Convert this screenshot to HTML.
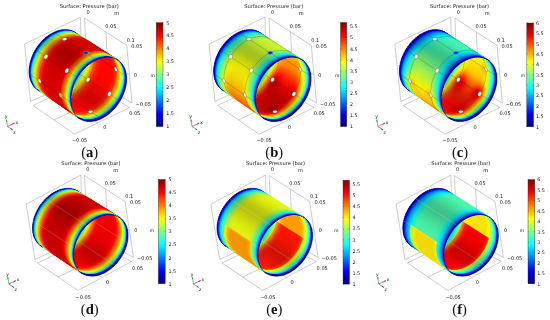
<!DOCTYPE html>
<html><head><meta charset="utf-8"><title>Pressure</title>
<style>html,body{margin:0;padding:0;background:#fff;overflow:hidden}svg{display:block;filter:blur(0.3px)}</style></head>
<body><svg width="550" height="320" viewBox="0 0 550 320">
<rect width="550" height="320" fill="#fff"/>
<defs><clipPath id="c1"><path d="M126.7 78.9L126.6 76.3L126.3 73.8L125.7 71.4L125 69.1L124.1 67L122.9 65L121.6 63.3L120.1 61.7L118.5 60.3L116.7 59.2L114.8 58.3L112.7 57.6L110.5 57.2L108.3 57L105.9 57.1L103.6 57.4L101.1 57.9L98.7 58.7L96.3 59.7L93.8 61L91.5 62.4L89.1 64.1L86.9 65.9L84.7 68L82.6 70.2L80.7 72.5L78.9 75L77.3 77.6L75.8 80.2L74.5 83L73.3 85.7L72.4 88.6L71.7 91.4L71.1 94.2L70.8 96.9L70.7 99.7L70.8 102.3L71.1 104.8L71.7 107.2L72.4 109.5L73.3 111.6L74.5 113.6L75.8 115.3L77.3 116.9L78.9 118.3L80.7 119.4L82.6 120.3L84.7 121L86.9 121.4L89.1 121.6L91.5 121.5L93.8 121.2L96.3 120.7L98.7 119.9L101.1 118.9L103.6 117.6L105.9 116.2L108.3 114.5L110.5 112.6L112.7 110.6L114.8 108.4L116.7 106.1L118.5 103.6L120.1 101L121.6 98.4L122.9 95.6L124.1 92.8L125 90L125.7 87.2L126.3 84.4L126.6 81.6Z"/></clipPath><linearGradient id="g2" gradientUnits="userSpaceOnUse" x1="37.9" y1="89.9" x2="80.2" y2="117.4"><stop offset="0" stop-color="#000085"/><stop offset="0.02" stop-color="#0000fb"/><stop offset="0.06" stop-color="#00fcff"/><stop offset="0.08" stop-color="#45ffba"/><stop offset="0.1" stop-color="#84ff7b"/><stop offset="0.14" stop-color="#ebff14"/><stop offset="0.16" stop-color="#ffee00"/><stop offset="0.2" stop-color="#ffa500"/><stop offset="0.3" stop-color="#ff2500"/><stop offset="0.4" stop-color="#ff0500"/><stop offset="0.67" stop-color="#ff0500"/><stop offset="0.74" stop-color="#ff2200"/><stop offset="0.82" stop-color="#ff9700"/><stop offset="0.86" stop-color="#ffe900"/><stop offset="0.88" stop-color="#eaff15"/><stop offset="0.92" stop-color="#71ff8e"/><stop offset="0.94" stop-color="#20ffdf"/><stop offset="0.96" stop-color="#00aaff"/><stop offset="0.98" stop-color="#0010ff"/><stop offset="1" stop-color="#000085"/></linearGradient><linearGradient id="g3" href="#g2" x1="39.3" y1="90.7" x2="36.9" y2="95.5"/><linearGradient id="g4" href="#g2" x1="40.8" y1="91.4" x2="37.1" y2="101"/><linearGradient id="g5" href="#g2" x1="42.4" y1="92" x2="38.4" y2="106.4"/><linearGradient id="g6" href="#g2" x1="44.1" y1="92.3" x2="40.6" y2="111.5"/><linearGradient id="g7" href="#g2" x1="45.8" y1="92.6" x2="43.7" y2="116.1"/><linearGradient id="g8" href="#g2" x1="47.6" y1="92.6" x2="47.6" y2="120"/><linearGradient id="g9" href="#g2" x1="49.4" y1="92.6" x2="51.9" y2="123.2"/><linearGradient id="g10" href="#g2" x1="51.3" y1="92.4" x2="56.7" y2="125.7"/><linearGradient id="g11" href="#g2" x1="53.2" y1="92" x2="61.6" y2="127.5"/><linearGradient id="g12" href="#g2" x1="55" y1="91.4" x2="66.8" y2="128.5"/><linearGradient id="g13" href="#g2" x1="56.9" y1="90.8" x2="71.9" y2="128.9"/><linearGradient id="g14" href="#g2" x1="58.8" y1="90" x2="77" y2="128.7"/><linearGradient id="g15" href="#g2" x1="60.7" y1="89" x2="82" y2="127.9"/><linearGradient id="g16" href="#g2" x1="62.6" y1="87.9" x2="86.8" y2="126.7"/><linearGradient id="g17" href="#g2" x1="64.4" y1="86.7" x2="91.4" y2="124.9"/><linearGradient id="g18" href="#g2" x1="66.2" y1="85.4" x2="95.9" y2="122.8"/><linearGradient id="g19" href="#g2" x1="68" y1="83.9" x2="100.1" y2="120.3"/><linearGradient id="g20" href="#g2" x1="69.7" y1="82.3" x2="104" y2="117.5"/><linearGradient id="g21" href="#g2" x1="71.3" y1="80.7" x2="107.8" y2="114.4"/><linearGradient id="g22" href="#g2" x1="72.8" y1="78.9" x2="111.2" y2="111"/><linearGradient id="g23" href="#g2" x1="74.3" y1="77" x2="114.4" y2="107.4"/><linearGradient id="g24" href="#g2" x1="75.7" y1="75.1" x2="117.3" y2="103.5"/><linearGradient id="g25" href="#g2" x1="77" y1="73.1" x2="119.9" y2="99.5"/><linearGradient id="g26" href="#g2" x1="78.2" y1="71" x2="122.3" y2="95.3"/><linearGradient id="g27" href="#g2" x1="79.3" y1="68.9" x2="124.3" y2="90.9"/><linearGradient id="g28" href="#g2" x1="80.3" y1="66.8" x2="125.9" y2="86.3"/><linearGradient id="g29" href="#g2" x1="81.1" y1="64.6" x2="127.3" y2="81.7"/><linearGradient id="g30" href="#g2" x1="81.9" y1="62.4" x2="128.2" y2="76.9"/><linearGradient id="g31" href="#g2" x1="82.5" y1="60.3" x2="128.8" y2="72"/><linearGradient id="g32" href="#g2" x1="83" y1="58.1" x2="128.9" y2="67.1"/><linearGradient id="g33" href="#g2" x1="83.4" y1="55.9" x2="128.6" y2="62.2"/><linearGradient id="g34" href="#g2" x1="83.6" y1="53.7" x2="127.8" y2="57.3"/><linearGradient id="g35" href="#g2" x1="83.7" y1="51.6" x2="126.5" y2="52.4"/><linearGradient id="g36" href="#g2" x1="83.7" y1="49.6" x2="124.6" y2="47.7"/><linearGradient id="g37" href="#g2" x1="83.5" y1="47.6" x2="122.2" y2="43.1"/><linearGradient id="g38" href="#g2" x1="83.2" y1="45.6" x2="119.1" y2="38.9"/><linearGradient id="g39" href="#g2" x1="82.8" y1="43.8" x2="115.5" y2="35.1"/><linearGradient id="g40" href="#g2" x1="82.2" y1="42" x2="111.3" y2="31.7"/><linearGradient id="g41" href="#g2" x1="81.6" y1="40.3" x2="106.5" y2="29.1"/><linearGradient id="g42" href="#g2" x1="80.8" y1="38.7" x2="101.4" y2="27.2"/><linearGradient id="g43" href="#g2" x1="79.9" y1="37.2" x2="95.9" y2="26.2"/><linearGradient id="g44" href="#g2" x1="78.8" y1="35.8" x2="90.4" y2="26.2"/><linearGradient id="g45" href="#g2" x1="77.7" y1="34.6" x2="84.9" y2="27.3"/><linearGradient id="g46" href="#g2" x1="76.5" y1="33.5" x2="79.8" y2="29.3"/><linearGradient id="g47" href="#g2" x1="75.1" y1="32.5" x2="117.4" y2="59.9"/><linearGradient id="g48" gradientUnits="userSpaceOnUse" x1="96.6" y1="46.1" x2="58.5" y2="105"><stop offset="0" stop-color="#000" stop-opacity="0"/><stop offset="0.042" stop-color="#000" stop-opacity="0"/><stop offset="0.083" stop-color="#000" stop-opacity="0"/><stop offset="0.125" stop-color="#000" stop-opacity="0"/><stop offset="0.167" stop-color="#000" stop-opacity="0"/><stop offset="0.208" stop-color="#000" stop-opacity="0.001"/><stop offset="0.25" stop-color="#000" stop-opacity="0.002"/><stop offset="0.292" stop-color="#000" stop-opacity="0.007"/><stop offset="0.333" stop-color="#000" stop-opacity="0.013"/><stop offset="0.375" stop-color="#000" stop-opacity="0.023"/><stop offset="0.417" stop-color="#000" stop-opacity="0.044"/><stop offset="0.458" stop-color="#000" stop-opacity="0.067"/><stop offset="0.5" stop-color="#000" stop-opacity="0.095"/><stop offset="0.542" stop-color="#000" stop-opacity="0.125"/><stop offset="0.583" stop-color="#000" stop-opacity="0.154"/><stop offset="0.625" stop-color="#000" stop-opacity="0.182"/><stop offset="0.667" stop-color="#000" stop-opacity="0.19"/><stop offset="0.708" stop-color="#000" stop-opacity="0.185"/><stop offset="0.75" stop-color="#000" stop-opacity="0.16"/><stop offset="0.792" stop-color="#000" stop-opacity="0.122"/><stop offset="0.833" stop-color="#000" stop-opacity="0.082"/><stop offset="0.875" stop-color="#000" stop-opacity="0.048"/><stop offset="0.917" stop-color="#000" stop-opacity="0.014"/><stop offset="0.958" stop-color="#000" stop-opacity="0"/><stop offset="1" stop-color="#000" stop-opacity="0"/></linearGradient><linearGradient id="g49" gradientUnits="userSpaceOnUse" x1="74.7" y1="32.3" x2="117" y2="59.7"><stop offset="0" stop-color="#000085"/><stop offset="0.02" stop-color="#0001ff"/><stop offset="0.04" stop-color="#0087ff"/><stop offset="0.06" stop-color="#0cfff3"/><stop offset="0.1" stop-color="#99ff66"/><stop offset="0.14" stop-color="#fffa00"/><stop offset="0.2" stop-color="#ff8800"/><stop offset="0.22" stop-color="#ff6b00"/><stop offset="0.3" stop-color="#ff0300"/><stop offset="0.33" stop-color="#f40000"/><stop offset="0.4" stop-color="#e00000"/><stop offset="0.67" stop-color="#e00000"/><stop offset="0.74" stop-color="#ff0000"/><stop offset="0.82" stop-color="#ff7900"/><stop offset="0.88" stop-color="#fffb00"/><stop offset="0.92" stop-color="#85ff7a"/><stop offset="0.94" stop-color="#31ffce"/><stop offset="0.96" stop-color="#00b6ff"/><stop offset="0.98" stop-color="#0016ff"/><stop offset="1" stop-color="#000085"/></linearGradient><linearGradient id="g50" href="#g49" x1="73.3" y1="31.5" x2="70.6" y2="36.9"/><linearGradient id="g51" href="#g49" x1="71.8" y1="30.8" x2="67.9" y2="41"/><linearGradient id="g52" href="#g49" x1="70.2" y1="30.3" x2="66.1" y2="45.3"/><linearGradient id="g53" href="#g49" x1="68.5" y1="29.9" x2="65.2" y2="49.6"/><linearGradient id="g54" href="#g49" x1="66.8" y1="29.7" x2="64.9" y2="53.7"/><linearGradient id="g55" href="#g49" x1="65" y1="29.7" x2="65.2" y2="57.4"/><linearGradient id="g56" href="#g49" x1="63.2" y1="29.7" x2="66" y2="60.7"/><linearGradient id="g57" href="#g49" x1="61.4" y1="30" x2="67" y2="63.6"/><linearGradient id="g58" href="#g49" x1="59.5" y1="30.4" x2="68.2" y2="66"/><linearGradient id="g59" gradientUnits="userSpaceOnUse" x1="57.6" y1="30.9" x2="69.6" y2="68.1"><stop offset="0" stop-color="#000085"/><stop offset="0.02" stop-color="#0001ff"/><stop offset="0.04" stop-color="#0087ff"/><stop offset="0.06" stop-color="#0cfff3"/><stop offset="0.1" stop-color="#99ff66"/><stop offset="0.14" stop-color="#fffa00"/><stop offset="0.2" stop-color="#ff8800"/><stop offset="0.22" stop-color="#ff6b00"/><stop offset="0.3" stop-color="#ff0300"/><stop offset="0.33" stop-color="#f40000"/><stop offset="0.4" stop-color="#e00000"/><stop offset="0.67" stop-color="#e00000"/><stop offset="0.74" stop-color="#ff0800"/><stop offset="0.82" stop-color="#ff7900"/><stop offset="0.88" stop-color="#fffb00"/><stop offset="0.92" stop-color="#85ff7a"/><stop offset="0.94" stop-color="#31ffce"/><stop offset="0.96" stop-color="#00b6ff"/><stop offset="0.98" stop-color="#0016ff"/><stop offset="1" stop-color="#000085"/></linearGradient><linearGradient id="g60" gradientUnits="userSpaceOnUse" x1="55.7" y1="31.6" x2="70.9" y2="69.8"><stop offset="0" stop-color="#000085"/><stop offset="0.02" stop-color="#0001ff"/><stop offset="0.04" stop-color="#0087ff"/><stop offset="0.06" stop-color="#0cfff3"/><stop offset="0.1" stop-color="#99ff66"/><stop offset="0.14" stop-color="#fffa00"/><stop offset="0.2" stop-color="#ff8800"/><stop offset="0.22" stop-color="#ff6b00"/><stop offset="0.3" stop-color="#ff0300"/><stop offset="0.33" stop-color="#f40000"/><stop offset="0.4" stop-color="#e00000"/><stop offset="0.67" stop-color="#e10000"/><stop offset="0.7" stop-color="#ff0000"/><stop offset="0.72" stop-color="#ff3900"/><stop offset="0.74" stop-color="#ff8000"/><stop offset="0.76" stop-color="#ff9e00"/><stop offset="0.78" stop-color="#ff7f00"/><stop offset="0.8" stop-color="#ff6d00"/><stop offset="0.82" stop-color="#ff7c00"/><stop offset="0.88" stop-color="#fffb00"/><stop offset="0.92" stop-color="#85ff7a"/><stop offset="0.94" stop-color="#31ffce"/><stop offset="0.96" stop-color="#00b6ff"/><stop offset="0.98" stop-color="#0016ff"/><stop offset="1" stop-color="#000085"/></linearGradient><linearGradient id="g61" gradientUnits="userSpaceOnUse" x1="53.8" y1="32.4" x2="72.2" y2="71.2"><stop offset="0" stop-color="#000085"/><stop offset="0.02" stop-color="#0001ff"/><stop offset="0.04" stop-color="#0087ff"/><stop offset="0.06" stop-color="#0cfff3"/><stop offset="0.1" stop-color="#99ff66"/><stop offset="0.14" stop-color="#fffa00"/><stop offset="0.2" stop-color="#ff8800"/><stop offset="0.22" stop-color="#ff6b00"/><stop offset="0.3" stop-color="#ff0300"/><stop offset="0.33" stop-color="#f40000"/><stop offset="0.4" stop-color="#e00000"/><stop offset="0.67" stop-color="#e20000"/><stop offset="0.7" stop-color="#ff1500"/><stop offset="0.72" stop-color="#ff8800"/><stop offset="0.74" stop-color="#e7ff18"/><stop offset="0.76" stop-color="#c8ff37"/><stop offset="0.78" stop-color="#ffce00"/><stop offset="0.8" stop-color="#ff8200"/><stop offset="0.82" stop-color="#ff7f00"/><stop offset="0.88" stop-color="#fffb00"/><stop offset="0.92" stop-color="#85ff7a"/><stop offset="0.94" stop-color="#31ffce"/><stop offset="0.96" stop-color="#00b6ff"/><stop offset="0.98" stop-color="#0016ff"/><stop offset="1" stop-color="#000085"/></linearGradient><linearGradient id="g62" gradientUnits="userSpaceOnUse" x1="52" y1="33.4" x2="73.4" y2="72.3"><stop offset="0" stop-color="#000085"/><stop offset="0.02" stop-color="#0001ff"/><stop offset="0.04" stop-color="#0087ff"/><stop offset="0.06" stop-color="#0cfff3"/><stop offset="0.1" stop-color="#99ff66"/><stop offset="0.14" stop-color="#fffa00"/><stop offset="0.2" stop-color="#ff8800"/><stop offset="0.22" stop-color="#ff6b00"/><stop offset="0.3" stop-color="#ff0300"/><stop offset="0.33" stop-color="#f40000"/><stop offset="0.4" stop-color="#e00000"/><stop offset="0.64" stop-color="#e00000"/><stop offset="0.67" stop-color="#e10000"/><stop offset="0.7" stop-color="#f90000"/><stop offset="0.72" stop-color="#ff2400"/><stop offset="0.74" stop-color="#ff5700"/><stop offset="0.76" stop-color="#ff7500"/><stop offset="0.8" stop-color="#ff6700"/><stop offset="0.82" stop-color="#ff7b00"/><stop offset="0.88" stop-color="#fffb00"/><stop offset="0.92" stop-color="#85ff7a"/><stop offset="0.94" stop-color="#31ffce"/><stop offset="0.96" stop-color="#00b6ff"/><stop offset="0.98" stop-color="#0016ff"/><stop offset="1" stop-color="#000085"/></linearGradient><linearGradient id="g63" gradientUnits="userSpaceOnUse" x1="50.1" y1="34.4" x2="74.5" y2="73.2"><stop offset="0" stop-color="#000085"/><stop offset="0.02" stop-color="#0001ff"/><stop offset="0.04" stop-color="#0087ff"/><stop offset="0.06" stop-color="#0cfff3"/><stop offset="0.1" stop-color="#99ff66"/><stop offset="0.14" stop-color="#fffa00"/><stop offset="0.2" stop-color="#ff8800"/><stop offset="0.22" stop-color="#ff6b00"/><stop offset="0.3" stop-color="#ff0300"/><stop offset="0.33" stop-color="#f40000"/><stop offset="0.4" stop-color="#e00000"/><stop offset="0.67" stop-color="#e00000"/><stop offset="0.74" stop-color="#ff0400"/><stop offset="0.82" stop-color="#ff7900"/><stop offset="0.88" stop-color="#fffb00"/><stop offset="0.92" stop-color="#85ff7a"/><stop offset="0.94" stop-color="#31ffce"/><stop offset="0.96" stop-color="#00b6ff"/><stop offset="0.98" stop-color="#0016ff"/><stop offset="1" stop-color="#000085"/></linearGradient><linearGradient id="g64" href="#g49" x1="48.3" y1="35.7" x2="75.4" y2="73.9"/><linearGradient id="g65" href="#g49" x1="46.5" y1="37" x2="76.3" y2="74.4"/><linearGradient id="g66" href="#g49" x1="44.8" y1="38.5" x2="77" y2="74.8"/><linearGradient id="g67" href="#g49" x1="43.1" y1="40" x2="77.5" y2="75.2"/><linearGradient id="g68" href="#g49" x1="41.5" y1="41.7" x2="78" y2="75.4"/><linearGradient id="g69" href="#g49" x1="39.9" y1="43.4" x2="78.3" y2="75.5"/><linearGradient id="g70" href="#g49" x1="38.5" y1="45.3" x2="78.6" y2="75.6"/><linearGradient id="g71" href="#g49" x1="37.1" y1="47.2" x2="78.7" y2="75.6"/><linearGradient id="g72" href="#g49" x1="35.8" y1="49.2" x2="78.7" y2="75.6"/><linearGradient id="g73" href="#g49" x1="34.6" y1="51.2" x2="78.7" y2="75.5"/><linearGradient id="g74" href="#g49" x1="33.5" y1="53.3" x2="78.5" y2="75.3"/><linearGradient id="g75" href="#g49" x1="32.6" y1="55.5" x2="78.2" y2="75"/><linearGradient id="g76" href="#g49" x1="31.7" y1="57.6" x2="77.8" y2="74.7"/><linearGradient id="g77" href="#g49" x1="30.9" y1="59.8" x2="77.3" y2="74.3"/><linearGradient id="g78" href="#g49" x1="30.3" y1="62" x2="76.6" y2="73.9"/><linearGradient id="g79" href="#g49" x1="29.8" y1="64.1" x2="75.8" y2="73.3"/><linearGradient id="g80" href="#g49" x1="29.5" y1="66.3" x2="74.7" y2="72.7"/><linearGradient id="g81" href="#g49" x1="29.2" y1="68.4" x2="73.5" y2="72.1"/><linearGradient id="g82" gradientUnits="userSpaceOnUse" x1="29.1" y1="70.5" x2="72" y2="71.5"><stop offset="0" stop-color="#000085"/><stop offset="0.02" stop-color="#0001ff"/><stop offset="0.04" stop-color="#0087ff"/><stop offset="0.06" stop-color="#0cfff3"/><stop offset="0.1" stop-color="#99ff66"/><stop offset="0.14" stop-color="#fffa00"/><stop offset="0.2" stop-color="#ff8800"/><stop offset="0.22" stop-color="#ff6b00"/><stop offset="0.3" stop-color="#ff0300"/><stop offset="0.33" stop-color="#f40000"/><stop offset="0.4" stop-color="#e00000"/><stop offset="0.67" stop-color="#e10000"/><stop offset="0.72" stop-color="#ff0100"/><stop offset="0.74" stop-color="#ff1200"/><stop offset="0.82" stop-color="#ff7a00"/><stop offset="0.88" stop-color="#fffb00"/><stop offset="0.92" stop-color="#85ff7a"/><stop offset="0.94" stop-color="#31ffce"/><stop offset="0.96" stop-color="#00b6ff"/><stop offset="0.98" stop-color="#0016ff"/><stop offset="1" stop-color="#000085"/></linearGradient><linearGradient id="g83" gradientUnits="userSpaceOnUse" x1="29.1" y1="72.6" x2="70.2" y2="70.9"><stop offset="0" stop-color="#000085"/><stop offset="0.02" stop-color="#0001ff"/><stop offset="0.04" stop-color="#0087ff"/><stop offset="0.06" stop-color="#0cfff3"/><stop offset="0.1" stop-color="#99ff66"/><stop offset="0.14" stop-color="#fffa00"/><stop offset="0.2" stop-color="#ff8800"/><stop offset="0.22" stop-color="#ff6b00"/><stop offset="0.3" stop-color="#ff0300"/><stop offset="0.33" stop-color="#f40000"/><stop offset="0.4" stop-color="#e00000"/><stop offset="0.64" stop-color="#e00000"/><stop offset="0.67" stop-color="#e10000"/><stop offset="0.7" stop-color="#ff0500"/><stop offset="0.72" stop-color="#ff4c00"/><stop offset="0.74" stop-color="#ffa300"/><stop offset="0.76" stop-color="#ffc100"/><stop offset="0.78" stop-color="#ff9100"/><stop offset="0.8" stop-color="#ff7200"/><stop offset="0.82" stop-color="#ff7c00"/><stop offset="0.88" stop-color="#fffb00"/><stop offset="0.92" stop-color="#85ff7a"/><stop offset="0.94" stop-color="#31ffce"/><stop offset="0.96" stop-color="#00b6ff"/><stop offset="0.98" stop-color="#0016ff"/><stop offset="1" stop-color="#000085"/></linearGradient><linearGradient id="g84" gradientUnits="userSpaceOnUse" x1="29.3" y1="74.6" x2="68.1" y2="70.3"><stop offset="0" stop-color="#000085"/><stop offset="0.02" stop-color="#0001ff"/><stop offset="0.04" stop-color="#0087ff"/><stop offset="0.06" stop-color="#0cfff3"/><stop offset="0.1" stop-color="#99ff66"/><stop offset="0.14" stop-color="#fffa00"/><stop offset="0.2" stop-color="#ff8800"/><stop offset="0.22" stop-color="#ff6b00"/><stop offset="0.3" stop-color="#ff0300"/><stop offset="0.33" stop-color="#f40000"/><stop offset="0.4" stop-color="#e00000"/><stop offset="0.64" stop-color="#e00000"/><stop offset="0.67" stop-color="#e20000"/><stop offset="0.7" stop-color="#ff0b00"/><stop offset="0.72" stop-color="#ff6000"/><stop offset="0.74" stop-color="#ffcb00"/><stop offset="0.76" stop-color="#ffe900"/><stop offset="0.78" stop-color="#ffa600"/><stop offset="0.8" stop-color="#ff7700"/><stop offset="0.82" stop-color="#ff7d00"/><stop offset="0.88" stop-color="#fffb00"/><stop offset="0.92" stop-color="#85ff7a"/><stop offset="0.94" stop-color="#31ffce"/><stop offset="0.96" stop-color="#00b6ff"/><stop offset="0.98" stop-color="#0016ff"/><stop offset="1" stop-color="#000085"/></linearGradient><linearGradient id="g85" gradientUnits="userSpaceOnUse" x1="29.6" y1="76.5" x2="65.7" y2="70"><stop offset="0" stop-color="#000085"/><stop offset="0.02" stop-color="#0001ff"/><stop offset="0.04" stop-color="#0087ff"/><stop offset="0.06" stop-color="#0cfff3"/><stop offset="0.1" stop-color="#99ff66"/><stop offset="0.14" stop-color="#fffa00"/><stop offset="0.2" stop-color="#ff8800"/><stop offset="0.22" stop-color="#ff6b00"/><stop offset="0.3" stop-color="#ff0300"/><stop offset="0.33" stop-color="#f40000"/><stop offset="0.4" stop-color="#e00000"/><stop offset="0.67" stop-color="#e10000"/><stop offset="0.7" stop-color="#f20000"/><stop offset="0.72" stop-color="#ff0a00"/><stop offset="0.76" stop-color="#ff4200"/><stop offset="0.8" stop-color="#ff6000"/><stop offset="0.82" stop-color="#ff7a00"/><stop offset="0.88" stop-color="#fffb00"/><stop offset="0.92" stop-color="#85ff7a"/><stop offset="0.94" stop-color="#31ffce"/><stop offset="0.96" stop-color="#00b6ff"/><stop offset="0.98" stop-color="#0016ff"/><stop offset="1" stop-color="#000085"/></linearGradient><linearGradient id="g86" gradientUnits="userSpaceOnUse" x1="30" y1="78.4" x2="63" y2="69.8"><stop offset="0" stop-color="#000085"/><stop offset="0.02" stop-color="#0001ff"/><stop offset="0.04" stop-color="#0087ff"/><stop offset="0.06" stop-color="#0cfff3"/><stop offset="0.1" stop-color="#99ff66"/><stop offset="0.14" stop-color="#fffa00"/><stop offset="0.2" stop-color="#ff8800"/><stop offset="0.22" stop-color="#ff6b00"/><stop offset="0.3" stop-color="#ff0300"/><stop offset="0.33" stop-color="#f40000"/><stop offset="0.4" stop-color="#e00000"/><stop offset="0.67" stop-color="#e00000"/><stop offset="0.74" stop-color="#ff0100"/><stop offset="0.82" stop-color="#ff7900"/><stop offset="0.88" stop-color="#fffb00"/><stop offset="0.92" stop-color="#85ff7a"/><stop offset="0.94" stop-color="#31ffce"/><stop offset="0.96" stop-color="#00b6ff"/><stop offset="0.98" stop-color="#0016ff"/><stop offset="1" stop-color="#000085"/></linearGradient><linearGradient id="g87" href="#g49" x1="30.5" y1="80.2" x2="59.9" y2="70.1"/><linearGradient id="g88" href="#g49" x1="31.2" y1="81.9" x2="56.6" y2="70.7"/><linearGradient id="g89" href="#g49" x1="31.9" y1="83.4" x2="53" y2="72"/><linearGradient id="g90" href="#g49" x1="32.8" y1="84.9" x2="49.4" y2="73.9"/><linearGradient id="g91" href="#g49" x1="33.8" y1="86.3" x2="45.9" y2="76.5"/><linearGradient id="g92" href="#g49" x1="35" y1="87.6" x2="42.7" y2="79.9"/><linearGradient id="g93" href="#g49" x1="36.2" y1="88.7" x2="40.1" y2="84"/><linearGradient id="g94" href="#g49" x1="37.5" y1="89.7" x2="79.8" y2="117.1"/><linearGradient id="g95" gradientUnits="userSpaceOnUse" x1="96.6" y1="46.1" x2="58.5" y2="105"><stop offset="0" stop-color="#000" stop-opacity="0.041"/><stop offset="0.042" stop-color="#000" stop-opacity="0.043"/><stop offset="0.083" stop-color="#000" stop-opacity="0.064"/><stop offset="0.125" stop-color="#000" stop-opacity="0.098"/><stop offset="0.167" stop-color="#000" stop-opacity="0.132"/><stop offset="0.208" stop-color="#000" stop-opacity="0.172"/><stop offset="0.25" stop-color="#000" stop-opacity="0.21"/><stop offset="0.292" stop-color="#000" stop-opacity="0.235"/><stop offset="0.333" stop-color="#000" stop-opacity="0.24"/><stop offset="0.375" stop-color="#000" stop-opacity="0.232"/><stop offset="0.417" stop-color="#000" stop-opacity="0.204"/><stop offset="0.458" stop-color="#000" stop-opacity="0.175"/><stop offset="0.5" stop-color="#000" stop-opacity="0.145"/><stop offset="0.542" stop-color="#000" stop-opacity="0.117"/><stop offset="0.583" stop-color="#000" stop-opacity="0.094"/><stop offset="0.625" stop-color="#000" stop-opacity="0.073"/><stop offset="0.667" stop-color="#000" stop-opacity="0.063"/><stop offset="0.708" stop-color="#000" stop-opacity="0.057"/><stop offset="0.75" stop-color="#000" stop-opacity="0.052"/><stop offset="0.792" stop-color="#000" stop-opacity="0.051"/><stop offset="0.833" stop-color="#000" stop-opacity="0.05"/><stop offset="0.875" stop-color="#000" stop-opacity="0.05"/><stop offset="0.917" stop-color="#000" stop-opacity="0.05"/><stop offset="0.958" stop-color="#000" stop-opacity="0.05"/><stop offset="1" stop-color="#000" stop-opacity="0.05"/></linearGradient><linearGradient id="g96" x1="0" y1="0" x2="0" y2="1"><stop offset="0" stop-color="#800000"/><stop offset="0.062" stop-color="#bf0000"/><stop offset="0.125" stop-color="#ff0000"/><stop offset="0.188" stop-color="#ff4000"/><stop offset="0.25" stop-color="#ff8000"/><stop offset="0.312" stop-color="#ffbf00"/><stop offset="0.375" stop-color="#ffff00"/><stop offset="0.438" stop-color="#bfff40"/><stop offset="0.5" stop-color="#80ff80"/><stop offset="0.562" stop-color="#40ffbf"/><stop offset="0.625" stop-color="#00ffff"/><stop offset="0.688" stop-color="#00bfff"/><stop offset="0.75" stop-color="#0080ff"/><stop offset="0.812" stop-color="#0040ff"/><stop offset="0.875" stop-color="#0000ff"/><stop offset="0.938" stop-color="#0000c2"/><stop offset="1" stop-color="#000085"/></linearGradient><clipPath id="c97"><path d="M126.7 78.9L126.6 76.3L126.3 73.8L125.7 71.4L125 69.1L124.1 67L122.9 65L121.6 63.3L120.1 61.7L118.5 60.3L116.7 59.2L114.8 58.3L112.7 57.6L110.5 57.2L108.3 57L105.9 57.1L103.6 57.4L101.1 57.9L98.7 58.7L96.3 59.7L93.8 61L91.5 62.4L89.1 64.1L86.9 65.9L84.7 68L82.6 70.2L80.7 72.5L78.9 75L77.3 77.6L75.8 80.2L74.5 83L73.3 85.7L72.4 88.6L71.7 91.4L71.1 94.2L70.8 96.9L70.7 99.7L70.8 102.3L71.1 104.8L71.7 107.2L72.4 109.5L73.3 111.6L74.5 113.6L75.8 115.3L77.3 116.9L78.9 118.3L80.7 119.4L82.6 120.3L84.7 121L86.9 121.4L89.1 121.6L91.5 121.5L93.8 121.2L96.3 120.7L98.7 119.9L101.1 118.9L103.6 117.6L105.9 116.2L108.3 114.5L110.5 112.6L112.7 110.6L114.8 108.4L116.7 106.1L118.5 103.6L120.1 101L121.6 98.4L122.9 95.6L124.1 92.8L125 90L125.7 87.2L126.3 84.4L126.6 81.6Z"/></clipPath><linearGradient id="g98" gradientUnits="userSpaceOnUse" x1="37.7" y1="89.8" x2="80" y2="117.3"><stop offset="0" stop-color="#000085"/><stop offset="0.02" stop-color="#0000f0"/><stop offset="0.04" stop-color="#0066ff"/><stop offset="0.06" stop-color="#00d8ff"/><stop offset="0.08" stop-color="#1bffe4"/><stop offset="0.1" stop-color="#54ffab"/><stop offset="0.14" stop-color="#b1ff4e"/><stop offset="0.18" stop-color="#f4ff0b"/><stop offset="0.2" stop-color="#ffe900"/><stop offset="0.3" stop-color="#ff7500"/><stop offset="0.4" stop-color="#ff5800"/><stop offset="0.67" stop-color="#ff5800"/><stop offset="0.74" stop-color="#ff7200"/><stop offset="0.82" stop-color="#ffdc00"/><stop offset="0.84" stop-color="#feff01"/><stop offset="0.88" stop-color="#b1ff4e"/><stop offset="0.92" stop-color="#43ffbc"/><stop offset="0.94" stop-color="#00f8ff"/><stop offset="0.96" stop-color="#008eff"/><stop offset="0.98" stop-color="#0003ff"/><stop offset="1" stop-color="#000085"/></linearGradient><linearGradient id="g99" gradientUnits="userSpaceOnUse" x1="38.8" y1="90.5" x2="37.1" y2="93.6"><stop offset="0" stop-color="#000085"/><stop offset="0.02" stop-color="#0000fc"/><stop offset="0.06" stop-color="#00ffff"/><stop offset="0.1" stop-color="#88ff77"/><stop offset="0.14" stop-color="#f0ff0f"/><stop offset="0.16" stop-color="#ffe900"/><stop offset="0.2" stop-color="#ff9f00"/><stop offset="0.3" stop-color="#ff1e00"/><stop offset="0.36" stop-color="#ff0500"/><stop offset="0.4" stop-color="#fc0000"/><stop offset="0.67" stop-color="#fc0000"/><stop offset="0.74" stop-color="#ff1b00"/><stop offset="0.82" stop-color="#ff9000"/><stop offset="0.86" stop-color="#ffe400"/><stop offset="0.88" stop-color="#f0ff0f"/><stop offset="0.92" stop-color="#76ff89"/><stop offset="0.94" stop-color="#24ffdb"/><stop offset="0.96" stop-color="#00acff"/><stop offset="0.98" stop-color="#0011ff"/><stop offset="1" stop-color="#000085"/></linearGradient><linearGradient id="g100" gradientUnits="userSpaceOnUse" x1="39.9" y1="91" x2="36.9" y2="97.8"><stop offset="0" stop-color="#000085"/><stop offset="0.02" stop-color="#0000fd"/><stop offset="0.06" stop-color="#03fffc"/><stop offset="0.1" stop-color="#8cff73"/><stop offset="0.14" stop-color="#f4ff0b"/><stop offset="0.16" stop-color="#ffe400"/><stop offset="0.2" stop-color="#ff9a00"/><stop offset="0.3" stop-color="#ff1800"/><stop offset="0.36" stop-color="#fe0000"/><stop offset="0.4" stop-color="#f60000"/><stop offset="0.67" stop-color="#f60000"/><stop offset="0.74" stop-color="#ff1500"/><stop offset="0.82" stop-color="#ff8c00"/><stop offset="0.86" stop-color="#ffdf00"/><stop offset="0.88" stop-color="#f4ff0b"/><stop offset="0.92" stop-color="#79ff86"/><stop offset="0.94" stop-color="#26ffd9"/><stop offset="0.96" stop-color="#00aeff"/><stop offset="0.98" stop-color="#0012ff"/><stop offset="1" stop-color="#000085"/></linearGradient><linearGradient id="g101" gradientUnits="userSpaceOnUse" x1="41.1" y1="91.5" x2="37.3" y2="102"><stop offset="0" stop-color="#000085"/><stop offset="0.02" stop-color="#0000fe"/><stop offset="0.06" stop-color="#05fffa"/><stop offset="0.1" stop-color="#8fff70"/><stop offset="0.14" stop-color="#f8ff07"/><stop offset="0.2" stop-color="#ff9500"/><stop offset="0.3" stop-color="#ff1200"/><stop offset="0.36" stop-color="#f90000"/><stop offset="0.4" stop-color="#f10000"/><stop offset="0.67" stop-color="#f00000"/><stop offset="0.72" stop-color="#ff0700"/><stop offset="0.74" stop-color="#ff0f00"/><stop offset="0.82" stop-color="#ff8700"/><stop offset="0.86" stop-color="#ffdb00"/><stop offset="0.88" stop-color="#f8ff07"/><stop offset="0.92" stop-color="#7cff83"/><stop offset="0.94" stop-color="#29ffd6"/><stop offset="0.96" stop-color="#00b0ff"/><stop offset="0.98" stop-color="#0013ff"/><stop offset="1" stop-color="#000085"/></linearGradient><linearGradient id="g102" gradientUnits="userSpaceOnUse" x1="42.4" y1="91.9" x2="38.3" y2="106.1"><stop offset="0" stop-color="#000085"/><stop offset="0.02" stop-color="#0000ff"/><stop offset="0.06" stop-color="#07fff8"/><stop offset="0.1" stop-color="#93ff6c"/><stop offset="0.14" stop-color="#fdff02"/><stop offset="0.2" stop-color="#ff9100"/><stop offset="0.22" stop-color="#ff7400"/><stop offset="0.3" stop-color="#ff0d00"/><stop offset="0.33" stop-color="#fe0000"/><stop offset="0.4" stop-color="#eb0000"/><stop offset="0.67" stop-color="#ea0000"/><stop offset="0.72" stop-color="#ff0000"/><stop offset="0.74" stop-color="#ff0900"/><stop offset="0.82" stop-color="#ff8100"/><stop offset="0.86" stop-color="#ffd600"/><stop offset="0.88" stop-color="#fcff03"/><stop offset="0.92" stop-color="#80ff7f"/><stop offset="0.94" stop-color="#2cffd3"/><stop offset="0.96" stop-color="#00b2ff"/><stop offset="0.98" stop-color="#0014ff"/><stop offset="1" stop-color="#000085"/></linearGradient><linearGradient id="g103" gradientUnits="userSpaceOnUse" x1="43.6" y1="92.2" x2="39.9" y2="110.1"><stop offset="0" stop-color="#000085"/><stop offset="0.02" stop-color="#0000ff"/><stop offset="0.04" stop-color="#0086ff"/><stop offset="0.06" stop-color="#0afff5"/><stop offset="0.1" stop-color="#96ff69"/><stop offset="0.14" stop-color="#fffd00"/><stop offset="0.2" stop-color="#ff8c00"/><stop offset="0.22" stop-color="#ff6f00"/><stop offset="0.3" stop-color="#ff0700"/><stop offset="0.33" stop-color="#f90000"/><stop offset="0.4" stop-color="#e50000"/><stop offset="0.67" stop-color="#e40000"/><stop offset="0.74" stop-color="#ff0300"/><stop offset="0.82" stop-color="#ff7c00"/><stop offset="0.88" stop-color="#fffe00"/><stop offset="0.92" stop-color="#83ff7c"/><stop offset="0.94" stop-color="#2effd1"/><stop offset="0.96" stop-color="#00b4ff"/><stop offset="0.98" stop-color="#0015ff"/><stop offset="1" stop-color="#000085"/></linearGradient><linearGradient id="g104" gradientUnits="userSpaceOnUse" x1="44.9" y1="92.5" x2="42" y2="113.8"><stop offset="0" stop-color="#000085"/><stop offset="0.02" stop-color="#0001ff"/><stop offset="0.04" stop-color="#0088ff"/><stop offset="0.06" stop-color="#0cfff3"/><stop offset="0.1" stop-color="#99ff66"/><stop offset="0.14" stop-color="#fff900"/><stop offset="0.2" stop-color="#ff8700"/><stop offset="0.22" stop-color="#ff6a00"/><stop offset="0.3" stop-color="#ff0200"/><stop offset="0.33" stop-color="#f30000"/><stop offset="0.4" stop-color="#df0000"/><stop offset="0.67" stop-color="#dd0000"/><stop offset="0.74" stop-color="#fb0000"/><stop offset="0.82" stop-color="#ff7600"/><stop offset="0.88" stop-color="#fff900"/><stop offset="0.92" stop-color="#86ff79"/><stop offset="0.94" stop-color="#31ffce"/><stop offset="0.96" stop-color="#00b6ff"/><stop offset="0.98" stop-color="#0016ff"/><stop offset="1" stop-color="#000085"/></linearGradient><linearGradient id="g105" gradientUnits="userSpaceOnUse" x1="46.3" y1="92.6" x2="44.6" y2="117.1"><stop offset="0" stop-color="#000085"/><stop offset="0.02" stop-color="#0002ff"/><stop offset="0.04" stop-color="#0089ff"/><stop offset="0.06" stop-color="#0ffff0"/><stop offset="0.1" stop-color="#9dff62"/><stop offset="0.14" stop-color="#fff500"/><stop offset="0.2" stop-color="#ff8200"/><stop offset="0.3" stop-color="#fb0000"/><stop offset="0.4" stop-color="#d90000"/><stop offset="0.67" stop-color="#d60000"/><stop offset="0.74" stop-color="#f40000"/><stop offset="0.76" stop-color="#ff1300"/><stop offset="0.82" stop-color="#ff7000"/><stop offset="0.88" stop-color="#fff500"/><stop offset="0.9" stop-color="#cbff34"/><stop offset="0.92" stop-color="#8aff75"/><stop offset="0.94" stop-color="#34ffcb"/><stop offset="0.96" stop-color="#00b8ff"/><stop offset="0.98" stop-color="#0017ff"/><stop offset="1" stop-color="#000085"/></linearGradient><linearGradient id="g106" gradientUnits="userSpaceOnUse" x1="47.6" y1="92.6" x2="47.6" y2="120.1"><stop offset="0" stop-color="#000085"/><stop offset="0.02" stop-color="#0003ff"/><stop offset="0.04" stop-color="#008bff"/><stop offset="0.06" stop-color="#11ffee"/><stop offset="0.1" stop-color="#a0ff5f"/><stop offset="0.12" stop-color="#d8ff27"/><stop offset="0.14" stop-color="#fff100"/><stop offset="0.2" stop-color="#ff7e00"/><stop offset="0.28" stop-color="#ff1100"/><stop offset="0.3" stop-color="#f60000"/><stop offset="0.4" stop-color="#d40000"/><stop offset="0.67" stop-color="#ce0000"/><stop offset="0.74" stop-color="#eb0000"/><stop offset="0.76" stop-color="#ff0b00"/><stop offset="0.82" stop-color="#ff6900"/><stop offset="0.88" stop-color="#fff000"/><stop offset="0.9" stop-color="#cfff30"/><stop offset="0.92" stop-color="#8eff71"/><stop offset="0.94" stop-color="#37ffc8"/><stop offset="0.96" stop-color="#00baff"/><stop offset="0.98" stop-color="#0018ff"/><stop offset="1" stop-color="#000085"/></linearGradient><linearGradient id="g107" gradientUnits="userSpaceOnUse" x1="49" y1="92.6" x2="50.9" y2="122.6"><stop offset="0" stop-color="#000085"/><stop offset="0.02" stop-color="#0003ff"/><stop offset="0.04" stop-color="#008bff"/><stop offset="0.06" stop-color="#12ffed"/><stop offset="0.1" stop-color="#a1ff5e"/><stop offset="0.12" stop-color="#d8ff27"/><stop offset="0.14" stop-color="#fff000"/><stop offset="0.2" stop-color="#ff7c00"/><stop offset="0.28" stop-color="#ff1000"/><stop offset="0.3" stop-color="#f40000"/><stop offset="0.4" stop-color="#d20000"/><stop offset="0.67" stop-color="#c90000"/><stop offset="0.74" stop-color="#e50000"/><stop offset="0.76" stop-color="#ff0500"/><stop offset="0.82" stop-color="#ff6500"/><stop offset="0.88" stop-color="#ffed00"/><stop offset="0.9" stop-color="#d1ff2e"/><stop offset="0.92" stop-color="#8fff70"/><stop offset="0.94" stop-color="#38ffc7"/><stop offset="0.96" stop-color="#00bbff"/><stop offset="0.98" stop-color="#0018ff"/><stop offset="1" stop-color="#000085"/></linearGradient><linearGradient id="g108" gradientUnits="userSpaceOnUse" x1="50.4" y1="92.5" x2="54.5" y2="124.7"><stop offset="0" stop-color="#000085"/><stop offset="0.02" stop-color="#0003ff"/><stop offset="0.04" stop-color="#008bff"/><stop offset="0.06" stop-color="#12ffed"/><stop offset="0.1" stop-color="#a1ff5e"/><stop offset="0.12" stop-color="#d8ff27"/><stop offset="0.14" stop-color="#fff000"/><stop offset="0.2" stop-color="#ff7c00"/><stop offset="0.28" stop-color="#ff1000"/><stop offset="0.3" stop-color="#f40000"/><stop offset="0.4" stop-color="#d20000"/><stop offset="0.67" stop-color="#c40000"/><stop offset="0.74" stop-color="#df0000"/><stop offset="0.76" stop-color="#fe0000"/><stop offset="0.82" stop-color="#ff6100"/><stop offset="0.88" stop-color="#ffeb00"/><stop offset="0.9" stop-color="#d2ff2d"/><stop offset="0.92" stop-color="#90ff6f"/><stop offset="0.94" stop-color="#39ffc6"/><stop offset="0.96" stop-color="#00bbff"/><stop offset="0.98" stop-color="#0018ff"/><stop offset="1" stop-color="#000085"/></linearGradient><linearGradient id="g109" gradientUnits="userSpaceOnUse" x1="51.9" y1="92.2" x2="58.2" y2="126.4"><stop offset="0" stop-color="#000085"/><stop offset="0.02" stop-color="#0003ff"/><stop offset="0.04" stop-color="#008bff"/><stop offset="0.06" stop-color="#12ffed"/><stop offset="0.1" stop-color="#a1ff5e"/><stop offset="0.12" stop-color="#d8ff27"/><stop offset="0.14" stop-color="#fff000"/><stop offset="0.2" stop-color="#ff7c00"/><stop offset="0.28" stop-color="#ff1000"/><stop offset="0.3" stop-color="#f40000"/><stop offset="0.4" stop-color="#d20000"/><stop offset="0.55" stop-color="#ce0000"/><stop offset="0.67" stop-color="#be0000"/><stop offset="0.74" stop-color="#d80000"/><stop offset="0.76" stop-color="#f70000"/><stop offset="0.82" stop-color="#ff5c00"/><stop offset="0.88" stop-color="#ffe900"/><stop offset="0.9" stop-color="#d4ff2b"/><stop offset="0.92" stop-color="#91ff6e"/><stop offset="0.94" stop-color="#3affc5"/><stop offset="0.96" stop-color="#00bcff"/><stop offset="0.98" stop-color="#0019ff"/><stop offset="1" stop-color="#000085"/></linearGradient><linearGradient id="g110" gradientUnits="userSpaceOnUse" x1="53.3" y1="91.9" x2="62.1" y2="127.6"><stop offset="0" stop-color="#000085"/><stop offset="0.02" stop-color="#0003ff"/><stop offset="0.04" stop-color="#008bff"/><stop offset="0.06" stop-color="#12ffed"/><stop offset="0.1" stop-color="#a1ff5e"/><stop offset="0.12" stop-color="#d8ff27"/><stop offset="0.14" stop-color="#fff000"/><stop offset="0.2" stop-color="#ff7c00"/><stop offset="0.28" stop-color="#ff1000"/><stop offset="0.3" stop-color="#f40000"/><stop offset="0.4" stop-color="#d20000"/><stop offset="0.55" stop-color="#cc0000"/><stop offset="0.67" stop-color="#b80000"/><stop offset="0.74" stop-color="#d00000"/><stop offset="0.76" stop-color="#f00000"/><stop offset="0.78" stop-color="#ff1200"/><stop offset="0.82" stop-color="#ff5600"/><stop offset="0.88" stop-color="#ffe600"/><stop offset="0.9" stop-color="#d6ff29"/><stop offset="0.92" stop-color="#93ff6c"/><stop offset="0.94" stop-color="#3affc5"/><stop offset="0.96" stop-color="#00bcff"/><stop offset="0.98" stop-color="#0019ff"/><stop offset="1" stop-color="#000085"/></linearGradient><linearGradient id="g111" gradientUnits="userSpaceOnUse" x1="54.8" y1="91.5" x2="66" y2="128.4"><stop offset="0" stop-color="#000085"/><stop offset="0.02" stop-color="#0003ff"/><stop offset="0.04" stop-color="#008bff"/><stop offset="0.06" stop-color="#12ffed"/><stop offset="0.1" stop-color="#a1ff5e"/><stop offset="0.12" stop-color="#d8ff27"/><stop offset="0.14" stop-color="#fff000"/><stop offset="0.2" stop-color="#ff7c00"/><stop offset="0.28" stop-color="#ff1000"/><stop offset="0.3" stop-color="#f40000"/><stop offset="0.4" stop-color="#d20000"/><stop offset="0.55" stop-color="#cb0000"/><stop offset="0.67" stop-color="#b20000"/><stop offset="0.74" stop-color="#c80000"/><stop offset="0.76" stop-color="#e80000"/><stop offset="0.78" stop-color="#ff0b00"/><stop offset="0.82" stop-color="#ff5100"/><stop offset="0.88" stop-color="#ffe300"/><stop offset="0.9" stop-color="#d8ff27"/><stop offset="0.92" stop-color="#94ff6b"/><stop offset="0.94" stop-color="#3bffc4"/><stop offset="0.96" stop-color="#00bcff"/><stop offset="0.98" stop-color="#0019ff"/><stop offset="1" stop-color="#000085"/></linearGradient><linearGradient id="g112" gradientUnits="userSpaceOnUse" x1="56.2" y1="91.1" x2="69.9" y2="128.9"><stop offset="0" stop-color="#000085"/><stop offset="0.02" stop-color="#0003ff"/><stop offset="0.04" stop-color="#008bff"/><stop offset="0.06" stop-color="#11ffee"/><stop offset="0.1" stop-color="#a0ff5f"/><stop offset="0.12" stop-color="#d8ff27"/><stop offset="0.14" stop-color="#fff100"/><stop offset="0.2" stop-color="#ff7d00"/><stop offset="0.28" stop-color="#ff1100"/><stop offset="0.3" stop-color="#f50000"/><stop offset="0.4" stop-color="#d30000"/><stop offset="0.55" stop-color="#cb0000"/><stop offset="0.67" stop-color="#ae0000"/><stop offset="0.74" stop-color="#c30000"/><stop offset="0.78" stop-color="#ff0600"/><stop offset="0.82" stop-color="#ff4d00"/><stop offset="0.88" stop-color="#ffe200"/><stop offset="0.9" stop-color="#d9ff26"/><stop offset="0.92" stop-color="#94ff6b"/><stop offset="0.94" stop-color="#3bffc4"/><stop offset="0.96" stop-color="#00bcff"/><stop offset="0.98" stop-color="#0019ff"/><stop offset="1" stop-color="#000085"/></linearGradient><linearGradient id="g113" gradientUnits="userSpaceOnUse" x1="57.7" y1="90.5" x2="73.9" y2="128.9"><stop offset="0" stop-color="#000085"/><stop offset="0.02" stop-color="#0002ff"/><stop offset="0.04" stop-color="#008aff"/><stop offset="0.06" stop-color="#10ffef"/><stop offset="0.1" stop-color="#9fff60"/><stop offset="0.12" stop-color="#d6ff29"/><stop offset="0.14" stop-color="#fff300"/><stop offset="0.2" stop-color="#ff7f00"/><stop offset="0.28" stop-color="#ff1300"/><stop offset="0.3" stop-color="#f80000"/><stop offset="0.4" stop-color="#d60000"/><stop offset="0.55" stop-color="#cd0000"/><stop offset="0.67" stop-color="#ae0000"/><stop offset="0.74" stop-color="#c10000"/><stop offset="0.78" stop-color="#ff0500"/><stop offset="0.82" stop-color="#ff4c00"/><stop offset="0.88" stop-color="#ffe200"/><stop offset="0.9" stop-color="#d8ff27"/><stop offset="0.92" stop-color="#94ff6b"/><stop offset="0.94" stop-color="#3affc5"/><stop offset="0.96" stop-color="#00bcff"/><stop offset="0.98" stop-color="#0018ff"/><stop offset="1" stop-color="#000085"/></linearGradient><linearGradient id="g114" gradientUnits="userSpaceOnUse" x1="59.1" y1="89.8" x2="77.7" y2="128.6"><stop offset="0" stop-color="#000085"/><stop offset="0.02" stop-color="#0002ff"/><stop offset="0.04" stop-color="#008aff"/><stop offset="0.06" stop-color="#0ffff0"/><stop offset="0.1" stop-color="#9dff62"/><stop offset="0.12" stop-color="#d5ff2a"/><stop offset="0.14" stop-color="#fff400"/><stop offset="0.2" stop-color="#ff8100"/><stop offset="0.3" stop-color="#fa0000"/><stop offset="0.4" stop-color="#d80000"/><stop offset="0.55" stop-color="#cf0000"/><stop offset="0.67" stop-color="#af0000"/><stop offset="0.74" stop-color="#c20000"/><stop offset="0.78" stop-color="#ff0600"/><stop offset="0.82" stop-color="#ff4e00"/><stop offset="0.88" stop-color="#ffe400"/><stop offset="0.9" stop-color="#d7ff28"/><stop offset="0.92" stop-color="#92ff6d"/><stop offset="0.94" stop-color="#39ffc6"/><stop offset="0.96" stop-color="#00bbff"/><stop offset="0.98" stop-color="#0018ff"/><stop offset="1" stop-color="#000085"/></linearGradient><linearGradient id="g115" gradientUnits="userSpaceOnUse" x1="60.6" y1="89.1" x2="81.6" y2="128"><stop offset="0" stop-color="#000085"/><stop offset="0.02" stop-color="#0002ff"/><stop offset="0.04" stop-color="#0089ff"/><stop offset="0.06" stop-color="#0ffff0"/><stop offset="0.1" stop-color="#9cff63"/><stop offset="0.14" stop-color="#fff600"/><stop offset="0.2" stop-color="#ff8300"/><stop offset="0.3" stop-color="#fc0000"/><stop offset="0.4" stop-color="#da0000"/><stop offset="0.55" stop-color="#d20000"/><stop offset="0.67" stop-color="#b30000"/><stop offset="0.74" stop-color="#c70000"/><stop offset="0.76" stop-color="#e70000"/><stop offset="0.78" stop-color="#ff0a00"/><stop offset="0.82" stop-color="#ff5100"/><stop offset="0.88" stop-color="#ffe600"/><stop offset="0.9" stop-color="#d5ff2a"/><stop offset="0.92" stop-color="#91ff6e"/><stop offset="0.94" stop-color="#38ffc7"/><stop offset="0.96" stop-color="#00baff"/><stop offset="0.98" stop-color="#0018ff"/><stop offset="1" stop-color="#000085"/></linearGradient><linearGradient id="g116" gradientUnits="userSpaceOnUse" x1="62" y1="88.3" x2="85.3" y2="127.1"><stop offset="0" stop-color="#000085"/><stop offset="0.02" stop-color="#0001ff"/><stop offset="0.04" stop-color="#0088ff"/><stop offset="0.06" stop-color="#0efff1"/><stop offset="0.1" stop-color="#9bff64"/><stop offset="0.14" stop-color="#fff700"/><stop offset="0.2" stop-color="#ff8400"/><stop offset="0.3" stop-color="#fe0000"/><stop offset="0.4" stop-color="#dc0000"/><stop offset="0.55" stop-color="#d50000"/><stop offset="0.67" stop-color="#ba0000"/><stop offset="0.74" stop-color="#cf0000"/><stop offset="0.76" stop-color="#ee0000"/><stop offset="0.78" stop-color="#ff1100"/><stop offset="0.82" stop-color="#ff5700"/><stop offset="0.88" stop-color="#ffe900"/><stop offset="0.9" stop-color="#d2ff2d"/><stop offset="0.92" stop-color="#8fff70"/><stop offset="0.94" stop-color="#37ffc8"/><stop offset="0.96" stop-color="#00b9ff"/><stop offset="0.98" stop-color="#0017ff"/><stop offset="1" stop-color="#000085"/></linearGradient><linearGradient id="g117" gradientUnits="userSpaceOnUse" x1="63.4" y1="87.4" x2="88.9" y2="125.9"><stop offset="0" stop-color="#000085"/><stop offset="0.02" stop-color="#0001ff"/><stop offset="0.04" stop-color="#0088ff"/><stop offset="0.06" stop-color="#0dfff2"/><stop offset="0.1" stop-color="#9aff65"/><stop offset="0.14" stop-color="#fff900"/><stop offset="0.2" stop-color="#ff8600"/><stop offset="0.3" stop-color="#ff0000"/><stop offset="0.4" stop-color="#de0000"/><stop offset="0.55" stop-color="#d80000"/><stop offset="0.67" stop-color="#c20000"/><stop offset="0.74" stop-color="#d80000"/><stop offset="0.76" stop-color="#f70000"/><stop offset="0.82" stop-color="#ff5e00"/><stop offset="0.88" stop-color="#ffed00"/><stop offset="0.9" stop-color="#cfff30"/><stop offset="0.92" stop-color="#8cff73"/><stop offset="0.94" stop-color="#35ffca"/><stop offset="0.96" stop-color="#00b8ff"/><stop offset="0.98" stop-color="#0017ff"/><stop offset="1" stop-color="#000085"/></linearGradient><linearGradient id="g118" gradientUnits="userSpaceOnUse" x1="64.8" y1="86.4" x2="92.4" y2="124.5"><stop offset="0" stop-color="#000085"/><stop offset="0.02" stop-color="#0001ff"/><stop offset="0.04" stop-color="#0087ff"/><stop offset="0.06" stop-color="#0cfff3"/><stop offset="0.1" stop-color="#99ff66"/><stop offset="0.14" stop-color="#fff900"/><stop offset="0.2" stop-color="#ff8600"/><stop offset="0.24" stop-color="#ff4f00"/><stop offset="0.3" stop-color="#ff0100"/><stop offset="0.33" stop-color="#f30000"/><stop offset="0.4" stop-color="#e00000"/><stop offset="0.55" stop-color="#dc0000"/><stop offset="0.67" stop-color="#ca0000"/><stop offset="0.74" stop-color="#e20000"/><stop offset="0.76" stop-color="#ff0200"/><stop offset="0.82" stop-color="#ff6500"/><stop offset="0.88" stop-color="#fff200"/><stop offset="0.9" stop-color="#ccff33"/><stop offset="0.92" stop-color="#8aff75"/><stop offset="0.94" stop-color="#33ffcc"/><stop offset="0.96" stop-color="#00b7ff"/><stop offset="0.98" stop-color="#0016ff"/><stop offset="1" stop-color="#000085"/></linearGradient><linearGradient id="g119" gradientUnits="userSpaceOnUse" x1="66.2" y1="85.4" x2="95.8" y2="122.9"><stop offset="0" stop-color="#000085"/><stop offset="0.02" stop-color="#0001ff"/><stop offset="0.04" stop-color="#0087ff"/><stop offset="0.06" stop-color="#0bfff4"/><stop offset="0.1" stop-color="#98ff67"/><stop offset="0.14" stop-color="#fffa00"/><stop offset="0.2" stop-color="#ff8600"/><stop offset="0.24" stop-color="#ff4e00"/><stop offset="0.3" stop-color="#ff0000"/><stop offset="0.33" stop-color="#f30000"/><stop offset="0.4" stop-color="#e10000"/><stop offset="0.55" stop-color="#e00000"/><stop offset="0.67" stop-color="#d20000"/><stop offset="0.74" stop-color="#eb0000"/><stop offset="0.76" stop-color="#ff0b00"/><stop offset="0.82" stop-color="#ff6c00"/><stop offset="0.88" stop-color="#fff600"/><stop offset="0.92" stop-color="#87ff78"/><stop offset="0.94" stop-color="#31ffce"/><stop offset="0.96" stop-color="#00b6ff"/><stop offset="0.98" stop-color="#0016ff"/><stop offset="1" stop-color="#000085"/></linearGradient><linearGradient id="g120" gradientUnits="userSpaceOnUse" x1="67.5" y1="84.3" x2="99" y2="121"><stop offset="0" stop-color="#000085"/><stop offset="0.02" stop-color="#0000ff"/><stop offset="0.04" stop-color="#0086ff"/><stop offset="0.06" stop-color="#0bfff4"/><stop offset="0.1" stop-color="#98ff67"/><stop offset="0.14" stop-color="#fff900"/><stop offset="0.2" stop-color="#ff8400"/><stop offset="0.3" stop-color="#fd0000"/><stop offset="0.4" stop-color="#e20000"/><stop offset="0.55" stop-color="#e30000"/><stop offset="0.67" stop-color="#d90000"/><stop offset="0.74" stop-color="#f30000"/><stop offset="0.76" stop-color="#ff1300"/><stop offset="0.82" stop-color="#ff7200"/><stop offset="0.88" stop-color="#fff900"/><stop offset="0.92" stop-color="#85ff7a"/><stop offset="0.94" stop-color="#30ffcf"/><stop offset="0.96" stop-color="#00b5ff"/><stop offset="0.98" stop-color="#0015ff"/><stop offset="1" stop-color="#000085"/></linearGradient><linearGradient id="g121" gradientUnits="userSpaceOnUse" x1="68.8" y1="83.1" x2="102.2" y2="118.9"><stop offset="0" stop-color="#000085"/><stop offset="0.02" stop-color="#0000ff"/><stop offset="0.04" stop-color="#0086ff"/><stop offset="0.06" stop-color="#0afff5"/><stop offset="0.1" stop-color="#98ff67"/><stop offset="0.14" stop-color="#fff800"/><stop offset="0.2" stop-color="#ff8100"/><stop offset="0.28" stop-color="#ff1400"/><stop offset="0.3" stop-color="#f90000"/><stop offset="0.4" stop-color="#e10000"/><stop offset="0.55" stop-color="#e60000"/><stop offset="0.67" stop-color="#de0000"/><stop offset="0.74" stop-color="#f80000"/><stop offset="0.82" stop-color="#ff7600"/><stop offset="0.88" stop-color="#fffc00"/><stop offset="0.92" stop-color="#83ff7c"/><stop offset="0.94" stop-color="#2effd1"/><stop offset="0.96" stop-color="#00b4ff"/><stop offset="0.98" stop-color="#0015ff"/><stop offset="1" stop-color="#000085"/></linearGradient><linearGradient id="g122" gradientUnits="userSpaceOnUse" x1="70.1" y1="81.9" x2="105.1" y2="116.7"><stop offset="0" stop-color="#000085"/><stop offset="0.02" stop-color="#0000ff"/><stop offset="0.06" stop-color="#0afff5"/><stop offset="0.1" stop-color="#99ff66"/><stop offset="0.14" stop-color="#fff600"/><stop offset="0.2" stop-color="#ff7c00"/><stop offset="0.22" stop-color="#ff5d00"/><stop offset="0.28" stop-color="#ff0d00"/><stop offset="0.3" stop-color="#f30000"/><stop offset="0.4" stop-color="#e00000"/><stop offset="0.55" stop-color="#e90000"/><stop offset="0.67" stop-color="#e10000"/><stop offset="0.74" stop-color="#fb0000"/><stop offset="0.82" stop-color="#ff7900"/><stop offset="0.88" stop-color="#ffff00"/><stop offset="0.92" stop-color="#81ff7e"/><stop offset="0.94" stop-color="#2cffd3"/><stop offset="0.96" stop-color="#00b3ff"/><stop offset="0.98" stop-color="#0014ff"/><stop offset="1" stop-color="#000085"/></linearGradient><linearGradient id="g123" gradientUnits="userSpaceOnUse" x1="71.4" y1="80.6" x2="107.9" y2="114.2"><stop offset="0" stop-color="#000085"/><stop offset="0.02" stop-color="#0000ff"/><stop offset="0.06" stop-color="#0afff5"/><stop offset="0.1" stop-color="#9aff65"/><stop offset="0.12" stop-color="#d3ff2c"/><stop offset="0.14" stop-color="#fff300"/><stop offset="0.2" stop-color="#ff7400"/><stop offset="0.22" stop-color="#ff5400"/><stop offset="0.28" stop-color="#ff0400"/><stop offset="0.3" stop-color="#eb0000"/><stop offset="0.36" stop-color="#de0000"/><stop offset="0.5" stop-color="#eb0000"/><stop offset="0.67" stop-color="#e20000"/><stop offset="0.74" stop-color="#fb0000"/><stop offset="0.82" stop-color="#ff7a00"/><stop offset="0.86" stop-color="#ffd300"/><stop offset="0.88" stop-color="#feff01"/><stop offset="0.92" stop-color="#80ff7f"/><stop offset="0.94" stop-color="#2bffd4"/><stop offset="0.96" stop-color="#00b2ff"/><stop offset="0.98" stop-color="#0014ff"/><stop offset="1" stop-color="#000085"/></linearGradient><linearGradient id="g124" gradientUnits="userSpaceOnUse" x1="72.6" y1="79.2" x2="110.6" y2="111.6"><stop offset="0" stop-color="#000085"/><stop offset="0.02" stop-color="#0000fe"/><stop offset="0.06" stop-color="#0afff5"/><stop offset="0.1" stop-color="#9bff64"/><stop offset="0.12" stop-color="#d6ff29"/><stop offset="0.14" stop-color="#ffee00"/><stop offset="0.2" stop-color="#ff6b00"/><stop offset="0.26" stop-color="#ff1200"/><stop offset="0.28" stop-color="#f70000"/><stop offset="0.3" stop-color="#e00000"/><stop offset="0.36" stop-color="#d80000"/><stop offset="0.5" stop-color="#ed0000"/><stop offset="0.67" stop-color="#e10000"/><stop offset="0.74" stop-color="#f80000"/><stop offset="0.76" stop-color="#ff1800"/><stop offset="0.82" stop-color="#ff7800"/><stop offset="0.86" stop-color="#ffd300"/><stop offset="0.88" stop-color="#fdff02"/><stop offset="0.92" stop-color="#7eff81"/><stop offset="0.94" stop-color="#2affd5"/><stop offset="0.96" stop-color="#00b1ff"/><stop offset="0.98" stop-color="#0013ff"/><stop offset="1" stop-color="#000085"/></linearGradient><linearGradient id="g125" gradientUnits="userSpaceOnUse" x1="73.7" y1="77.8" x2="113.1" y2="108.9"><stop offset="0" stop-color="#000085"/><stop offset="0.02" stop-color="#0000fe"/><stop offset="0.06" stop-color="#0afff5"/><stop offset="0.1" stop-color="#9dff62"/><stop offset="0.12" stop-color="#d9ff26"/><stop offset="0.14" stop-color="#ffea00"/><stop offset="0.2" stop-color="#ff6100"/><stop offset="0.22" stop-color="#ff3f00"/><stop offset="0.26" stop-color="#ff0600"/><stop offset="0.28" stop-color="#eb0000"/><stop offset="0.3" stop-color="#d40000"/><stop offset="0.36" stop-color="#d10000"/><stop offset="0.5" stop-color="#ef0000"/><stop offset="0.6" stop-color="#ec0000"/><stop offset="0.67" stop-color="#de0000"/><stop offset="0.74" stop-color="#f30000"/><stop offset="0.76" stop-color="#ff1200"/><stop offset="0.82" stop-color="#ff7600"/><stop offset="0.86" stop-color="#ffd200"/><stop offset="0.88" stop-color="#fdff02"/><stop offset="0.92" stop-color="#7dff82"/><stop offset="0.94" stop-color="#29ffd6"/><stop offset="0.96" stop-color="#00b0ff"/><stop offset="0.98" stop-color="#0013ff"/><stop offset="1" stop-color="#000085"/></linearGradient><linearGradient id="g126" gradientUnits="userSpaceOnUse" x1="74.8" y1="76.4" x2="115.5" y2="106.1"><stop offset="0" stop-color="#000085"/><stop offset="0.02" stop-color="#0000fe"/><stop offset="0.06" stop-color="#0afff5"/><stop offset="0.1" stop-color="#9fff60"/><stop offset="0.12" stop-color="#dcff23"/><stop offset="0.14" stop-color="#ffe500"/><stop offset="0.2" stop-color="#ff5900"/><stop offset="0.24" stop-color="#ff1600"/><stop offset="0.26" stop-color="#f90000"/><stop offset="0.3" stop-color="#ca0000"/><stop offset="0.33" stop-color="#c80000"/><stop offset="0.5" stop-color="#f00000"/><stop offset="0.6" stop-color="#ec0000"/><stop offset="0.67" stop-color="#db0000"/><stop offset="0.74" stop-color="#ec0000"/><stop offset="0.76" stop-color="#ff0c00"/><stop offset="0.8" stop-color="#ff4f00"/><stop offset="0.82" stop-color="#ff7200"/><stop offset="0.86" stop-color="#ffd100"/><stop offset="0.88" stop-color="#fdff02"/><stop offset="0.92" stop-color="#7dff82"/><stop offset="0.94" stop-color="#28ffd7"/><stop offset="0.96" stop-color="#00afff"/><stop offset="0.98" stop-color="#0012ff"/><stop offset="1" stop-color="#000085"/></linearGradient><linearGradient id="g127" gradientUnits="userSpaceOnUse" x1="75.9" y1="74.9" x2="117.6" y2="103.1"><stop offset="0" stop-color="#000085"/><stop offset="0.02" stop-color="#0000fe"/><stop offset="0.06" stop-color="#0afff5"/><stop offset="0.1" stop-color="#a0ff5f"/><stop offset="0.12" stop-color="#deff21"/><stop offset="0.14" stop-color="#ffe200"/><stop offset="0.2" stop-color="#ff5200"/><stop offset="0.24" stop-color="#ff0e00"/><stop offset="0.26" stop-color="#f10000"/><stop offset="0.3" stop-color="#c20000"/><stop offset="0.36" stop-color="#c70000"/><stop offset="0.5" stop-color="#f20000"/><stop offset="0.6" stop-color="#ed0000"/><stop offset="0.67" stop-color="#d90000"/><stop offset="0.74" stop-color="#e80000"/><stop offset="0.76" stop-color="#ff0800"/><stop offset="0.78" stop-color="#ff2900"/><stop offset="0.82" stop-color="#ff7000"/><stop offset="0.86" stop-color="#ffd100"/><stop offset="0.88" stop-color="#fdff02"/><stop offset="0.92" stop-color="#7cff83"/><stop offset="0.94" stop-color="#27ffd8"/><stop offset="0.96" stop-color="#00aeff"/><stop offset="0.98" stop-color="#0012ff"/><stop offset="1" stop-color="#000085"/></linearGradient><linearGradient id="g128" gradientUnits="userSpaceOnUse" x1="76.9" y1="73.3" x2="119.7" y2="100"><stop offset="0" stop-color="#000085"/><stop offset="0.02" stop-color="#0000fe"/><stop offset="0.06" stop-color="#09fff6"/><stop offset="0.1" stop-color="#9fff60"/><stop offset="0.12" stop-color="#deff21"/><stop offset="0.14" stop-color="#ffe200"/><stop offset="0.2" stop-color="#ff5000"/><stop offset="0.24" stop-color="#ff0b00"/><stop offset="0.26" stop-color="#ee0000"/><stop offset="0.3" stop-color="#c00000"/><stop offset="0.33" stop-color="#c00000"/><stop offset="0.5" stop-color="#f50000"/><stop offset="0.6" stop-color="#ef0000"/><stop offset="0.67" stop-color="#d90000"/><stop offset="0.74" stop-color="#e60000"/><stop offset="0.76" stop-color="#ff0600"/><stop offset="0.82" stop-color="#ff7000"/><stop offset="0.86" stop-color="#ffd100"/><stop offset="0.88" stop-color="#fcff03"/><stop offset="0.92" stop-color="#7aff85"/><stop offset="0.94" stop-color="#26ffd9"/><stop offset="0.96" stop-color="#00adff"/><stop offset="0.98" stop-color="#0012ff"/><stop offset="1" stop-color="#000085"/></linearGradient><linearGradient id="g129" gradientUnits="userSpaceOnUse" x1="77.8" y1="71.8" x2="121.5" y2="96.8"><stop offset="0" stop-color="#000085"/><stop offset="0.02" stop-color="#0000fd"/><stop offset="0.06" stop-color="#07fff8"/><stop offset="0.1" stop-color="#9cff63"/><stop offset="0.12" stop-color="#daff25"/><stop offset="0.14" stop-color="#ffe600"/><stop offset="0.2" stop-color="#ff5500"/><stop offset="0.24" stop-color="#ff1100"/><stop offset="0.26" stop-color="#f30000"/><stop offset="0.3" stop-color="#c60000"/><stop offset="0.36" stop-color="#cc0000"/><stop offset="0.45" stop-color="#f00000"/><stop offset="0.5" stop-color="#fb0000"/><stop offset="0.6" stop-color="#f50000"/><stop offset="0.67" stop-color="#df0000"/><stop offset="0.74" stop-color="#ec0000"/><stop offset="0.76" stop-color="#ff0c00"/><stop offset="0.8" stop-color="#ff5100"/><stop offset="0.82" stop-color="#ff7500"/><stop offset="0.86" stop-color="#ffd600"/><stop offset="0.88" stop-color="#f8ff07"/><stop offset="0.92" stop-color="#77ff88"/><stop offset="0.94" stop-color="#23ffdc"/><stop offset="0.96" stop-color="#00abff"/><stop offset="0.98" stop-color="#0011ff"/><stop offset="1" stop-color="#000085"/></linearGradient><linearGradient id="g130" gradientUnits="userSpaceOnUse" x1="78.7" y1="70.2" x2="123.1" y2="93.5"><stop offset="0" stop-color="#000085"/><stop offset="0.02" stop-color="#0000fb"/><stop offset="0.06" stop-color="#02fffd"/><stop offset="0.1" stop-color="#95ff6a"/><stop offset="0.12" stop-color="#d2ff2d"/><stop offset="0.14" stop-color="#ffef00"/><stop offset="0.2" stop-color="#ff6100"/><stop offset="0.22" stop-color="#ff3d00"/><stop offset="0.26" stop-color="#ff0300"/><stop offset="0.28" stop-color="#e90000"/><stop offset="0.3" stop-color="#d40000"/><stop offset="0.33" stop-color="#d40000"/><stop offset="0.45" stop-color="#fa0000"/><stop offset="0.55" stop-color="#ff0700"/><stop offset="0.6" stop-color="#ff0100"/><stop offset="0.67" stop-color="#eb0000"/><stop offset="0.74" stop-color="#fa0000"/><stop offset="0.76" stop-color="#ff1900"/><stop offset="0.82" stop-color="#ff7f00"/><stop offset="0.86" stop-color="#ffde00"/><stop offset="0.88" stop-color="#f0ff0f"/><stop offset="0.92" stop-color="#72ff8d"/><stop offset="0.94" stop-color="#1fffe0"/><stop offset="0.96" stop-color="#00a8ff"/><stop offset="0.98" stop-color="#000fff"/><stop offset="1" stop-color="#000085"/></linearGradient><linearGradient id="g131" gradientUnits="userSpaceOnUse" x1="79.5" y1="68.6" x2="124.6" y2="90.1"><stop offset="0" stop-color="#000085"/><stop offset="0.02" stop-color="#0000fa"/><stop offset="0.06" stop-color="#00fcff"/><stop offset="0.08" stop-color="#49ffb6"/><stop offset="0.1" stop-color="#8dff72"/><stop offset="0.14" stop-color="#fffa00"/><stop offset="0.2" stop-color="#ff7200"/><stop offset="0.24" stop-color="#ff3100"/><stop offset="0.28" stop-color="#fd0000"/><stop offset="0.3" stop-color="#e70000"/><stop offset="0.33" stop-color="#e60000"/><stop offset="0.45" stop-color="#ff0700"/><stop offset="0.55" stop-color="#ff1100"/><stop offset="0.7" stop-color="#fe0000"/><stop offset="0.74" stop-color="#ff0b00"/><stop offset="0.82" stop-color="#ff8c00"/><stop offset="0.86" stop-color="#ffe800"/><stop offset="0.88" stop-color="#e8ff17"/><stop offset="0.92" stop-color="#6cff93"/><stop offset="0.94" stop-color="#1affe5"/><stop offset="0.96" stop-color="#00a5ff"/><stop offset="0.98" stop-color="#000eff"/><stop offset="1" stop-color="#000085"/></linearGradient><linearGradient id="g132" gradientUnits="userSpaceOnUse" x1="80.2" y1="66.9" x2="125.9" y2="86.6"><stop offset="0" stop-color="#000085"/><stop offset="0.02" stop-color="#0000f9"/><stop offset="0.06" stop-color="#00f7ff"/><stop offset="0.08" stop-color="#42ffbd"/><stop offset="0.1" stop-color="#85ff7a"/><stop offset="0.14" stop-color="#f7ff08"/><stop offset="0.16" stop-color="#ffdc00"/><stop offset="0.2" stop-color="#ff8400"/><stop offset="0.22" stop-color="#ff6300"/><stop offset="0.3" stop-color="#fe0000"/><stop offset="0.4" stop-color="#ff0400"/><stop offset="0.45" stop-color="#ff1200"/><stop offset="0.55" stop-color="#ff1b00"/><stop offset="0.67" stop-color="#ff0a00"/><stop offset="0.74" stop-color="#ff1e00"/><stop offset="0.82" stop-color="#ff9a00"/><stop offset="0.86" stop-color="#fff200"/><stop offset="0.88" stop-color="#dfff20"/><stop offset="0.92" stop-color="#66ff99"/><stop offset="0.94" stop-color="#15ffea"/><stop offset="0.96" stop-color="#00a2ff"/><stop offset="0.98" stop-color="#000cff"/><stop offset="1" stop-color="#000085"/></linearGradient><linearGradient id="g133" gradientUnits="userSpaceOnUse" x1="80.9" y1="65.2" x2="126.9" y2="83"><stop offset="0" stop-color="#000085"/><stop offset="0.02" stop-color="#0000f7"/><stop offset="0.06" stop-color="#00f2ff"/><stop offset="0.08" stop-color="#3bffc4"/><stop offset="0.1" stop-color="#7cff83"/><stop offset="0.14" stop-color="#eaff15"/><stop offset="0.16" stop-color="#ffeb00"/><stop offset="0.2" stop-color="#ff9800"/><stop offset="0.28" stop-color="#ff2c00"/><stop offset="0.3" stop-color="#ff1600"/><stop offset="0.36" stop-color="#ff0f00"/><stop offset="0.5" stop-color="#ff2400"/><stop offset="0.67" stop-color="#ff1a00"/><stop offset="0.74" stop-color="#ff2f00"/><stop offset="0.82" stop-color="#ffa700"/><stop offset="0.86" stop-color="#fffc00"/><stop offset="0.88" stop-color="#d7ff28"/><stop offset="0.9" stop-color="#9cff63"/><stop offset="0.92" stop-color="#60ff9f"/><stop offset="0.94" stop-color="#11ffee"/><stop offset="0.96" stop-color="#009eff"/><stop offset="0.98" stop-color="#000bff"/><stop offset="1" stop-color="#000085"/></linearGradient><linearGradient id="g134" gradientUnits="userSpaceOnUse" x1="81.5" y1="63.6" x2="127.8" y2="79.4"><stop offset="0" stop-color="#000085"/><stop offset="0.02" stop-color="#0000f6"/><stop offset="0.06" stop-color="#00ecff"/><stop offset="0.08" stop-color="#34ffcb"/><stop offset="0.1" stop-color="#73ff8c"/><stop offset="0.14" stop-color="#ddff22"/><stop offset="0.16" stop-color="#fff900"/><stop offset="0.2" stop-color="#ffab00"/><stop offset="0.22" stop-color="#ff8d00"/><stop offset="0.3" stop-color="#ff2c00"/><stop offset="0.36" stop-color="#ff2100"/><stop offset="0.5" stop-color="#ff2e00"/><stop offset="0.67" stop-color="#ff2800"/><stop offset="0.74" stop-color="#ff4000"/><stop offset="0.82" stop-color="#ffb300"/><stop offset="0.84" stop-color="#ffdb00"/><stop offset="0.86" stop-color="#f9ff06"/><stop offset="0.88" stop-color="#cfff30"/><stop offset="0.92" stop-color="#5affa5"/><stop offset="0.94" stop-color="#0cfff3"/><stop offset="0.96" stop-color="#009bff"/><stop offset="0.98" stop-color="#0009ff"/><stop offset="1" stop-color="#000085"/></linearGradient><linearGradient id="g135" gradientUnits="userSpaceOnUse" x1="82" y1="61.9" x2="128.4" y2="75.7"><stop offset="0" stop-color="#000085"/><stop offset="0.02" stop-color="#0000f4"/><stop offset="0.06" stop-color="#00e7ff"/><stop offset="0.08" stop-color="#2effd1"/><stop offset="0.1" stop-color="#6bff94"/><stop offset="0.14" stop-color="#d2ff2d"/><stop offset="0.16" stop-color="#f7ff08"/><stop offset="0.22" stop-color="#ff9f00"/><stop offset="0.3" stop-color="#ff4000"/><stop offset="0.4" stop-color="#ff3000"/><stop offset="0.5" stop-color="#ff3800"/><stop offset="0.67" stop-color="#ff3500"/><stop offset="0.74" stop-color="#ff4e00"/><stop offset="0.82" stop-color="#ffbf00"/><stop offset="0.84" stop-color="#ffe500"/><stop offset="0.86" stop-color="#f0ff0f"/><stop offset="0.88" stop-color="#c7ff38"/><stop offset="0.92" stop-color="#55ffaa"/><stop offset="0.94" stop-color="#07fff8"/><stop offset="0.96" stop-color="#0098ff"/><stop offset="0.98" stop-color="#0008ff"/><stop offset="1" stop-color="#000085"/></linearGradient><linearGradient id="g136" gradientUnits="userSpaceOnUse" x1="82.5" y1="60.2" x2="128.8" y2="72"><stop offset="0" stop-color="#000085"/><stop offset="0.02" stop-color="#0000f3"/><stop offset="0.04" stop-color="#006cff"/><stop offset="0.06" stop-color="#00e2ff"/><stop offset="0.08" stop-color="#27ffd8"/><stop offset="0.1" stop-color="#63ff9c"/><stop offset="0.14" stop-color="#c6ff39"/><stop offset="0.16" stop-color="#eaff15"/><stop offset="0.18" stop-color="#fff000"/><stop offset="0.22" stop-color="#ffb100"/><stop offset="0.3" stop-color="#ff5300"/><stop offset="0.4" stop-color="#ff3f00"/><stop offset="0.67" stop-color="#ff4300"/><stop offset="0.74" stop-color="#ff5c00"/><stop offset="0.82" stop-color="#ffca00"/><stop offset="0.84" stop-color="#fff000"/><stop offset="0.86" stop-color="#e6ff19"/><stop offset="0.88" stop-color="#beff41"/><stop offset="0.92" stop-color="#4effb1"/><stop offset="0.94" stop-color="#02fffd"/><stop offset="0.96" stop-color="#0094ff"/><stop offset="0.98" stop-color="#0006ff"/><stop offset="1" stop-color="#000085"/></linearGradient><linearGradient id="g137" gradientUnits="userSpaceOnUse" x1="82.9" y1="58.5" x2="128.9" y2="68.2"><stop offset="0" stop-color="#000085"/><stop offset="0.02" stop-color="#0000f1"/><stop offset="0.04" stop-color="#0067ff"/><stop offset="0.06" stop-color="#00dbff"/><stop offset="0.08" stop-color="#1effe1"/><stop offset="0.1" stop-color="#58ffa7"/><stop offset="0.14" stop-color="#b8ff47"/><stop offset="0.18" stop-color="#fdff02"/><stop offset="0.22" stop-color="#ffc400"/><stop offset="0.3" stop-color="#ff6800"/><stop offset="0.4" stop-color="#ff5100"/><stop offset="0.67" stop-color="#ff5300"/><stop offset="0.74" stop-color="#ff6d00"/><stop offset="0.82" stop-color="#ffd800"/><stop offset="0.84" stop-color="#fffd00"/><stop offset="0.88" stop-color="#b3ff4c"/><stop offset="0.92" stop-color="#45ffba"/><stop offset="0.94" stop-color="#00faff"/><stop offset="0.96" stop-color="#008fff"/><stop offset="0.98" stop-color="#0003ff"/><stop offset="1" stop-color="#000085"/></linearGradient><linearGradient id="g138" gradientUnits="userSpaceOnUse" x1="83.2" y1="56.9" x2="128.8" y2="64.4"><stop offset="0" stop-color="#000085"/><stop offset="0.02" stop-color="#0000ef"/><stop offset="0.04" stop-color="#0062ff"/><stop offset="0.06" stop-color="#00d4ff"/><stop offset="0.08" stop-color="#15ffea"/><stop offset="0.1" stop-color="#4effb1"/><stop offset="0.14" stop-color="#abff54"/><stop offset="0.18" stop-color="#eeff11"/><stop offset="0.2" stop-color="#ffef00"/><stop offset="0.3" stop-color="#ff7b00"/><stop offset="0.4" stop-color="#ff6200"/><stop offset="0.67" stop-color="#ff6300"/><stop offset="0.74" stop-color="#ff7d00"/><stop offset="0.82" stop-color="#ffe600"/><stop offset="0.84" stop-color="#f4ff0b"/><stop offset="0.88" stop-color="#a8ff57"/><stop offset="0.92" stop-color="#3cffc3"/><stop offset="0.94" stop-color="#00f3ff"/><stop offset="0.96" stop-color="#008aff"/><stop offset="0.98" stop-color="#0001ff"/><stop offset="1" stop-color="#000085"/></linearGradient><linearGradient id="g139" gradientUnits="userSpaceOnUse" x1="83.4" y1="55.2" x2="128.4" y2="60.6"><stop offset="0" stop-color="#000085"/><stop offset="0.02" stop-color="#0000ec"/><stop offset="0.04" stop-color="#005eff"/><stop offset="0.06" stop-color="#00cdff"/><stop offset="0.08" stop-color="#0dfff2"/><stop offset="0.1" stop-color="#45ffba"/><stop offset="0.14" stop-color="#a0ff5f"/><stop offset="0.2" stop-color="#fffd00"/><stop offset="0.3" stop-color="#ff8d00"/><stop offset="0.4" stop-color="#ff7200"/><stop offset="0.67" stop-color="#ff7300"/><stop offset="0.74" stop-color="#ff8d00"/><stop offset="0.82" stop-color="#fff300"/><stop offset="0.84" stop-color="#e8ff17"/><stop offset="0.88" stop-color="#9eff61"/><stop offset="0.92" stop-color="#34ffcb"/><stop offset="0.94" stop-color="#00ebff"/><stop offset="0.96" stop-color="#0085ff"/><stop offset="0.98" stop-color="#0000fd"/><stop offset="1" stop-color="#000085"/></linearGradient><linearGradient id="g140" gradientUnits="userSpaceOnUse" x1="83.6" y1="53.6" x2="127.7" y2="56.9"><stop offset="0" stop-color="#000085"/><stop offset="0.02" stop-color="#0000ea"/><stop offset="0.04" stop-color="#005aff"/><stop offset="0.06" stop-color="#00c6ff"/><stop offset="0.08" stop-color="#06fff9"/><stop offset="0.1" stop-color="#3cffc3"/><stop offset="0.14" stop-color="#95ff6a"/><stop offset="0.2" stop-color="#f4ff0b"/><stop offset="0.22" stop-color="#fff200"/><stop offset="0.3" stop-color="#ff9c00"/><stop offset="0.4" stop-color="#ff8100"/><stop offset="0.67" stop-color="#ff8200"/><stop offset="0.74" stop-color="#ff9b00"/><stop offset="0.8" stop-color="#ffe600"/><stop offset="0.82" stop-color="#ffff00"/><stop offset="0.84" stop-color="#dcff23"/><stop offset="0.88" stop-color="#93ff6c"/><stop offset="0.92" stop-color="#2cffd3"/><stop offset="0.94" stop-color="#00e5ff"/><stop offset="0.96" stop-color="#0080ff"/><stop offset="0.98" stop-color="#0000fb"/><stop offset="1" stop-color="#000085"/></linearGradient><linearGradient id="g141" gradientUnits="userSpaceOnUse" x1="83.7" y1="52" x2="126.7" y2="53.1"><stop offset="0" stop-color="#000085"/><stop offset="0.02" stop-color="#0000ea"/><stop offset="0.04" stop-color="#0058ff"/><stop offset="0.06" stop-color="#00c5ff"/><stop offset="0.08" stop-color="#03fffc"/><stop offset="0.1" stop-color="#39ffc6"/><stop offset="0.14" stop-color="#91ff6e"/><stop offset="0.2" stop-color="#f0ff0f"/><stop offset="0.22" stop-color="#fff700"/><stop offset="0.3" stop-color="#ffa100"/><stop offset="0.4" stop-color="#ff8600"/><stop offset="0.67" stop-color="#ff8600"/><stop offset="0.74" stop-color="#ff9f00"/><stop offset="0.8" stop-color="#ffea00"/><stop offset="0.82" stop-color="#fbff04"/><stop offset="0.88" stop-color="#90ff6f"/><stop offset="0.92" stop-color="#29ffd6"/><stop offset="0.94" stop-color="#00e3ff"/><stop offset="0.96" stop-color="#007fff"/><stop offset="0.98" stop-color="#0000fa"/><stop offset="1" stop-color="#000085"/></linearGradient><linearGradient id="g142" gradientUnits="userSpaceOnUse" x1="83.7" y1="50.4" x2="125.4" y2="49.5"><stop offset="0" stop-color="#000085"/><stop offset="0.02" stop-color="#0000e9"/><stop offset="0.04" stop-color="#0057ff"/><stop offset="0.06" stop-color="#00c3ff"/><stop offset="0.08" stop-color="#01fffe"/><stop offset="0.1" stop-color="#37ffc8"/><stop offset="0.14" stop-color="#8eff71"/><stop offset="0.2" stop-color="#ecff13"/><stop offset="0.22" stop-color="#fffb00"/><stop offset="0.3" stop-color="#ffa500"/><stop offset="0.4" stop-color="#ff8a00"/><stop offset="0.67" stop-color="#ff8a00"/><stop offset="0.74" stop-color="#ffa300"/><stop offset="0.8" stop-color="#ffee00"/><stop offset="0.82" stop-color="#f8ff07"/><stop offset="0.88" stop-color="#8eff71"/><stop offset="0.92" stop-color="#27ffd8"/><stop offset="0.94" stop-color="#00e1ff"/><stop offset="0.96" stop-color="#007dff"/><stop offset="0.98" stop-color="#0000fa"/><stop offset="1" stop-color="#000085"/></linearGradient><linearGradient id="g143" gradientUnits="userSpaceOnUse" x1="83.6" y1="48.8" x2="123.7" y2="45.9"><stop offset="0" stop-color="#000085"/><stop offset="0.02" stop-color="#0000e9"/><stop offset="0.04" stop-color="#0056ff"/><stop offset="0.06" stop-color="#00c1ff"/><stop offset="0.08" stop-color="#00feff"/><stop offset="0.1" stop-color="#34ffcb"/><stop offset="0.14" stop-color="#8bff74"/><stop offset="0.2" stop-color="#e8ff17"/><stop offset="0.22" stop-color="#fffe00"/><stop offset="0.3" stop-color="#ffa900"/><stop offset="0.4" stop-color="#ff8e00"/><stop offset="0.67" stop-color="#ff8e00"/><stop offset="0.74" stop-color="#ffa700"/><stop offset="0.8" stop-color="#fff100"/><stop offset="0.82" stop-color="#f4ff0b"/><stop offset="0.88" stop-color="#8bff74"/><stop offset="0.92" stop-color="#25ffda"/><stop offset="0.94" stop-color="#00dfff"/><stop offset="0.96" stop-color="#007cff"/><stop offset="0.98" stop-color="#0000f9"/><stop offset="1" stop-color="#000085"/></linearGradient><linearGradient id="g144" gradientUnits="userSpaceOnUse" x1="83.5" y1="47.3" x2="121.7" y2="42.5"><stop offset="0" stop-color="#000085"/><stop offset="0.02" stop-color="#0000e8"/><stop offset="0.04" stop-color="#0055ff"/><stop offset="0.06" stop-color="#00bfff"/><stop offset="0.08" stop-color="#00fcff"/><stop offset="0.1" stop-color="#32ffcd"/><stop offset="0.14" stop-color="#89ff76"/><stop offset="0.22" stop-color="#fcff03"/><stop offset="0.3" stop-color="#ffae00"/><stop offset="0.4" stop-color="#ff9300"/><stop offset="0.67" stop-color="#ff9300"/><stop offset="0.74" stop-color="#ffab00"/><stop offset="0.8" stop-color="#fff500"/><stop offset="0.82" stop-color="#f1ff0e"/><stop offset="0.88" stop-color="#88ff77"/><stop offset="0.92" stop-color="#22ffdd"/><stop offset="0.94" stop-color="#00ddff"/><stop offset="0.96" stop-color="#007aff"/><stop offset="0.98" stop-color="#0000f8"/><stop offset="1" stop-color="#000085"/></linearGradient><linearGradient id="g145" gradientUnits="userSpaceOnUse" x1="83.2" y1="45.8" x2="119.4" y2="39.2"><stop offset="0" stop-color="#000085"/><stop offset="0.02" stop-color="#0000e8"/><stop offset="0.04" stop-color="#0054ff"/><stop offset="0.06" stop-color="#00bdff"/><stop offset="0.08" stop-color="#00faff"/><stop offset="0.1" stop-color="#2fffd0"/><stop offset="0.14" stop-color="#86ff79"/><stop offset="0.2" stop-color="#e1ff1e"/><stop offset="0.22" stop-color="#f9ff06"/><stop offset="0.24" stop-color="#fff100"/><stop offset="0.3" stop-color="#ffb200"/><stop offset="0.36" stop-color="#ff9d00"/><stop offset="0.67" stop-color="#ff9700"/><stop offset="0.74" stop-color="#ffaf00"/><stop offset="0.8" stop-color="#fff800"/><stop offset="0.82" stop-color="#edff12"/><stop offset="0.88" stop-color="#85ff7a"/><stop offset="0.92" stop-color="#20ffdf"/><stop offset="0.94" stop-color="#00dbff"/><stop offset="0.96" stop-color="#0079ff"/><stop offset="0.98" stop-color="#0000f8"/><stop offset="1" stop-color="#000085"/></linearGradient><linearGradient id="g146" gradientUnits="userSpaceOnUse" x1="82.9" y1="44.3" x2="116.7" y2="36.2"><stop offset="0" stop-color="#000085"/><stop offset="0.02" stop-color="#0000e7"/><stop offset="0.04" stop-color="#0053ff"/><stop offset="0.06" stop-color="#00bcff"/><stop offset="0.08" stop-color="#00f8ff"/><stop offset="0.1" stop-color="#2dffd2"/><stop offset="0.14" stop-color="#83ff7c"/><stop offset="0.2" stop-color="#deff21"/><stop offset="0.22" stop-color="#f5ff0a"/><stop offset="0.24" stop-color="#fff400"/><stop offset="0.3" stop-color="#ffb600"/><stop offset="0.36" stop-color="#ffa200"/><stop offset="0.67" stop-color="#ff9b00"/><stop offset="0.74" stop-color="#ffb300"/><stop offset="0.8" stop-color="#fffc00"/><stop offset="0.82" stop-color="#eaff15"/><stop offset="0.88" stop-color="#82ff7d"/><stop offset="0.92" stop-color="#1effe1"/><stop offset="0.94" stop-color="#00d9ff"/><stop offset="0.96" stop-color="#0078ff"/><stop offset="0.98" stop-color="#0000f7"/><stop offset="1" stop-color="#000085"/></linearGradient><linearGradient id="g147" gradientUnits="userSpaceOnUse" x1="82.6" y1="42.9" x2="113.7" y2="33.5"><stop offset="0" stop-color="#000085"/><stop offset="0.02" stop-color="#0000e7"/><stop offset="0.04" stop-color="#0051ff"/><stop offset="0.06" stop-color="#00baff"/><stop offset="0.08" stop-color="#00f5ff"/><stop offset="0.1" stop-color="#2bffd4"/><stop offset="0.14" stop-color="#80ff7f"/><stop offset="0.2" stop-color="#dbff24"/><stop offset="0.24" stop-color="#fff800"/><stop offset="0.3" stop-color="#ffba00"/><stop offset="0.36" stop-color="#ffa600"/><stop offset="0.67" stop-color="#ff9f00"/><stop offset="0.74" stop-color="#ffb700"/><stop offset="0.8" stop-color="#feff01"/><stop offset="0.82" stop-color="#e6ff19"/><stop offset="0.88" stop-color="#7fff80"/><stop offset="0.92" stop-color="#1bffe4"/><stop offset="0.94" stop-color="#00d7ff"/><stop offset="0.96" stop-color="#0076ff"/><stop offset="0.98" stop-color="#0000f6"/><stop offset="1" stop-color="#000085"/></linearGradient><linearGradient id="g148" gradientUnits="userSpaceOnUse" x1="82.1" y1="41.6" x2="110.3" y2="31.1"><stop offset="0" stop-color="#000085"/><stop offset="0.02" stop-color="#0000e6"/><stop offset="0.04" stop-color="#0050ff"/><stop offset="0.06" stop-color="#00b8ff"/><stop offset="0.08" stop-color="#00f3ff"/><stop offset="0.1" stop-color="#28ffd7"/><stop offset="0.14" stop-color="#7dff82"/><stop offset="0.2" stop-color="#d7ff28"/><stop offset="0.24" stop-color="#fffc00"/><stop offset="0.3" stop-color="#ffbe00"/><stop offset="0.4" stop-color="#ffa300"/><stop offset="0.67" stop-color="#ffa300"/><stop offset="0.74" stop-color="#ffbb00"/><stop offset="0.78" stop-color="#ffeb00"/><stop offset="0.8" stop-color="#fbff04"/><stop offset="0.84" stop-color="#c2ff3d"/><stop offset="0.88" stop-color="#7cff83"/><stop offset="0.92" stop-color="#19ffe6"/><stop offset="0.94" stop-color="#00d5ff"/><stop offset="0.96" stop-color="#0075ff"/><stop offset="0.98" stop-color="#0000f6"/><stop offset="1" stop-color="#000085"/></linearGradient><linearGradient id="g149" gradientUnits="userSpaceOnUse" x1="81.6" y1="40.3" x2="106.6" y2="29.1"><stop offset="0" stop-color="#000085"/><stop offset="0.02" stop-color="#0000e5"/><stop offset="0.04" stop-color="#004fff"/><stop offset="0.06" stop-color="#00b6ff"/><stop offset="0.08" stop-color="#00f1ff"/><stop offset="0.1" stop-color="#26ffd9"/><stop offset="0.14" stop-color="#7aff85"/><stop offset="0.2" stop-color="#d4ff2b"/><stop offset="0.24" stop-color="#ffff00"/><stop offset="0.3" stop-color="#ffc200"/><stop offset="0.4" stop-color="#ffa700"/><stop offset="0.67" stop-color="#ffa700"/><stop offset="0.74" stop-color="#ffbf00"/><stop offset="0.78" stop-color="#ffef00"/><stop offset="0.8" stop-color="#f7ff08"/><stop offset="0.84" stop-color="#bfff40"/><stop offset="0.88" stop-color="#79ff86"/><stop offset="0.92" stop-color="#17ffe8"/><stop offset="0.94" stop-color="#00d3ff"/><stop offset="0.96" stop-color="#0073ff"/><stop offset="0.98" stop-color="#0000f5"/><stop offset="1" stop-color="#000085"/></linearGradient><linearGradient id="g150" gradientUnits="userSpaceOnUse" x1="81" y1="39.1" x2="102.7" y2="27.6"><stop offset="0" stop-color="#000085"/><stop offset="0.02" stop-color="#0000e5"/><stop offset="0.04" stop-color="#004eff"/><stop offset="0.06" stop-color="#00b5ff"/><stop offset="0.08" stop-color="#00efff"/><stop offset="0.1" stop-color="#23ffdc"/><stop offset="0.14" stop-color="#77ff88"/><stop offset="0.2" stop-color="#d0ff2f"/><stop offset="0.24" stop-color="#fbff04"/><stop offset="0.3" stop-color="#ffc600"/><stop offset="0.4" stop-color="#ffac00"/><stop offset="0.67" stop-color="#ffac00"/><stop offset="0.74" stop-color="#ffc300"/><stop offset="0.78" stop-color="#fff300"/><stop offset="0.8" stop-color="#f4ff0b"/><stop offset="0.84" stop-color="#bbff44"/><stop offset="0.88" stop-color="#76ff89"/><stop offset="0.92" stop-color="#14ffeb"/><stop offset="0.94" stop-color="#00d1ff"/><stop offset="0.96" stop-color="#0072ff"/><stop offset="0.98" stop-color="#0000f5"/><stop offset="1" stop-color="#000085"/></linearGradient><linearGradient id="g151" gradientUnits="userSpaceOnUse" x1="80.3" y1="37.9" x2="98.6" y2="26.6"><stop offset="0" stop-color="#000085"/><stop offset="0.02" stop-color="#0000e5"/><stop offset="0.04" stop-color="#004dff"/><stop offset="0.06" stop-color="#00b3ff"/><stop offset="0.08" stop-color="#00eeff"/><stop offset="0.1" stop-color="#22ffdd"/><stop offset="0.14" stop-color="#75ff8a"/><stop offset="0.2" stop-color="#ceff31"/><stop offset="0.24" stop-color="#f9ff06"/><stop offset="0.3" stop-color="#ffc800"/><stop offset="0.4" stop-color="#ffae00"/><stop offset="0.67" stop-color="#ffae00"/><stop offset="0.74" stop-color="#ffc600"/><stop offset="0.78" stop-color="#fff500"/><stop offset="0.8" stop-color="#f1ff0e"/><stop offset="0.84" stop-color="#b9ff46"/><stop offset="0.88" stop-color="#74ff8b"/><stop offset="0.92" stop-color="#13ffec"/><stop offset="0.94" stop-color="#00d0ff"/><stop offset="0.96" stop-color="#0071ff"/><stop offset="0.98" stop-color="#0000f4"/><stop offset="1" stop-color="#000085"/></linearGradient><linearGradient id="g152" gradientUnits="userSpaceOnUse" x1="79.6" y1="36.8" x2="94.4" y2="26.1"><stop offset="0" stop-color="#000085"/><stop offset="0.02" stop-color="#0000e4"/><stop offset="0.04" stop-color="#004cff"/><stop offset="0.06" stop-color="#00b2ff"/><stop offset="0.08" stop-color="#00edff"/><stop offset="0.1" stop-color="#21ffde"/><stop offset="0.14" stop-color="#74ff8b"/><stop offset="0.2" stop-color="#ccff33"/><stop offset="0.24" stop-color="#f7ff08"/><stop offset="0.26" stop-color="#fff300"/><stop offset="0.3" stop-color="#ffca00"/><stop offset="0.36" stop-color="#ffb700"/><stop offset="0.67" stop-color="#ffb100"/><stop offset="0.74" stop-color="#ffc800"/><stop offset="0.78" stop-color="#fff700"/><stop offset="0.82" stop-color="#d8ff27"/><stop offset="0.84" stop-color="#b8ff47"/><stop offset="0.88" stop-color="#73ff8c"/><stop offset="0.92" stop-color="#12ffed"/><stop offset="0.94" stop-color="#00cfff"/><stop offset="0.96" stop-color="#0070ff"/><stop offset="0.98" stop-color="#0000f4"/><stop offset="1" stop-color="#000085"/></linearGradient><linearGradient id="g153" gradientUnits="userSpaceOnUse" x1="78.8" y1="35.8" x2="90.1" y2="26.3"><stop offset="0" stop-color="#000085"/><stop offset="0.02" stop-color="#0000e4"/><stop offset="0.04" stop-color="#004cff"/><stop offset="0.06" stop-color="#00b2ff"/><stop offset="0.08" stop-color="#00ecff"/><stop offset="0.1" stop-color="#1fffe0"/><stop offset="0.14" stop-color="#72ff8d"/><stop offset="0.2" stop-color="#cbff34"/><stop offset="0.24" stop-color="#f5ff0a"/><stop offset="0.26" stop-color="#fff500"/><stop offset="0.3" stop-color="#ffcc00"/><stop offset="0.36" stop-color="#ffb900"/><stop offset="0.67" stop-color="#ffb300"/><stop offset="0.74" stop-color="#ffca00"/><stop offset="0.78" stop-color="#fff900"/><stop offset="0.82" stop-color="#d6ff29"/><stop offset="0.84" stop-color="#b6ff49"/><stop offset="0.88" stop-color="#72ff8d"/><stop offset="0.92" stop-color="#11ffee"/><stop offset="0.94" stop-color="#00ceff"/><stop offset="0.96" stop-color="#0070ff"/><stop offset="0.98" stop-color="#0000f3"/><stop offset="1" stop-color="#000085"/></linearGradient><linearGradient id="g154" gradientUnits="userSpaceOnUse" x1="77.9" y1="34.8" x2="85.9" y2="27"><stop offset="0" stop-color="#000085"/><stop offset="0.02" stop-color="#0000e4"/><stop offset="0.04" stop-color="#004bff"/><stop offset="0.06" stop-color="#00b1ff"/><stop offset="0.08" stop-color="#00ebff"/><stop offset="0.1" stop-color="#1effe1"/><stop offset="0.14" stop-color="#71ff8e"/><stop offset="0.2" stop-color="#c9ff36"/><stop offset="0.24" stop-color="#f3ff0c"/><stop offset="0.26" stop-color="#fff700"/><stop offset="0.3" stop-color="#ffce00"/><stop offset="0.36" stop-color="#ffbb00"/><stop offset="0.67" stop-color="#ffb500"/><stop offset="0.74" stop-color="#ffcc00"/><stop offset="0.78" stop-color="#fffb00"/><stop offset="0.82" stop-color="#d4ff2b"/><stop offset="0.88" stop-color="#70ff8f"/><stop offset="0.92" stop-color="#0ffff0"/><stop offset="0.94" stop-color="#00cdff"/><stop offset="0.96" stop-color="#006fff"/><stop offset="0.98" stop-color="#0000f3"/><stop offset="1" stop-color="#000085"/></linearGradient><linearGradient id="g155" gradientUnits="userSpaceOnUse" x1="77" y1="33.9" x2="81.9" y2="28.3"><stop offset="0" stop-color="#000085"/><stop offset="0.02" stop-color="#0000d5"/><stop offset="0.04" stop-color="#002bff"/><stop offset="0.06" stop-color="#0080ff"/><stop offset="0.1" stop-color="#00dcff"/><stop offset="0.12" stop-color="#00ffff"/><stop offset="0.14" stop-color="#22ffdd"/><stop offset="0.2" stop-color="#6cff93"/><stop offset="0.3" stop-color="#c3ff3c"/><stop offset="0.4" stop-color="#d8ff27"/><stop offset="0.67" stop-color="#d8ff27"/><stop offset="0.74" stop-color="#c5ff3a"/><stop offset="0.82" stop-color="#76ff89"/><stop offset="0.88" stop-color="#22ffdd"/><stop offset="0.9" stop-color="#00f9ff"/><stop offset="0.92" stop-color="#00cfff"/><stop offset="0.94" stop-color="#0098ff"/><stop offset="0.96" stop-color="#0049ff"/><stop offset="0.98" stop-color="#0000e2"/><stop offset="1" stop-color="#000085"/></linearGradient><linearGradient id="g156" gradientUnits="userSpaceOnUse" x1="76" y1="33.1" x2="78.2" y2="30.2"><stop offset="0" stop-color="#000085"/><stop offset="0.02" stop-color="#0000d4"/><stop offset="0.04" stop-color="#002bff"/><stop offset="0.06" stop-color="#0080ff"/><stop offset="0.1" stop-color="#00dbff"/><stop offset="0.12" stop-color="#00ffff"/><stop offset="0.14" stop-color="#22ffdd"/><stop offset="0.2" stop-color="#6cff93"/><stop offset="0.3" stop-color="#c2ff3d"/><stop offset="0.4" stop-color="#d7ff28"/><stop offset="0.67" stop-color="#d7ff28"/><stop offset="0.74" stop-color="#c4ff3b"/><stop offset="0.82" stop-color="#75ff8a"/><stop offset="0.88" stop-color="#21ffde"/><stop offset="0.9" stop-color="#00f8ff"/><stop offset="0.92" stop-color="#00cfff"/><stop offset="0.94" stop-color="#0098ff"/><stop offset="0.96" stop-color="#0049ff"/><stop offset="0.98" stop-color="#0000e1"/><stop offset="1" stop-color="#000085"/></linearGradient><linearGradient id="g157" gradientUnits="userSpaceOnUse" x1="75" y1="32.4" x2="117.3" y2="59.8"><stop offset="0" stop-color="#000085"/><stop offset="0.02" stop-color="#0000d4"/><stop offset="0.04" stop-color="#002aff"/><stop offset="0.06" stop-color="#0080ff"/><stop offset="0.08" stop-color="#00b0ff"/><stop offset="0.12" stop-color="#00feff"/><stop offset="0.14" stop-color="#21ffde"/><stop offset="0.2" stop-color="#6bff94"/><stop offset="0.3" stop-color="#c1ff3e"/><stop offset="0.4" stop-color="#d6ff29"/><stop offset="0.67" stop-color="#d6ff29"/><stop offset="0.74" stop-color="#c3ff3c"/><stop offset="0.82" stop-color="#74ff8b"/><stop offset="0.88" stop-color="#20ffdf"/><stop offset="0.9" stop-color="#00f7ff"/><stop offset="0.92" stop-color="#00ceff"/><stop offset="0.94" stop-color="#0097ff"/><stop offset="0.96" stop-color="#0048ff"/><stop offset="0.98" stop-color="#0000e1"/><stop offset="1" stop-color="#000085"/></linearGradient><linearGradient id="g158" gradientUnits="userSpaceOnUse" x1="96.6" y1="46.1" x2="58.5" y2="105"><stop offset="0" stop-color="#000" stop-opacity="0"/><stop offset="0.042" stop-color="#000" stop-opacity="0"/><stop offset="0.083" stop-color="#000" stop-opacity="0"/><stop offset="0.125" stop-color="#000" stop-opacity="0"/><stop offset="0.167" stop-color="#000" stop-opacity="0"/><stop offset="0.208" stop-color="#000" stop-opacity="0.001"/><stop offset="0.25" stop-color="#000" stop-opacity="0.002"/><stop offset="0.292" stop-color="#000" stop-opacity="0.007"/><stop offset="0.333" stop-color="#000" stop-opacity="0.013"/><stop offset="0.375" stop-color="#000" stop-opacity="0.023"/><stop offset="0.417" stop-color="#000" stop-opacity="0.044"/><stop offset="0.458" stop-color="#000" stop-opacity="0.067"/><stop offset="0.5" stop-color="#000" stop-opacity="0.095"/><stop offset="0.542" stop-color="#000" stop-opacity="0.125"/><stop offset="0.583" stop-color="#000" stop-opacity="0.154"/><stop offset="0.625" stop-color="#000" stop-opacity="0.182"/><stop offset="0.667" stop-color="#000" stop-opacity="0.19"/><stop offset="0.708" stop-color="#000" stop-opacity="0.185"/><stop offset="0.75" stop-color="#000" stop-opacity="0.16"/><stop offset="0.792" stop-color="#000" stop-opacity="0.122"/><stop offset="0.833" stop-color="#000" stop-opacity="0.082"/><stop offset="0.875" stop-color="#000" stop-opacity="0.048"/><stop offset="0.917" stop-color="#000" stop-opacity="0.014"/><stop offset="0.958" stop-color="#000" stop-opacity="0"/><stop offset="1" stop-color="#000" stop-opacity="0"/></linearGradient><linearGradient id="g159" gradientUnits="userSpaceOnUse" x1="74.7" y1="32.3" x2="117" y2="59.7"><stop offset="0" stop-color="#000085"/><stop offset="0.02" stop-color="#0000d4"/><stop offset="0.04" stop-color="#002aff"/><stop offset="0.06" stop-color="#007fff"/><stop offset="0.08" stop-color="#00b0ff"/><stop offset="0.12" stop-color="#00feff"/><stop offset="0.14" stop-color="#21ffde"/><stop offset="0.2" stop-color="#6aff95"/><stop offset="0.3" stop-color="#c1ff3e"/><stop offset="0.4" stop-color="#d6ff29"/><stop offset="0.67" stop-color="#d6ff29"/><stop offset="0.74" stop-color="#c2ff3d"/><stop offset="0.82" stop-color="#74ff8b"/><stop offset="0.88" stop-color="#20ffdf"/><stop offset="0.9" stop-color="#00f7ff"/><stop offset="0.92" stop-color="#00ceff"/><stop offset="0.94" stop-color="#0097ff"/><stop offset="0.96" stop-color="#0048ff"/><stop offset="0.98" stop-color="#0000e1"/><stop offset="1" stop-color="#000085"/></linearGradient><linearGradient id="g160" gradientUnits="userSpaceOnUse" x1="73.3" y1="31.5" x2="70.6" y2="36.9"><stop offset="0" stop-color="#000085"/><stop offset="0.02" stop-color="#0000d4"/><stop offset="0.04" stop-color="#002aff"/><stop offset="0.06" stop-color="#007fff"/><stop offset="0.08" stop-color="#00afff"/><stop offset="0.12" stop-color="#00fdff"/><stop offset="0.14" stop-color="#20ffdf"/><stop offset="0.2" stop-color="#69ff96"/><stop offset="0.3" stop-color="#bfff40"/><stop offset="0.4" stop-color="#d5ff2a"/><stop offset="0.67" stop-color="#d5ff2a"/><stop offset="0.74" stop-color="#c1ff3e"/><stop offset="0.82" stop-color="#73ff8c"/><stop offset="0.88" stop-color="#1fffe0"/><stop offset="0.9" stop-color="#00f6ff"/><stop offset="0.92" stop-color="#00cdff"/><stop offset="0.94" stop-color="#0096ff"/><stop offset="0.96" stop-color="#0048ff"/><stop offset="0.98" stop-color="#0000e1"/><stop offset="1" stop-color="#000085"/></linearGradient><linearGradient id="g161" gradientUnits="userSpaceOnUse" x1="71.8" y1="30.8" x2="67.9" y2="41"><stop offset="0" stop-color="#000085"/><stop offset="0.02" stop-color="#0000d4"/><stop offset="0.04" stop-color="#002aff"/><stop offset="0.06" stop-color="#007eff"/><stop offset="0.08" stop-color="#00afff"/><stop offset="0.12" stop-color="#00fcff"/><stop offset="0.14" stop-color="#1fffe0"/><stop offset="0.2" stop-color="#68ff97"/><stop offset="0.3" stop-color="#beff41"/><stop offset="0.4" stop-color="#d3ff2c"/><stop offset="0.67" stop-color="#d3ff2c"/><stop offset="0.74" stop-color="#c0ff3f"/><stop offset="0.82" stop-color="#72ff8d"/><stop offset="0.88" stop-color="#1effe1"/><stop offset="0.9" stop-color="#00f5ff"/><stop offset="0.92" stop-color="#00ccff"/><stop offset="0.94" stop-color="#0096ff"/><stop offset="0.96" stop-color="#0047ff"/><stop offset="0.98" stop-color="#0000e1"/><stop offset="1" stop-color="#000085"/></linearGradient><linearGradient id="g162" gradientUnits="userSpaceOnUse" x1="70.2" y1="30.3" x2="66.1" y2="45.3"><stop offset="0" stop-color="#000085"/><stop offset="0.02" stop-color="#0000d4"/><stop offset="0.04" stop-color="#0029ff"/><stop offset="0.06" stop-color="#007eff"/><stop offset="0.08" stop-color="#00aeff"/><stop offset="0.12" stop-color="#00fbff"/><stop offset="0.14" stop-color="#1effe1"/><stop offset="0.2" stop-color="#67ff98"/><stop offset="0.3" stop-color="#bdff42"/><stop offset="0.4" stop-color="#d2ff2d"/><stop offset="0.67" stop-color="#d2ff2d"/><stop offset="0.74" stop-color="#bfff40"/><stop offset="0.82" stop-color="#71ff8e"/><stop offset="0.88" stop-color="#1dffe2"/><stop offset="0.9" stop-color="#00f5ff"/><stop offset="0.92" stop-color="#00ccff"/><stop offset="0.94" stop-color="#0095ff"/><stop offset="0.96" stop-color="#0047ff"/><stop offset="0.98" stop-color="#0000e1"/><stop offset="1" stop-color="#000085"/></linearGradient><linearGradient id="g163" gradientUnits="userSpaceOnUse" x1="68.5" y1="29.9" x2="65.2" y2="49.6"><stop offset="0" stop-color="#000085"/><stop offset="0.02" stop-color="#0000d4"/><stop offset="0.04" stop-color="#0029ff"/><stop offset="0.06" stop-color="#007dff"/><stop offset="0.08" stop-color="#00adff"/><stop offset="0.12" stop-color="#00faff"/><stop offset="0.14" stop-color="#1dffe2"/><stop offset="0.2" stop-color="#66ff99"/><stop offset="0.3" stop-color="#bbff44"/><stop offset="0.4" stop-color="#d1ff2e"/><stop offset="0.67" stop-color="#d1ff2e"/><stop offset="0.74" stop-color="#bdff42"/><stop offset="0.82" stop-color="#70ff8f"/><stop offset="0.88" stop-color="#1cffe3"/><stop offset="0.9" stop-color="#00f4ff"/><stop offset="0.92" stop-color="#00cbff"/><stop offset="0.94" stop-color="#0095ff"/><stop offset="0.96" stop-color="#0047ff"/><stop offset="0.98" stop-color="#0000e0"/><stop offset="1" stop-color="#000085"/></linearGradient><linearGradient id="g164" gradientUnits="userSpaceOnUse" x1="66.8" y1="29.7" x2="64.9" y2="53.7"><stop offset="0" stop-color="#000085"/><stop offset="0.02" stop-color="#0000d3"/><stop offset="0.04" stop-color="#0028ff"/><stop offset="0.06" stop-color="#007dff"/><stop offset="0.08" stop-color="#00adff"/><stop offset="0.12" stop-color="#00f9ff"/><stop offset="0.14" stop-color="#1cffe3"/><stop offset="0.2" stop-color="#65ff9a"/><stop offset="0.3" stop-color="#baff45"/><stop offset="0.4" stop-color="#cfff30"/><stop offset="0.67" stop-color="#cfff30"/><stop offset="0.74" stop-color="#bcff43"/><stop offset="0.82" stop-color="#6eff91"/><stop offset="0.88" stop-color="#1bffe4"/><stop offset="0.9" stop-color="#00f3ff"/><stop offset="0.92" stop-color="#00caff"/><stop offset="0.94" stop-color="#0094ff"/><stop offset="0.96" stop-color="#0046ff"/><stop offset="0.98" stop-color="#0000e0"/><stop offset="1" stop-color="#000085"/></linearGradient><linearGradient id="g165" gradientUnits="userSpaceOnUse" x1="65" y1="29.7" x2="65.2" y2="57.4"><stop offset="0" stop-color="#000085"/><stop offset="0.02" stop-color="#0000d3"/><stop offset="0.04" stop-color="#0028ff"/><stop offset="0.06" stop-color="#007cff"/><stop offset="0.08" stop-color="#00acff"/><stop offset="0.12" stop-color="#00f9ff"/><stop offset="0.14" stop-color="#1bffe4"/><stop offset="0.2" stop-color="#64ff9b"/><stop offset="0.3" stop-color="#b9ff46"/><stop offset="0.4" stop-color="#ceff31"/><stop offset="0.67" stop-color="#ceff31"/><stop offset="0.74" stop-color="#bbff44"/><stop offset="0.82" stop-color="#6dff92"/><stop offset="0.88" stop-color="#1affe5"/><stop offset="0.9" stop-color="#00f2ff"/><stop offset="0.92" stop-color="#00c9ff"/><stop offset="0.94" stop-color="#0093ff"/><stop offset="0.96" stop-color="#0046ff"/><stop offset="0.98" stop-color="#0000e0"/><stop offset="1" stop-color="#000085"/></linearGradient><linearGradient id="g166" gradientUnits="userSpaceOnUse" x1="63.2" y1="29.7" x2="66" y2="60.7"><stop offset="0" stop-color="#000085"/><stop offset="0.02" stop-color="#0000d3"/><stop offset="0.04" stop-color="#0028ff"/><stop offset="0.06" stop-color="#007cff"/><stop offset="0.08" stop-color="#00acff"/><stop offset="0.12" stop-color="#00f9ff"/><stop offset="0.14" stop-color="#1bffe4"/><stop offset="0.2" stop-color="#64ff9b"/><stop offset="0.3" stop-color="#b9ff46"/><stop offset="0.4" stop-color="#cfff30"/><stop offset="0.67" stop-color="#cfff30"/><stop offset="0.74" stop-color="#bbff44"/><stop offset="0.82" stop-color="#6eff91"/><stop offset="0.88" stop-color="#1bffe4"/><stop offset="0.9" stop-color="#00f2ff"/><stop offset="0.92" stop-color="#00caff"/><stop offset="0.94" stop-color="#0094ff"/><stop offset="0.96" stop-color="#0046ff"/><stop offset="0.98" stop-color="#0000e0"/><stop offset="1" stop-color="#000085"/></linearGradient><linearGradient id="g167" href="#g164" x1="61.4" y1="30" x2="67" y2="63.6"/><linearGradient id="g168" gradientUnits="userSpaceOnUse" x1="59.5" y1="30.4" x2="68.2" y2="66"><stop offset="0" stop-color="#000085"/><stop offset="0.02" stop-color="#0000d4"/><stop offset="0.04" stop-color="#0029ff"/><stop offset="0.06" stop-color="#007dff"/><stop offset="0.08" stop-color="#00adff"/><stop offset="0.12" stop-color="#00faff"/><stop offset="0.14" stop-color="#1dffe2"/><stop offset="0.2" stop-color="#66ff99"/><stop offset="0.3" stop-color="#bbff44"/><stop offset="0.4" stop-color="#d0ff2f"/><stop offset="0.67" stop-color="#d0ff2f"/><stop offset="0.74" stop-color="#bdff42"/><stop offset="0.82" stop-color="#6fff90"/><stop offset="0.88" stop-color="#1cffe3"/><stop offset="0.9" stop-color="#00f3ff"/><stop offset="0.92" stop-color="#00cbff"/><stop offset="0.94" stop-color="#0094ff"/><stop offset="0.96" stop-color="#0046ff"/><stop offset="0.98" stop-color="#0000e0"/><stop offset="1" stop-color="#000085"/></linearGradient><linearGradient id="g169" gradientUnits="userSpaceOnUse" x1="57.6" y1="30.9" x2="69.6" y2="68.1"><stop offset="0" stop-color="#000085"/><stop offset="0.02" stop-color="#0000d4"/><stop offset="0.04" stop-color="#0029ff"/><stop offset="0.06" stop-color="#007dff"/><stop offset="0.08" stop-color="#00adff"/><stop offset="0.12" stop-color="#00faff"/><stop offset="0.14" stop-color="#1dffe2"/><stop offset="0.2" stop-color="#66ff99"/><stop offset="0.3" stop-color="#bcff43"/><stop offset="0.4" stop-color="#d1ff2e"/><stop offset="0.64" stop-color="#d1ff2e"/><stop offset="0.67" stop-color="#d1ff2e"/><stop offset="0.74" stop-color="#b9ff46"/><stop offset="0.82" stop-color="#70ff8f"/><stop offset="0.88" stop-color="#1cffe3"/><stop offset="0.9" stop-color="#00f4ff"/><stop offset="0.92" stop-color="#00cbff"/><stop offset="0.94" stop-color="#0095ff"/><stop offset="0.96" stop-color="#0047ff"/><stop offset="0.98" stop-color="#0000e0"/><stop offset="1" stop-color="#000085"/></linearGradient><linearGradient id="g170" gradientUnits="userSpaceOnUse" x1="55.7" y1="31.6" x2="70.9" y2="69.8"><stop offset="0" stop-color="#000085"/><stop offset="0.02" stop-color="#0000d4"/><stop offset="0.04" stop-color="#0029ff"/><stop offset="0.06" stop-color="#007eff"/><stop offset="0.08" stop-color="#00aeff"/><stop offset="0.12" stop-color="#00fbff"/><stop offset="0.14" stop-color="#1effe1"/><stop offset="0.2" stop-color="#67ff98"/><stop offset="0.3" stop-color="#bcff43"/><stop offset="0.4" stop-color="#d2ff2d"/><stop offset="0.64" stop-color="#d2ff2d"/><stop offset="0.67" stop-color="#d1ff2e"/><stop offset="0.7" stop-color="#bfff40"/><stop offset="0.74" stop-color="#75ff8a"/><stop offset="0.76" stop-color="#62ff9d"/><stop offset="0.8" stop-color="#7aff85"/><stop offset="0.82" stop-color="#6fff90"/><stop offset="0.88" stop-color="#1dffe2"/><stop offset="0.9" stop-color="#00f4ff"/><stop offset="0.92" stop-color="#00cbff"/><stop offset="0.94" stop-color="#0095ff"/><stop offset="0.96" stop-color="#0047ff"/><stop offset="0.98" stop-color="#0000e1"/><stop offset="1" stop-color="#000085"/></linearGradient><linearGradient id="g171" gradientUnits="userSpaceOnUse" x1="53.8" y1="32.4" x2="72.2" y2="71.2"><stop offset="0" stop-color="#000085"/><stop offset="0.02" stop-color="#0000d4"/><stop offset="0.04" stop-color="#0029ff"/><stop offset="0.06" stop-color="#007eff"/><stop offset="0.08" stop-color="#00aeff"/><stop offset="0.12" stop-color="#00fbff"/><stop offset="0.14" stop-color="#1effe1"/><stop offset="0.2" stop-color="#67ff98"/><stop offset="0.3" stop-color="#bdff42"/><stop offset="0.4" stop-color="#d2ff2d"/><stop offset="0.64" stop-color="#d2ff2d"/><stop offset="0.67" stop-color="#d2ff2d"/><stop offset="0.7" stop-color="#b4ff4b"/><stop offset="0.72" stop-color="#72ff8d"/><stop offset="0.74" stop-color="#20ffdf"/><stop offset="0.76" stop-color="#0cfff3"/><stop offset="0.78" stop-color="#45ffba"/><stop offset="0.8" stop-color="#6eff91"/><stop offset="0.82" stop-color="#6eff91"/><stop offset="0.88" stop-color="#1effe1"/><stop offset="0.9" stop-color="#00f5ff"/><stop offset="0.92" stop-color="#00ccff"/><stop offset="0.94" stop-color="#0095ff"/><stop offset="0.96" stop-color="#0047ff"/><stop offset="0.98" stop-color="#0000e1"/><stop offset="1" stop-color="#000085"/></linearGradient><linearGradient id="g172" gradientUnits="userSpaceOnUse" x1="52" y1="33.4" x2="73.4" y2="72.3"><stop offset="0" stop-color="#000085"/><stop offset="0.02" stop-color="#0000d4"/><stop offset="0.04" stop-color="#002aff"/><stop offset="0.06" stop-color="#007eff"/><stop offset="0.08" stop-color="#00aeff"/><stop offset="0.12" stop-color="#00fcff"/><stop offset="0.14" stop-color="#1fffe0"/><stop offset="0.2" stop-color="#68ff97"/><stop offset="0.3" stop-color="#beff41"/><stop offset="0.4" stop-color="#d3ff2c"/><stop offset="0.64" stop-color="#d3ff2c"/><stop offset="0.67" stop-color="#d3ff2c"/><stop offset="0.7" stop-color="#c4ff3b"/><stop offset="0.76" stop-color="#7bff84"/><stop offset="0.8" stop-color="#7eff81"/><stop offset="0.82" stop-color="#71ff8e"/><stop offset="0.88" stop-color="#1effe1"/><stop offset="0.9" stop-color="#00f5ff"/><stop offset="0.92" stop-color="#00ccff"/><stop offset="0.94" stop-color="#0096ff"/><stop offset="0.96" stop-color="#0047ff"/><stop offset="0.98" stop-color="#0000e1"/><stop offset="1" stop-color="#000085"/></linearGradient><linearGradient id="g173" gradientUnits="userSpaceOnUse" x1="50.1" y1="34.4" x2="74.5" y2="73.2"><stop offset="0" stop-color="#000085"/><stop offset="0.02" stop-color="#0000d4"/><stop offset="0.04" stop-color="#002aff"/><stop offset="0.06" stop-color="#007fff"/><stop offset="0.08" stop-color="#00afff"/><stop offset="0.12" stop-color="#00fcff"/><stop offset="0.14" stop-color="#1fffe0"/><stop offset="0.2" stop-color="#69ff96"/><stop offset="0.3" stop-color="#bfff40"/><stop offset="0.4" stop-color="#d4ff2b"/><stop offset="0.67" stop-color="#d4ff2b"/><stop offset="0.74" stop-color="#beff41"/><stop offset="0.82" stop-color="#72ff8d"/><stop offset="0.88" stop-color="#1fffe0"/><stop offset="0.9" stop-color="#00f6ff"/><stop offset="0.92" stop-color="#00cdff"/><stop offset="0.94" stop-color="#0096ff"/><stop offset="0.96" stop-color="#0048ff"/><stop offset="0.98" stop-color="#0000e1"/><stop offset="1" stop-color="#000085"/></linearGradient><linearGradient id="g174" href="#g160" x1="48.3" y1="35.7" x2="75.4" y2="73.9"/><linearGradient id="g175" gradientUnits="userSpaceOnUse" x1="46.5" y1="37" x2="76.3" y2="74.4"><stop offset="0" stop-color="#000085"/><stop offset="0.02" stop-color="#0000d4"/><stop offset="0.04" stop-color="#002aff"/><stop offset="0.06" stop-color="#007fff"/><stop offset="0.08" stop-color="#00b0ff"/><stop offset="0.12" stop-color="#00fdff"/><stop offset="0.14" stop-color="#20ffdf"/><stop offset="0.2" stop-color="#6aff95"/><stop offset="0.3" stop-color="#c0ff3f"/><stop offset="0.4" stop-color="#d6ff29"/><stop offset="0.67" stop-color="#d6ff29"/><stop offset="0.74" stop-color="#c2ff3d"/><stop offset="0.82" stop-color="#74ff8b"/><stop offset="0.88" stop-color="#20ffdf"/><stop offset="0.9" stop-color="#00f7ff"/><stop offset="0.92" stop-color="#00ceff"/><stop offset="0.94" stop-color="#0097ff"/><stop offset="0.96" stop-color="#0048ff"/><stop offset="0.98" stop-color="#0000e1"/><stop offset="1" stop-color="#000085"/></linearGradient><linearGradient id="g176" href="#g157" x1="44.8" y1="38.5" x2="77" y2="74.8"/><linearGradient id="g177" gradientUnits="userSpaceOnUse" x1="43.1" y1="40" x2="77.5" y2="75.2"><stop offset="0" stop-color="#000085"/><stop offset="0.02" stop-color="#0000d5"/><stop offset="0.04" stop-color="#002bff"/><stop offset="0.06" stop-color="#0081ff"/><stop offset="0.1" stop-color="#00ddff"/><stop offset="0.12" stop-color="#01fffe"/><stop offset="0.14" stop-color="#23ffdc"/><stop offset="0.2" stop-color="#6eff91"/><stop offset="0.3" stop-color="#c4ff3b"/><stop offset="0.4" stop-color="#daff25"/><stop offset="0.67" stop-color="#daff25"/><stop offset="0.74" stop-color="#c6ff39"/><stop offset="0.82" stop-color="#77ff88"/><stop offset="0.9" stop-color="#00faff"/><stop offset="0.92" stop-color="#00d0ff"/><stop offset="0.94" stop-color="#0099ff"/><stop offset="0.96" stop-color="#004aff"/><stop offset="0.98" stop-color="#0000e2"/><stop offset="1" stop-color="#000085"/></linearGradient><linearGradient id="g178" gradientUnits="userSpaceOnUse" x1="41.5" y1="41.7" x2="78" y2="75.4"><stop offset="0" stop-color="#000085"/><stop offset="0.02" stop-color="#0000d6"/><stop offset="0.04" stop-color="#002dff"/><stop offset="0.06" stop-color="#0084ff"/><stop offset="0.1" stop-color="#00e0ff"/><stop offset="0.12" stop-color="#05fffa"/><stop offset="0.14" stop-color="#28ffd7"/><stop offset="0.2" stop-color="#73ff8c"/><stop offset="0.3" stop-color="#caff35"/><stop offset="0.4" stop-color="#e0ff1f"/><stop offset="0.67" stop-color="#e0ff1f"/><stop offset="0.74" stop-color="#ccff33"/><stop offset="0.82" stop-color="#7cff83"/><stop offset="0.88" stop-color="#27ffd8"/><stop offset="0.9" stop-color="#00fdff"/><stop offset="0.92" stop-color="#00d3ff"/><stop offset="0.94" stop-color="#009cff"/><stop offset="0.96" stop-color="#004cff"/><stop offset="0.98" stop-color="#0000e3"/><stop offset="1" stop-color="#000085"/></linearGradient><linearGradient id="g179" gradientUnits="userSpaceOnUse" x1="39.9" y1="43.4" x2="78.3" y2="75.5"><stop offset="0" stop-color="#000085"/><stop offset="0.02" stop-color="#0000d6"/><stop offset="0.04" stop-color="#002fff"/><stop offset="0.06" stop-color="#0086ff"/><stop offset="0.1" stop-color="#00e4ff"/><stop offset="0.12" stop-color="#09fff6"/><stop offset="0.14" stop-color="#2cffd3"/><stop offset="0.2" stop-color="#77ff88"/><stop offset="0.3" stop-color="#d0ff2f"/><stop offset="0.4" stop-color="#e6ff19"/><stop offset="0.67" stop-color="#e6ff19"/><stop offset="0.74" stop-color="#d2ff2d"/><stop offset="0.82" stop-color="#81ff7e"/><stop offset="0.88" stop-color="#2bffd4"/><stop offset="0.9" stop-color="#02fffd"/><stop offset="0.92" stop-color="#00d7ff"/><stop offset="0.94" stop-color="#009eff"/><stop offset="0.96" stop-color="#004eff"/><stop offset="0.98" stop-color="#0000e4"/><stop offset="1" stop-color="#000085"/></linearGradient><linearGradient id="g180" gradientUnits="userSpaceOnUse" x1="38.5" y1="45.3" x2="78.6" y2="75.6"><stop offset="0" stop-color="#000085"/><stop offset="0.02" stop-color="#0000d7"/><stop offset="0.04" stop-color="#0031ff"/><stop offset="0.06" stop-color="#0089ff"/><stop offset="0.1" stop-color="#00e7ff"/><stop offset="0.12" stop-color="#0dfff2"/><stop offset="0.14" stop-color="#30ffcf"/><stop offset="0.2" stop-color="#7cff83"/><stop offset="0.3" stop-color="#d6ff29"/><stop offset="0.4" stop-color="#ecff13"/><stop offset="0.67" stop-color="#ecff13"/><stop offset="0.74" stop-color="#d8ff27"/><stop offset="0.82" stop-color="#86ff79"/><stop offset="0.88" stop-color="#2fffd0"/><stop offset="0.9" stop-color="#06fff9"/><stop offset="0.92" stop-color="#00daff"/><stop offset="0.94" stop-color="#00a1ff"/><stop offset="0.96" stop-color="#0050ff"/><stop offset="0.98" stop-color="#0000e5"/><stop offset="1" stop-color="#000085"/></linearGradient><linearGradient id="g181" gradientUnits="userSpaceOnUse" x1="37.1" y1="47.2" x2="78.7" y2="75.6"><stop offset="0" stop-color="#000085"/><stop offset="0.02" stop-color="#0000d8"/><stop offset="0.04" stop-color="#0032ff"/><stop offset="0.06" stop-color="#008bff"/><stop offset="0.1" stop-color="#00ebff"/><stop offset="0.12" stop-color="#11ffee"/><stop offset="0.14" stop-color="#34ffcb"/><stop offset="0.2" stop-color="#81ff7e"/><stop offset="0.3" stop-color="#dbff24"/><stop offset="0.4" stop-color="#f2ff0d"/><stop offset="0.67" stop-color="#f2ff0d"/><stop offset="0.74" stop-color="#ddff22"/><stop offset="0.82" stop-color="#8bff74"/><stop offset="0.88" stop-color="#33ffcc"/><stop offset="0.9" stop-color="#0afff5"/><stop offset="0.92" stop-color="#00deff"/><stop offset="0.94" stop-color="#00a4ff"/><stop offset="0.96" stop-color="#0052ff"/><stop offset="0.98" stop-color="#0000e6"/><stop offset="1" stop-color="#000085"/></linearGradient><linearGradient id="g182" gradientUnits="userSpaceOnUse" x1="35.8" y1="49.2" x2="78.7" y2="75.6"><stop offset="0" stop-color="#000085"/><stop offset="0.02" stop-color="#0000d9"/><stop offset="0.04" stop-color="#0034ff"/><stop offset="0.06" stop-color="#008eff"/><stop offset="0.08" stop-color="#00c1ff"/><stop offset="0.1" stop-color="#00eeff"/><stop offset="0.12" stop-color="#14ffeb"/><stop offset="0.14" stop-color="#38ffc7"/><stop offset="0.2" stop-color="#86ff79"/><stop offset="0.3" stop-color="#e1ff1e"/><stop offset="0.4" stop-color="#f8ff07"/><stop offset="0.67" stop-color="#f8ff07"/><stop offset="0.74" stop-color="#e3ff1c"/><stop offset="0.82" stop-color="#90ff6f"/><stop offset="0.88" stop-color="#38ffc7"/><stop offset="0.9" stop-color="#0dfff2"/><stop offset="0.92" stop-color="#00e1ff"/><stop offset="0.94" stop-color="#00a7ff"/><stop offset="0.96" stop-color="#0054ff"/><stop offset="0.98" stop-color="#0000e7"/><stop offset="1" stop-color="#000085"/></linearGradient><linearGradient id="g183" gradientUnits="userSpaceOnUse" x1="34.6" y1="51.2" x2="78.7" y2="75.5"><stop offset="0" stop-color="#000085"/><stop offset="0.02" stop-color="#0000da"/><stop offset="0.04" stop-color="#0035ff"/><stop offset="0.06" stop-color="#0090ff"/><stop offset="0.08" stop-color="#00c4ff"/><stop offset="0.1" stop-color="#00f1ff"/><stop offset="0.12" stop-color="#18ffe7"/><stop offset="0.14" stop-color="#3cffc3"/><stop offset="0.2" stop-color="#8aff75"/><stop offset="0.3" stop-color="#e6ff19"/><stop offset="0.4" stop-color="#fdff02"/><stop offset="0.67" stop-color="#fdff02"/><stop offset="0.74" stop-color="#e8ff17"/><stop offset="0.82" stop-color="#95ff6a"/><stop offset="0.88" stop-color="#3bffc4"/><stop offset="0.9" stop-color="#11ffee"/><stop offset="0.92" stop-color="#00e4ff"/><stop offset="0.94" stop-color="#00a9ff"/><stop offset="0.96" stop-color="#0055ff"/><stop offset="0.98" stop-color="#0000e7"/><stop offset="1" stop-color="#000085"/></linearGradient><linearGradient id="g184" gradientUnits="userSpaceOnUse" x1="33.5" y1="53.3" x2="78.5" y2="75.3"><stop offset="0" stop-color="#000085"/><stop offset="0.02" stop-color="#0000da"/><stop offset="0.04" stop-color="#0037ff"/><stop offset="0.06" stop-color="#0092ff"/><stop offset="0.08" stop-color="#00c6ff"/><stop offset="0.1" stop-color="#00f4ff"/><stop offset="0.12" stop-color="#1bffe4"/><stop offset="0.14" stop-color="#3fffc0"/><stop offset="0.2" stop-color="#8eff71"/><stop offset="0.3" stop-color="#ebff14"/><stop offset="0.4" stop-color="#fffc00"/><stop offset="0.67" stop-color="#fffc00"/><stop offset="0.74" stop-color="#edff12"/><stop offset="0.82" stop-color="#98ff67"/><stop offset="0.88" stop-color="#3effc1"/><stop offset="0.9" stop-color="#14ffeb"/><stop offset="0.92" stop-color="#00e6ff"/><stop offset="0.94" stop-color="#00abff"/><stop offset="0.96" stop-color="#0057ff"/><stop offset="0.98" stop-color="#0000e8"/><stop offset="1" stop-color="#000085"/></linearGradient><linearGradient id="g185" gradientUnits="userSpaceOnUse" x1="32.6" y1="55.5" x2="78.2" y2="75"><stop offset="0" stop-color="#000085"/><stop offset="0.02" stop-color="#0000db"/><stop offset="0.04" stop-color="#0038ff"/><stop offset="0.06" stop-color="#0094ff"/><stop offset="0.08" stop-color="#00c9ff"/><stop offset="0.1" stop-color="#00f6ff"/><stop offset="0.12" stop-color="#1effe1"/><stop offset="0.14" stop-color="#42ffbd"/><stop offset="0.2" stop-color="#92ff6d"/><stop offset="0.3" stop-color="#efff10"/><stop offset="0.36" stop-color="#fffd00"/><stop offset="0.67" stop-color="#fff800"/><stop offset="0.74" stop-color="#f1ff0e"/><stop offset="0.82" stop-color="#9cff63"/><stop offset="0.88" stop-color="#42ffbd"/><stop offset="0.9" stop-color="#16ffe9"/><stop offset="0.92" stop-color="#00e9ff"/><stop offset="0.94" stop-color="#00aeff"/><stop offset="0.96" stop-color="#0059ff"/><stop offset="0.98" stop-color="#0000e9"/><stop offset="1" stop-color="#000085"/></linearGradient><linearGradient id="g186" gradientUnits="userSpaceOnUse" x1="31.7" y1="57.6" x2="77.8" y2="74.7"><stop offset="0" stop-color="#000085"/><stop offset="0.02" stop-color="#0000db"/><stop offset="0.04" stop-color="#0039ff"/><stop offset="0.06" stop-color="#0096ff"/><stop offset="0.08" stop-color="#00cbff"/><stop offset="0.1" stop-color="#00f9ff"/><stop offset="0.12" stop-color="#21ffde"/><stop offset="0.14" stop-color="#46ffb9"/><stop offset="0.2" stop-color="#96ff69"/><stop offset="0.3" stop-color="#f4ff0b"/><stop offset="0.33" stop-color="#fdff02"/><stop offset="0.4" stop-color="#fff300"/><stop offset="0.67" stop-color="#fff300"/><stop offset="0.7" stop-color="#fffc00"/><stop offset="0.74" stop-color="#f6ff09"/><stop offset="0.82" stop-color="#a0ff5f"/><stop offset="0.88" stop-color="#45ffba"/><stop offset="0.9" stop-color="#19ffe6"/><stop offset="0.92" stop-color="#00ecff"/><stop offset="0.94" stop-color="#00b0ff"/><stop offset="0.96" stop-color="#005aff"/><stop offset="0.98" stop-color="#0000e9"/><stop offset="1" stop-color="#000085"/></linearGradient><linearGradient id="g187" gradientUnits="userSpaceOnUse" x1="30.9" y1="59.8" x2="77.3" y2="74.3"><stop offset="0" stop-color="#000085"/><stop offset="0.02" stop-color="#0000dc"/><stop offset="0.04" stop-color="#003bff"/><stop offset="0.06" stop-color="#0098ff"/><stop offset="0.08" stop-color="#00cdff"/><stop offset="0.1" stop-color="#00fcff"/><stop offset="0.12" stop-color="#24ffdb"/><stop offset="0.14" stop-color="#49ffb6"/><stop offset="0.2" stop-color="#9aff65"/><stop offset="0.3" stop-color="#f8ff07"/><stop offset="0.4" stop-color="#ffee00"/><stop offset="0.67" stop-color="#ffee00"/><stop offset="0.72" stop-color="#fffd00"/><stop offset="0.74" stop-color="#faff05"/><stop offset="0.82" stop-color="#a4ff5b"/><stop offset="0.88" stop-color="#48ffb7"/><stop offset="0.9" stop-color="#1cffe3"/><stop offset="0.92" stop-color="#00eeff"/><stop offset="0.94" stop-color="#00b2ff"/><stop offset="0.96" stop-color="#005cff"/><stop offset="0.98" stop-color="#0000ea"/><stop offset="1" stop-color="#000085"/></linearGradient><linearGradient id="g188" gradientUnits="userSpaceOnUse" x1="30.3" y1="62" x2="76.6" y2="73.9"><stop offset="0" stop-color="#000085"/><stop offset="0.02" stop-color="#0000dd"/><stop offset="0.04" stop-color="#003cff"/><stop offset="0.06" stop-color="#009aff"/><stop offset="0.1" stop-color="#00ffff"/><stop offset="0.14" stop-color="#4dffb2"/><stop offset="0.2" stop-color="#9eff61"/><stop offset="0.3" stop-color="#fdff02"/><stop offset="0.4" stop-color="#ffe900"/><stop offset="0.67" stop-color="#ffe900"/><stop offset="0.74" stop-color="#fffe00"/><stop offset="0.82" stop-color="#a9ff56"/><stop offset="0.88" stop-color="#4cffb3"/><stop offset="0.9" stop-color="#20ffdf"/><stop offset="0.92" stop-color="#00f1ff"/><stop offset="0.94" stop-color="#00b5ff"/><stop offset="0.96" stop-color="#005eff"/><stop offset="0.98" stop-color="#0000eb"/><stop offset="1" stop-color="#000085"/></linearGradient><linearGradient id="g189" gradientUnits="userSpaceOnUse" x1="29.8" y1="64.1" x2="75.8" y2="73.3"><stop offset="0" stop-color="#000085"/><stop offset="0.02" stop-color="#0000de"/><stop offset="0.04" stop-color="#003fff"/><stop offset="0.06" stop-color="#009eff"/><stop offset="0.1" stop-color="#05fffa"/><stop offset="0.14" stop-color="#53ffac"/><stop offset="0.2" stop-color="#a5ff5a"/><stop offset="0.3" stop-color="#fff800"/><stop offset="0.4" stop-color="#ffe000"/><stop offset="0.67" stop-color="#ffe000"/><stop offset="0.74" stop-color="#fff600"/><stop offset="0.76" stop-color="#f2ff0d"/><stop offset="0.82" stop-color="#b0ff4f"/><stop offset="0.88" stop-color="#52ffad"/><stop offset="0.92" stop-color="#00f6ff"/><stop offset="0.94" stop-color="#00b9ff"/><stop offset="0.96" stop-color="#0060ff"/><stop offset="0.98" stop-color="#0000ec"/><stop offset="1" stop-color="#000085"/></linearGradient><linearGradient id="g190" gradientUnits="userSpaceOnUse" x1="29.5" y1="66.3" x2="74.7" y2="72.7"><stop offset="0" stop-color="#000085"/><stop offset="0.02" stop-color="#0000df"/><stop offset="0.04" stop-color="#0041ff"/><stop offset="0.06" stop-color="#00a2ff"/><stop offset="0.08" stop-color="#00d9ff"/><stop offset="0.1" stop-color="#0afff5"/><stop offset="0.14" stop-color="#59ffa6"/><stop offset="0.2" stop-color="#acff53"/><stop offset="0.28" stop-color="#fbff04"/><stop offset="0.33" stop-color="#ffe600"/><stop offset="0.4" stop-color="#ffd700"/><stop offset="0.67" stop-color="#ffd700"/><stop offset="0.74" stop-color="#ffee00"/><stop offset="0.76" stop-color="#faff05"/><stop offset="0.82" stop-color="#b7ff48"/><stop offset="0.88" stop-color="#58ffa7"/><stop offset="0.92" stop-color="#00fbff"/><stop offset="0.94" stop-color="#00bdff"/><stop offset="0.96" stop-color="#0063ff"/><stop offset="0.98" stop-color="#0000ee"/><stop offset="1" stop-color="#000085"/></linearGradient><linearGradient id="g191" gradientUnits="userSpaceOnUse" x1="29.2" y1="68.4" x2="73.5" y2="72.1"><stop offset="0" stop-color="#000085"/><stop offset="0.02" stop-color="#0000e0"/><stop offset="0.04" stop-color="#0044ff"/><stop offset="0.06" stop-color="#00a6ff"/><stop offset="0.08" stop-color="#00ddff"/><stop offset="0.1" stop-color="#0ffff0"/><stop offset="0.14" stop-color="#5fffa0"/><stop offset="0.2" stop-color="#b4ff4b"/><stop offset="0.28" stop-color="#fffb00"/><stop offset="0.3" stop-color="#ffe800"/><stop offset="0.4" stop-color="#ffcf00"/><stop offset="0.67" stop-color="#ffcf00"/><stop offset="0.74" stop-color="#ffe500"/><stop offset="0.76" stop-color="#fffc00"/><stop offset="0.82" stop-color="#bfff40"/><stop offset="0.84" stop-color="#a0ff5f"/><stop offset="0.88" stop-color="#5effa1"/><stop offset="0.92" stop-color="#01fffe"/><stop offset="0.94" stop-color="#00c1ff"/><stop offset="0.96" stop-color="#0066ff"/><stop offset="0.98" stop-color="#0000ef"/><stop offset="1" stop-color="#000085"/></linearGradient><linearGradient id="g192" gradientUnits="userSpaceOnUse" x1="29.1" y1="70.5" x2="72" y2="71.5"><stop offset="0" stop-color="#000085"/><stop offset="0.02" stop-color="#0000e1"/><stop offset="0.04" stop-color="#0046ff"/><stop offset="0.06" stop-color="#00a9ff"/><stop offset="0.08" stop-color="#00e2ff"/><stop offset="0.1" stop-color="#14ffeb"/><stop offset="0.14" stop-color="#65ff9a"/><stop offset="0.2" stop-color="#bbff44"/><stop offset="0.26" stop-color="#f8ff07"/><stop offset="0.28" stop-color="#fff300"/><stop offset="0.3" stop-color="#ffdf00"/><stop offset="0.4" stop-color="#ffc600"/><stop offset="0.67" stop-color="#ffc600"/><stop offset="0.74" stop-color="#ffdd00"/><stop offset="0.76" stop-color="#fff400"/><stop offset="0.78" stop-color="#f3ff0c"/><stop offset="0.82" stop-color="#c6ff39"/><stop offset="0.88" stop-color="#64ff9b"/><stop offset="0.92" stop-color="#06fff9"/><stop offset="0.94" stop-color="#00c5ff"/><stop offset="0.96" stop-color="#0069ff"/><stop offset="0.98" stop-color="#0000f0"/><stop offset="1" stop-color="#000085"/></linearGradient><linearGradient id="g193" gradientUnits="userSpaceOnUse" x1="29.1" y1="72.6" x2="70.2" y2="70.9"><stop offset="0" stop-color="#000085"/><stop offset="0.02" stop-color="#0000e3"/><stop offset="0.04" stop-color="#0049ff"/><stop offset="0.06" stop-color="#00adff"/><stop offset="0.08" stop-color="#00e6ff"/><stop offset="0.1" stop-color="#19ffe6"/><stop offset="0.14" stop-color="#6bff94"/><stop offset="0.2" stop-color="#c2ff3d"/><stop offset="0.26" stop-color="#ffff00"/><stop offset="0.3" stop-color="#ffd700"/><stop offset="0.4" stop-color="#ffbd00"/><stop offset="0.67" stop-color="#ffbd00"/><stop offset="0.74" stop-color="#ffd500"/><stop offset="0.76" stop-color="#ffec00"/><stop offset="0.78" stop-color="#fbff04"/><stop offset="0.82" stop-color="#cdff32"/><stop offset="0.88" stop-color="#6aff95"/><stop offset="0.92" stop-color="#0afff5"/><stop offset="0.94" stop-color="#00c9ff"/><stop offset="0.96" stop-color="#006cff"/><stop offset="0.98" stop-color="#0000f2"/><stop offset="1" stop-color="#000085"/></linearGradient><linearGradient id="g194" gradientUnits="userSpaceOnUse" x1="29.3" y1="74.6" x2="68.1" y2="70.3"><stop offset="0" stop-color="#000085"/><stop offset="0.02" stop-color="#0000e4"/><stop offset="0.04" stop-color="#004bff"/><stop offset="0.06" stop-color="#00b1ff"/><stop offset="0.08" stop-color="#00ebff"/><stop offset="0.1" stop-color="#1fffe0"/><stop offset="0.14" stop-color="#72ff8d"/><stop offset="0.2" stop-color="#caff35"/><stop offset="0.24" stop-color="#f4ff0b"/><stop offset="0.26" stop-color="#fff600"/><stop offset="0.3" stop-color="#ffcd00"/><stop offset="0.36" stop-color="#ffba00"/><stop offset="0.67" stop-color="#ffb400"/><stop offset="0.74" stop-color="#ffcb00"/><stop offset="0.78" stop-color="#fffa00"/><stop offset="0.82" stop-color="#d5ff2a"/><stop offset="0.84" stop-color="#b5ff4a"/><stop offset="0.88" stop-color="#71ff8e"/><stop offset="0.92" stop-color="#10ffef"/><stop offset="0.94" stop-color="#00cdff"/><stop offset="0.96" stop-color="#006fff"/><stop offset="0.98" stop-color="#0000f3"/><stop offset="1" stop-color="#000085"/></linearGradient><linearGradient id="g195" gradientUnits="userSpaceOnUse" x1="29.6" y1="76.5" x2="65.7" y2="70"><stop offset="0" stop-color="#000085"/><stop offset="0.02" stop-color="#0000e5"/><stop offset="0.04" stop-color="#004fff"/><stop offset="0.06" stop-color="#00b6ff"/><stop offset="0.08" stop-color="#00f1ff"/><stop offset="0.1" stop-color="#26ffd9"/><stop offset="0.14" stop-color="#7aff85"/><stop offset="0.2" stop-color="#d3ff2c"/><stop offset="0.24" stop-color="#ffff00"/><stop offset="0.3" stop-color="#ffc200"/><stop offset="0.4" stop-color="#ffa800"/><stop offset="0.67" stop-color="#ffa800"/><stop offset="0.74" stop-color="#ffc000"/><stop offset="0.78" stop-color="#ffef00"/><stop offset="0.8" stop-color="#f7ff08"/><stop offset="0.84" stop-color="#beff41"/><stop offset="0.88" stop-color="#79ff86"/><stop offset="0.92" stop-color="#17ffe8"/><stop offset="0.94" stop-color="#00d3ff"/><stop offset="0.96" stop-color="#0073ff"/><stop offset="0.98" stop-color="#0000f5"/><stop offset="1" stop-color="#000085"/></linearGradient><linearGradient id="g196" gradientUnits="userSpaceOnUse" x1="30" y1="78.4" x2="63" y2="69.8"><stop offset="0" stop-color="#000085"/><stop offset="0.02" stop-color="#0000e7"/><stop offset="0.04" stop-color="#0052ff"/><stop offset="0.06" stop-color="#00bbff"/><stop offset="0.08" stop-color="#00f7ff"/><stop offset="0.1" stop-color="#2cffd3"/><stop offset="0.14" stop-color="#82ff7d"/><stop offset="0.2" stop-color="#ddff22"/><stop offset="0.22" stop-color="#f4ff0b"/><stop offset="0.24" stop-color="#fff500"/><stop offset="0.3" stop-color="#ffb700"/><stop offset="0.36" stop-color="#ffa300"/><stop offset="0.67" stop-color="#ff9c00"/><stop offset="0.74" stop-color="#ffb400"/><stop offset="0.8" stop-color="#fffd00"/><stop offset="0.82" stop-color="#e9ff16"/><stop offset="0.88" stop-color="#81ff7e"/><stop offset="0.92" stop-color="#1dffe2"/><stop offset="0.94" stop-color="#00d8ff"/><stop offset="0.96" stop-color="#0077ff"/><stop offset="0.98" stop-color="#0000f7"/><stop offset="1" stop-color="#000085"/></linearGradient><linearGradient id="g197" gradientUnits="userSpaceOnUse" x1="30.5" y1="80.2" x2="59.9" y2="70.1"><stop offset="0" stop-color="#000085"/><stop offset="0.02" stop-color="#0000e9"/><stop offset="0.04" stop-color="#0056ff"/><stop offset="0.06" stop-color="#00c0ff"/><stop offset="0.08" stop-color="#00fdff"/><stop offset="0.1" stop-color="#33ffcc"/><stop offset="0.14" stop-color="#8aff75"/><stop offset="0.22" stop-color="#feff01"/><stop offset="0.3" stop-color="#ffab00"/><stop offset="0.4" stop-color="#ff9000"/><stop offset="0.67" stop-color="#ff9000"/><stop offset="0.74" stop-color="#ffa900"/><stop offset="0.8" stop-color="#fff300"/><stop offset="0.82" stop-color="#f3ff0c"/><stop offset="0.88" stop-color="#89ff76"/><stop offset="0.92" stop-color="#24ffdb"/><stop offset="0.94" stop-color="#00deff"/><stop offset="0.96" stop-color="#007bff"/><stop offset="0.98" stop-color="#0000f9"/><stop offset="1" stop-color="#000085"/></linearGradient><linearGradient id="g198" gradientUnits="userSpaceOnUse" x1="31.2" y1="81.9" x2="56.6" y2="70.7"><stop offset="0" stop-color="#000085"/><stop offset="0.02" stop-color="#0000ea"/><stop offset="0.04" stop-color="#0059ff"/><stop offset="0.06" stop-color="#00c5ff"/><stop offset="0.08" stop-color="#04fffb"/><stop offset="0.1" stop-color="#3affc5"/><stop offset="0.14" stop-color="#92ff6d"/><stop offset="0.2" stop-color="#f0ff0f"/><stop offset="0.22" stop-color="#fff600"/><stop offset="0.3" stop-color="#ffa000"/><stop offset="0.4" stop-color="#ff8400"/><stop offset="0.67" stop-color="#ff8400"/><stop offset="0.74" stop-color="#ff9e00"/><stop offset="0.8" stop-color="#ffe800"/><stop offset="0.82" stop-color="#fdff02"/><stop offset="0.88" stop-color="#92ff6d"/><stop offset="0.92" stop-color="#2affd5"/><stop offset="0.94" stop-color="#00e3ff"/><stop offset="0.96" stop-color="#007fff"/><stop offset="0.98" stop-color="#0000fb"/><stop offset="1" stop-color="#000085"/></linearGradient><linearGradient id="g199" gradientUnits="userSpaceOnUse" x1="31.9" y1="83.4" x2="53" y2="72"><stop offset="0" stop-color="#000085"/><stop offset="0.02" stop-color="#0000ec"/><stop offset="0.04" stop-color="#005cff"/><stop offset="0.06" stop-color="#00caff"/><stop offset="0.08" stop-color="#0afff5"/><stop offset="0.1" stop-color="#41ffbe"/><stop offset="0.14" stop-color="#9bff64"/><stop offset="0.2" stop-color="#faff05"/><stop offset="0.3" stop-color="#ff9500"/><stop offset="0.4" stop-color="#ff7900"/><stop offset="0.67" stop-color="#ff7900"/><stop offset="0.74" stop-color="#ff9200"/><stop offset="0.82" stop-color="#fff800"/><stop offset="0.84" stop-color="#e4ff1b"/><stop offset="0.88" stop-color="#9aff65"/><stop offset="0.92" stop-color="#31ffce"/><stop offset="0.94" stop-color="#00e9ff"/><stop offset="0.96" stop-color="#0083ff"/><stop offset="0.98" stop-color="#0000fc"/><stop offset="1" stop-color="#000085"/></linearGradient><linearGradient id="g200" gradientUnits="userSpaceOnUse" x1="32.8" y1="84.9" x2="49.4" y2="73.9"><stop offset="0" stop-color="#000085"/><stop offset="0.02" stop-color="#0000ed"/><stop offset="0.04" stop-color="#005eff"/><stop offset="0.06" stop-color="#00cdff"/><stop offset="0.08" stop-color="#0efff1"/><stop offset="0.1" stop-color="#45ffba"/><stop offset="0.14" stop-color="#9fff60"/><stop offset="0.2" stop-color="#fffe00"/><stop offset="0.3" stop-color="#ff8e00"/><stop offset="0.4" stop-color="#ff7200"/><stop offset="0.67" stop-color="#ff7200"/><stop offset="0.74" stop-color="#ff8b00"/><stop offset="0.82" stop-color="#fff200"/><stop offset="0.84" stop-color="#e9ff16"/><stop offset="0.88" stop-color="#9fff60"/><stop offset="0.92" stop-color="#35ffca"/><stop offset="0.94" stop-color="#00ecff"/><stop offset="0.96" stop-color="#0085ff"/><stop offset="0.98" stop-color="#0000fe"/><stop offset="1" stop-color="#000085"/></linearGradient><linearGradient id="g201" gradientUnits="userSpaceOnUse" x1="33.8" y1="86.3" x2="45.9" y2="76.5"><stop offset="0" stop-color="#000085"/><stop offset="0.02" stop-color="#0000ed"/><stop offset="0.04" stop-color="#0060ff"/><stop offset="0.06" stop-color="#00d0ff"/><stop offset="0.08" stop-color="#11ffee"/><stop offset="0.1" stop-color="#49ffb6"/><stop offset="0.14" stop-color="#a4ff5b"/><stop offset="0.2" stop-color="#fff900"/><stop offset="0.3" stop-color="#ff8800"/><stop offset="0.4" stop-color="#ff6b00"/><stop offset="0.67" stop-color="#ff6b00"/><stop offset="0.74" stop-color="#ff8500"/><stop offset="0.82" stop-color="#ffed00"/><stop offset="0.84" stop-color="#eeff11"/><stop offset="0.88" stop-color="#a3ff5c"/><stop offset="0.92" stop-color="#38ffc7"/><stop offset="0.94" stop-color="#00efff"/><stop offset="0.96" stop-color="#0087ff"/><stop offset="0.98" stop-color="#0000ff"/><stop offset="1" stop-color="#000085"/></linearGradient><linearGradient id="g202" gradientUnits="userSpaceOnUse" x1="35" y1="87.6" x2="42.7" y2="79.9"><stop offset="0" stop-color="#000085"/><stop offset="0.02" stop-color="#0000ee"/><stop offset="0.04" stop-color="#0062ff"/><stop offset="0.06" stop-color="#00d3ff"/><stop offset="0.08" stop-color="#14ffeb"/><stop offset="0.1" stop-color="#4cffb3"/><stop offset="0.14" stop-color="#a8ff57"/><stop offset="0.18" stop-color="#e9ff16"/><stop offset="0.2" stop-color="#fff400"/><stop offset="0.3" stop-color="#ff8200"/><stop offset="0.4" stop-color="#ff6500"/><stop offset="0.67" stop-color="#ff6500"/><stop offset="0.74" stop-color="#ff7f00"/><stop offset="0.82" stop-color="#ffe700"/><stop offset="0.84" stop-color="#f3ff0c"/><stop offset="0.88" stop-color="#a7ff58"/><stop offset="0.92" stop-color="#3cffc3"/><stop offset="0.94" stop-color="#00f2ff"/><stop offset="0.96" stop-color="#008aff"/><stop offset="0.98" stop-color="#0000ff"/><stop offset="1" stop-color="#000085"/></linearGradient><linearGradient id="g203" gradientUnits="userSpaceOnUse" x1="36.2" y1="88.7" x2="40.1" y2="84"><stop offset="0" stop-color="#000085"/><stop offset="0.02" stop-color="#0000ef"/><stop offset="0.04" stop-color="#0064ff"/><stop offset="0.06" stop-color="#00d5ff"/><stop offset="0.08" stop-color="#17ffe8"/><stop offset="0.1" stop-color="#50ffaf"/><stop offset="0.14" stop-color="#acff53"/><stop offset="0.18" stop-color="#eeff11"/><stop offset="0.2" stop-color="#ffef00"/><stop offset="0.3" stop-color="#ff7c00"/><stop offset="0.4" stop-color="#ff5f00"/><stop offset="0.67" stop-color="#ff5f00"/><stop offset="0.74" stop-color="#ff7900"/><stop offset="0.82" stop-color="#ffe200"/><stop offset="0.84" stop-color="#f8ff07"/><stop offset="0.88" stop-color="#acff53"/><stop offset="0.92" stop-color="#3fffc0"/><stop offset="0.94" stop-color="#00f5ff"/><stop offset="0.96" stop-color="#008cff"/><stop offset="0.98" stop-color="#0001ff"/><stop offset="1" stop-color="#000085"/></linearGradient><linearGradient id="g204" gradientUnits="userSpaceOnUse" x1="37.5" y1="89.7" x2="79.8" y2="117.1"><stop offset="0" stop-color="#000085"/><stop offset="0.02" stop-color="#0000f0"/><stop offset="0.04" stop-color="#0065ff"/><stop offset="0.06" stop-color="#00d8ff"/><stop offset="0.08" stop-color="#1affe5"/><stop offset="0.1" stop-color="#53ffac"/><stop offset="0.14" stop-color="#b1ff4e"/><stop offset="0.18" stop-color="#f3ff0c"/><stop offset="0.2" stop-color="#ffea00"/><stop offset="0.3" stop-color="#ff7600"/><stop offset="0.4" stop-color="#ff5900"/><stop offset="0.67" stop-color="#ff5900"/><stop offset="0.74" stop-color="#ff7300"/><stop offset="0.82" stop-color="#ffdd00"/><stop offset="0.84" stop-color="#fdff02"/><stop offset="0.88" stop-color="#b0ff4f"/><stop offset="0.92" stop-color="#43ffbc"/><stop offset="0.94" stop-color="#00f8ff"/><stop offset="0.96" stop-color="#008eff"/><stop offset="0.98" stop-color="#0002ff"/><stop offset="1" stop-color="#000085"/></linearGradient><linearGradient id="g205" gradientUnits="userSpaceOnUse" x1="96.6" y1="46.1" x2="58.5" y2="105"><stop offset="0" stop-color="#000" stop-opacity="0.041"/><stop offset="0.042" stop-color="#000" stop-opacity="0.043"/><stop offset="0.083" stop-color="#000" stop-opacity="0.064"/><stop offset="0.125" stop-color="#000" stop-opacity="0.098"/><stop offset="0.167" stop-color="#000" stop-opacity="0.132"/><stop offset="0.208" stop-color="#000" stop-opacity="0.172"/><stop offset="0.25" stop-color="#000" stop-opacity="0.21"/><stop offset="0.292" stop-color="#000" stop-opacity="0.235"/><stop offset="0.333" stop-color="#000" stop-opacity="0.24"/><stop offset="0.375" stop-color="#000" stop-opacity="0.232"/><stop offset="0.417" stop-color="#000" stop-opacity="0.204"/><stop offset="0.458" stop-color="#000" stop-opacity="0.175"/><stop offset="0.5" stop-color="#000" stop-opacity="0.145"/><stop offset="0.542" stop-color="#000" stop-opacity="0.117"/><stop offset="0.583" stop-color="#000" stop-opacity="0.094"/><stop offset="0.625" stop-color="#000" stop-opacity="0.073"/><stop offset="0.667" stop-color="#000" stop-opacity="0.063"/><stop offset="0.708" stop-color="#000" stop-opacity="0.057"/><stop offset="0.75" stop-color="#000" stop-opacity="0.052"/><stop offset="0.792" stop-color="#000" stop-opacity="0.051"/><stop offset="0.833" stop-color="#000" stop-opacity="0.05"/><stop offset="0.875" stop-color="#000" stop-opacity="0.05"/><stop offset="0.917" stop-color="#000" stop-opacity="0.05"/><stop offset="0.958" stop-color="#000" stop-opacity="0.05"/><stop offset="1" stop-color="#000" stop-opacity="0.05"/></linearGradient><linearGradient id="g206" x1="0" y1="0" x2="0" y2="1"><stop offset="0" stop-color="#800000"/><stop offset="0.062" stop-color="#bf0000"/><stop offset="0.125" stop-color="#ff0000"/><stop offset="0.188" stop-color="#ff4000"/><stop offset="0.25" stop-color="#ff8000"/><stop offset="0.312" stop-color="#ffbf00"/><stop offset="0.375" stop-color="#ffff00"/><stop offset="0.438" stop-color="#bfff40"/><stop offset="0.5" stop-color="#80ff80"/><stop offset="0.562" stop-color="#40ffbf"/><stop offset="0.625" stop-color="#00ffff"/><stop offset="0.688" stop-color="#00bfff"/><stop offset="0.75" stop-color="#0080ff"/><stop offset="0.812" stop-color="#0040ff"/><stop offset="0.875" stop-color="#0000ff"/><stop offset="0.938" stop-color="#0000c2"/><stop offset="1" stop-color="#000085"/></linearGradient><clipPath id="c207"><path d="M126.7 78.9L126.6 76.3L126.3 73.8L125.7 71.4L125 69.1L124.1 67L122.9 65L121.6 63.3L120.1 61.7L118.5 60.3L116.7 59.2L114.8 58.3L112.7 57.6L110.5 57.2L108.3 57L105.9 57.1L103.6 57.4L101.1 57.9L98.7 58.7L96.3 59.7L93.8 61L91.5 62.4L89.1 64.1L86.9 65.9L84.7 68L82.6 70.2L80.7 72.5L78.9 75L77.3 77.6L75.8 80.2L74.5 83L73.3 85.7L72.4 88.6L71.7 91.4L71.1 94.2L70.8 96.9L70.7 99.7L70.8 102.3L71.1 104.8L71.7 107.2L72.4 109.5L73.3 111.6L74.5 113.6L75.8 115.3L77.3 116.9L78.9 118.3L80.7 119.4L82.6 120.3L84.7 121L86.9 121.4L89.1 121.6L91.5 121.5L93.8 121.2L96.3 120.7L98.7 119.9L101.1 118.9L103.6 117.6L105.9 116.2L108.3 114.5L110.5 112.6L112.7 110.6L114.8 108.4L116.7 106.1L118.5 103.6L120.1 101L121.6 98.4L122.9 95.6L124.1 92.8L125 90L125.7 87.2L126.3 84.4L126.6 81.6Z"/></clipPath><linearGradient id="g208" href="#g145" x1="37.7" y1="89.8" x2="80" y2="117.3"/><linearGradient id="g209" gradientUnits="userSpaceOnUse" x1="38.8" y1="90.5" x2="37.1" y2="93.6"><stop offset="0" stop-color="#000085"/><stop offset="0.02" stop-color="#0000f7"/><stop offset="0.06" stop-color="#00efff"/><stop offset="0.08" stop-color="#36ffc9"/><stop offset="0.12" stop-color="#a6ff59"/><stop offset="0.14" stop-color="#d7ff28"/><stop offset="0.16" stop-color="#faff05"/><stop offset="0.2" stop-color="#ffbd00"/><stop offset="0.3" stop-color="#ff4100"/><stop offset="0.4" stop-color="#ff2200"/><stop offset="0.67" stop-color="#ff2200"/><stop offset="0.74" stop-color="#ff3e00"/><stop offset="0.82" stop-color="#ffaf00"/><stop offset="0.86" stop-color="#ffff00"/><stop offset="0.88" stop-color="#d6ff29"/><stop offset="0.9" stop-color="#9cff63"/><stop offset="0.92" stop-color="#61ff9e"/><stop offset="0.94" stop-color="#12ffed"/><stop offset="0.96" stop-color="#00a0ff"/><stop offset="0.98" stop-color="#000bff"/><stop offset="1" stop-color="#000085"/></linearGradient><linearGradient id="g210" gradientUnits="userSpaceOnUse" x1="39.9" y1="91" x2="36.9" y2="97.8"><stop offset="0" stop-color="#000085"/><stop offset="0.02" stop-color="#0000f8"/><stop offset="0.06" stop-color="#00f2ff"/><stop offset="0.08" stop-color="#39ffc6"/><stop offset="0.12" stop-color="#a9ff56"/><stop offset="0.14" stop-color="#dbff24"/><stop offset="0.16" stop-color="#feff01"/><stop offset="0.2" stop-color="#ffb900"/><stop offset="0.3" stop-color="#ff3c00"/><stop offset="0.4" stop-color="#ff1d00"/><stop offset="0.67" stop-color="#ff1d00"/><stop offset="0.74" stop-color="#ff3900"/><stop offset="0.82" stop-color="#ffab00"/><stop offset="0.86" stop-color="#fffb00"/><stop offset="0.88" stop-color="#daff25"/><stop offset="0.9" stop-color="#a0ff5f"/><stop offset="0.92" stop-color="#64ff9b"/><stop offset="0.94" stop-color="#15ffea"/><stop offset="0.96" stop-color="#00a2ff"/><stop offset="0.98" stop-color="#000cff"/><stop offset="1" stop-color="#000085"/></linearGradient><linearGradient id="g211" gradientUnits="userSpaceOnUse" x1="41.1" y1="91.5" x2="37.3" y2="102"><stop offset="0" stop-color="#000085"/><stop offset="0.02" stop-color="#0000f9"/><stop offset="0.06" stop-color="#00f4ff"/><stop offset="0.08" stop-color="#3cffc3"/><stop offset="0.1" stop-color="#79ff86"/><stop offset="0.14" stop-color="#deff21"/><stop offset="0.16" stop-color="#fffc00"/><stop offset="0.2" stop-color="#ffb400"/><stop offset="0.3" stop-color="#ff3700"/><stop offset="0.4" stop-color="#ff1700"/><stop offset="0.67" stop-color="#ff1700"/><stop offset="0.74" stop-color="#ff3400"/><stop offset="0.82" stop-color="#ffa600"/><stop offset="0.86" stop-color="#fff700"/><stop offset="0.88" stop-color="#deff21"/><stop offset="0.92" stop-color="#67ff98"/><stop offset="0.94" stop-color="#17ffe8"/><stop offset="0.96" stop-color="#00a4ff"/><stop offset="0.98" stop-color="#000dff"/><stop offset="1" stop-color="#000085"/></linearGradient><linearGradient id="g212" gradientUnits="userSpaceOnUse" x1="42.4" y1="91.9" x2="38.3" y2="106.1"><stop offset="0" stop-color="#000085"/><stop offset="0.02" stop-color="#0000f9"/><stop offset="0.06" stop-color="#00f6ff"/><stop offset="0.08" stop-color="#3effc1"/><stop offset="0.1" stop-color="#7cff83"/><stop offset="0.14" stop-color="#e2ff1d"/><stop offset="0.16" stop-color="#fff800"/><stop offset="0.2" stop-color="#ffb000"/><stop offset="0.3" stop-color="#ff3200"/><stop offset="0.4" stop-color="#ff1200"/><stop offset="0.67" stop-color="#ff1100"/><stop offset="0.74" stop-color="#ff2e00"/><stop offset="0.82" stop-color="#ffa100"/><stop offset="0.86" stop-color="#fff300"/><stop offset="0.88" stop-color="#e1ff1e"/><stop offset="0.92" stop-color="#6aff95"/><stop offset="0.94" stop-color="#1affe5"/><stop offset="0.96" stop-color="#00a6ff"/><stop offset="0.98" stop-color="#000eff"/><stop offset="1" stop-color="#000085"/></linearGradient><linearGradient id="g213" gradientUnits="userSpaceOnUse" x1="43.6" y1="92.2" x2="39.9" y2="110.1"><stop offset="0" stop-color="#000085"/><stop offset="0.02" stop-color="#0000fa"/><stop offset="0.06" stop-color="#00f9ff"/><stop offset="0.08" stop-color="#41ffbe"/><stop offset="0.1" stop-color="#80ff7f"/><stop offset="0.14" stop-color="#e6ff19"/><stop offset="0.16" stop-color="#fff400"/><stop offset="0.2" stop-color="#ffab00"/><stop offset="0.3" stop-color="#ff2c00"/><stop offset="0.4" stop-color="#ff0c00"/><stop offset="0.67" stop-color="#ff0b00"/><stop offset="0.74" stop-color="#ff2800"/><stop offset="0.82" stop-color="#ff9c00"/><stop offset="0.86" stop-color="#ffee00"/><stop offset="0.88" stop-color="#e6ff19"/><stop offset="0.92" stop-color="#6eff91"/><stop offset="0.94" stop-color="#1dffe2"/><stop offset="0.96" stop-color="#00a7ff"/><stop offset="0.98" stop-color="#000fff"/><stop offset="1" stop-color="#000085"/></linearGradient><linearGradient id="g214" gradientUnits="userSpaceOnUse" x1="44.9" y1="92.5" x2="42" y2="113.8"><stop offset="0" stop-color="#000085"/><stop offset="0.02" stop-color="#0000fb"/><stop offset="0.06" stop-color="#00fbff"/><stop offset="0.08" stop-color="#44ffbb"/><stop offset="0.1" stop-color="#83ff7c"/><stop offset="0.14" stop-color="#eaff15"/><stop offset="0.16" stop-color="#fff000"/><stop offset="0.2" stop-color="#ffa700"/><stop offset="0.3" stop-color="#ff2700"/><stop offset="0.4" stop-color="#ff0700"/><stop offset="0.67" stop-color="#ff0400"/><stop offset="0.74" stop-color="#ff2100"/><stop offset="0.82" stop-color="#ff9600"/><stop offset="0.86" stop-color="#ffe900"/><stop offset="0.88" stop-color="#eaff15"/><stop offset="0.92" stop-color="#71ff8e"/><stop offset="0.94" stop-color="#1fffe0"/><stop offset="0.96" stop-color="#00a9ff"/><stop offset="0.98" stop-color="#0010ff"/><stop offset="1" stop-color="#000085"/></linearGradient><linearGradient id="g215" gradientUnits="userSpaceOnUse" x1="46.3" y1="92.6" x2="44.6" y2="117.1"><stop offset="0" stop-color="#000085"/><stop offset="0.02" stop-color="#0000fc"/><stop offset="0.06" stop-color="#00fdff"/><stop offset="0.08" stop-color="#47ffb8"/><stop offset="0.1" stop-color="#86ff79"/><stop offset="0.14" stop-color="#edff12"/><stop offset="0.16" stop-color="#ffec00"/><stop offset="0.2" stop-color="#ffa200"/><stop offset="0.3" stop-color="#ff2200"/><stop offset="0.4" stop-color="#ff0200"/><stop offset="0.67" stop-color="#fc0000"/><stop offset="0.74" stop-color="#ff1900"/><stop offset="0.82" stop-color="#ff9000"/><stop offset="0.86" stop-color="#ffe400"/><stop offset="0.88" stop-color="#efff10"/><stop offset="0.92" stop-color="#74ff8b"/><stop offset="0.94" stop-color="#22ffdd"/><stop offset="0.96" stop-color="#00abff"/><stop offset="0.98" stop-color="#0011ff"/><stop offset="1" stop-color="#000085"/></linearGradient><linearGradient id="g216" gradientUnits="userSpaceOnUse" x1="47.6" y1="92.6" x2="47.6" y2="120.1"><stop offset="0" stop-color="#000085"/><stop offset="0.02" stop-color="#0000fc"/><stop offset="0.06" stop-color="#00ffff"/><stop offset="0.1" stop-color="#89ff76"/><stop offset="0.14" stop-color="#f1ff0e"/><stop offset="0.16" stop-color="#ffe800"/><stop offset="0.2" stop-color="#ff9e00"/><stop offset="0.3" stop-color="#ff1d00"/><stop offset="0.36" stop-color="#ff0400"/><stop offset="0.4" stop-color="#fb0000"/><stop offset="0.67" stop-color="#f30000"/><stop offset="0.7" stop-color="#fe0000"/><stop offset="0.74" stop-color="#ff1000"/><stop offset="0.82" stop-color="#ff8800"/><stop offset="0.86" stop-color="#ffde00"/><stop offset="0.88" stop-color="#f4ff0b"/><stop offset="0.92" stop-color="#78ff87"/><stop offset="0.94" stop-color="#25ffda"/><stop offset="0.96" stop-color="#00adff"/><stop offset="0.98" stop-color="#0012ff"/><stop offset="1" stop-color="#000085"/></linearGradient><linearGradient id="g217" gradientUnits="userSpaceOnUse" x1="49" y1="92.6" x2="50.9" y2="122.6"><stop offset="0" stop-color="#000085"/><stop offset="0.02" stop-color="#0000fd"/><stop offset="0.06" stop-color="#01fffe"/><stop offset="0.1" stop-color="#8aff75"/><stop offset="0.14" stop-color="#f2ff0d"/><stop offset="0.16" stop-color="#ffe700"/><stop offset="0.2" stop-color="#ff9d00"/><stop offset="0.3" stop-color="#ff1b00"/><stop offset="0.36" stop-color="#ff0300"/><stop offset="0.4" stop-color="#fa0000"/><stop offset="0.67" stop-color="#ed0000"/><stop offset="0.74" stop-color="#ff0800"/><stop offset="0.82" stop-color="#ff8300"/><stop offset="0.86" stop-color="#ffdb00"/><stop offset="0.88" stop-color="#f7ff08"/><stop offset="0.92" stop-color="#7aff85"/><stop offset="0.94" stop-color="#26ffd9"/><stop offset="0.96" stop-color="#00aeff"/><stop offset="0.98" stop-color="#0012ff"/><stop offset="1" stop-color="#000085"/></linearGradient><linearGradient id="g218" gradientUnits="userSpaceOnUse" x1="50.4" y1="92.5" x2="54.5" y2="124.7"><stop offset="0" stop-color="#000085"/><stop offset="0.02" stop-color="#0000fd"/><stop offset="0.06" stop-color="#01fffe"/><stop offset="0.1" stop-color="#8aff75"/><stop offset="0.14" stop-color="#f2ff0d"/><stop offset="0.16" stop-color="#ffe700"/><stop offset="0.2" stop-color="#ff9d00"/><stop offset="0.3" stop-color="#ff1b00"/><stop offset="0.36" stop-color="#ff0300"/><stop offset="0.4" stop-color="#fa0000"/><stop offset="0.55" stop-color="#f60000"/><stop offset="0.67" stop-color="#e70000"/><stop offset="0.74" stop-color="#ff0000"/><stop offset="0.82" stop-color="#ff7e00"/><stop offset="0.86" stop-color="#ffd700"/><stop offset="0.88" stop-color="#f9ff06"/><stop offset="0.92" stop-color="#7bff84"/><stop offset="0.94" stop-color="#27ffd8"/><stop offset="0.96" stop-color="#00aeff"/><stop offset="0.98" stop-color="#0012ff"/><stop offset="1" stop-color="#000085"/></linearGradient><linearGradient id="g219" gradientUnits="userSpaceOnUse" x1="51.9" y1="92.2" x2="58.2" y2="126.4"><stop offset="0" stop-color="#000085"/><stop offset="0.02" stop-color="#0000fd"/><stop offset="0.06" stop-color="#01fffe"/><stop offset="0.1" stop-color="#8aff75"/><stop offset="0.14" stop-color="#f2ff0d"/><stop offset="0.16" stop-color="#ffe700"/><stop offset="0.2" stop-color="#ff9d00"/><stop offset="0.3" stop-color="#ff1b00"/><stop offset="0.36" stop-color="#ff0300"/><stop offset="0.4" stop-color="#fa0000"/><stop offset="0.55" stop-color="#f40000"/><stop offset="0.67" stop-color="#e00000"/><stop offset="0.74" stop-color="#f60000"/><stop offset="0.76" stop-color="#ff1600"/><stop offset="0.82" stop-color="#ff7700"/><stop offset="0.86" stop-color="#ffd300"/><stop offset="0.88" stop-color="#fdff02"/><stop offset="0.92" stop-color="#7dff82"/><stop offset="0.94" stop-color="#28ffd7"/><stop offset="0.96" stop-color="#00afff"/><stop offset="0.98" stop-color="#0012ff"/><stop offset="1" stop-color="#000085"/></linearGradient><linearGradient id="g220" gradientUnits="userSpaceOnUse" x1="53.3" y1="91.9" x2="62.1" y2="127.6"><stop offset="0" stop-color="#000085"/><stop offset="0.02" stop-color="#0000fd"/><stop offset="0.06" stop-color="#01fffe"/><stop offset="0.1" stop-color="#8aff75"/><stop offset="0.14" stop-color="#f2ff0d"/><stop offset="0.16" stop-color="#ffe700"/><stop offset="0.2" stop-color="#ff9d00"/><stop offset="0.3" stop-color="#ff1b00"/><stop offset="0.36" stop-color="#ff0300"/><stop offset="0.4" stop-color="#fa0000"/><stop offset="0.55" stop-color="#f20000"/><stop offset="0.67" stop-color="#d80000"/><stop offset="0.74" stop-color="#ec0000"/><stop offset="0.76" stop-color="#ff0c00"/><stop offset="0.82" stop-color="#ff7000"/><stop offset="0.88" stop-color="#fffe00"/><stop offset="0.92" stop-color="#7eff81"/><stop offset="0.94" stop-color="#29ffd6"/><stop offset="0.96" stop-color="#00afff"/><stop offset="0.98" stop-color="#0012ff"/><stop offset="1" stop-color="#000085"/></linearGradient><linearGradient id="g221" gradientUnits="userSpaceOnUse" x1="54.8" y1="91.5" x2="66" y2="128.4"><stop offset="0" stop-color="#000085"/><stop offset="0.02" stop-color="#0000fd"/><stop offset="0.06" stop-color="#01fffe"/><stop offset="0.1" stop-color="#8aff75"/><stop offset="0.14" stop-color="#f2ff0d"/><stop offset="0.16" stop-color="#ffe700"/><stop offset="0.2" stop-color="#ff9d00"/><stop offset="0.3" stop-color="#ff1b00"/><stop offset="0.36" stop-color="#ff0300"/><stop offset="0.4" stop-color="#fa0000"/><stop offset="0.55" stop-color="#f00000"/><stop offset="0.67" stop-color="#d00000"/><stop offset="0.74" stop-color="#e20000"/><stop offset="0.76" stop-color="#ff0200"/><stop offset="0.82" stop-color="#ff6900"/><stop offset="0.88" stop-color="#fffa00"/><stop offset="0.92" stop-color="#80ff7f"/><stop offset="0.94" stop-color="#2affd5"/><stop offset="0.96" stop-color="#00b0ff"/><stop offset="0.98" stop-color="#0013ff"/><stop offset="1" stop-color="#000085"/></linearGradient><linearGradient id="g222" gradientUnits="userSpaceOnUse" x1="56.2" y1="91.1" x2="69.9" y2="128.9"><stop offset="0" stop-color="#000085"/><stop offset="0.02" stop-color="#0000fc"/><stop offset="0.06" stop-color="#00ffff"/><stop offset="0.1" stop-color="#89ff76"/><stop offset="0.14" stop-color="#f1ff0e"/><stop offset="0.16" stop-color="#ffe900"/><stop offset="0.2" stop-color="#ff9f00"/><stop offset="0.3" stop-color="#ff1e00"/><stop offset="0.36" stop-color="#ff0500"/><stop offset="0.4" stop-color="#fc0000"/><stop offset="0.55" stop-color="#f10000"/><stop offset="0.67" stop-color="#cb0000"/><stop offset="0.74" stop-color="#db0000"/><stop offset="0.76" stop-color="#fb0000"/><stop offset="0.82" stop-color="#ff6500"/><stop offset="0.88" stop-color="#fff900"/><stop offset="0.92" stop-color="#80ff7f"/><stop offset="0.94" stop-color="#2affd5"/><stop offset="0.96" stop-color="#00afff"/><stop offset="0.98" stop-color="#0012ff"/><stop offset="1" stop-color="#000085"/></linearGradient><linearGradient id="g223" gradientUnits="userSpaceOnUse" x1="57.7" y1="90.5" x2="73.9" y2="128.9"><stop offset="0" stop-color="#000085"/><stop offset="0.02" stop-color="#0000fc"/><stop offset="0.06" stop-color="#00fdff"/><stop offset="0.08" stop-color="#47ffb8"/><stop offset="0.1" stop-color="#86ff79"/><stop offset="0.14" stop-color="#eeff11"/><stop offset="0.16" stop-color="#ffec00"/><stop offset="0.2" stop-color="#ffa200"/><stop offset="0.3" stop-color="#ff2200"/><stop offset="0.36" stop-color="#ff0900"/><stop offset="0.45" stop-color="#ff0000"/><stop offset="0.55" stop-color="#f50000"/><stop offset="0.67" stop-color="#cc0000"/><stop offset="0.74" stop-color="#da0000"/><stop offset="0.76" stop-color="#fa0000"/><stop offset="0.82" stop-color="#ff6500"/><stop offset="0.88" stop-color="#fffa00"/><stop offset="0.92" stop-color="#7eff81"/><stop offset="0.94" stop-color="#28ffd7"/><stop offset="0.96" stop-color="#00aeff"/><stop offset="0.98" stop-color="#0012ff"/><stop offset="1" stop-color="#000085"/></linearGradient><linearGradient id="g224" gradientUnits="userSpaceOnUse" x1="59.1" y1="89.8" x2="77.7" y2="128.6"><stop offset="0" stop-color="#000085"/><stop offset="0.02" stop-color="#0000fb"/><stop offset="0.06" stop-color="#00fbff"/><stop offset="0.08" stop-color="#45ffba"/><stop offset="0.1" stop-color="#84ff7b"/><stop offset="0.14" stop-color="#ebff14"/><stop offset="0.16" stop-color="#ffef00"/><stop offset="0.2" stop-color="#ffa600"/><stop offset="0.3" stop-color="#ff2600"/><stop offset="0.4" stop-color="#ff0500"/><stop offset="0.55" stop-color="#f90000"/><stop offset="0.67" stop-color="#cf0000"/><stop offset="0.74" stop-color="#dd0000"/><stop offset="0.76" stop-color="#fd0000"/><stop offset="0.82" stop-color="#ff6800"/><stop offset="0.88" stop-color="#fffd00"/><stop offset="0.92" stop-color="#7cff83"/><stop offset="0.94" stop-color="#26ffd9"/><stop offset="0.96" stop-color="#00adff"/><stop offset="0.98" stop-color="#0011ff"/><stop offset="1" stop-color="#000085"/></linearGradient><linearGradient id="g225" gradientUnits="userSpaceOnUse" x1="60.6" y1="89.1" x2="81.6" y2="128"><stop offset="0" stop-color="#000085"/><stop offset="0.02" stop-color="#0000fa"/><stop offset="0.06" stop-color="#00faff"/><stop offset="0.08" stop-color="#42ffbd"/><stop offset="0.1" stop-color="#81ff7e"/><stop offset="0.14" stop-color="#e8ff17"/><stop offset="0.16" stop-color="#fff200"/><stop offset="0.2" stop-color="#ffa900"/><stop offset="0.3" stop-color="#ff2a00"/><stop offset="0.4" stop-color="#ff0a00"/><stop offset="0.55" stop-color="#fe0000"/><stop offset="0.67" stop-color="#d60000"/><stop offset="0.74" stop-color="#e50000"/><stop offset="0.76" stop-color="#ff0500"/><stop offset="0.82" stop-color="#ff6d00"/><stop offset="0.86" stop-color="#ffd000"/><stop offset="0.88" stop-color="#fdff02"/><stop offset="0.92" stop-color="#79ff86"/><stop offset="0.94" stop-color="#24ffdb"/><stop offset="0.96" stop-color="#00abff"/><stop offset="0.98" stop-color="#0010ff"/><stop offset="1" stop-color="#000085"/></linearGradient><linearGradient id="g226" gradientUnits="userSpaceOnUse" x1="62" y1="88.3" x2="85.3" y2="127.1"><stop offset="0" stop-color="#000085"/><stop offset="0.02" stop-color="#0000fa"/><stop offset="0.06" stop-color="#00f8ff"/><stop offset="0.08" stop-color="#40ffbf"/><stop offset="0.1" stop-color="#7fff80"/><stop offset="0.14" stop-color="#e5ff1a"/><stop offset="0.16" stop-color="#fff500"/><stop offset="0.2" stop-color="#ffac00"/><stop offset="0.3" stop-color="#ff2d00"/><stop offset="0.4" stop-color="#ff0e00"/><stop offset="0.55" stop-color="#ff0400"/><stop offset="0.6" stop-color="#f70000"/><stop offset="0.67" stop-color="#df0000"/><stop offset="0.74" stop-color="#f00000"/><stop offset="0.76" stop-color="#ff0f00"/><stop offset="0.82" stop-color="#ff7600"/><stop offset="0.86" stop-color="#ffd600"/><stop offset="0.88" stop-color="#f8ff07"/><stop offset="0.92" stop-color="#76ff89"/><stop offset="0.94" stop-color="#21ffde"/><stop offset="0.96" stop-color="#00aaff"/><stop offset="0.98" stop-color="#000fff"/><stop offset="1" stop-color="#000085"/></linearGradient><linearGradient id="g227" gradientUnits="userSpaceOnUse" x1="63.4" y1="87.4" x2="88.9" y2="125.9"><stop offset="0" stop-color="#000085"/><stop offset="0.02" stop-color="#0000f9"/><stop offset="0.06" stop-color="#00f6ff"/><stop offset="0.08" stop-color="#3effc1"/><stop offset="0.1" stop-color="#7dff82"/><stop offset="0.14" stop-color="#e3ff1c"/><stop offset="0.16" stop-color="#fff700"/><stop offset="0.2" stop-color="#ffaf00"/><stop offset="0.3" stop-color="#ff3000"/><stop offset="0.4" stop-color="#ff1200"/><stop offset="0.5" stop-color="#ff0f00"/><stop offset="0.6" stop-color="#ff0000"/><stop offset="0.67" stop-color="#eb0000"/><stop offset="0.74" stop-color="#fd0000"/><stop offset="0.82" stop-color="#ff8000"/><stop offset="0.86" stop-color="#ffdd00"/><stop offset="0.88" stop-color="#f2ff0d"/><stop offset="0.92" stop-color="#72ff8d"/><stop offset="0.94" stop-color="#1effe1"/><stop offset="0.96" stop-color="#00a8ff"/><stop offset="0.98" stop-color="#000fff"/><stop offset="1" stop-color="#000085"/></linearGradient><linearGradient id="g228" gradientUnits="userSpaceOnUse" x1="64.8" y1="86.4" x2="92.4" y2="124.5"><stop offset="0" stop-color="#000085"/><stop offset="0.02" stop-color="#0000f9"/><stop offset="0.06" stop-color="#00f4ff"/><stop offset="0.08" stop-color="#3cffc3"/><stop offset="0.1" stop-color="#7bff84"/><stop offset="0.14" stop-color="#e1ff1e"/><stop offset="0.16" stop-color="#fff900"/><stop offset="0.2" stop-color="#ffb000"/><stop offset="0.3" stop-color="#ff3200"/><stop offset="0.4" stop-color="#ff1500"/><stop offset="0.55" stop-color="#ff1000"/><stop offset="0.64" stop-color="#fe0000"/><stop offset="0.67" stop-color="#f70000"/><stop offset="0.74" stop-color="#ff0c00"/><stop offset="0.82" stop-color="#ff8a00"/><stop offset="0.86" stop-color="#ffe500"/><stop offset="0.88" stop-color="#ebff14"/><stop offset="0.92" stop-color="#6eff91"/><stop offset="0.94" stop-color="#1bffe4"/><stop offset="0.96" stop-color="#00a6ff"/><stop offset="0.98" stop-color="#000eff"/><stop offset="1" stop-color="#000085"/></linearGradient><linearGradient id="g229" gradientUnits="userSpaceOnUse" x1="66.2" y1="85.4" x2="95.8" y2="122.9"><stop offset="0" stop-color="#000085"/><stop offset="0.02" stop-color="#0000f8"/><stop offset="0.06" stop-color="#00f3ff"/><stop offset="0.08" stop-color="#3bffc4"/><stop offset="0.1" stop-color="#79ff86"/><stop offset="0.14" stop-color="#dfff20"/><stop offset="0.16" stop-color="#fffa00"/><stop offset="0.2" stop-color="#ffb000"/><stop offset="0.3" stop-color="#ff3200"/><stop offset="0.4" stop-color="#ff1800"/><stop offset="0.55" stop-color="#ff1600"/><stop offset="0.67" stop-color="#ff0300"/><stop offset="0.74" stop-color="#ff1900"/><stop offset="0.82" stop-color="#ff9400"/><stop offset="0.86" stop-color="#ffec00"/><stop offset="0.88" stop-color="#e5ff1a"/><stop offset="0.92" stop-color="#6aff95"/><stop offset="0.94" stop-color="#18ffe7"/><stop offset="0.96" stop-color="#00a4ff"/><stop offset="0.98" stop-color="#000dff"/><stop offset="1" stop-color="#000085"/></linearGradient><linearGradient id="g230" gradientUnits="userSpaceOnUse" x1="67.5" y1="84.3" x2="99" y2="121"><stop offset="0" stop-color="#000085"/><stop offset="0.02" stop-color="#0000f8"/><stop offset="0.06" stop-color="#00f2ff"/><stop offset="0.08" stop-color="#3affc5"/><stop offset="0.1" stop-color="#78ff87"/><stop offset="0.14" stop-color="#dfff20"/><stop offset="0.16" stop-color="#fff900"/><stop offset="0.2" stop-color="#ffaf00"/><stop offset="0.3" stop-color="#ff3000"/><stop offset="0.4" stop-color="#ff1900"/><stop offset="0.55" stop-color="#ff1b00"/><stop offset="0.67" stop-color="#ff0c00"/><stop offset="0.74" stop-color="#ff2300"/><stop offset="0.82" stop-color="#ff9c00"/><stop offset="0.86" stop-color="#fff200"/><stop offset="0.88" stop-color="#e0ff1f"/><stop offset="0.92" stop-color="#66ff99"/><stop offset="0.94" stop-color="#16ffe9"/><stop offset="0.96" stop-color="#00a2ff"/><stop offset="0.98" stop-color="#000cff"/><stop offset="1" stop-color="#000085"/></linearGradient><linearGradient id="g231" gradientUnits="userSpaceOnUse" x1="68.8" y1="83.1" x2="102.2" y2="118.9"><stop offset="0" stop-color="#000085"/><stop offset="0.02" stop-color="#0000f7"/><stop offset="0.06" stop-color="#00f1ff"/><stop offset="0.08" stop-color="#39ffc6"/><stop offset="0.1" stop-color="#78ff87"/><stop offset="0.14" stop-color="#e1ff1e"/><stop offset="0.16" stop-color="#fff700"/><stop offset="0.2" stop-color="#ffaa00"/><stop offset="0.3" stop-color="#ff2b00"/><stop offset="0.36" stop-color="#ff1b00"/><stop offset="0.55" stop-color="#ff2000"/><stop offset="0.67" stop-color="#ff1200"/><stop offset="0.74" stop-color="#ff2800"/><stop offset="0.82" stop-color="#ffa100"/><stop offset="0.86" stop-color="#fff700"/><stop offset="0.88" stop-color="#dcff23"/><stop offset="0.92" stop-color="#63ff9c"/><stop offset="0.94" stop-color="#13ffec"/><stop offset="0.96" stop-color="#00a0ff"/><stop offset="0.98" stop-color="#000bff"/><stop offset="1" stop-color="#000085"/></linearGradient><linearGradient id="g232" gradientUnits="userSpaceOnUse" x1="70.1" y1="81.9" x2="105.1" y2="116.7"><stop offset="0" stop-color="#000085"/><stop offset="0.02" stop-color="#0000f7"/><stop offset="0.06" stop-color="#00f0ff"/><stop offset="0.08" stop-color="#38ffc7"/><stop offset="0.1" stop-color="#78ff87"/><stop offset="0.14" stop-color="#e3ff1c"/><stop offset="0.16" stop-color="#fff300"/><stop offset="0.2" stop-color="#ffa300"/><stop offset="0.22" stop-color="#ff8500"/><stop offset="0.3" stop-color="#ff2300"/><stop offset="0.36" stop-color="#ff1800"/><stop offset="0.55" stop-color="#ff2600"/><stop offset="0.67" stop-color="#ff1500"/><stop offset="0.74" stop-color="#ff2900"/><stop offset="0.82" stop-color="#ffa300"/><stop offset="0.86" stop-color="#fff900"/><stop offset="0.88" stop-color="#d9ff26"/><stop offset="0.9" stop-color="#9dff62"/><stop offset="0.92" stop-color="#60ff9f"/><stop offset="0.94" stop-color="#11ffee"/><stop offset="0.96" stop-color="#009eff"/><stop offset="0.98" stop-color="#000aff"/><stop offset="1" stop-color="#000085"/></linearGradient><linearGradient id="g233" gradientUnits="userSpaceOnUse" x1="71.4" y1="80.6" x2="107.9" y2="114.2"><stop offset="0" stop-color="#000085"/><stop offset="0.02" stop-color="#0000f6"/><stop offset="0.06" stop-color="#00efff"/><stop offset="0.08" stop-color="#39ffc6"/><stop offset="0.1" stop-color="#79ff86"/><stop offset="0.14" stop-color="#e8ff17"/><stop offset="0.16" stop-color="#ffed00"/><stop offset="0.2" stop-color="#ff9900"/><stop offset="0.28" stop-color="#ff2d00"/><stop offset="0.3" stop-color="#ff1700"/><stop offset="0.36" stop-color="#ff1200"/><stop offset="0.5" stop-color="#ff2a00"/><stop offset="0.6" stop-color="#ff2400"/><stop offset="0.67" stop-color="#ff1300"/><stop offset="0.74" stop-color="#ff2300"/><stop offset="0.82" stop-color="#ffa000"/><stop offset="0.86" stop-color="#fffa00"/><stop offset="0.88" stop-color="#d7ff28"/><stop offset="0.92" stop-color="#5effa1"/><stop offset="0.94" stop-color="#0ffff0"/><stop offset="0.96" stop-color="#009dff"/><stop offset="0.98" stop-color="#000aff"/><stop offset="1" stop-color="#000085"/></linearGradient><linearGradient id="g234" gradientUnits="userSpaceOnUse" x1="72.6" y1="79.2" x2="110.6" y2="111.6"><stop offset="0" stop-color="#000085"/><stop offset="0.02" stop-color="#0000f6"/><stop offset="0.06" stop-color="#00efff"/><stop offset="0.08" stop-color="#39ffc6"/><stop offset="0.14" stop-color="#edff12"/><stop offset="0.16" stop-color="#ffe500"/><stop offset="0.2" stop-color="#ff8c00"/><stop offset="0.26" stop-color="#ff3400"/><stop offset="0.3" stop-color="#ff0800"/><stop offset="0.33" stop-color="#ff0700"/><stop offset="0.5" stop-color="#ff2e00"/><stop offset="0.6" stop-color="#ff2500"/><stop offset="0.67" stop-color="#ff0c00"/><stop offset="0.74" stop-color="#ff1600"/><stop offset="0.82" stop-color="#ff9a00"/><stop offset="0.86" stop-color="#fff800"/><stop offset="0.88" stop-color="#d8ff27"/><stop offset="0.92" stop-color="#5dffa2"/><stop offset="0.94" stop-color="#0dfff2"/><stop offset="0.96" stop-color="#009bff"/><stop offset="0.98" stop-color="#0009ff"/><stop offset="1" stop-color="#000085"/></linearGradient><linearGradient id="g235" gradientUnits="userSpaceOnUse" x1="73.7" y1="77.8" x2="113.1" y2="108.9"><stop offset="0" stop-color="#000085"/><stop offset="0.02" stop-color="#0000f6"/><stop offset="0.06" stop-color="#00efff"/><stop offset="0.08" stop-color="#3affc5"/><stop offset="0.14" stop-color="#f4ff0b"/><stop offset="0.16" stop-color="#ffdc00"/><stop offset="0.2" stop-color="#ff7f00"/><stop offset="0.22" stop-color="#ff5b00"/><stop offset="0.28" stop-color="#ff0b00"/><stop offset="0.3" stop-color="#f70000"/><stop offset="0.36" stop-color="#ff0100"/><stop offset="0.45" stop-color="#ff2700"/><stop offset="0.5" stop-color="#ff3100"/><stop offset="0.6" stop-color="#ff2500"/><stop offset="0.67" stop-color="#ff0200"/><stop offset="0.74" stop-color="#ff0500"/><stop offset="0.82" stop-color="#ff9000"/><stop offset="0.86" stop-color="#fff400"/><stop offset="0.88" stop-color="#d9ff26"/><stop offset="0.92" stop-color="#5cffa3"/><stop offset="0.94" stop-color="#0bfff4"/><stop offset="0.96" stop-color="#009aff"/><stop offset="0.98" stop-color="#0008ff"/><stop offset="1" stop-color="#000085"/></linearGradient><linearGradient id="g236" gradientUnits="userSpaceOnUse" x1="74.8" y1="76.4" x2="115.5" y2="106.1"><stop offset="0" stop-color="#000085"/><stop offset="0.02" stop-color="#0000f5"/><stop offset="0.06" stop-color="#00eeff"/><stop offset="0.08" stop-color="#3affc5"/><stop offset="0.14" stop-color="#f9ff06"/><stop offset="0.2" stop-color="#ff7200"/><stop offset="0.22" stop-color="#ff4d00"/><stop offset="0.26" stop-color="#ff1300"/><stop offset="0.28" stop-color="#fb0000"/><stop offset="0.3" stop-color="#e80000"/><stop offset="0.36" stop-color="#f80000"/><stop offset="0.45" stop-color="#ff2800"/><stop offset="0.5" stop-color="#ff3500"/><stop offset="0.55" stop-color="#ff3400"/><stop offset="0.6" stop-color="#ff2500"/><stop offset="0.67" stop-color="#f60000"/><stop offset="0.74" stop-color="#f10000"/><stop offset="0.76" stop-color="#ff1100"/><stop offset="0.8" stop-color="#ff5c00"/><stop offset="0.82" stop-color="#ff8500"/><stop offset="0.86" stop-color="#ffef00"/><stop offset="0.88" stop-color="#dbff24"/><stop offset="0.92" stop-color="#5bffa4"/><stop offset="0.94" stop-color="#0afff5"/><stop offset="0.96" stop-color="#0099ff"/><stop offset="0.98" stop-color="#0007ff"/><stop offset="1" stop-color="#000085"/></linearGradient><linearGradient id="g237" gradientUnits="userSpaceOnUse" x1="75.9" y1="74.9" x2="117.6" y2="103.1"><stop offset="0" stop-color="#000085"/><stop offset="0.02" stop-color="#0000f5"/><stop offset="0.06" stop-color="#00eeff"/><stop offset="0.08" stop-color="#3affc5"/><stop offset="0.14" stop-color="#fdff02"/><stop offset="0.2" stop-color="#ff6a00"/><stop offset="0.22" stop-color="#ff4300"/><stop offset="0.26" stop-color="#ff0700"/><stop offset="0.28" stop-color="#f00000"/><stop offset="0.3" stop-color="#de0000"/><stop offset="0.36" stop-color="#f30000"/><stop offset="0.4" stop-color="#ff0c00"/><stop offset="0.45" stop-color="#ff2a00"/><stop offset="0.5" stop-color="#ff3900"/><stop offset="0.55" stop-color="#ff3800"/><stop offset="0.6" stop-color="#ff2500"/><stop offset="0.64" stop-color="#ff0900"/><stop offset="0.72" stop-color="#df0000"/><stop offset="0.74" stop-color="#e20000"/><stop offset="0.76" stop-color="#ff0300"/><stop offset="0.82" stop-color="#ff7d00"/><stop offset="0.86" stop-color="#ffec00"/><stop offset="0.88" stop-color="#ddff22"/><stop offset="0.92" stop-color="#59ffa6"/><stop offset="0.94" stop-color="#08fff7"/><stop offset="0.96" stop-color="#0097ff"/><stop offset="0.98" stop-color="#0007ff"/><stop offset="1" stop-color="#000085"/></linearGradient><linearGradient id="g238" gradientUnits="userSpaceOnUse" x1="76.9" y1="73.3" x2="119.7" y2="100"><stop offset="0" stop-color="#000085"/><stop offset="0.02" stop-color="#0000f4"/><stop offset="0.04" stop-color="#0070ff"/><stop offset="0.06" stop-color="#00ecff"/><stop offset="0.08" stop-color="#39ffc6"/><stop offset="0.14" stop-color="#fdff02"/><stop offset="0.2" stop-color="#ff6700"/><stop offset="0.22" stop-color="#ff4000"/><stop offset="0.26" stop-color="#ff0300"/><stop offset="0.28" stop-color="#ec0000"/><stop offset="0.3" stop-color="#db0000"/><stop offset="0.36" stop-color="#f20000"/><stop offset="0.4" stop-color="#ff0e00"/><stop offset="0.45" stop-color="#ff2e00"/><stop offset="0.5" stop-color="#ff3d00"/><stop offset="0.55" stop-color="#ff3c00"/><stop offset="0.6" stop-color="#ff2800"/><stop offset="0.64" stop-color="#ff0800"/><stop offset="0.67" stop-color="#eb0000"/><stop offset="0.72" stop-color="#da0000"/><stop offset="0.74" stop-color="#dc0000"/><stop offset="0.76" stop-color="#fc0000"/><stop offset="0.78" stop-color="#ff2200"/><stop offset="0.82" stop-color="#ff7a00"/><stop offset="0.86" stop-color="#ffec00"/><stop offset="0.88" stop-color="#dcff23"/><stop offset="0.92" stop-color="#57ffa8"/><stop offset="0.94" stop-color="#06fff9"/><stop offset="0.96" stop-color="#0096ff"/><stop offset="0.98" stop-color="#0006ff"/><stop offset="1" stop-color="#000085"/></linearGradient><linearGradient id="g239" gradientUnits="userSpaceOnUse" x1="77.8" y1="71.8" x2="121.5" y2="96.8"><stop offset="0" stop-color="#000085"/><stop offset="0.02" stop-color="#0000f2"/><stop offset="0.04" stop-color="#006dff"/><stop offset="0.06" stop-color="#00e7ff"/><stop offset="0.08" stop-color="#32ffcd"/><stop offset="0.14" stop-color="#f4ff0b"/><stop offset="0.16" stop-color="#ffd700"/><stop offset="0.2" stop-color="#ff7100"/><stop offset="0.22" stop-color="#ff4a00"/><stop offset="0.26" stop-color="#ff0f00"/><stop offset="0.28" stop-color="#f70000"/><stop offset="0.3" stop-color="#e70000"/><stop offset="0.36" stop-color="#fe0000"/><stop offset="0.45" stop-color="#ff3a00"/><stop offset="0.5" stop-color="#ff4900"/><stop offset="0.55" stop-color="#ff4800"/><stop offset="0.6" stop-color="#ff3400"/><stop offset="0.67" stop-color="#f70000"/><stop offset="0.72" stop-color="#e60000"/><stop offset="0.74" stop-color="#e80000"/><stop offset="0.76" stop-color="#ff0800"/><stop offset="0.82" stop-color="#ff8400"/><stop offset="0.86" stop-color="#fff500"/><stop offset="0.88" stop-color="#d3ff2c"/><stop offset="0.92" stop-color="#51ffae"/><stop offset="0.94" stop-color="#01fffe"/><stop offset="0.96" stop-color="#0091ff"/><stop offset="0.98" stop-color="#0004ff"/><stop offset="1" stop-color="#000085"/></linearGradient><linearGradient id="g240" gradientUnits="userSpaceOnUse" x1="78.7" y1="70.2" x2="123.1" y2="93.5"><stop offset="0" stop-color="#000085"/><stop offset="0.02" stop-color="#0000f0"/><stop offset="0.04" stop-color="#0067ff"/><stop offset="0.06" stop-color="#00deff"/><stop offset="0.08" stop-color="#28ffd7"/><stop offset="0.14" stop-color="#e4ff1b"/><stop offset="0.16" stop-color="#ffe900"/><stop offset="0.2" stop-color="#ff8700"/><stop offset="0.22" stop-color="#ff6200"/><stop offset="0.26" stop-color="#ff2800"/><stop offset="0.3" stop-color="#ff0200"/><stop offset="0.36" stop-color="#ff1700"/><stop offset="0.45" stop-color="#ff4e00"/><stop offset="0.5" stop-color="#ff5c00"/><stop offset="0.55" stop-color="#ff5b00"/><stop offset="0.6" stop-color="#ff4900"/><stop offset="0.67" stop-color="#ff1300"/><stop offset="0.7" stop-color="#ff0700"/><stop offset="0.74" stop-color="#ff0700"/><stop offset="0.8" stop-color="#ff7100"/><stop offset="0.84" stop-color="#ffd100"/><stop offset="0.86" stop-color="#f7ff08"/><stop offset="0.88" stop-color="#c4ff3b"/><stop offset="0.94" stop-color="#00f7ff"/><stop offset="0.96" stop-color="#008bff"/><stop offset="0.98" stop-color="#0001ff"/><stop offset="1" stop-color="#000085"/></linearGradient><linearGradient id="g241" gradientUnits="userSpaceOnUse" x1="79.5" y1="68.6" x2="124.6" y2="90.1"><stop offset="0" stop-color="#000085"/><stop offset="0.02" stop-color="#0000ed"/><stop offset="0.04" stop-color="#0061ff"/><stop offset="0.06" stop-color="#00d5ff"/><stop offset="0.08" stop-color="#1cffe3"/><stop offset="0.14" stop-color="#d0ff2f"/><stop offset="0.16" stop-color="#feff01"/><stop offset="0.2" stop-color="#ffa300"/><stop offset="0.22" stop-color="#ff8000"/><stop offset="0.26" stop-color="#ff4900"/><stop offset="0.3" stop-color="#ff2300"/><stop offset="0.36" stop-color="#ff3400"/><stop offset="0.45" stop-color="#ff6300"/><stop offset="0.5" stop-color="#ff7000"/><stop offset="0.55" stop-color="#ff7000"/><stop offset="0.6" stop-color="#ff6000"/><stop offset="0.67" stop-color="#ff3300"/><stop offset="0.74" stop-color="#ff2d00"/><stop offset="0.8" stop-color="#ff9100"/><stop offset="0.84" stop-color="#ffe900"/><stop offset="0.86" stop-color="#e2ff1d"/><stop offset="0.88" stop-color="#b2ff4d"/><stop offset="0.92" stop-color="#39ffc6"/><stop offset="0.94" stop-color="#00edff"/><stop offset="0.96" stop-color="#0085ff"/><stop offset="0.98" stop-color="#0000fd"/><stop offset="1" stop-color="#000085"/></linearGradient><linearGradient id="g242" gradientUnits="userSpaceOnUse" x1="80.2" y1="66.9" x2="125.9" y2="86.6"><stop offset="0" stop-color="#000085"/><stop offset="0.02" stop-color="#0000ea"/><stop offset="0.04" stop-color="#005bff"/><stop offset="0.06" stop-color="#00cbff"/><stop offset="0.08" stop-color="#0ffff0"/><stop offset="0.14" stop-color="#baff45"/><stop offset="0.16" stop-color="#e4ff1b"/><stop offset="0.18" stop-color="#ffee00"/><stop offset="0.2" stop-color="#ffc300"/><stop offset="0.24" stop-color="#ff8700"/><stop offset="0.3" stop-color="#ff4900"/><stop offset="0.36" stop-color="#ff5300"/><stop offset="0.45" stop-color="#ff7a00"/><stop offset="0.5" stop-color="#ff8400"/><stop offset="0.6" stop-color="#ff7900"/><stop offset="0.67" stop-color="#ff5700"/><stop offset="0.74" stop-color="#ff5700"/><stop offset="0.82" stop-color="#ffd700"/><stop offset="0.84" stop-color="#faff05"/><stop offset="0.88" stop-color="#9fff60"/><stop offset="0.92" stop-color="#2dffd2"/><stop offset="0.94" stop-color="#00e3ff"/><stop offset="0.96" stop-color="#007eff"/><stop offset="0.98" stop-color="#0000fa"/><stop offset="1" stop-color="#000085"/></linearGradient><linearGradient id="g243" gradientUnits="userSpaceOnUse" x1="80.9" y1="65.2" x2="126.9" y2="83"><stop offset="0" stop-color="#000085"/><stop offset="0.02" stop-color="#0000e8"/><stop offset="0.04" stop-color="#0055ff"/><stop offset="0.06" stop-color="#00c2ff"/><stop offset="0.08" stop-color="#04fffb"/><stop offset="0.14" stop-color="#a4ff5b"/><stop offset="0.18" stop-color="#f3ff0c"/><stop offset="0.2" stop-color="#ffe300"/><stop offset="0.24" stop-color="#ffab00"/><stop offset="0.3" stop-color="#ff6e00"/><stop offset="0.36" stop-color="#ff7200"/><stop offset="0.5" stop-color="#ff9700"/><stop offset="0.55" stop-color="#ff9700"/><stop offset="0.67" stop-color="#ff7800"/><stop offset="0.7" stop-color="#ff7800"/><stop offset="0.74" stop-color="#ff7f00"/><stop offset="0.82" stop-color="#fff400"/><stop offset="0.84" stop-color="#e1ff1e"/><stop offset="0.88" stop-color="#8eff71"/><stop offset="0.92" stop-color="#21ffde"/><stop offset="0.94" stop-color="#00daff"/><stop offset="0.96" stop-color="#0078ff"/><stop offset="0.98" stop-color="#0000f7"/><stop offset="1" stop-color="#000085"/></linearGradient><linearGradient id="g244" gradientUnits="userSpaceOnUse" x1="81.5" y1="63.6" x2="127.8" y2="79.4"><stop offset="0" stop-color="#000085"/><stop offset="0.02" stop-color="#0000e6"/><stop offset="0.04" stop-color="#0050ff"/><stop offset="0.06" stop-color="#00b9ff"/><stop offset="0.08" stop-color="#00f7ff"/><stop offset="0.1" stop-color="#30ffcf"/><stop offset="0.14" stop-color="#90ff6f"/><stop offset="0.2" stop-color="#fdff02"/><stop offset="0.3" stop-color="#ff9100"/><stop offset="0.33" stop-color="#ff8e00"/><stop offset="0.5" stop-color="#ffa800"/><stop offset="0.6" stop-color="#ffa400"/><stop offset="0.67" stop-color="#ff9500"/><stop offset="0.72" stop-color="#ff9d00"/><stop offset="0.74" stop-color="#ffa200"/><stop offset="0.8" stop-color="#fff100"/><stop offset="0.82" stop-color="#f1ff0e"/><stop offset="0.84" stop-color="#cbff34"/><stop offset="0.88" stop-color="#7eff81"/><stop offset="0.92" stop-color="#17ffe8"/><stop offset="0.94" stop-color="#00d2ff"/><stop offset="0.96" stop-color="#0072ff"/><stop offset="0.98" stop-color="#0000f5"/><stop offset="1" stop-color="#000085"/></linearGradient><linearGradient id="g245" gradientUnits="userSpaceOnUse" x1="82" y1="61.9" x2="128.4" y2="75.7"><stop offset="0" stop-color="#000085"/><stop offset="0.02" stop-color="#0000e3"/><stop offset="0.04" stop-color="#004bff"/><stop offset="0.06" stop-color="#00b1ff"/><stop offset="0.08" stop-color="#00edff"/><stop offset="0.1" stop-color="#23ffdc"/><stop offset="0.14" stop-color="#7dff82"/><stop offset="0.2" stop-color="#e2ff1d"/><stop offset="0.22" stop-color="#fbff04"/><stop offset="0.3" stop-color="#ffb100"/><stop offset="0.36" stop-color="#ffaa00"/><stop offset="0.5" stop-color="#ffb900"/><stop offset="0.67" stop-color="#ffae00"/><stop offset="0.74" stop-color="#ffbf00"/><stop offset="0.78" stop-color="#fff000"/><stop offset="0.8" stop-color="#f5ff0a"/><stop offset="0.82" stop-color="#dbff24"/><stop offset="0.88" stop-color="#70ff8f"/><stop offset="0.92" stop-color="#0dfff2"/><stop offset="0.94" stop-color="#00caff"/><stop offset="0.96" stop-color="#006dff"/><stop offset="0.98" stop-color="#0000f2"/><stop offset="1" stop-color="#000085"/></linearGradient><linearGradient id="g246" gradientUnits="userSpaceOnUse" x1="82.5" y1="60.2" x2="128.8" y2="72"><stop offset="0" stop-color="#000085"/><stop offset="0.02" stop-color="#0000e1"/><stop offset="0.04" stop-color="#0047ff"/><stop offset="0.06" stop-color="#00abff"/><stop offset="0.08" stop-color="#00e4ff"/><stop offset="0.1" stop-color="#18ffe7"/><stop offset="0.14" stop-color="#6eff91"/><stop offset="0.2" stop-color="#cdff32"/><stop offset="0.24" stop-color="#faff05"/><stop offset="0.3" stop-color="#ffca00"/><stop offset="0.36" stop-color="#ffbf00"/><stop offset="0.55" stop-color="#ffc700"/><stop offset="0.67" stop-color="#ffc000"/><stop offset="0.74" stop-color="#ffd300"/><stop offset="0.76" stop-color="#ffea00"/><stop offset="0.78" stop-color="#fcff03"/><stop offset="0.82" stop-color="#cbff34"/><stop offset="0.88" stop-color="#65ff9a"/><stop offset="0.92" stop-color="#05fffa"/><stop offset="0.94" stop-color="#00c4ff"/><stop offset="0.96" stop-color="#0069ff"/><stop offset="0.98" stop-color="#0000f0"/><stop offset="1" stop-color="#000085"/></linearGradient><linearGradient id="g247" gradientUnits="userSpaceOnUse" x1="82.9" y1="58.5" x2="128.9" y2="68.2"><stop offset="0" stop-color="#000085"/><stop offset="0.02" stop-color="#0000e1"/><stop offset="0.04" stop-color="#0045ff"/><stop offset="0.06" stop-color="#00a8ff"/><stop offset="0.08" stop-color="#00e0ff"/><stop offset="0.1" stop-color="#13ffec"/><stop offset="0.14" stop-color="#66ff99"/><stop offset="0.2" stop-color="#c1ff3e"/><stop offset="0.26" stop-color="#fffe00"/><stop offset="0.3" stop-color="#ffd800"/><stop offset="0.4" stop-color="#ffc700"/><stop offset="0.67" stop-color="#ffc700"/><stop offset="0.74" stop-color="#ffda00"/><stop offset="0.76" stop-color="#fff100"/><stop offset="0.78" stop-color="#f5ff0a"/><stop offset="0.82" stop-color="#c5ff3a"/><stop offset="0.88" stop-color="#61ff9e"/><stop offset="0.92" stop-color="#02fffd"/><stop offset="0.94" stop-color="#00c2ff"/><stop offset="0.96" stop-color="#0067ff"/><stop offset="0.98" stop-color="#0000ef"/><stop offset="1" stop-color="#000085"/></linearGradient><linearGradient id="g248" gradientUnits="userSpaceOnUse" x1="83.2" y1="56.9" x2="128.8" y2="64.4"><stop offset="0" stop-color="#000085"/><stop offset="0.02" stop-color="#0000e0"/><stop offset="0.04" stop-color="#0043ff"/><stop offset="0.06" stop-color="#00a5ff"/><stop offset="0.08" stop-color="#00ddff"/><stop offset="0.1" stop-color="#0ffff0"/><stop offset="0.14" stop-color="#60ff9f"/><stop offset="0.2" stop-color="#b8ff47"/><stop offset="0.26" stop-color="#f5ff0a"/><stop offset="0.28" stop-color="#fff600"/><stop offset="0.3" stop-color="#ffe300"/><stop offset="0.36" stop-color="#ffd300"/><stop offset="0.67" stop-color="#ffcb00"/><stop offset="0.74" stop-color="#ffdc00"/><stop offset="0.76" stop-color="#fff300"/><stop offset="0.78" stop-color="#f3ff0c"/><stop offset="0.82" stop-color="#c2ff3d"/><stop offset="0.88" stop-color="#5effa1"/><stop offset="0.92" stop-color="#00feff"/><stop offset="0.94" stop-color="#00bfff"/><stop offset="0.96" stop-color="#0065ff"/><stop offset="0.98" stop-color="#0000ef"/><stop offset="1" stop-color="#000085"/></linearGradient><linearGradient id="g249" gradientUnits="userSpaceOnUse" x1="83.4" y1="55.2" x2="128.4" y2="60.6"><stop offset="0" stop-color="#000085"/><stop offset="0.02" stop-color="#0000df"/><stop offset="0.04" stop-color="#0042ff"/><stop offset="0.06" stop-color="#00a2ff"/><stop offset="0.08" stop-color="#00daff"/><stop offset="0.1" stop-color="#0bfff4"/><stop offset="0.14" stop-color="#5bffa4"/><stop offset="0.2" stop-color="#b0ff4f"/><stop offset="0.28" stop-color="#fffe00"/><stop offset="0.3" stop-color="#ffeb00"/><stop offset="0.36" stop-color="#ffda00"/><stop offset="0.67" stop-color="#ffcc00"/><stop offset="0.74" stop-color="#ffd900"/><stop offset="0.76" stop-color="#fff000"/><stop offset="0.78" stop-color="#f6ff09"/><stop offset="0.82" stop-color="#c3ff3c"/><stop offset="0.88" stop-color="#5bffa4"/><stop offset="0.92" stop-color="#00fcff"/><stop offset="0.94" stop-color="#00bdff"/><stop offset="0.96" stop-color="#0064ff"/><stop offset="0.98" stop-color="#0000ee"/><stop offset="1" stop-color="#000085"/></linearGradient><linearGradient id="g250" gradientUnits="userSpaceOnUse" x1="83.6" y1="53.6" x2="127.7" y2="56.9"><stop offset="0" stop-color="#000085"/><stop offset="0.02" stop-color="#0000df"/><stop offset="0.04" stop-color="#0040ff"/><stop offset="0.06" stop-color="#00a0ff"/><stop offset="0.08" stop-color="#00d7ff"/><stop offset="0.1" stop-color="#08fff7"/><stop offset="0.14" stop-color="#57ffa8"/><stop offset="0.2" stop-color="#abff54"/><stop offset="0.28" stop-color="#f9ff06"/><stop offset="0.36" stop-color="#ffe000"/><stop offset="0.6" stop-color="#ffd800"/><stop offset="0.67" stop-color="#ffc900"/><stop offset="0.74" stop-color="#ffd100"/><stop offset="0.76" stop-color="#ffe800"/><stop offset="0.78" stop-color="#fdff02"/><stop offset="0.82" stop-color="#c6ff39"/><stop offset="0.88" stop-color="#59ffa6"/><stop offset="0.92" stop-color="#00faff"/><stop offset="0.94" stop-color="#00bbff"/><stop offset="0.96" stop-color="#0062ff"/><stop offset="0.98" stop-color="#0000ed"/><stop offset="1" stop-color="#000085"/></linearGradient><linearGradient id="g251" gradientUnits="userSpaceOnUse" x1="83.7" y1="52" x2="126.7" y2="53.1"><stop offset="0" stop-color="#000085"/><stop offset="0.02" stop-color="#0000de"/><stop offset="0.04" stop-color="#003fff"/><stop offset="0.06" stop-color="#009eff"/><stop offset="0.1" stop-color="#05fffa"/><stop offset="0.14" stop-color="#53ffac"/><stop offset="0.2" stop-color="#a6ff59"/><stop offset="0.28" stop-color="#f3ff0c"/><stop offset="0.3" stop-color="#fff800"/><stop offset="0.4" stop-color="#ffe000"/><stop offset="0.6" stop-color="#ffdb00"/><stop offset="0.7" stop-color="#ffc300"/><stop offset="0.74" stop-color="#ffc600"/><stop offset="0.78" stop-color="#fff900"/><stop offset="0.82" stop-color="#caff35"/><stop offset="0.88" stop-color="#58ffa7"/><stop offset="0.92" stop-color="#00f7ff"/><stop offset="0.94" stop-color="#00b9ff"/><stop offset="0.96" stop-color="#0060ff"/><stop offset="0.98" stop-color="#0000ec"/><stop offset="1" stop-color="#000085"/></linearGradient><linearGradient id="g252" gradientUnits="userSpaceOnUse" x1="83.7" y1="50.4" x2="125.4" y2="49.5"><stop offset="0" stop-color="#000085"/><stop offset="0.02" stop-color="#0000dd"/><stop offset="0.04" stop-color="#003dff"/><stop offset="0.06" stop-color="#009cff"/><stop offset="0.1" stop-color="#02fffd"/><stop offset="0.14" stop-color="#4fffb0"/><stop offset="0.2" stop-color="#a1ff5e"/><stop offset="0.3" stop-color="#fffd00"/><stop offset="0.4" stop-color="#ffe500"/><stop offset="0.6" stop-color="#ffdf00"/><stop offset="0.67" stop-color="#ffc300"/><stop offset="0.72" stop-color="#ffbb00"/><stop offset="0.74" stop-color="#ffbe00"/><stop offset="0.78" stop-color="#fff200"/><stop offset="0.8" stop-color="#edff12"/><stop offset="0.82" stop-color="#cdff32"/><stop offset="0.88" stop-color="#56ffa9"/><stop offset="0.9" stop-color="#26ffd9"/><stop offset="0.92" stop-color="#00f5ff"/><stop offset="0.94" stop-color="#00b7ff"/><stop offset="0.96" stop-color="#005fff"/><stop offset="0.98" stop-color="#0000ec"/><stop offset="1" stop-color="#000085"/></linearGradient><linearGradient id="g253" gradientUnits="userSpaceOnUse" x1="83.6" y1="48.8" x2="123.7" y2="45.9"><stop offset="0" stop-color="#000085"/><stop offset="0.02" stop-color="#0000dd"/><stop offset="0.04" stop-color="#003cff"/><stop offset="0.06" stop-color="#009aff"/><stop offset="0.08" stop-color="#00cfff"/><stop offset="0.1" stop-color="#00feff"/><stop offset="0.12" stop-color="#26ffd9"/><stop offset="0.14" stop-color="#4cffb3"/><stop offset="0.2" stop-color="#9dff62"/><stop offset="0.3" stop-color="#fcff03"/><stop offset="0.4" stop-color="#ffea00"/><stop offset="0.6" stop-color="#ffe300"/><stop offset="0.67" stop-color="#ffc500"/><stop offset="0.72" stop-color="#ffba00"/><stop offset="0.74" stop-color="#ffbc00"/><stop offset="0.78" stop-color="#fff100"/><stop offset="0.8" stop-color="#edff12"/><stop offset="0.82" stop-color="#ccff33"/><stop offset="0.88" stop-color="#54ffab"/><stop offset="0.9" stop-color="#24ffdb"/><stop offset="0.92" stop-color="#00f3ff"/><stop offset="0.94" stop-color="#00b5ff"/><stop offset="0.96" stop-color="#005dff"/><stop offset="0.98" stop-color="#0000eb"/><stop offset="1" stop-color="#000085"/></linearGradient><linearGradient id="g254" gradientUnits="userSpaceOnUse" x1="83.5" y1="47.3" x2="121.7" y2="42.5"><stop offset="0" stop-color="#000085"/><stop offset="0.02" stop-color="#0000dc"/><stop offset="0.04" stop-color="#003bff"/><stop offset="0.06" stop-color="#0098ff"/><stop offset="0.08" stop-color="#00cdff"/><stop offset="0.1" stop-color="#00fbff"/><stop offset="0.12" stop-color="#23ffdc"/><stop offset="0.14" stop-color="#48ffb7"/><stop offset="0.2" stop-color="#99ff66"/><stop offset="0.3" stop-color="#f7ff08"/><stop offset="0.4" stop-color="#ffef00"/><stop offset="0.6" stop-color="#ffe800"/><stop offset="0.67" stop-color="#ffcb00"/><stop offset="0.72" stop-color="#ffc100"/><stop offset="0.74" stop-color="#ffc300"/><stop offset="0.78" stop-color="#fff700"/><stop offset="0.82" stop-color="#c6ff39"/><stop offset="0.88" stop-color="#50ffaf"/><stop offset="0.9" stop-color="#20ffdf"/><stop offset="0.92" stop-color="#00f0ff"/><stop offset="0.94" stop-color="#00b2ff"/><stop offset="0.96" stop-color="#005cff"/><stop offset="0.98" stop-color="#0000ea"/><stop offset="1" stop-color="#000085"/></linearGradient><linearGradient id="g255" gradientUnits="userSpaceOnUse" x1="83.2" y1="45.8" x2="119.4" y2="39.2"><stop offset="0" stop-color="#000085"/><stop offset="0.02" stop-color="#0000db"/><stop offset="0.04" stop-color="#0039ff"/><stop offset="0.06" stop-color="#0096ff"/><stop offset="0.08" stop-color="#00caff"/><stop offset="0.1" stop-color="#00f8ff"/><stop offset="0.12" stop-color="#20ffdf"/><stop offset="0.14" stop-color="#45ffba"/><stop offset="0.2" stop-color="#95ff6a"/><stop offset="0.3" stop-color="#f3ff0c"/><stop offset="0.36" stop-color="#fffa00"/><stop offset="0.6" stop-color="#ffee00"/><stop offset="0.7" stop-color="#ffd100"/><stop offset="0.74" stop-color="#ffd300"/><stop offset="0.76" stop-color="#ffea00"/><stop offset="0.78" stop-color="#f9ff06"/><stop offset="0.82" stop-color="#bcff43"/><stop offset="0.88" stop-color="#4bffb4"/><stop offset="0.9" stop-color="#1cffe3"/><stop offset="0.92" stop-color="#00edff"/><stop offset="0.94" stop-color="#00b0ff"/><stop offset="0.96" stop-color="#005aff"/><stop offset="0.98" stop-color="#0000e9"/><stop offset="1" stop-color="#000085"/></linearGradient><linearGradient id="g256" gradientUnits="userSpaceOnUse" x1="82.9" y1="44.3" x2="116.7" y2="36.2"><stop offset="0" stop-color="#000085"/><stop offset="0.02" stop-color="#0000db"/><stop offset="0.04" stop-color="#0038ff"/><stop offset="0.06" stop-color="#0094ff"/><stop offset="0.08" stop-color="#00c8ff"/><stop offset="0.1" stop-color="#00f6ff"/><stop offset="0.12" stop-color="#1dffe2"/><stop offset="0.14" stop-color="#41ffbe"/><stop offset="0.2" stop-color="#91ff6e"/><stop offset="0.3" stop-color="#eeff11"/><stop offset="0.36" stop-color="#ffff00"/><stop offset="0.6" stop-color="#fff500"/><stop offset="0.7" stop-color="#ffe200"/><stop offset="0.74" stop-color="#ffe700"/><stop offset="0.76" stop-color="#fffd00"/><stop offset="0.82" stop-color="#b0ff4f"/><stop offset="0.88" stop-color="#46ffb9"/><stop offset="0.9" stop-color="#18ffe7"/><stop offset="0.92" stop-color="#00e9ff"/><stop offset="0.94" stop-color="#00aeff"/><stop offset="0.96" stop-color="#0058ff"/><stop offset="0.98" stop-color="#0000e9"/><stop offset="1" stop-color="#000085"/></linearGradient><linearGradient id="g257" gradientUnits="userSpaceOnUse" x1="82.6" y1="42.9" x2="113.7" y2="33.5"><stop offset="0" stop-color="#000085"/><stop offset="0.02" stop-color="#0000da"/><stop offset="0.04" stop-color="#0036ff"/><stop offset="0.06" stop-color="#0091ff"/><stop offset="0.08" stop-color="#00c5ff"/><stop offset="0.1" stop-color="#00f3ff"/><stop offset="0.12" stop-color="#1affe5"/><stop offset="0.14" stop-color="#3effc1"/><stop offset="0.2" stop-color="#8dff72"/><stop offset="0.3" stop-color="#e9ff16"/><stop offset="0.4" stop-color="#fffe00"/><stop offset="0.6" stop-color="#fffb00"/><stop offset="0.67" stop-color="#fff000"/><stop offset="0.74" stop-color="#fffa00"/><stop offset="0.82" stop-color="#a4ff5b"/><stop offset="0.88" stop-color="#41ffbe"/><stop offset="0.9" stop-color="#14ffeb"/><stop offset="0.92" stop-color="#00e6ff"/><stop offset="0.94" stop-color="#00abff"/><stop offset="0.96" stop-color="#0057ff"/><stop offset="0.98" stop-color="#0000e8"/><stop offset="1" stop-color="#000085"/></linearGradient><linearGradient id="g258" gradientUnits="userSpaceOnUse" x1="82.1" y1="41.6" x2="110.3" y2="31.1"><stop offset="0" stop-color="#000085"/><stop offset="0.02" stop-color="#0000d9"/><stop offset="0.04" stop-color="#0035ff"/><stop offset="0.06" stop-color="#008fff"/><stop offset="0.08" stop-color="#00c3ff"/><stop offset="0.1" stop-color="#00f0ff"/><stop offset="0.12" stop-color="#17ffe8"/><stop offset="0.14" stop-color="#3bffc4"/><stop offset="0.2" stop-color="#89ff76"/><stop offset="0.3" stop-color="#e4ff1b"/><stop offset="0.4" stop-color="#fbff04"/><stop offset="0.67" stop-color="#fffb00"/><stop offset="0.74" stop-color="#f4ff0b"/><stop offset="0.82" stop-color="#9aff65"/><stop offset="0.88" stop-color="#3cffc3"/><stop offset="0.9" stop-color="#10ffef"/><stop offset="0.92" stop-color="#00e3ff"/><stop offset="0.94" stop-color="#00a9ff"/><stop offset="0.96" stop-color="#0055ff"/><stop offset="0.98" stop-color="#0000e7"/><stop offset="1" stop-color="#000085"/></linearGradient><linearGradient id="g259" gradientUnits="userSpaceOnUse" x1="81.6" y1="40.3" x2="106.6" y2="29.1"><stop offset="0" stop-color="#000085"/><stop offset="0.02" stop-color="#0000d9"/><stop offset="0.04" stop-color="#0034ff"/><stop offset="0.06" stop-color="#008dff"/><stop offset="0.08" stop-color="#00c0ff"/><stop offset="0.1" stop-color="#00edff"/><stop offset="0.12" stop-color="#13ffec"/><stop offset="0.14" stop-color="#37ffc8"/><stop offset="0.2" stop-color="#85ff7a"/><stop offset="0.3" stop-color="#e0ff1f"/><stop offset="0.4" stop-color="#f6ff09"/><stop offset="0.67" stop-color="#faff05"/><stop offset="0.74" stop-color="#e8ff17"/><stop offset="0.82" stop-color="#92ff6d"/><stop offset="0.88" stop-color="#37ffc8"/><stop offset="0.9" stop-color="#0dfff2"/><stop offset="0.92" stop-color="#00e0ff"/><stop offset="0.94" stop-color="#00a6ff"/><stop offset="0.96" stop-color="#0053ff"/><stop offset="0.98" stop-color="#0000e6"/><stop offset="1" stop-color="#000085"/></linearGradient><linearGradient id="g260" gradientUnits="userSpaceOnUse" x1="81" y1="39.1" x2="102.7" y2="27.6"><stop offset="0" stop-color="#000085"/><stop offset="0.02" stop-color="#0000d8"/><stop offset="0.04" stop-color="#0032ff"/><stop offset="0.06" stop-color="#008bff"/><stop offset="0.1" stop-color="#00eaff"/><stop offset="0.12" stop-color="#10ffef"/><stop offset="0.14" stop-color="#34ffcb"/><stop offset="0.2" stop-color="#81ff7e"/><stop offset="0.3" stop-color="#dbff24"/><stop offset="0.4" stop-color="#f2ff0d"/><stop offset="0.67" stop-color="#f3ff0c"/><stop offset="0.74" stop-color="#e0ff1f"/><stop offset="0.82" stop-color="#8cff73"/><stop offset="0.88" stop-color="#33ffcc"/><stop offset="0.9" stop-color="#0afff5"/><stop offset="0.92" stop-color="#00ddff"/><stop offset="0.94" stop-color="#00a4ff"/><stop offset="0.96" stop-color="#0052ff"/><stop offset="0.98" stop-color="#0000e6"/><stop offset="1" stop-color="#000085"/></linearGradient><linearGradient id="g261" gradientUnits="userSpaceOnUse" x1="80.3" y1="37.9" x2="98.6" y2="26.6"><stop offset="0" stop-color="#000085"/><stop offset="0.02" stop-color="#0000d7"/><stop offset="0.04" stop-color="#0031ff"/><stop offset="0.06" stop-color="#008aff"/><stop offset="0.1" stop-color="#00e8ff"/><stop offset="0.12" stop-color="#0efff1"/><stop offset="0.14" stop-color="#31ffce"/><stop offset="0.2" stop-color="#7eff81"/><stop offset="0.3" stop-color="#d8ff27"/><stop offset="0.4" stop-color="#eeff11"/><stop offset="0.67" stop-color="#eeff11"/><stop offset="0.74" stop-color="#daff25"/><stop offset="0.82" stop-color="#88ff77"/><stop offset="0.88" stop-color="#31ffce"/><stop offset="0.9" stop-color="#07fff8"/><stop offset="0.92" stop-color="#00dbff"/><stop offset="0.94" stop-color="#00a2ff"/><stop offset="0.96" stop-color="#0050ff"/><stop offset="0.98" stop-color="#0000e5"/><stop offset="1" stop-color="#000085"/></linearGradient><linearGradient id="g262" gradientUnits="userSpaceOnUse" x1="79.6" y1="36.8" x2="94.4" y2="26.1"><stop offset="0" stop-color="#000085"/><stop offset="0.02" stop-color="#0000d7"/><stop offset="0.04" stop-color="#0030ff"/><stop offset="0.06" stop-color="#0088ff"/><stop offset="0.1" stop-color="#00e7ff"/><stop offset="0.12" stop-color="#0cfff3"/><stop offset="0.14" stop-color="#2fffd0"/><stop offset="0.2" stop-color="#7cff83"/><stop offset="0.3" stop-color="#d5ff2a"/><stop offset="0.4" stop-color="#ebff14"/><stop offset="0.67" stop-color="#ebff14"/><stop offset="0.74" stop-color="#d7ff28"/><stop offset="0.82" stop-color="#86ff79"/><stop offset="0.88" stop-color="#2fffd0"/><stop offset="0.9" stop-color="#05fffa"/><stop offset="0.92" stop-color="#00daff"/><stop offset="0.94" stop-color="#00a1ff"/><stop offset="0.96" stop-color="#004fff"/><stop offset="0.98" stop-color="#0000e5"/><stop offset="1" stop-color="#000085"/></linearGradient><linearGradient id="g263" gradientUnits="userSpaceOnUse" x1="78.8" y1="35.8" x2="90.1" y2="26.3"><stop offset="0" stop-color="#000085"/><stop offset="0.02" stop-color="#0000d7"/><stop offset="0.04" stop-color="#0030ff"/><stop offset="0.06" stop-color="#0087ff"/><stop offset="0.1" stop-color="#00e5ff"/><stop offset="0.12" stop-color="#0afff5"/><stop offset="0.14" stop-color="#2dffd2"/><stop offset="0.2" stop-color="#79ff86"/><stop offset="0.3" stop-color="#d2ff2d"/><stop offset="0.4" stop-color="#e8ff17"/><stop offset="0.67" stop-color="#e8ff17"/><stop offset="0.74" stop-color="#d4ff2b"/><stop offset="0.82" stop-color="#83ff7c"/><stop offset="0.88" stop-color="#2dffd2"/><stop offset="0.9" stop-color="#04fffb"/><stop offset="0.92" stop-color="#00d8ff"/><stop offset="0.94" stop-color="#00a0ff"/><stop offset="0.96" stop-color="#004eff"/><stop offset="0.98" stop-color="#0000e4"/><stop offset="1" stop-color="#000085"/></linearGradient><linearGradient id="g264" gradientUnits="userSpaceOnUse" x1="77.9" y1="34.8" x2="85.9" y2="27"><stop offset="0" stop-color="#000085"/><stop offset="0.02" stop-color="#0000d6"/><stop offset="0.04" stop-color="#002fff"/><stop offset="0.06" stop-color="#0086ff"/><stop offset="0.1" stop-color="#00e3ff"/><stop offset="0.12" stop-color="#09fff6"/><stop offset="0.14" stop-color="#2bffd4"/><stop offset="0.2" stop-color="#77ff88"/><stop offset="0.3" stop-color="#cfff30"/><stop offset="0.4" stop-color="#e5ff1a"/><stop offset="0.67" stop-color="#e5ff1a"/><stop offset="0.74" stop-color="#d1ff2e"/><stop offset="0.82" stop-color="#81ff7e"/><stop offset="0.88" stop-color="#2bffd4"/><stop offset="0.9" stop-color="#02fffd"/><stop offset="0.92" stop-color="#00d7ff"/><stop offset="0.94" stop-color="#009eff"/><stop offset="0.96" stop-color="#004dff"/><stop offset="0.98" stop-color="#0000e4"/><stop offset="1" stop-color="#000085"/></linearGradient><linearGradient id="g265" gradientUnits="userSpaceOnUse" x1="77" y1="33.9" x2="81.9" y2="28.3"><stop offset="0" stop-color="#000085"/><stop offset="0.04" stop-color="#0003ff"/><stop offset="0.06" stop-color="#0044ff"/><stop offset="0.1" stop-color="#008aff"/><stop offset="0.14" stop-color="#00c0ff"/><stop offset="0.2" stop-color="#00f8ff"/><stop offset="0.22" stop-color="#08fff7"/><stop offset="0.3" stop-color="#3cffc3"/><stop offset="0.36" stop-color="#48ffb7"/><stop offset="0.67" stop-color="#4cffb3"/><stop offset="0.74" stop-color="#3dffc2"/><stop offset="0.82" stop-color="#01fffe"/><stop offset="0.88" stop-color="#00bfff"/><stop offset="0.92" stop-color="#0081ff"/><stop offset="0.94" stop-color="#0057ff"/><stop offset="0.96" stop-color="#001aff"/><stop offset="0.98" stop-color="#0000cc"/><stop offset="1" stop-color="#000085"/></linearGradient><linearGradient id="g266" gradientUnits="userSpaceOnUse" x1="76" y1="33.1" x2="78.2" y2="30.2"><stop offset="0" stop-color="#000085"/><stop offset="0.04" stop-color="#0003ff"/><stop offset="0.06" stop-color="#0044ff"/><stop offset="0.1" stop-color="#008aff"/><stop offset="0.14" stop-color="#00bfff"/><stop offset="0.2" stop-color="#00f8ff"/><stop offset="0.22" stop-color="#07fff8"/><stop offset="0.3" stop-color="#3bffc4"/><stop offset="0.36" stop-color="#47ffb8"/><stop offset="0.67" stop-color="#4bffb4"/><stop offset="0.74" stop-color="#3cffc3"/><stop offset="0.82" stop-color="#00ffff"/><stop offset="0.88" stop-color="#00beff"/><stop offset="0.92" stop-color="#0080ff"/><stop offset="0.94" stop-color="#0056ff"/><stop offset="0.96" stop-color="#001aff"/><stop offset="0.98" stop-color="#0000cc"/><stop offset="1" stop-color="#000085"/></linearGradient><linearGradient id="g267" gradientUnits="userSpaceOnUse" x1="75" y1="32.4" x2="117.3" y2="59.8"><stop offset="0" stop-color="#000085"/><stop offset="0.04" stop-color="#0003ff"/><stop offset="0.06" stop-color="#0044ff"/><stop offset="0.1" stop-color="#0089ff"/><stop offset="0.14" stop-color="#00beff"/><stop offset="0.2" stop-color="#00f7ff"/><stop offset="0.22" stop-color="#06fff9"/><stop offset="0.3" stop-color="#3affc5"/><stop offset="0.36" stop-color="#46ffb9"/><stop offset="0.67" stop-color="#4affb5"/><stop offset="0.74" stop-color="#3bffc4"/><stop offset="0.82" stop-color="#00feff"/><stop offset="0.88" stop-color="#00beff"/><stop offset="0.92" stop-color="#0080ff"/><stop offset="0.94" stop-color="#0056ff"/><stop offset="0.96" stop-color="#0019ff"/><stop offset="0.98" stop-color="#0000cc"/><stop offset="1" stop-color="#000085"/></linearGradient><linearGradient id="g268" gradientUnits="userSpaceOnUse" x1="96.6" y1="46.1" x2="58.5" y2="105"><stop offset="0" stop-color="#000" stop-opacity="0"/><stop offset="0.042" stop-color="#000" stop-opacity="0"/><stop offset="0.083" stop-color="#000" stop-opacity="0"/><stop offset="0.125" stop-color="#000" stop-opacity="0"/><stop offset="0.167" stop-color="#000" stop-opacity="0"/><stop offset="0.208" stop-color="#000" stop-opacity="0.001"/><stop offset="0.25" stop-color="#000" stop-opacity="0.002"/><stop offset="0.292" stop-color="#000" stop-opacity="0.007"/><stop offset="0.333" stop-color="#000" stop-opacity="0.013"/><stop offset="0.375" stop-color="#000" stop-opacity="0.023"/><stop offset="0.417" stop-color="#000" stop-opacity="0.044"/><stop offset="0.458" stop-color="#000" stop-opacity="0.067"/><stop offset="0.5" stop-color="#000" stop-opacity="0.095"/><stop offset="0.542" stop-color="#000" stop-opacity="0.125"/><stop offset="0.583" stop-color="#000" stop-opacity="0.154"/><stop offset="0.625" stop-color="#000" stop-opacity="0.182"/><stop offset="0.667" stop-color="#000" stop-opacity="0.19"/><stop offset="0.708" stop-color="#000" stop-opacity="0.185"/><stop offset="0.75" stop-color="#000" stop-opacity="0.16"/><stop offset="0.792" stop-color="#000" stop-opacity="0.122"/><stop offset="0.833" stop-color="#000" stop-opacity="0.082"/><stop offset="0.875" stop-color="#000" stop-opacity="0.048"/><stop offset="0.917" stop-color="#000" stop-opacity="0.014"/><stop offset="0.958" stop-color="#000" stop-opacity="0"/><stop offset="1" stop-color="#000" stop-opacity="0"/></linearGradient><linearGradient id="g269" gradientUnits="userSpaceOnUse" x1="74.7" y1="32.3" x2="117" y2="59.7"><stop offset="0" stop-color="#000085"/><stop offset="0.04" stop-color="#0002ff"/><stop offset="0.06" stop-color="#0044ff"/><stop offset="0.1" stop-color="#0089ff"/><stop offset="0.14" stop-color="#00beff"/><stop offset="0.2" stop-color="#00f7ff"/><stop offset="0.22" stop-color="#06fff9"/><stop offset="0.3" stop-color="#39ffc6"/><stop offset="0.36" stop-color="#46ffb9"/><stop offset="0.67" stop-color="#4affb5"/><stop offset="0.74" stop-color="#3bffc4"/><stop offset="0.82" stop-color="#00feff"/><stop offset="0.88" stop-color="#00beff"/><stop offset="0.92" stop-color="#0080ff"/><stop offset="0.94" stop-color="#0056ff"/><stop offset="0.96" stop-color="#0019ff"/><stop offset="0.98" stop-color="#0000cb"/><stop offset="1" stop-color="#000085"/></linearGradient><linearGradient id="g270" gradientUnits="userSpaceOnUse" x1="73.3" y1="31.5" x2="70.6" y2="36.9"><stop offset="0" stop-color="#000085"/><stop offset="0.04" stop-color="#0002ff"/><stop offset="0.06" stop-color="#0043ff"/><stop offset="0.1" stop-color="#0088ff"/><stop offset="0.14" stop-color="#00bdff"/><stop offset="0.2" stop-color="#00f6ff"/><stop offset="0.22" stop-color="#05fffa"/><stop offset="0.3" stop-color="#38ffc7"/><stop offset="0.36" stop-color="#45ffba"/><stop offset="0.67" stop-color="#49ffb6"/><stop offset="0.74" stop-color="#3affc5"/><stop offset="0.82" stop-color="#00fdff"/><stop offset="0.88" stop-color="#00bdff"/><stop offset="0.92" stop-color="#007fff"/><stop offset="0.94" stop-color="#0055ff"/><stop offset="0.96" stop-color="#0019ff"/><stop offset="0.98" stop-color="#0000cb"/><stop offset="1" stop-color="#000085"/></linearGradient><linearGradient id="g271" gradientUnits="userSpaceOnUse" x1="71.8" y1="30.8" x2="67.9" y2="41"><stop offset="0" stop-color="#000085"/><stop offset="0.04" stop-color="#0002ff"/><stop offset="0.06" stop-color="#0042ff"/><stop offset="0.1" stop-color="#0088ff"/><stop offset="0.14" stop-color="#00bcff"/><stop offset="0.2" stop-color="#00f5ff"/><stop offset="0.22" stop-color="#04fffb"/><stop offset="0.3" stop-color="#37ffc8"/><stop offset="0.36" stop-color="#43ffbc"/><stop offset="0.67" stop-color="#47ffb8"/><stop offset="0.74" stop-color="#38ffc7"/><stop offset="0.82" stop-color="#00fcff"/><stop offset="0.88" stop-color="#00bcff"/><stop offset="0.92" stop-color="#007eff"/><stop offset="0.94" stop-color="#0054ff"/><stop offset="0.96" stop-color="#0019ff"/><stop offset="0.98" stop-color="#0000cb"/><stop offset="1" stop-color="#000085"/></linearGradient><linearGradient id="g272" gradientUnits="userSpaceOnUse" x1="70.2" y1="30.3" x2="66.1" y2="45.3"><stop offset="0" stop-color="#000085"/><stop offset="0.04" stop-color="#0001ff"/><stop offset="0.06" stop-color="#0042ff"/><stop offset="0.1" stop-color="#0087ff"/><stop offset="0.14" stop-color="#00bcff"/><stop offset="0.22" stop-color="#03fffc"/><stop offset="0.3" stop-color="#36ffc9"/><stop offset="0.36" stop-color="#42ffbd"/><stop offset="0.67" stop-color="#46ffb9"/><stop offset="0.74" stop-color="#37ffc8"/><stop offset="0.82" stop-color="#00fbff"/><stop offset="0.88" stop-color="#00bbff"/><stop offset="0.92" stop-color="#007eff"/><stop offset="0.94" stop-color="#0054ff"/><stop offset="0.96" stop-color="#0018ff"/><stop offset="0.98" stop-color="#0000cb"/><stop offset="1" stop-color="#000085"/></linearGradient><linearGradient id="g273" gradientUnits="userSpaceOnUse" x1="68.5" y1="29.9" x2="65.2" y2="49.6"><stop offset="0" stop-color="#000085"/><stop offset="0.04" stop-color="#0001ff"/><stop offset="0.06" stop-color="#0041ff"/><stop offset="0.1" stop-color="#0086ff"/><stop offset="0.14" stop-color="#00bbff"/><stop offset="0.22" stop-color="#02fffd"/><stop offset="0.3" stop-color="#35ffca"/><stop offset="0.36" stop-color="#41ffbe"/><stop offset="0.67" stop-color="#45ffba"/><stop offset="0.74" stop-color="#36ffc9"/><stop offset="0.82" stop-color="#00faff"/><stop offset="0.88" stop-color="#00baff"/><stop offset="0.92" stop-color="#007dff"/><stop offset="0.94" stop-color="#0053ff"/><stop offset="0.96" stop-color="#0018ff"/><stop offset="0.98" stop-color="#0000cb"/><stop offset="1" stop-color="#000085"/></linearGradient><linearGradient id="g274" gradientUnits="userSpaceOnUse" x1="66.8" y1="29.7" x2="64.9" y2="53.7"><stop offset="0" stop-color="#000085"/><stop offset="0.04" stop-color="#0001ff"/><stop offset="0.06" stop-color="#0041ff"/><stop offset="0.1" stop-color="#0085ff"/><stop offset="0.14" stop-color="#00baff"/><stop offset="0.22" stop-color="#01fffe"/><stop offset="0.3" stop-color="#33ffcc"/><stop offset="0.36" stop-color="#40ffbf"/><stop offset="0.67" stop-color="#44ffbb"/><stop offset="0.74" stop-color="#35ffca"/><stop offset="0.82" stop-color="#00f9ff"/><stop offset="0.88" stop-color="#00b9ff"/><stop offset="0.92" stop-color="#007cff"/><stop offset="0.94" stop-color="#0053ff"/><stop offset="0.96" stop-color="#0017ff"/><stop offset="0.98" stop-color="#0000cb"/><stop offset="1" stop-color="#000085"/></linearGradient><linearGradient id="g275" gradientUnits="userSpaceOnUse" x1="65" y1="29.7" x2="65.2" y2="57.4"><stop offset="0" stop-color="#000085"/><stop offset="0.04" stop-color="#0000ff"/><stop offset="0.06" stop-color="#0040ff"/><stop offset="0.1" stop-color="#0085ff"/><stop offset="0.14" stop-color="#00b9ff"/><stop offset="0.22" stop-color="#00feff"/><stop offset="0.24" stop-color="#0cfff3"/><stop offset="0.3" stop-color="#32ffcd"/><stop offset="0.36" stop-color="#3effc1"/><stop offset="0.67" stop-color="#42ffbd"/><stop offset="0.74" stop-color="#34ffcb"/><stop offset="0.8" stop-color="#07fff8"/><stop offset="0.82" stop-color="#00f8ff"/><stop offset="0.88" stop-color="#00b8ff"/><stop offset="0.92" stop-color="#007bff"/><stop offset="0.94" stop-color="#0052ff"/><stop offset="0.96" stop-color="#0017ff"/><stop offset="0.98" stop-color="#0000ca"/><stop offset="1" stop-color="#000085"/></linearGradient><linearGradient id="g276" gradientUnits="userSpaceOnUse" x1="63.2" y1="29.7" x2="66" y2="60.7"><stop offset="0" stop-color="#000085"/><stop offset="0.04" stop-color="#0001ff"/><stop offset="0.06" stop-color="#0041ff"/><stop offset="0.1" stop-color="#0085ff"/><stop offset="0.14" stop-color="#00b9ff"/><stop offset="0.22" stop-color="#00ffff"/><stop offset="0.3" stop-color="#33ffcc"/><stop offset="0.4" stop-color="#43ffbc"/><stop offset="0.67" stop-color="#43ffbc"/><stop offset="0.74" stop-color="#34ffcb"/><stop offset="0.8" stop-color="#08fff7"/><stop offset="0.82" stop-color="#00f8ff"/><stop offset="0.88" stop-color="#00b9ff"/><stop offset="0.92" stop-color="#007cff"/><stop offset="0.94" stop-color="#0052ff"/><stop offset="0.96" stop-color="#0017ff"/><stop offset="0.98" stop-color="#0000ca"/><stop offset="1" stop-color="#000085"/></linearGradient><linearGradient id="g277" gradientUnits="userSpaceOnUse" x1="61.4" y1="30" x2="67" y2="63.6"><stop offset="0" stop-color="#000085"/><stop offset="0.04" stop-color="#0001ff"/><stop offset="0.06" stop-color="#0041ff"/><stop offset="0.1" stop-color="#0086ff"/><stop offset="0.14" stop-color="#00baff"/><stop offset="0.22" stop-color="#01fffe"/><stop offset="0.3" stop-color="#34ffcb"/><stop offset="0.36" stop-color="#40ffbf"/><stop offset="0.67" stop-color="#44ffbb"/><stop offset="0.74" stop-color="#35ffca"/><stop offset="0.82" stop-color="#00f9ff"/><stop offset="0.88" stop-color="#00baff"/><stop offset="0.92" stop-color="#007cff"/><stop offset="0.94" stop-color="#0053ff"/><stop offset="0.96" stop-color="#0017ff"/><stop offset="0.98" stop-color="#0000cb"/><stop offset="1" stop-color="#000085"/></linearGradient><linearGradient id="g278" href="#g273" x1="59.5" y1="30.4" x2="68.2" y2="66"/><linearGradient id="g279" gradientUnits="userSpaceOnUse" x1="57.6" y1="30.9" x2="69.6" y2="68.1"><stop offset="0" stop-color="#000085"/><stop offset="0.04" stop-color="#0001ff"/><stop offset="0.06" stop-color="#0042ff"/><stop offset="0.1" stop-color="#0087ff"/><stop offset="0.14" stop-color="#00bbff"/><stop offset="0.22" stop-color="#02fffd"/><stop offset="0.3" stop-color="#35ffca"/><stop offset="0.36" stop-color="#42ffbd"/><stop offset="0.67" stop-color="#46ffb9"/><stop offset="0.74" stop-color="#32ffcd"/><stop offset="0.82" stop-color="#00faff"/><stop offset="0.88" stop-color="#00bbff"/><stop offset="0.92" stop-color="#007dff"/><stop offset="0.94" stop-color="#0054ff"/><stop offset="0.96" stop-color="#0018ff"/><stop offset="0.98" stop-color="#0000cb"/><stop offset="1" stop-color="#000085"/></linearGradient><linearGradient id="g280" gradientUnits="userSpaceOnUse" x1="55.7" y1="31.6" x2="70.9" y2="69.8"><stop offset="0" stop-color="#000085"/><stop offset="0.04" stop-color="#0002ff"/><stop offset="0.06" stop-color="#0042ff"/><stop offset="0.1" stop-color="#0087ff"/><stop offset="0.14" stop-color="#00bcff"/><stop offset="0.22" stop-color="#03fffc"/><stop offset="0.3" stop-color="#36ffc9"/><stop offset="0.36" stop-color="#43ffbc"/><stop offset="0.64" stop-color="#47ffb8"/><stop offset="0.67" stop-color="#46ffb9"/><stop offset="0.7" stop-color="#37ffc8"/><stop offset="0.72" stop-color="#19ffe6"/><stop offset="0.74" stop-color="#00f3ff"/><stop offset="0.76" stop-color="#00e4ff"/><stop offset="0.8" stop-color="#01fffe"/><stop offset="0.82" stop-color="#00faff"/><stop offset="0.88" stop-color="#00bbff"/><stop offset="0.92" stop-color="#007eff"/><stop offset="0.94" stop-color="#0054ff"/><stop offset="0.96" stop-color="#0018ff"/><stop offset="0.98" stop-color="#0000cb"/><stop offset="1" stop-color="#000085"/></linearGradient><linearGradient id="g281" gradientUnits="userSpaceOnUse" x1="53.8" y1="32.4" x2="72.2" y2="71.2"><stop offset="0" stop-color="#000085"/><stop offset="0.04" stop-color="#0002ff"/><stop offset="0.06" stop-color="#0043ff"/><stop offset="0.1" stop-color="#0088ff"/><stop offset="0.14" stop-color="#00bcff"/><stop offset="0.2" stop-color="#00f5ff"/><stop offset="0.22" stop-color="#04fffb"/><stop offset="0.3" stop-color="#37ffc8"/><stop offset="0.4" stop-color="#48ffb7"/><stop offset="0.67" stop-color="#47ffb8"/><stop offset="0.7" stop-color="#2cffd3"/><stop offset="0.72" stop-color="#00eeff"/><stop offset="0.74" stop-color="#00a3ff"/><stop offset="0.76" stop-color="#0094ff"/><stop offset="0.78" stop-color="#00ccff"/><stop offset="0.8" stop-color="#00f6ff"/><stop offset="0.82" stop-color="#00f9ff"/><stop offset="0.88" stop-color="#00bcff"/><stop offset="0.92" stop-color="#007eff"/><stop offset="0.94" stop-color="#0055ff"/><stop offset="0.96" stop-color="#0019ff"/><stop offset="0.98" stop-color="#0000cb"/><stop offset="1" stop-color="#000085"/></linearGradient><linearGradient id="g282" gradientUnits="userSpaceOnUse" x1="52" y1="33.4" x2="73.4" y2="72.3"><stop offset="0" stop-color="#000085"/><stop offset="0.04" stop-color="#0002ff"/><stop offset="0.06" stop-color="#0043ff"/><stop offset="0.1" stop-color="#0088ff"/><stop offset="0.14" stop-color="#00bdff"/><stop offset="0.2" stop-color="#00f5ff"/><stop offset="0.22" stop-color="#05fffa"/><stop offset="0.3" stop-color="#38ffc7"/><stop offset="0.36" stop-color="#44ffbb"/><stop offset="0.64" stop-color="#48ffb7"/><stop offset="0.67" stop-color="#48ffb7"/><stop offset="0.7" stop-color="#3cffc3"/><stop offset="0.74" stop-color="#0bfff4"/><stop offset="0.76" stop-color="#00fbff"/><stop offset="0.8" stop-color="#06fff9"/><stop offset="0.82" stop-color="#00fcff"/><stop offset="0.88" stop-color="#00bdff"/><stop offset="0.92" stop-color="#007fff"/><stop offset="0.94" stop-color="#0055ff"/><stop offset="0.96" stop-color="#0019ff"/><stop offset="0.98" stop-color="#0000cb"/><stop offset="1" stop-color="#000085"/></linearGradient><linearGradient id="g283" gradientUnits="userSpaceOnUse" x1="50.1" y1="34.4" x2="74.5" y2="73.2"><stop offset="0" stop-color="#000085"/><stop offset="0.04" stop-color="#0002ff"/><stop offset="0.06" stop-color="#0043ff"/><stop offset="0.1" stop-color="#0089ff"/><stop offset="0.14" stop-color="#00beff"/><stop offset="0.2" stop-color="#00f6ff"/><stop offset="0.22" stop-color="#05fffa"/><stop offset="0.3" stop-color="#39ffc6"/><stop offset="0.36" stop-color="#45ffba"/><stop offset="0.67" stop-color="#49ffb6"/><stop offset="0.74" stop-color="#38ffc7"/><stop offset="0.82" stop-color="#00fdff"/><stop offset="0.88" stop-color="#00bdff"/><stop offset="0.92" stop-color="#007fff"/><stop offset="0.94" stop-color="#0055ff"/><stop offset="0.96" stop-color="#0019ff"/><stop offset="0.98" stop-color="#0000cb"/><stop offset="1" stop-color="#000085"/></linearGradient><linearGradient id="g284" gradientUnits="userSpaceOnUse" x1="48.3" y1="35.7" x2="75.4" y2="73.9"><stop offset="0" stop-color="#000085"/><stop offset="0.04" stop-color="#0003ff"/><stop offset="0.06" stop-color="#0044ff"/><stop offset="0.1" stop-color="#0089ff"/><stop offset="0.14" stop-color="#00beff"/><stop offset="0.2" stop-color="#00f7ff"/><stop offset="0.22" stop-color="#06fff9"/><stop offset="0.3" stop-color="#3affc5"/><stop offset="0.36" stop-color="#46ffb9"/><stop offset="0.67" stop-color="#4affb5"/><stop offset="0.74" stop-color="#3bffc4"/><stop offset="0.82" stop-color="#00feff"/><stop offset="0.88" stop-color="#00beff"/><stop offset="0.92" stop-color="#0080ff"/><stop offset="0.94" stop-color="#0056ff"/><stop offset="0.96" stop-color="#001aff"/><stop offset="0.98" stop-color="#0000cc"/><stop offset="1" stop-color="#000085"/></linearGradient><linearGradient id="g285" gradientUnits="userSpaceOnUse" x1="46.5" y1="37" x2="76.3" y2="74.4"><stop offset="0" stop-color="#000085"/><stop offset="0.04" stop-color="#0003ff"/><stop offset="0.06" stop-color="#0044ff"/><stop offset="0.1" stop-color="#008aff"/><stop offset="0.14" stop-color="#00bfff"/><stop offset="0.2" stop-color="#00f8ff"/><stop offset="0.22" stop-color="#07fff8"/><stop offset="0.3" stop-color="#3bffc4"/><stop offset="0.36" stop-color="#47ffb8"/><stop offset="0.67" stop-color="#4bffb4"/><stop offset="0.74" stop-color="#3cffc3"/><stop offset="0.82" stop-color="#00ffff"/><stop offset="0.88" stop-color="#00bfff"/><stop offset="0.92" stop-color="#0080ff"/><stop offset="0.94" stop-color="#0056ff"/><stop offset="0.96" stop-color="#001aff"/><stop offset="0.98" stop-color="#0000cc"/><stop offset="1" stop-color="#000085"/></linearGradient><linearGradient id="g286" gradientUnits="userSpaceOnUse" x1="44.8" y1="38.5" x2="77" y2="74.8"><stop offset="0" stop-color="#000085"/><stop offset="0.04" stop-color="#0003ff"/><stop offset="0.06" stop-color="#0044ff"/><stop offset="0.1" stop-color="#008aff"/><stop offset="0.14" stop-color="#00c0ff"/><stop offset="0.2" stop-color="#00f9ff"/><stop offset="0.22" stop-color="#08fff7"/><stop offset="0.3" stop-color="#3cffc3"/><stop offset="0.36" stop-color="#48ffb7"/><stop offset="0.67" stop-color="#4cffb3"/><stop offset="0.74" stop-color="#3dffc2"/><stop offset="0.82" stop-color="#01fffe"/><stop offset="0.88" stop-color="#00bfff"/><stop offset="0.92" stop-color="#0081ff"/><stop offset="0.94" stop-color="#0057ff"/><stop offset="0.96" stop-color="#001aff"/><stop offset="0.98" stop-color="#0000cc"/><stop offset="1" stop-color="#000085"/></linearGradient><linearGradient id="g287" gradientUnits="userSpaceOnUse" x1="43.1" y1="40" x2="77.5" y2="75.2"><stop offset="0" stop-color="#000085"/><stop offset="0.04" stop-color="#0005ff"/><stop offset="0.06" stop-color="#0047ff"/><stop offset="0.1" stop-color="#008dff"/><stop offset="0.14" stop-color="#00c4ff"/><stop offset="0.2" stop-color="#00feff"/><stop offset="0.22" stop-color="#0dfff2"/><stop offset="0.3" stop-color="#42ffbd"/><stop offset="0.36" stop-color="#4effb1"/><stop offset="0.67" stop-color="#51ffae"/><stop offset="0.74" stop-color="#42ffbd"/><stop offset="0.82" stop-color="#05fffa"/><stop offset="0.88" stop-color="#00c3ff"/><stop offset="0.92" stop-color="#0084ff"/><stop offset="0.94" stop-color="#0059ff"/><stop offset="0.96" stop-color="#001cff"/><stop offset="0.98" stop-color="#0000cd"/><stop offset="1" stop-color="#000085"/></linearGradient><linearGradient id="g288" gradientUnits="userSpaceOnUse" x1="41.5" y1="41.7" x2="78" y2="75.4"><stop offset="0" stop-color="#000085"/><stop offset="0.04" stop-color="#0007ff"/><stop offset="0.06" stop-color="#004aff"/><stop offset="0.1" stop-color="#0093ff"/><stop offset="0.14" stop-color="#00caff"/><stop offset="0.2" stop-color="#08fff7"/><stop offset="0.3" stop-color="#4dffb2"/><stop offset="0.4" stop-color="#5bffa4"/><stop offset="0.67" stop-color="#5affa5"/><stop offset="0.74" stop-color="#4bffb4"/><stop offset="0.82" stop-color="#0cfff3"/><stop offset="0.84" stop-color="#00f6ff"/><stop offset="0.9" stop-color="#00a9ff"/><stop offset="0.94" stop-color="#005dff"/><stop offset="0.96" stop-color="#001fff"/><stop offset="0.98" stop-color="#0000ce"/><stop offset="1" stop-color="#000085"/></linearGradient><linearGradient id="g289" gradientUnits="userSpaceOnUse" x1="39.9" y1="43.4" x2="78.3" y2="75.5"><stop offset="0" stop-color="#000085"/><stop offset="0.04" stop-color="#000aff"/><stop offset="0.06" stop-color="#004eff"/><stop offset="0.1" stop-color="#0098ff"/><stop offset="0.14" stop-color="#00d2ff"/><stop offset="0.18" stop-color="#00fdff"/><stop offset="0.2" stop-color="#13ffec"/><stop offset="0.3" stop-color="#5affa5"/><stop offset="0.4" stop-color="#64ff9b"/><stop offset="0.67" stop-color="#63ff9c"/><stop offset="0.74" stop-color="#53ffac"/><stop offset="0.84" stop-color="#00fdff"/><stop offset="0.88" stop-color="#00cfff"/><stop offset="0.92" stop-color="#008eff"/><stop offset="0.94" stop-color="#0061ff"/><stop offset="0.96" stop-color="#0022ff"/><stop offset="0.98" stop-color="#0000cf"/><stop offset="1" stop-color="#000085"/></linearGradient><linearGradient id="g290" gradientUnits="userSpaceOnUse" x1="38.5" y1="45.3" x2="78.6" y2="75.6"><stop offset="0" stop-color="#000085"/><stop offset="0.02" stop-color="#0000c6"/><stop offset="0.04" stop-color="#000cff"/><stop offset="0.06" stop-color="#0052ff"/><stop offset="0.1" stop-color="#009eff"/><stop offset="0.14" stop-color="#00daff"/><stop offset="0.18" stop-color="#0afff5"/><stop offset="0.22" stop-color="#34ffcb"/><stop offset="0.3" stop-color="#6bff94"/><stop offset="0.4" stop-color="#6eff91"/><stop offset="0.67" stop-color="#6cff93"/><stop offset="0.74" stop-color="#5bffa4"/><stop offset="0.84" stop-color="#05fffa"/><stop offset="0.88" stop-color="#00d5ff"/><stop offset="0.92" stop-color="#0092ff"/><stop offset="0.94" stop-color="#0065ff"/><stop offset="0.96" stop-color="#0025ff"/><stop offset="0.98" stop-color="#0000d1"/><stop offset="1" stop-color="#000085"/></linearGradient><linearGradient id="g291" gradientUnits="userSpaceOnUse" x1="37.1" y1="47.2" x2="78.7" y2="75.6"><stop offset="0" stop-color="#000085"/><stop offset="0.02" stop-color="#0000c7"/><stop offset="0.04" stop-color="#000fff"/><stop offset="0.06" stop-color="#0056ff"/><stop offset="0.1" stop-color="#00a4ff"/><stop offset="0.16" stop-color="#00fbff"/><stop offset="0.18" stop-color="#16ffe9"/><stop offset="0.24" stop-color="#56ffa9"/><stop offset="0.3" stop-color="#7cff83"/><stop offset="0.67" stop-color="#74ff8b"/><stop offset="0.74" stop-color="#64ff9b"/><stop offset="0.84" stop-color="#0cfff3"/><stop offset="0.86" stop-color="#00f3ff"/><stop offset="0.88" stop-color="#00dbff"/><stop offset="0.92" stop-color="#0097ff"/><stop offset="0.94" stop-color="#0069ff"/><stop offset="0.96" stop-color="#0028ff"/><stop offset="0.98" stop-color="#0000d2"/><stop offset="1" stop-color="#000085"/></linearGradient><linearGradient id="g292" gradientUnits="userSpaceOnUse" x1="35.8" y1="49.2" x2="78.7" y2="75.6"><stop offset="0" stop-color="#000085"/><stop offset="0.02" stop-color="#0000c8"/><stop offset="0.04" stop-color="#0011ff"/><stop offset="0.06" stop-color="#005aff"/><stop offset="0.08" stop-color="#0084ff"/><stop offset="0.14" stop-color="#00eaff"/><stop offset="0.16" stop-color="#05fffa"/><stop offset="0.22" stop-color="#51ffae"/><stop offset="0.3" stop-color="#89ff76"/><stop offset="0.7" stop-color="#76ff89"/><stop offset="0.74" stop-color="#6cff93"/><stop offset="0.86" stop-color="#00faff"/><stop offset="0.88" stop-color="#00e1ff"/><stop offset="0.92" stop-color="#009cff"/><stop offset="0.94" stop-color="#006eff"/><stop offset="0.96" stop-color="#002bff"/><stop offset="0.98" stop-color="#0000d3"/><stop offset="1" stop-color="#000085"/></linearGradient><linearGradient id="g293" gradientUnits="userSpaceOnUse" x1="34.6" y1="51.2" x2="78.7" y2="75.5"><stop offset="0" stop-color="#000085"/><stop offset="0.02" stop-color="#0000ca"/><stop offset="0.04" stop-color="#0015ff"/><stop offset="0.06" stop-color="#005fff"/><stop offset="0.08" stop-color="#008aff"/><stop offset="0.14" stop-color="#00f2ff"/><stop offset="0.16" stop-color="#0dfff2"/><stop offset="0.22" stop-color="#59ffa6"/><stop offset="0.3" stop-color="#93ff6c"/><stop offset="0.67" stop-color="#89ff76"/><stop offset="0.74" stop-color="#78ff87"/><stop offset="0.82" stop-color="#34ffcb"/><stop offset="0.86" stop-color="#03fffc"/><stop offset="0.88" stop-color="#00e9ff"/><stop offset="0.92" stop-color="#00a3ff"/><stop offset="0.94" stop-color="#0073ff"/><stop offset="0.96" stop-color="#002fff"/><stop offset="0.98" stop-color="#0000d5"/><stop offset="1" stop-color="#000085"/></linearGradient><linearGradient id="g294" gradientUnits="userSpaceOnUse" x1="33.5" y1="53.3" x2="78.5" y2="75.3"><stop offset="0" stop-color="#000085"/><stop offset="0.02" stop-color="#0000cc"/><stop offset="0.04" stop-color="#0018ff"/><stop offset="0.06" stop-color="#0064ff"/><stop offset="0.1" stop-color="#00b7ff"/><stop offset="0.14" stop-color="#00f9ff"/><stop offset="0.16" stop-color="#13ffec"/><stop offset="0.22" stop-color="#5dffa2"/><stop offset="0.28" stop-color="#8cff73"/><stop offset="0.3" stop-color="#98ff67"/><stop offset="0.36" stop-color="#9aff65"/><stop offset="0.67" stop-color="#96ff69"/><stop offset="0.74" stop-color="#84ff7b"/><stop offset="0.82" stop-color="#3effc1"/><stop offset="0.86" stop-color="#0dfff2"/><stop offset="0.88" stop-color="#00f2ff"/><stop offset="0.92" stop-color="#00aaff"/><stop offset="0.94" stop-color="#0079ff"/><stop offset="0.96" stop-color="#0033ff"/><stop offset="0.98" stop-color="#0000d7"/><stop offset="1" stop-color="#000085"/></linearGradient><linearGradient id="g295" gradientUnits="userSpaceOnUse" x1="32.6" y1="55.5" x2="78.2" y2="75"><stop offset="0" stop-color="#000085"/><stop offset="0.02" stop-color="#0000cd"/><stop offset="0.04" stop-color="#001cff"/><stop offset="0.06" stop-color="#006aff"/><stop offset="0.1" stop-color="#00beff"/><stop offset="0.14" stop-color="#00ffff"/><stop offset="0.2" stop-color="#4bffb4"/><stop offset="0.3" stop-color="#9cff63"/><stop offset="0.4" stop-color="#a5ff5a"/><stop offset="0.67" stop-color="#a3ff5c"/><stop offset="0.74" stop-color="#91ff6e"/><stop offset="0.82" stop-color="#49ffb6"/><stop offset="0.88" stop-color="#00fbff"/><stop offset="0.92" stop-color="#00b1ff"/><stop offset="0.94" stop-color="#007fff"/><stop offset="0.96" stop-color="#0037ff"/><stop offset="0.98" stop-color="#0000d9"/><stop offset="1" stop-color="#000085"/></linearGradient><linearGradient id="g296" gradientUnits="userSpaceOnUse" x1="31.7" y1="57.6" x2="77.8" y2="74.7"><stop offset="0" stop-color="#000085"/><stop offset="0.02" stop-color="#0000cf"/><stop offset="0.04" stop-color="#001fff"/><stop offset="0.06" stop-color="#006fff"/><stop offset="0.08" stop-color="#009dff"/><stop offset="0.12" stop-color="#00e6ff"/><stop offset="0.14" stop-color="#07fff8"/><stop offset="0.2" stop-color="#50ffaf"/><stop offset="0.3" stop-color="#a1ff5e"/><stop offset="0.4" stop-color="#b0ff4f"/><stop offset="0.67" stop-color="#b0ff4f"/><stop offset="0.74" stop-color="#9dff62"/><stop offset="0.82" stop-color="#54ffab"/><stop offset="0.88" stop-color="#05fffa"/><stop offset="0.92" stop-color="#00b8ff"/><stop offset="0.94" stop-color="#0085ff"/><stop offset="0.96" stop-color="#003bff"/><stop offset="0.98" stop-color="#0000db"/><stop offset="1" stop-color="#000085"/></linearGradient><linearGradient id="g297" gradientUnits="userSpaceOnUse" x1="30.9" y1="59.8" x2="77.3" y2="74.3"><stop offset="0" stop-color="#000085"/><stop offset="0.02" stop-color="#0000d1"/><stop offset="0.04" stop-color="#0023ff"/><stop offset="0.06" stop-color="#0075ff"/><stop offset="0.08" stop-color="#00a3ff"/><stop offset="0.12" stop-color="#00eeff"/><stop offset="0.14" stop-color="#10ffef"/><stop offset="0.2" stop-color="#58ffa7"/><stop offset="0.3" stop-color="#aaff55"/><stop offset="0.4" stop-color="#bdff42"/><stop offset="0.67" stop-color="#bdff42"/><stop offset="0.74" stop-color="#aaff55"/><stop offset="0.82" stop-color="#5fffa0"/><stop offset="0.88" stop-color="#0efff1"/><stop offset="0.9" stop-color="#00e7ff"/><stop offset="0.92" stop-color="#00c0ff"/><stop offset="0.94" stop-color="#008bff"/><stop offset="0.96" stop-color="#0040ff"/><stop offset="0.98" stop-color="#0000dd"/><stop offset="1" stop-color="#000085"/></linearGradient><linearGradient id="g298" gradientUnits="userSpaceOnUse" x1="30.3" y1="62" x2="76.6" y2="73.9"><stop offset="0" stop-color="#000085"/><stop offset="0.02" stop-color="#0000d3"/><stop offset="0.04" stop-color="#0027ff"/><stop offset="0.06" stop-color="#007aff"/><stop offset="0.08" stop-color="#00a9ff"/><stop offset="0.12" stop-color="#00f6ff"/><stop offset="0.14" stop-color="#18ffe7"/><stop offset="0.2" stop-color="#62ff9d"/><stop offset="0.3" stop-color="#b6ff49"/><stop offset="0.4" stop-color="#c9ff36"/><stop offset="0.67" stop-color="#caff35"/><stop offset="0.74" stop-color="#b7ff48"/><stop offset="0.82" stop-color="#6aff95"/><stop offset="0.88" stop-color="#17ffe8"/><stop offset="0.9" stop-color="#00efff"/><stop offset="0.92" stop-color="#00c7ff"/><stop offset="0.94" stop-color="#0091ff"/><stop offset="0.96" stop-color="#0044ff"/><stop offset="0.98" stop-color="#0000df"/><stop offset="1" stop-color="#000085"/></linearGradient><linearGradient id="g299" gradientUnits="userSpaceOnUse" x1="29.8" y1="64.1" x2="75.8" y2="73.3"><stop offset="0" stop-color="#000085"/><stop offset="0.02" stop-color="#0000d4"/><stop offset="0.04" stop-color="#002aff"/><stop offset="0.06" stop-color="#007eff"/><stop offset="0.08" stop-color="#00afff"/><stop offset="0.12" stop-color="#00fdff"/><stop offset="0.14" stop-color="#20ffdf"/><stop offset="0.2" stop-color="#6dff92"/><stop offset="0.3" stop-color="#c4ff3b"/><stop offset="0.4" stop-color="#d4ff2b"/><stop offset="0.67" stop-color="#d6ff29"/><stop offset="0.74" stop-color="#c5ff3a"/><stop offset="0.82" stop-color="#75ff8a"/><stop offset="0.88" stop-color="#1fffe0"/><stop offset="0.9" stop-color="#00f6ff"/><stop offset="0.92" stop-color="#00cdff"/><stop offset="0.94" stop-color="#0096ff"/><stop offset="0.96" stop-color="#0047ff"/><stop offset="0.98" stop-color="#0000e1"/><stop offset="1" stop-color="#000085"/></linearGradient><linearGradient id="g300" gradientUnits="userSpaceOnUse" x1="29.5" y1="66.3" x2="74.7" y2="72.7"><stop offset="0" stop-color="#000085"/><stop offset="0.02" stop-color="#0000d5"/><stop offset="0.04" stop-color="#002dff"/><stop offset="0.06" stop-color="#0083ff"/><stop offset="0.1" stop-color="#00e0ff"/><stop offset="0.12" stop-color="#06fff9"/><stop offset="0.14" stop-color="#2bffd4"/><stop offset="0.2" stop-color="#7fff80"/><stop offset="0.3" stop-color="#d8ff27"/><stop offset="0.67" stop-color="#e6ff19"/><stop offset="0.74" stop-color="#d8ff27"/><stop offset="0.82" stop-color="#82ff7d"/><stop offset="0.88" stop-color="#27ffd8"/><stop offset="0.9" stop-color="#00fdff"/><stop offset="0.92" stop-color="#00d3ff"/><stop offset="0.94" stop-color="#009bff"/><stop offset="0.96" stop-color="#004bff"/><stop offset="0.98" stop-color="#0000e2"/><stop offset="1" stop-color="#000085"/></linearGradient><linearGradient id="g301" gradientUnits="userSpaceOnUse" x1="29.2" y1="68.4" x2="73.5" y2="72.1"><stop offset="0" stop-color="#000085"/><stop offset="0.02" stop-color="#0000d7"/><stop offset="0.04" stop-color="#0030ff"/><stop offset="0.06" stop-color="#0088ff"/><stop offset="0.1" stop-color="#00e8ff"/><stop offset="0.12" stop-color="#10ffef"/><stop offset="0.14" stop-color="#37ffc8"/><stop offset="0.22" stop-color="#b0ff4f"/><stop offset="0.26" stop-color="#d8ff27"/><stop offset="0.3" stop-color="#f4ff0b"/><stop offset="0.55" stop-color="#e9ff16"/><stop offset="0.67" stop-color="#f9ff06"/><stop offset="0.74" stop-color="#f2ff0d"/><stop offset="0.82" stop-color="#94ff6b"/><stop offset="0.88" stop-color="#31ffce"/><stop offset="0.9" stop-color="#06fff9"/><stop offset="0.92" stop-color="#00d9ff"/><stop offset="0.94" stop-color="#00a0ff"/><stop offset="0.96" stop-color="#004fff"/><stop offset="0.98" stop-color="#0000e4"/><stop offset="1" stop-color="#000085"/></linearGradient><linearGradient id="g302" gradientUnits="userSpaceOnUse" x1="29.1" y1="70.5" x2="72" y2="71.5"><stop offset="0" stop-color="#000085"/><stop offset="0.02" stop-color="#0000d8"/><stop offset="0.04" stop-color="#0033ff"/><stop offset="0.06" stop-color="#008dff"/><stop offset="0.08" stop-color="#00c1ff"/><stop offset="0.1" stop-color="#00f0ff"/><stop offset="0.12" stop-color="#1affe5"/><stop offset="0.2" stop-color="#b2ff4d"/><stop offset="0.26" stop-color="#fcff03"/><stop offset="0.3" stop-color="#ffe900"/><stop offset="0.4" stop-color="#fbff04"/><stop offset="0.5" stop-color="#f3ff0c"/><stop offset="0.6" stop-color="#f9ff06"/><stop offset="0.7" stop-color="#ffeb00"/><stop offset="0.74" stop-color="#ffed00"/><stop offset="0.76" stop-color="#faff05"/><stop offset="0.82" stop-color="#a7ff58"/><stop offset="0.88" stop-color="#3bffc4"/><stop offset="0.9" stop-color="#0efff1"/><stop offset="0.92" stop-color="#00e0ff"/><stop offset="0.94" stop-color="#00a5ff"/><stop offset="0.96" stop-color="#0052ff"/><stop offset="0.98" stop-color="#0000e6"/><stop offset="1" stop-color="#000085"/></linearGradient><linearGradient id="g303" gradientUnits="userSpaceOnUse" x1="29.1" y1="72.6" x2="70.2" y2="70.9"><stop offset="0" stop-color="#000085"/><stop offset="0.02" stop-color="#0000da"/><stop offset="0.04" stop-color="#0036ff"/><stop offset="0.06" stop-color="#0091ff"/><stop offset="0.08" stop-color="#00c7ff"/><stop offset="0.1" stop-color="#00f7ff"/><stop offset="0.12" stop-color="#24ffdb"/><stop offset="0.2" stop-color="#c9ff36"/><stop offset="0.22" stop-color="#ebff14"/><stop offset="0.24" stop-color="#fff800"/><stop offset="0.26" stop-color="#ffe400"/><stop offset="0.3" stop-color="#ffce00"/><stop offset="0.36" stop-color="#ffe900"/><stop offset="0.45" stop-color="#ffff00"/><stop offset="0.6" stop-color="#fff900"/><stop offset="0.67" stop-color="#ffdc00"/><stop offset="0.72" stop-color="#ffd200"/><stop offset="0.74" stop-color="#ffd400"/><stop offset="0.76" stop-color="#ffeb00"/><stop offset="0.78" stop-color="#f7ff08"/><stop offset="0.8" stop-color="#d8ff27"/><stop offset="0.88" stop-color="#44ffbb"/><stop offset="0.9" stop-color="#15ffea"/><stop offset="0.92" stop-color="#00e6ff"/><stop offset="0.94" stop-color="#00aaff"/><stop offset="0.96" stop-color="#0056ff"/><stop offset="0.98" stop-color="#0000e7"/><stop offset="1" stop-color="#000085"/></linearGradient><linearGradient id="g304" gradientUnits="userSpaceOnUse" x1="29.3" y1="74.6" x2="68.1" y2="70.3"><stop offset="0" stop-color="#000085"/><stop offset="0.02" stop-color="#0000db"/><stop offset="0.04" stop-color="#0039ff"/><stop offset="0.06" stop-color="#0096ff"/><stop offset="0.08" stop-color="#00ccff"/><stop offset="0.1" stop-color="#00fdff"/><stop offset="0.12" stop-color="#2affd5"/><stop offset="0.2" stop-color="#d3ff2c"/><stop offset="0.22" stop-color="#f5ff0a"/><stop offset="0.24" stop-color="#ffed00"/><stop offset="0.26" stop-color="#ffd800"/><stop offset="0.3" stop-color="#ffc300"/><stop offset="0.4" stop-color="#ffec00"/><stop offset="0.5" stop-color="#fff600"/><stop offset="0.6" stop-color="#ffef00"/><stop offset="0.67" stop-color="#ffd100"/><stop offset="0.72" stop-color="#ffc700"/><stop offset="0.74" stop-color="#ffc900"/><stop offset="0.78" stop-color="#fffc00"/><stop offset="0.82" stop-color="#c1ff3e"/><stop offset="0.88" stop-color="#4bffb4"/><stop offset="0.9" stop-color="#1cffe3"/><stop offset="0.92" stop-color="#00ecff"/><stop offset="0.94" stop-color="#00afff"/><stop offset="0.96" stop-color="#0059ff"/><stop offset="0.98" stop-color="#0000e9"/><stop offset="1" stop-color="#000085"/></linearGradient><linearGradient id="g305" gradientUnits="userSpaceOnUse" x1="29.6" y1="76.5" x2="65.7" y2="70"><stop offset="0" stop-color="#000085"/><stop offset="0.02" stop-color="#0000dc"/><stop offset="0.04" stop-color="#003bff"/><stop offset="0.06" stop-color="#0099ff"/><stop offset="0.1" stop-color="#02fffd"/><stop offset="0.14" stop-color="#5affa5"/><stop offset="0.2" stop-color="#ceff31"/><stop offset="0.22" stop-color="#eeff11"/><stop offset="0.24" stop-color="#fff600"/><stop offset="0.3" stop-color="#ffc800"/><stop offset="0.45" stop-color="#ffec00"/><stop offset="0.6" stop-color="#ffe700"/><stop offset="0.67" stop-color="#ffcf00"/><stop offset="0.72" stop-color="#ffca00"/><stop offset="0.74" stop-color="#ffcc00"/><stop offset="0.76" stop-color="#ffe400"/><stop offset="0.78" stop-color="#ffff00"/><stop offset="0.82" stop-color="#c2ff3d"/><stop offset="0.88" stop-color="#50ffaf"/><stop offset="0.9" stop-color="#21ffde"/><stop offset="0.92" stop-color="#00f1ff"/><stop offset="0.94" stop-color="#00b3ff"/><stop offset="0.96" stop-color="#005cff"/><stop offset="0.98" stop-color="#0000ea"/><stop offset="1" stop-color="#000085"/></linearGradient><linearGradient id="g306" gradientUnits="userSpaceOnUse" x1="30" y1="78.4" x2="63" y2="69.8"><stop offset="0" stop-color="#000085"/><stop offset="0.02" stop-color="#0000dd"/><stop offset="0.04" stop-color="#003eff"/><stop offset="0.06" stop-color="#009dff"/><stop offset="0.1" stop-color="#06fff9"/><stop offset="0.14" stop-color="#5bffa4"/><stop offset="0.2" stop-color="#c3ff3c"/><stop offset="0.24" stop-color="#f7ff08"/><stop offset="0.26" stop-color="#fff300"/><stop offset="0.3" stop-color="#ffd500"/><stop offset="0.55" stop-color="#ffe300"/><stop offset="0.67" stop-color="#ffd100"/><stop offset="0.74" stop-color="#ffd700"/><stop offset="0.76" stop-color="#ffee00"/><stop offset="0.78" stop-color="#f6ff09"/><stop offset="0.82" stop-color="#bfff40"/><stop offset="0.88" stop-color="#54ffab"/><stop offset="0.9" stop-color="#25ffda"/><stop offset="0.92" stop-color="#00f5ff"/><stop offset="0.94" stop-color="#00b7ff"/><stop offset="0.96" stop-color="#005fff"/><stop offset="0.98" stop-color="#0000ec"/><stop offset="1" stop-color="#000085"/></linearGradient><linearGradient id="g307" gradientUnits="userSpaceOnUse" x1="30.5" y1="80.2" x2="59.9" y2="70.1"><stop offset="0" stop-color="#000085"/><stop offset="0.02" stop-color="#0000df"/><stop offset="0.04" stop-color="#0040ff"/><stop offset="0.06" stop-color="#00a1ff"/><stop offset="0.08" stop-color="#00d8ff"/><stop offset="0.1" stop-color="#0afff5"/><stop offset="0.14" stop-color="#5cffa3"/><stop offset="0.2" stop-color="#baff45"/><stop offset="0.26" stop-color="#fcff03"/><stop offset="0.3" stop-color="#ffe000"/><stop offset="0.33" stop-color="#ffdc00"/><stop offset="0.67" stop-color="#ffd100"/><stop offset="0.74" stop-color="#ffe000"/><stop offset="0.76" stop-color="#fff600"/><stop offset="0.78" stop-color="#f0ff0f"/><stop offset="0.82" stop-color="#beff41"/><stop offset="0.88" stop-color="#58ffa7"/><stop offset="0.92" stop-color="#00faff"/><stop offset="0.94" stop-color="#00bbff"/><stop offset="0.96" stop-color="#0062ff"/><stop offset="0.98" stop-color="#0000ed"/><stop offset="1" stop-color="#000085"/></linearGradient><linearGradient id="g308" gradientUnits="userSpaceOnUse" x1="31.2" y1="81.9" x2="56.6" y2="70.7"><stop offset="0" stop-color="#000085"/><stop offset="0.02" stop-color="#0000e0"/><stop offset="0.04" stop-color="#0043ff"/><stop offset="0.06" stop-color="#00a4ff"/><stop offset="0.08" stop-color="#00dcff"/><stop offset="0.1" stop-color="#0efff1"/><stop offset="0.14" stop-color="#5fffa0"/><stop offset="0.2" stop-color="#b8ff47"/><stop offset="0.26" stop-color="#f6ff09"/><stop offset="0.28" stop-color="#fff500"/><stop offset="0.3" stop-color="#ffe300"/><stop offset="0.4" stop-color="#ffd100"/><stop offset="0.67" stop-color="#ffce00"/><stop offset="0.74" stop-color="#ffe100"/><stop offset="0.76" stop-color="#fff800"/><stop offset="0.82" stop-color="#c0ff3f"/><stop offset="0.84" stop-color="#a0ff5f"/><stop offset="0.88" stop-color="#5dffa2"/><stop offset="0.92" stop-color="#00feff"/><stop offset="0.94" stop-color="#00bfff"/><stop offset="0.96" stop-color="#0065ff"/><stop offset="0.98" stop-color="#0000ef"/><stop offset="1" stop-color="#000085"/></linearGradient><linearGradient id="g309" gradientUnits="userSpaceOnUse" x1="31.9" y1="83.4" x2="53" y2="72"><stop offset="0" stop-color="#000085"/><stop offset="0.02" stop-color="#0000e1"/><stop offset="0.04" stop-color="#0046ff"/><stop offset="0.06" stop-color="#00a8ff"/><stop offset="0.08" stop-color="#00e1ff"/><stop offset="0.1" stop-color="#13ffec"/><stop offset="0.14" stop-color="#64ff9b"/><stop offset="0.2" stop-color="#bbff44"/><stop offset="0.26" stop-color="#f8ff07"/><stop offset="0.3" stop-color="#ffdf00"/><stop offset="0.4" stop-color="#ffc800"/><stop offset="0.67" stop-color="#ffc700"/><stop offset="0.74" stop-color="#ffdd00"/><stop offset="0.76" stop-color="#fff400"/><stop offset="0.78" stop-color="#f3ff0c"/><stop offset="0.82" stop-color="#c5ff3a"/><stop offset="0.88" stop-color="#63ff9c"/><stop offset="0.92" stop-color="#04fffb"/><stop offset="0.94" stop-color="#00c4ff"/><stop offset="0.96" stop-color="#0068ff"/><stop offset="0.98" stop-color="#0000f0"/><stop offset="1" stop-color="#000085"/></linearGradient><linearGradient id="g310" gradientUnits="userSpaceOnUse" x1="32.8" y1="84.9" x2="49.4" y2="73.9"><stop offset="0" stop-color="#000085"/><stop offset="0.02" stop-color="#0000e2"/><stop offset="0.04" stop-color="#0048ff"/><stop offset="0.06" stop-color="#00acff"/><stop offset="0.08" stop-color="#00e5ff"/><stop offset="0.1" stop-color="#18ffe7"/><stop offset="0.14" stop-color="#6aff95"/><stop offset="0.2" stop-color="#c1ff3e"/><stop offset="0.26" stop-color="#ffff00"/><stop offset="0.3" stop-color="#ffd800"/><stop offset="0.4" stop-color="#ffbf00"/><stop offset="0.67" stop-color="#ffbf00"/><stop offset="0.74" stop-color="#ffd500"/><stop offset="0.76" stop-color="#ffed00"/><stop offset="0.78" stop-color="#faff05"/><stop offset="0.82" stop-color="#ccff33"/><stop offset="0.88" stop-color="#69ff96"/><stop offset="0.92" stop-color="#0afff5"/><stop offset="0.94" stop-color="#00c8ff"/><stop offset="0.96" stop-color="#006cff"/><stop offset="0.98" stop-color="#0000f2"/><stop offset="1" stop-color="#000085"/></linearGradient><linearGradient id="g311" gradientUnits="userSpaceOnUse" x1="33.8" y1="86.3" x2="45.9" y2="76.5"><stop offset="0" stop-color="#000085"/><stop offset="0.02" stop-color="#0000e4"/><stop offset="0.04" stop-color="#004bff"/><stop offset="0.06" stop-color="#00b0ff"/><stop offset="0.08" stop-color="#00eaff"/><stop offset="0.1" stop-color="#1effe1"/><stop offset="0.14" stop-color="#70ff8f"/><stop offset="0.2" stop-color="#c8ff37"/><stop offset="0.24" stop-color="#f3ff0c"/><stop offset="0.26" stop-color="#fff700"/><stop offset="0.3" stop-color="#ffcf00"/><stop offset="0.36" stop-color="#ffbc00"/><stop offset="0.67" stop-color="#ffb500"/><stop offset="0.74" stop-color="#ffcd00"/><stop offset="0.78" stop-color="#fffb00"/><stop offset="0.82" stop-color="#d4ff2b"/><stop offset="0.88" stop-color="#70ff8f"/><stop offset="0.92" stop-color="#0ffff0"/><stop offset="0.94" stop-color="#00cdff"/><stop offset="0.96" stop-color="#006fff"/><stop offset="0.98" stop-color="#0000f3"/><stop offset="1" stop-color="#000085"/></linearGradient><linearGradient id="g312" href="#g150" x1="35" y1="87.6" x2="42.7" y2="79.9"/><linearGradient id="g313" gradientUnits="userSpaceOnUse" x1="36.2" y1="88.7" x2="40.1" y2="84"><stop offset="0" stop-color="#000085"/><stop offset="0.02" stop-color="#0000e6"/><stop offset="0.04" stop-color="#0051ff"/><stop offset="0.06" stop-color="#00b9ff"/><stop offset="0.08" stop-color="#00f4ff"/><stop offset="0.1" stop-color="#29ffd6"/><stop offset="0.14" stop-color="#7eff81"/><stop offset="0.2" stop-color="#d8ff27"/><stop offset="0.24" stop-color="#fffa00"/><stop offset="0.3" stop-color="#ffbc00"/><stop offset="0.4" stop-color="#ffa200"/><stop offset="0.67" stop-color="#ffa200"/><stop offset="0.74" stop-color="#ffba00"/><stop offset="0.78" stop-color="#ffea00"/><stop offset="0.8" stop-color="#fcff03"/><stop offset="0.82" stop-color="#e4ff1b"/><stop offset="0.88" stop-color="#7dff82"/><stop offset="0.92" stop-color="#1affe5"/><stop offset="0.94" stop-color="#00d6ff"/><stop offset="0.96" stop-color="#0075ff"/><stop offset="0.98" stop-color="#0000f6"/><stop offset="1" stop-color="#000085"/></linearGradient><linearGradient id="g314" gradientUnits="userSpaceOnUse" x1="37.5" y1="89.7" x2="79.8" y2="117.1"><stop offset="0" stop-color="#000085"/><stop offset="0.02" stop-color="#0000e7"/><stop offset="0.04" stop-color="#0053ff"/><stop offset="0.06" stop-color="#00bdff"/><stop offset="0.08" stop-color="#00f9ff"/><stop offset="0.1" stop-color="#2fffd0"/><stop offset="0.14" stop-color="#85ff7a"/><stop offset="0.2" stop-color="#e0ff1f"/><stop offset="0.22" stop-color="#f7ff08"/><stop offset="0.24" stop-color="#fff200"/><stop offset="0.3" stop-color="#ffb300"/><stop offset="0.36" stop-color="#ff9f00"/><stop offset="0.67" stop-color="#ff9800"/><stop offset="0.74" stop-color="#ffb100"/><stop offset="0.8" stop-color="#fffa00"/><stop offset="0.82" stop-color="#ecff13"/><stop offset="0.88" stop-color="#84ff7b"/><stop offset="0.92" stop-color="#1fffe0"/><stop offset="0.94" stop-color="#00daff"/><stop offset="0.96" stop-color="#0078ff"/><stop offset="0.98" stop-color="#0000f8"/><stop offset="1" stop-color="#000085"/></linearGradient><linearGradient id="g315" gradientUnits="userSpaceOnUse" x1="96.6" y1="46.1" x2="58.5" y2="105"><stop offset="0" stop-color="#000" stop-opacity="0.041"/><stop offset="0.042" stop-color="#000" stop-opacity="0.043"/><stop offset="0.083" stop-color="#000" stop-opacity="0.064"/><stop offset="0.125" stop-color="#000" stop-opacity="0.098"/><stop offset="0.167" stop-color="#000" stop-opacity="0.132"/><stop offset="0.208" stop-color="#000" stop-opacity="0.172"/><stop offset="0.25" stop-color="#000" stop-opacity="0.21"/><stop offset="0.292" stop-color="#000" stop-opacity="0.235"/><stop offset="0.333" stop-color="#000" stop-opacity="0.24"/><stop offset="0.375" stop-color="#000" stop-opacity="0.232"/><stop offset="0.417" stop-color="#000" stop-opacity="0.204"/><stop offset="0.458" stop-color="#000" stop-opacity="0.175"/><stop offset="0.5" stop-color="#000" stop-opacity="0.145"/><stop offset="0.542" stop-color="#000" stop-opacity="0.117"/><stop offset="0.583" stop-color="#000" stop-opacity="0.094"/><stop offset="0.625" stop-color="#000" stop-opacity="0.073"/><stop offset="0.667" stop-color="#000" stop-opacity="0.063"/><stop offset="0.708" stop-color="#000" stop-opacity="0.057"/><stop offset="0.75" stop-color="#000" stop-opacity="0.052"/><stop offset="0.792" stop-color="#000" stop-opacity="0.051"/><stop offset="0.833" stop-color="#000" stop-opacity="0.05"/><stop offset="0.875" stop-color="#000" stop-opacity="0.05"/><stop offset="0.917" stop-color="#000" stop-opacity="0.05"/><stop offset="0.958" stop-color="#000" stop-opacity="0.05"/><stop offset="1" stop-color="#000" stop-opacity="0.05"/></linearGradient><linearGradient id="g316" x1="0" y1="0" x2="0" y2="1"><stop offset="0" stop-color="#800000"/><stop offset="0.062" stop-color="#bf0000"/><stop offset="0.125" stop-color="#ff0000"/><stop offset="0.188" stop-color="#ff4000"/><stop offset="0.25" stop-color="#ff8000"/><stop offset="0.312" stop-color="#ffbf00"/><stop offset="0.375" stop-color="#ffff00"/><stop offset="0.438" stop-color="#bfff40"/><stop offset="0.5" stop-color="#80ff80"/><stop offset="0.562" stop-color="#40ffbf"/><stop offset="0.625" stop-color="#00ffff"/><stop offset="0.688" stop-color="#00bfff"/><stop offset="0.75" stop-color="#0080ff"/><stop offset="0.812" stop-color="#0040ff"/><stop offset="0.875" stop-color="#0000ff"/><stop offset="0.938" stop-color="#0000c2"/><stop offset="1" stop-color="#000085"/></linearGradient><clipPath id="c317"><path d="M126.7 78.9L126.6 76.3L126.3 73.8L125.7 71.4L125 69.1L124.1 67L122.9 65L121.6 63.3L120.1 61.7L118.5 60.3L116.7 59.2L114.8 58.3L112.7 57.6L110.5 57.2L108.3 57L105.9 57.1L103.6 57.4L101.1 57.9L98.7 58.7L96.3 59.7L93.8 61L91.5 62.4L89.1 64.1L86.9 65.9L84.7 68L82.6 70.2L80.7 72.5L78.9 75L77.3 77.6L75.8 80.2L74.5 83L73.3 85.7L72.4 88.6L71.7 91.4L71.1 94.2L70.8 96.9L70.7 99.7L70.8 102.3L71.1 104.8L71.7 107.2L72.4 109.5L73.3 111.6L74.5 113.6L75.8 115.3L77.3 116.9L78.9 118.3L80.7 119.4L82.6 120.3L84.7 121L86.9 121.4L89.1 121.6L91.5 121.5L93.8 121.2L96.3 120.7L98.7 119.9L101.1 118.9L103.6 117.6L105.9 116.2L108.3 114.5L110.5 112.6L112.7 110.6L114.8 108.4L116.7 106.1L118.5 103.6L120.1 101L121.6 98.4L122.9 95.6L124.1 92.8L125 90L125.7 87.2L126.3 84.4L126.6 81.6Z"/></clipPath><linearGradient id="g318" gradientUnits="userSpaceOnUse" x1="37.9" y1="89.9" x2="80.2" y2="117.4"><stop offset="0" stop-color="#000085"/><stop offset="0.02" stop-color="#0017ff"/><stop offset="0.04" stop-color="#00b9ff"/><stop offset="0.06" stop-color="#30ffcf"/><stop offset="0.08" stop-color="#83ff7c"/><stop offset="0.12" stop-color="#ffff00"/><stop offset="0.18" stop-color="#ff7f00"/><stop offset="0.24" stop-color="#ff2300"/><stop offset="0.26" stop-color="#ff0c00"/><stop offset="0.3" stop-color="#f90000"/><stop offset="0.33" stop-color="#f00000"/><stop offset="0.67" stop-color="#f00000"/><stop offset="0.72" stop-color="#ff0300"/><stop offset="0.74" stop-color="#ff0c00"/><stop offset="0.76" stop-color="#ff2300"/><stop offset="0.82" stop-color="#ff7f00"/><stop offset="0.88" stop-color="#ffff00"/><stop offset="0.92" stop-color="#83ff7c"/><stop offset="0.94" stop-color="#30ffcf"/><stop offset="0.96" stop-color="#00b9ff"/><stop offset="0.98" stop-color="#0017ff"/><stop offset="1" stop-color="#000085"/></linearGradient><linearGradient id="g319" href="#g318" x1="39.3" y1="90.7" x2="36.9" y2="95.5"/><linearGradient id="g320" href="#g318" x1="40.8" y1="91.4" x2="37.1" y2="101"/><linearGradient id="g321" href="#g318" x1="42.4" y1="92" x2="38.4" y2="106.4"/><linearGradient id="g322" href="#g318" x1="44.1" y1="92.3" x2="40.6" y2="111.5"/><linearGradient id="g323" href="#g318" x1="45.8" y1="92.6" x2="43.7" y2="116.1"/><linearGradient id="g324" href="#g318" x1="47.6" y1="92.6" x2="47.6" y2="120"/><linearGradient id="g325" href="#g318" x1="49.4" y1="92.6" x2="51.9" y2="123.2"/><linearGradient id="g326" href="#g318" x1="51.3" y1="92.4" x2="56.7" y2="125.7"/><linearGradient id="g327" href="#g318" x1="53.2" y1="92" x2="61.6" y2="127.5"/><linearGradient id="g328" href="#g318" x1="55" y1="91.4" x2="66.8" y2="128.5"/><linearGradient id="g329" href="#g318" x1="56.9" y1="90.8" x2="71.9" y2="128.9"/><linearGradient id="g330" href="#g318" x1="58.8" y1="90" x2="77" y2="128.7"/><linearGradient id="g331" href="#g318" x1="60.7" y1="89" x2="82" y2="127.9"/><linearGradient id="g332" href="#g318" x1="62.6" y1="87.9" x2="86.8" y2="126.7"/><linearGradient id="g333" href="#g318" x1="64.4" y1="86.7" x2="91.4" y2="124.9"/><linearGradient id="g334" href="#g318" x1="66.2" y1="85.4" x2="95.9" y2="122.8"/><linearGradient id="g335" href="#g318" x1="68" y1="83.9" x2="100.1" y2="120.3"/><linearGradient id="g336" href="#g318" x1="69.7" y1="82.3" x2="104" y2="117.5"/><linearGradient id="g337" href="#g318" x1="71.3" y1="80.7" x2="107.8" y2="114.4"/><linearGradient id="g338" href="#g318" x1="72.8" y1="78.9" x2="111.2" y2="111"/><linearGradient id="g339" href="#g318" x1="74.3" y1="77" x2="114.4" y2="107.4"/><linearGradient id="g340" href="#g318" x1="75.7" y1="75.1" x2="117.3" y2="103.5"/><linearGradient id="g341" href="#g318" x1="77" y1="73.1" x2="119.9" y2="99.5"/><linearGradient id="g342" href="#g318" x1="78.2" y1="71" x2="122.3" y2="95.3"/><linearGradient id="g343" href="#g318" x1="79.3" y1="68.9" x2="124.3" y2="90.9"/><linearGradient id="g344" href="#g318" x1="80.3" y1="66.8" x2="125.9" y2="86.3"/><linearGradient id="g345" href="#g318" x1="81.1" y1="64.6" x2="127.3" y2="81.7"/><linearGradient id="g346" href="#g318" x1="81.9" y1="62.4" x2="128.2" y2="76.9"/><linearGradient id="g347" href="#g318" x1="82.5" y1="60.3" x2="128.8" y2="72"/><linearGradient id="g348" href="#g318" x1="83" y1="58.1" x2="128.9" y2="67.1"/><linearGradient id="g349" href="#g318" x1="83.4" y1="55.9" x2="128.6" y2="62.2"/><linearGradient id="g350" href="#g318" x1="83.6" y1="53.7" x2="127.8" y2="57.3"/><linearGradient id="g351" href="#g318" x1="83.7" y1="51.6" x2="126.5" y2="52.4"/><linearGradient id="g352" href="#g318" x1="83.7" y1="49.6" x2="124.6" y2="47.7"/><linearGradient id="g353" href="#g318" x1="83.5" y1="47.6" x2="122.2" y2="43.1"/><linearGradient id="g354" href="#g318" x1="83.2" y1="45.6" x2="119.1" y2="38.9"/><linearGradient id="g355" href="#g318" x1="82.8" y1="43.8" x2="115.5" y2="35.1"/><linearGradient id="g356" href="#g318" x1="82.2" y1="42" x2="111.3" y2="31.7"/><linearGradient id="g357" href="#g318" x1="81.6" y1="40.3" x2="106.5" y2="29.1"/><linearGradient id="g358" href="#g318" x1="80.8" y1="38.7" x2="101.4" y2="27.2"/><linearGradient id="g359" href="#g318" x1="79.9" y1="37.2" x2="95.9" y2="26.2"/><linearGradient id="g360" href="#g318" x1="78.8" y1="35.8" x2="90.4" y2="26.2"/><linearGradient id="g361" href="#g318" x1="77.7" y1="34.6" x2="84.9" y2="27.3"/><linearGradient id="g362" href="#g318" x1="76.5" y1="33.5" x2="79.8" y2="29.3"/><linearGradient id="g363" href="#g318" x1="75.1" y1="32.5" x2="117.4" y2="59.9"/><linearGradient id="g364" gradientUnits="userSpaceOnUse" x1="96.6" y1="46.1" x2="58.5" y2="105"><stop offset="0" stop-color="#000" stop-opacity="0"/><stop offset="0.042" stop-color="#000" stop-opacity="0"/><stop offset="0.083" stop-color="#000" stop-opacity="0"/><stop offset="0.125" stop-color="#000" stop-opacity="0"/><stop offset="0.167" stop-color="#000" stop-opacity="0"/><stop offset="0.208" stop-color="#000" stop-opacity="0.001"/><stop offset="0.25" stop-color="#000" stop-opacity="0.002"/><stop offset="0.292" stop-color="#000" stop-opacity="0.007"/><stop offset="0.333" stop-color="#000" stop-opacity="0.013"/><stop offset="0.375" stop-color="#000" stop-opacity="0.023"/><stop offset="0.417" stop-color="#000" stop-opacity="0.044"/><stop offset="0.458" stop-color="#000" stop-opacity="0.067"/><stop offset="0.5" stop-color="#000" stop-opacity="0.095"/><stop offset="0.542" stop-color="#000" stop-opacity="0.125"/><stop offset="0.583" stop-color="#000" stop-opacity="0.154"/><stop offset="0.625" stop-color="#000" stop-opacity="0.182"/><stop offset="0.667" stop-color="#000" stop-opacity="0.19"/><stop offset="0.708" stop-color="#000" stop-opacity="0.185"/><stop offset="0.75" stop-color="#000" stop-opacity="0.16"/><stop offset="0.792" stop-color="#000" stop-opacity="0.122"/><stop offset="0.833" stop-color="#000" stop-opacity="0.082"/><stop offset="0.875" stop-color="#000" stop-opacity="0.048"/><stop offset="0.917" stop-color="#000" stop-opacity="0.014"/><stop offset="0.958" stop-color="#000" stop-opacity="0"/><stop offset="1" stop-color="#000" stop-opacity="0"/></linearGradient><linearGradient id="g365" gradientUnits="userSpaceOnUse" x1="74.7" y1="32.3" x2="117" y2="59.7"><stop offset="0" stop-color="#000085"/><stop offset="0.02" stop-color="#001cff"/><stop offset="0.04" stop-color="#00c3ff"/><stop offset="0.06" stop-color="#3effc1"/><stop offset="0.08" stop-color="#95ff6a"/><stop offset="0.1" stop-color="#d7ff28"/><stop offset="0.12" stop-color="#ffea00"/><stop offset="0.18" stop-color="#ff6500"/><stop offset="0.24" stop-color="#ff0600"/><stop offset="0.26" stop-color="#ed0000"/><stop offset="0.33" stop-color="#d10000"/><stop offset="0.67" stop-color="#d10000"/><stop offset="0.74" stop-color="#ed0000"/><stop offset="0.76" stop-color="#ff0600"/><stop offset="0.82" stop-color="#ff6500"/><stop offset="0.88" stop-color="#ffea00"/><stop offset="0.9" stop-color="#d7ff28"/><stop offset="0.92" stop-color="#95ff6a"/><stop offset="0.94" stop-color="#3effc1"/><stop offset="0.96" stop-color="#00c3ff"/><stop offset="0.98" stop-color="#001cff"/><stop offset="1" stop-color="#000085"/></linearGradient><linearGradient id="g366" href="#g365" x1="73.3" y1="31.5" x2="70.6" y2="36.9"/><linearGradient id="g367" href="#g365" x1="71.8" y1="30.8" x2="67.9" y2="41"/><linearGradient id="g368" href="#g365" x1="70.2" y1="30.3" x2="66.1" y2="45.3"/><linearGradient id="g369" href="#g365" x1="68.5" y1="29.9" x2="65.2" y2="49.6"/><linearGradient id="g370" href="#g365" x1="66.8" y1="29.7" x2="64.9" y2="53.7"/><linearGradient id="g371" href="#g365" x1="65" y1="29.7" x2="65.2" y2="57.4"/><linearGradient id="g372" href="#g365" x1="63.2" y1="29.7" x2="66" y2="60.7"/><linearGradient id="g373" href="#g365" x1="61.4" y1="30" x2="67" y2="63.6"/><linearGradient id="g374" href="#g365" x1="59.5" y1="30.4" x2="68.2" y2="66"/><linearGradient id="g375" href="#g365" x1="57.6" y1="30.9" x2="69.6" y2="68.1"/><linearGradient id="g376" href="#g365" x1="55.7" y1="31.6" x2="70.9" y2="69.8"/><linearGradient id="g377" href="#g365" x1="53.8" y1="32.4" x2="72.2" y2="71.2"/><linearGradient id="g378" href="#g365" x1="52" y1="33.4" x2="73.4" y2="72.3"/><linearGradient id="g379" href="#g365" x1="50.1" y1="34.4" x2="74.5" y2="73.2"/><linearGradient id="g380" href="#g365" x1="48.3" y1="35.7" x2="75.4" y2="73.9"/><linearGradient id="g381" href="#g365" x1="46.5" y1="37" x2="76.3" y2="74.4"/><linearGradient id="g382" href="#g365" x1="44.8" y1="38.5" x2="77" y2="74.8"/><linearGradient id="g383" href="#g365" x1="43.1" y1="40" x2="77.5" y2="75.2"/><linearGradient id="g384" href="#g365" x1="41.5" y1="41.7" x2="78" y2="75.4"/><linearGradient id="g385" href="#g365" x1="39.9" y1="43.4" x2="78.3" y2="75.5"/><linearGradient id="g386" href="#g365" x1="38.5" y1="45.3" x2="78.6" y2="75.6"/><linearGradient id="g387" href="#g365" x1="37.1" y1="47.2" x2="78.7" y2="75.6"/><linearGradient id="g388" href="#g365" x1="35.8" y1="49.2" x2="78.7" y2="75.6"/><linearGradient id="g389" href="#g365" x1="34.6" y1="51.2" x2="78.7" y2="75.5"/><linearGradient id="g390" href="#g365" x1="33.5" y1="53.3" x2="78.5" y2="75.3"/><linearGradient id="g391" href="#g365" x1="32.6" y1="55.5" x2="78.2" y2="75"/><linearGradient id="g392" href="#g365" x1="31.7" y1="57.6" x2="77.8" y2="74.7"/><linearGradient id="g393" href="#g365" x1="30.9" y1="59.8" x2="77.3" y2="74.3"/><linearGradient id="g394" href="#g365" x1="30.3" y1="62" x2="76.6" y2="73.9"/><linearGradient id="g395" href="#g365" x1="29.8" y1="64.1" x2="75.8" y2="73.3"/><linearGradient id="g396" href="#g365" x1="29.5" y1="66.3" x2="74.7" y2="72.7"/><linearGradient id="g397" href="#g365" x1="29.2" y1="68.4" x2="73.5" y2="72.1"/><linearGradient id="g398" href="#g365" x1="29.1" y1="70.5" x2="72" y2="71.5"/><linearGradient id="g399" href="#g365" x1="29.1" y1="72.6" x2="70.2" y2="70.9"/><linearGradient id="g400" href="#g365" x1="29.3" y1="74.6" x2="68.1" y2="70.3"/><linearGradient id="g401" href="#g365" x1="29.6" y1="76.5" x2="65.7" y2="70"/><linearGradient id="g402" href="#g365" x1="30" y1="78.4" x2="63" y2="69.8"/><linearGradient id="g403" href="#g365" x1="30.5" y1="80.2" x2="59.9" y2="70.1"/><linearGradient id="g404" href="#g365" x1="31.2" y1="81.9" x2="56.6" y2="70.7"/><linearGradient id="g405" href="#g365" x1="31.9" y1="83.4" x2="53" y2="72"/><linearGradient id="g406" href="#g365" x1="32.8" y1="84.9" x2="49.4" y2="73.9"/><linearGradient id="g407" href="#g365" x1="33.8" y1="86.3" x2="45.9" y2="76.5"/><linearGradient id="g408" href="#g365" x1="35" y1="87.6" x2="42.7" y2="79.9"/><linearGradient id="g409" href="#g365" x1="36.2" y1="88.7" x2="40.1" y2="84"/><linearGradient id="g410" href="#g365" x1="37.5" y1="89.7" x2="79.8" y2="117.1"/><linearGradient id="g411" gradientUnits="userSpaceOnUse" x1="96.6" y1="46.1" x2="58.5" y2="105"><stop offset="0" stop-color="#000" stop-opacity="0.041"/><stop offset="0.042" stop-color="#000" stop-opacity="0.043"/><stop offset="0.083" stop-color="#000" stop-opacity="0.064"/><stop offset="0.125" stop-color="#000" stop-opacity="0.098"/><stop offset="0.167" stop-color="#000" stop-opacity="0.132"/><stop offset="0.208" stop-color="#000" stop-opacity="0.172"/><stop offset="0.25" stop-color="#000" stop-opacity="0.21"/><stop offset="0.292" stop-color="#000" stop-opacity="0.235"/><stop offset="0.333" stop-color="#000" stop-opacity="0.24"/><stop offset="0.375" stop-color="#000" stop-opacity="0.232"/><stop offset="0.417" stop-color="#000" stop-opacity="0.204"/><stop offset="0.458" stop-color="#000" stop-opacity="0.175"/><stop offset="0.5" stop-color="#000" stop-opacity="0.145"/><stop offset="0.542" stop-color="#000" stop-opacity="0.117"/><stop offset="0.583" stop-color="#000" stop-opacity="0.094"/><stop offset="0.625" stop-color="#000" stop-opacity="0.073"/><stop offset="0.667" stop-color="#000" stop-opacity="0.063"/><stop offset="0.708" stop-color="#000" stop-opacity="0.057"/><stop offset="0.75" stop-color="#000" stop-opacity="0.052"/><stop offset="0.792" stop-color="#000" stop-opacity="0.051"/><stop offset="0.833" stop-color="#000" stop-opacity="0.05"/><stop offset="0.875" stop-color="#000" stop-opacity="0.05"/><stop offset="0.917" stop-color="#000" stop-opacity="0.05"/><stop offset="0.958" stop-color="#000" stop-opacity="0.05"/><stop offset="1" stop-color="#000" stop-opacity="0.05"/></linearGradient><linearGradient id="g412" x1="0" y1="0" x2="0" y2="1"><stop offset="0" stop-color="#800000"/><stop offset="0.062" stop-color="#bf0000"/><stop offset="0.125" stop-color="#ff0000"/><stop offset="0.188" stop-color="#ff4000"/><stop offset="0.25" stop-color="#ff8000"/><stop offset="0.312" stop-color="#ffbf00"/><stop offset="0.375" stop-color="#ffff00"/><stop offset="0.438" stop-color="#bfff40"/><stop offset="0.5" stop-color="#80ff80"/><stop offset="0.562" stop-color="#40ffbf"/><stop offset="0.625" stop-color="#00ffff"/><stop offset="0.688" stop-color="#00bfff"/><stop offset="0.75" stop-color="#0080ff"/><stop offset="0.812" stop-color="#0040ff"/><stop offset="0.875" stop-color="#0000ff"/><stop offset="0.938" stop-color="#0000c2"/><stop offset="1" stop-color="#000085"/></linearGradient><clipPath id="c413"><path d="M126.7 78.9L126.6 76.3L126.3 73.8L125.7 71.4L125 69.1L124.1 67L122.9 65L121.6 63.3L120.1 61.7L118.5 60.3L116.7 59.2L114.8 58.3L112.7 57.6L110.5 57.2L108.3 57L105.9 57.1L103.6 57.4L101.1 57.9L98.7 58.7L96.3 59.7L93.8 61L91.5 62.4L89.1 64.1L86.9 65.9L84.7 68L82.6 70.2L80.7 72.5L78.9 75L77.3 77.6L75.8 80.2L74.5 83L73.3 85.7L72.4 88.6L71.7 91.4L71.1 94.2L70.8 96.9L70.7 99.7L70.8 102.3L71.1 104.8L71.7 107.2L72.4 109.5L73.3 111.6L74.5 113.6L75.8 115.3L77.3 116.9L78.9 118.3L80.7 119.4L82.6 120.3L84.7 121L86.9 121.4L89.1 121.6L91.5 121.5L93.8 121.2L96.3 120.7L98.7 119.9L101.1 118.9L103.6 117.6L105.9 116.2L108.3 114.5L110.5 112.6L112.7 110.6L114.8 108.4L116.7 106.1L118.5 103.6L120.1 101L121.6 98.4L122.9 95.6L124.1 92.8L125 90L125.7 87.2L126.3 84.4L126.6 81.6Z"/></clipPath><linearGradient id="g414" gradientUnits="userSpaceOnUse" x1="37.9" y1="89.9" x2="80.2" y2="117.4"><stop offset="0" stop-color="#000085"/><stop offset="0.02" stop-color="#0000f7"/><stop offset="0.04" stop-color="#0077ff"/><stop offset="0.06" stop-color="#00d8ff"/><stop offset="0.08" stop-color="#1dffe2"/><stop offset="0.12" stop-color="#81ff7e"/><stop offset="0.16" stop-color="#c8ff37"/><stop offset="0.18" stop-color="#ffa400"/><stop offset="0.26" stop-color="#ff3100"/><stop offset="0.33" stop-color="#ff1500"/><stop offset="0.72" stop-color="#ff1500"/><stop offset="0.78" stop-color="#ff3300"/><stop offset="0.8" stop-color="#ff5500"/><stop offset="0.82" stop-color="#ffef00"/><stop offset="0.84" stop-color="#f3ff0c"/><stop offset="0.9" stop-color="#7dff82"/><stop offset="0.94" stop-color="#00fdff"/><stop offset="0.96" stop-color="#00a6ff"/><stop offset="0.98" stop-color="#000dff"/><stop offset="1" stop-color="#000085"/></linearGradient><linearGradient id="g415" href="#g414" x1="39.3" y1="90.7" x2="36.9" y2="95.5"/><linearGradient id="g416" href="#g414" x1="40.8" y1="91.4" x2="37.1" y2="101"/><linearGradient id="g417" href="#g414" x1="42.4" y1="92" x2="38.4" y2="106.4"/><linearGradient id="g418" href="#g414" x1="44.1" y1="92.3" x2="40.6" y2="111.5"/><linearGradient id="g419" href="#g414" x1="45.8" y1="92.6" x2="43.7" y2="116.1"/><linearGradient id="g420" href="#g414" x1="47.6" y1="92.6" x2="47.6" y2="120"/><linearGradient id="g421" href="#g414" x1="49.4" y1="92.6" x2="51.9" y2="123.2"/><linearGradient id="g422" href="#g414" x1="51.3" y1="92.4" x2="56.7" y2="125.7"/><linearGradient id="g423" href="#g414" x1="53.2" y1="92" x2="61.6" y2="127.5"/><linearGradient id="g424" href="#g414" x1="55" y1="91.4" x2="66.8" y2="128.5"/><linearGradient id="g425" href="#g414" x1="56.9" y1="90.8" x2="71.9" y2="128.9"/><linearGradient id="g426" href="#g414" x1="58.8" y1="90" x2="77" y2="128.7"/><linearGradient id="g427" href="#g414" x1="60.7" y1="89" x2="82" y2="127.9"/><linearGradient id="g428" href="#g414" x1="62.6" y1="87.9" x2="86.8" y2="126.7"/><linearGradient id="g429" href="#g414" x1="64.4" y1="86.7" x2="91.4" y2="124.9"/><linearGradient id="g430" href="#g414" x1="66.2" y1="85.4" x2="95.9" y2="122.8"/><linearGradient id="g431" href="#g414" x1="68" y1="83.9" x2="100.1" y2="120.3"/><linearGradient id="g432" href="#g414" x1="69.7" y1="82.3" x2="104" y2="117.5"/><linearGradient id="g433" href="#g414" x1="71.3" y1="80.7" x2="107.8" y2="114.4"/><linearGradient id="g434" href="#g414" x1="72.8" y1="78.9" x2="111.2" y2="111"/><linearGradient id="g435" href="#g414" x1="74.3" y1="77" x2="114.4" y2="107.4"/><linearGradient id="g436" href="#g414" x1="75.7" y1="75.1" x2="117.3" y2="103.5"/><linearGradient id="g437" href="#g414" x1="77" y1="73.1" x2="119.9" y2="99.5"/><linearGradient id="g438" href="#g414" x1="78.2" y1="71" x2="122.3" y2="95.3"/><linearGradient id="g439" href="#g414" x1="79.3" y1="68.9" x2="124.3" y2="90.9"/><linearGradient id="g440" href="#g414" x1="80.3" y1="66.8" x2="125.9" y2="86.3"/><linearGradient id="g441" href="#g414" x1="81.1" y1="64.6" x2="127.3" y2="81.7"/><linearGradient id="g442" href="#g414" x1="81.9" y1="62.4" x2="128.2" y2="76.9"/><linearGradient id="g443" href="#g414" x1="82.5" y1="60.3" x2="128.8" y2="72"/><linearGradient id="g444" gradientUnits="userSpaceOnUse" x1="83" y1="58.1" x2="128.9" y2="67.1"><stop offset="0" stop-color="#000085"/><stop offset="0.02" stop-color="#0000f7"/><stop offset="0.04" stop-color="#0077ff"/><stop offset="0.06" stop-color="#00d8ff"/><stop offset="0.08" stop-color="#1dffe2"/><stop offset="0.12" stop-color="#81ff7e"/><stop offset="0.18" stop-color="#e9ff16"/><stop offset="0.2" stop-color="#fffd00"/><stop offset="0.26" stop-color="#ffb400"/><stop offset="0.33" stop-color="#ff9c00"/><stop offset="0.72" stop-color="#ff9c00"/><stop offset="0.78" stop-color="#ffb600"/><stop offset="0.82" stop-color="#ffef00"/><stop offset="0.84" stop-color="#f3ff0c"/><stop offset="0.9" stop-color="#7dff82"/><stop offset="0.94" stop-color="#00fdff"/><stop offset="0.96" stop-color="#00a6ff"/><stop offset="0.98" stop-color="#000dff"/><stop offset="1" stop-color="#000085"/></linearGradient><linearGradient id="g445" href="#g444" x1="83.4" y1="55.9" x2="128.6" y2="62.2"/><linearGradient id="g446" href="#g444" x1="83.6" y1="53.7" x2="127.8" y2="57.3"/><linearGradient id="g447" href="#g444" x1="83.7" y1="51.6" x2="126.5" y2="52.4"/><linearGradient id="g448" href="#g444" x1="83.7" y1="49.6" x2="124.6" y2="47.7"/><linearGradient id="g449" href="#g444" x1="83.5" y1="47.6" x2="122.2" y2="43.1"/><linearGradient id="g450" href="#g444" x1="83.2" y1="45.6" x2="119.1" y2="38.9"/><linearGradient id="g451" href="#g444" x1="82.8" y1="43.8" x2="115.5" y2="35.1"/><linearGradient id="g452" href="#g444" x1="82.2" y1="42" x2="111.3" y2="31.7"/><linearGradient id="g453" href="#g444" x1="81.6" y1="40.3" x2="106.5" y2="29.1"/><linearGradient id="g454" href="#g444" x1="80.8" y1="38.7" x2="101.4" y2="27.2"/><linearGradient id="g455" href="#g444" x1="79.9" y1="37.2" x2="95.9" y2="26.2"/><linearGradient id="g456" href="#g444" x1="78.8" y1="35.8" x2="90.4" y2="26.2"/><linearGradient id="g457" href="#g444" x1="77.7" y1="34.6" x2="84.9" y2="27.3"/><linearGradient id="g458" href="#g444" x1="76.5" y1="33.5" x2="79.8" y2="29.3"/><linearGradient id="g459" href="#g444" x1="75.1" y1="32.5" x2="117.4" y2="59.9"/><linearGradient id="g460" gradientUnits="userSpaceOnUse" x1="96.6" y1="46.1" x2="58.5" y2="105"><stop offset="0" stop-color="#000" stop-opacity="0"/><stop offset="0.042" stop-color="#000" stop-opacity="0"/><stop offset="0.083" stop-color="#000" stop-opacity="0"/><stop offset="0.125" stop-color="#000" stop-opacity="0"/><stop offset="0.167" stop-color="#000" stop-opacity="0"/><stop offset="0.208" stop-color="#000" stop-opacity="0.001"/><stop offset="0.25" stop-color="#000" stop-opacity="0.002"/><stop offset="0.292" stop-color="#000" stop-opacity="0.007"/><stop offset="0.333" stop-color="#000" stop-opacity="0.013"/><stop offset="0.375" stop-color="#000" stop-opacity="0.023"/><stop offset="0.417" stop-color="#000" stop-opacity="0.044"/><stop offset="0.458" stop-color="#000" stop-opacity="0.067"/><stop offset="0.5" stop-color="#000" stop-opacity="0.095"/><stop offset="0.542" stop-color="#000" stop-opacity="0.125"/><stop offset="0.583" stop-color="#000" stop-opacity="0.154"/><stop offset="0.625" stop-color="#000" stop-opacity="0.182"/><stop offset="0.667" stop-color="#000" stop-opacity="0.19"/><stop offset="0.708" stop-color="#000" stop-opacity="0.185"/><stop offset="0.75" stop-color="#000" stop-opacity="0.16"/><stop offset="0.792" stop-color="#000" stop-opacity="0.122"/><stop offset="0.833" stop-color="#000" stop-opacity="0.082"/><stop offset="0.875" stop-color="#000" stop-opacity="0.048"/><stop offset="0.917" stop-color="#000" stop-opacity="0.014"/><stop offset="0.958" stop-color="#000" stop-opacity="0"/><stop offset="1" stop-color="#000" stop-opacity="0"/></linearGradient><linearGradient id="g461" gradientUnits="userSpaceOnUse" x1="74.7" y1="32.3" x2="117" y2="59.7"><stop offset="0" stop-color="#000085"/><stop offset="0.02" stop-color="#0000e5"/><stop offset="0.04" stop-color="#0051ff"/><stop offset="0.06" stop-color="#00a3ff"/><stop offset="0.08" stop-color="#00dcff"/><stop offset="0.1" stop-color="#08fff7"/><stop offset="0.12" stop-color="#31ffce"/><stop offset="0.18" stop-color="#89ff76"/><stop offset="0.26" stop-color="#daff25"/><stop offset="0.33" stop-color="#efff10"/><stop offset="0.72" stop-color="#efff10"/><stop offset="0.78" stop-color="#d9ff26"/><stop offset="0.86" stop-color="#74ff8b"/><stop offset="0.9" stop-color="#2dffd2"/><stop offset="0.92" stop-color="#00faff"/><stop offset="0.94" stop-color="#00c2ff"/><stop offset="0.96" stop-color="#0078ff"/><stop offset="0.98" stop-color="#0000f6"/><stop offset="1" stop-color="#000085"/></linearGradient><linearGradient id="g462" href="#g461" x1="73.3" y1="31.5" x2="70.6" y2="36.9"/><linearGradient id="g463" href="#g461" x1="71.8" y1="30.8" x2="67.9" y2="41"/><linearGradient id="g464" href="#g461" x1="70.2" y1="30.3" x2="66.1" y2="45.3"/><linearGradient id="g465" href="#g461" x1="68.5" y1="29.9" x2="65.2" y2="49.6"/><linearGradient id="g466" href="#g461" x1="66.8" y1="29.7" x2="64.9" y2="53.7"/><linearGradient id="g467" href="#g461" x1="65" y1="29.7" x2="65.2" y2="57.4"/><linearGradient id="g468" href="#g461" x1="63.2" y1="29.7" x2="66" y2="60.7"/><linearGradient id="g469" href="#g461" x1="61.4" y1="30" x2="67" y2="63.6"/><linearGradient id="g470" href="#g461" x1="59.5" y1="30.4" x2="68.2" y2="66"/><linearGradient id="g471" href="#g461" x1="57.6" y1="30.9" x2="69.6" y2="68.1"/><linearGradient id="g472" href="#g461" x1="55.7" y1="31.6" x2="70.9" y2="69.8"/><linearGradient id="g473" href="#g461" x1="53.8" y1="32.4" x2="72.2" y2="71.2"/><linearGradient id="g474" href="#g461" x1="52" y1="33.4" x2="73.4" y2="72.3"/><linearGradient id="g475" href="#g461" x1="50.1" y1="34.4" x2="74.5" y2="73.2"/><linearGradient id="g476" href="#g461" x1="48.3" y1="35.7" x2="75.4" y2="73.9"/><linearGradient id="g477" href="#g461" x1="46.5" y1="37" x2="76.3" y2="74.4"/><linearGradient id="g478" href="#g461" x1="44.8" y1="38.5" x2="77" y2="74.8"/><linearGradient id="g479" href="#g461" x1="43.1" y1="40" x2="77.5" y2="75.2"/><linearGradient id="g480" href="#g461" x1="41.5" y1="41.7" x2="78" y2="75.4"/><linearGradient id="g481" href="#g461" x1="39.9" y1="43.4" x2="78.3" y2="75.5"/><linearGradient id="g482" href="#g461" x1="38.5" y1="45.3" x2="78.6" y2="75.6"/><linearGradient id="g483" href="#g461" x1="37.1" y1="47.2" x2="78.7" y2="75.6"/><linearGradient id="g484" href="#g461" x1="35.8" y1="49.2" x2="78.7" y2="75.6"/><linearGradient id="g485" href="#g461" x1="34.6" y1="51.2" x2="78.7" y2="75.5"/><linearGradient id="g486" href="#g461" x1="33.5" y1="53.3" x2="78.5" y2="75.3"/><linearGradient id="g487" href="#g461" x1="32.6" y1="55.5" x2="78.2" y2="75"/><linearGradient id="g488" href="#g461" x1="31.7" y1="57.6" x2="77.8" y2="74.7"/><linearGradient id="g489" href="#g461" x1="30.9" y1="59.8" x2="77.3" y2="74.3"/><linearGradient id="g490" href="#g461" x1="30.3" y1="62" x2="76.6" y2="73.9"/><linearGradient id="g491" gradientUnits="userSpaceOnUse" x1="29.8" y1="64.1" x2="75.8" y2="73.3"><stop offset="0" stop-color="#000085"/><stop offset="0.02" stop-color="#0000e5"/><stop offset="0.04" stop-color="#0051ff"/><stop offset="0.06" stop-color="#00a3ff"/><stop offset="0.08" stop-color="#00dcff"/><stop offset="0.1" stop-color="#08fff7"/><stop offset="0.12" stop-color="#31ffce"/><stop offset="0.16" stop-color="#6dff92"/><stop offset="0.18" stop-color="#e9ff16"/><stop offset="0.2" stop-color="#fffd00"/><stop offset="0.26" stop-color="#ffb400"/><stop offset="0.33" stop-color="#ff9c00"/><stop offset="0.72" stop-color="#ff9c00"/><stop offset="0.78" stop-color="#ffb600"/><stop offset="0.8" stop-color="#ffd200"/><stop offset="0.82" stop-color="#a9ff56"/><stop offset="0.86" stop-color="#74ff8b"/><stop offset="0.9" stop-color="#2dffd2"/><stop offset="0.92" stop-color="#00faff"/><stop offset="0.94" stop-color="#00c2ff"/><stop offset="0.96" stop-color="#0078ff"/><stop offset="0.98" stop-color="#0000f6"/><stop offset="1" stop-color="#000085"/></linearGradient><linearGradient id="g492" href="#g491" x1="29.5" y1="66.3" x2="74.7" y2="72.7"/><linearGradient id="g493" href="#g491" x1="29.2" y1="68.4" x2="73.5" y2="72.1"/><linearGradient id="g494" href="#g491" x1="29.1" y1="70.5" x2="72" y2="71.5"/><linearGradient id="g495" href="#g491" x1="29.1" y1="72.6" x2="70.2" y2="70.9"/><linearGradient id="g496" href="#g491" x1="29.3" y1="74.6" x2="68.1" y2="70.3"/><linearGradient id="g497" href="#g491" x1="29.6" y1="76.5" x2="65.7" y2="70"/><linearGradient id="g498" href="#g491" x1="30" y1="78.4" x2="63" y2="69.8"/><linearGradient id="g499" href="#g491" x1="30.5" y1="80.2" x2="59.9" y2="70.1"/><linearGradient id="g500" href="#g491" x1="31.2" y1="81.9" x2="56.6" y2="70.7"/><linearGradient id="g501" href="#g491" x1="31.9" y1="83.4" x2="53" y2="72"/><linearGradient id="g502" href="#g491" x1="32.8" y1="84.9" x2="49.4" y2="73.9"/><linearGradient id="g503" href="#g491" x1="33.8" y1="86.3" x2="45.9" y2="76.5"/><linearGradient id="g504" href="#g491" x1="35" y1="87.6" x2="42.7" y2="79.9"/><linearGradient id="g505" href="#g491" x1="36.2" y1="88.7" x2="40.1" y2="84"/><linearGradient id="g506" href="#g491" x1="37.5" y1="89.7" x2="79.8" y2="117.1"/><linearGradient id="g507" gradientUnits="userSpaceOnUse" x1="96.6" y1="46.1" x2="58.5" y2="105"><stop offset="0" stop-color="#000" stop-opacity="0.041"/><stop offset="0.042" stop-color="#000" stop-opacity="0.043"/><stop offset="0.083" stop-color="#000" stop-opacity="0.064"/><stop offset="0.125" stop-color="#000" stop-opacity="0.098"/><stop offset="0.167" stop-color="#000" stop-opacity="0.132"/><stop offset="0.208" stop-color="#000" stop-opacity="0.172"/><stop offset="0.25" stop-color="#000" stop-opacity="0.21"/><stop offset="0.292" stop-color="#000" stop-opacity="0.235"/><stop offset="0.333" stop-color="#000" stop-opacity="0.24"/><stop offset="0.375" stop-color="#000" stop-opacity="0.232"/><stop offset="0.417" stop-color="#000" stop-opacity="0.204"/><stop offset="0.458" stop-color="#000" stop-opacity="0.175"/><stop offset="0.5" stop-color="#000" stop-opacity="0.145"/><stop offset="0.542" stop-color="#000" stop-opacity="0.117"/><stop offset="0.583" stop-color="#000" stop-opacity="0.094"/><stop offset="0.625" stop-color="#000" stop-opacity="0.073"/><stop offset="0.667" stop-color="#000" stop-opacity="0.063"/><stop offset="0.708" stop-color="#000" stop-opacity="0.057"/><stop offset="0.75" stop-color="#000" stop-opacity="0.052"/><stop offset="0.792" stop-color="#000" stop-opacity="0.051"/><stop offset="0.833" stop-color="#000" stop-opacity="0.05"/><stop offset="0.875" stop-color="#000" stop-opacity="0.05"/><stop offset="0.917" stop-color="#000" stop-opacity="0.05"/><stop offset="0.958" stop-color="#000" stop-opacity="0.05"/><stop offset="1" stop-color="#000" stop-opacity="0.05"/></linearGradient><linearGradient id="g508" x1="0" y1="0" x2="0" y2="1"><stop offset="0" stop-color="#800000"/><stop offset="0.062" stop-color="#bf0000"/><stop offset="0.125" stop-color="#ff0000"/><stop offset="0.188" stop-color="#ff4000"/><stop offset="0.25" stop-color="#ff8000"/><stop offset="0.312" stop-color="#ffbf00"/><stop offset="0.375" stop-color="#ffff00"/><stop offset="0.438" stop-color="#bfff40"/><stop offset="0.5" stop-color="#80ff80"/><stop offset="0.562" stop-color="#40ffbf"/><stop offset="0.625" stop-color="#00ffff"/><stop offset="0.688" stop-color="#00bfff"/><stop offset="0.75" stop-color="#0080ff"/><stop offset="0.812" stop-color="#0040ff"/><stop offset="0.875" stop-color="#0000ff"/><stop offset="0.938" stop-color="#0000c2"/><stop offset="1" stop-color="#000085"/></linearGradient><clipPath id="c509"><path d="M126.7 78.9L126.6 76.3L126.3 73.8L125.7 71.4L125 69.1L124.1 67L122.9 65L121.6 63.3L120.1 61.7L118.5 60.3L116.7 59.2L114.8 58.3L112.7 57.6L110.5 57.2L108.3 57L105.9 57.1L103.6 57.4L101.1 57.9L98.7 58.7L96.3 59.7L93.8 61L91.5 62.4L89.1 64.1L86.9 65.9L84.7 68L82.6 70.2L80.7 72.5L78.9 75L77.3 77.6L75.8 80.2L74.5 83L73.3 85.7L72.4 88.6L71.7 91.4L71.1 94.2L70.8 96.9L70.7 99.7L70.8 102.3L71.1 104.8L71.7 107.2L72.4 109.5L73.3 111.6L74.5 113.6L75.8 115.3L77.3 116.9L78.9 118.3L80.7 119.4L82.6 120.3L84.7 121L86.9 121.4L89.1 121.6L91.5 121.5L93.8 121.2L96.3 120.7L98.7 119.9L101.1 118.9L103.6 117.6L105.9 116.2L108.3 114.5L110.5 112.6L112.7 110.6L114.8 108.4L116.7 106.1L118.5 103.6L120.1 101L121.6 98.4L122.9 95.6L124.1 92.8L125 90L125.7 87.2L126.3 84.4L126.6 81.6Z"/></clipPath><linearGradient id="g510" gradientUnits="userSpaceOnUse" x1="37.9" y1="89.9" x2="80.2" y2="117.4"><stop offset="0" stop-color="#000085"/><stop offset="0.02" stop-color="#0000ec"/><stop offset="0.04" stop-color="#005fff"/><stop offset="0.06" stop-color="#00b7ff"/><stop offset="0.08" stop-color="#00f4ff"/><stop offset="0.1" stop-color="#23ffdc"/><stop offset="0.12" stop-color="#50ffaf"/><stop offset="0.16" stop-color="#8fff70"/><stop offset="0.18" stop-color="#ff8e00"/><stop offset="0.26" stop-color="#ff1900"/><stop offset="0.33" stop-color="#fa0000"/><stop offset="0.72" stop-color="#fa0000"/><stop offset="0.78" stop-color="#ff1a00"/><stop offset="0.8" stop-color="#ff3d00"/><stop offset="0.82" stop-color="#d0ff2f"/><stop offset="0.86" stop-color="#97ff68"/><stop offset="0.9" stop-color="#4cffb3"/><stop offset="0.92" stop-color="#16ffe9"/><stop offset="0.94" stop-color="#00d8ff"/><stop offset="0.96" stop-color="#0089ff"/><stop offset="0.98" stop-color="#0000fe"/><stop offset="1" stop-color="#000085"/></linearGradient><linearGradient id="g511" href="#g510" x1="39.3" y1="90.7" x2="36.9" y2="95.5"/><linearGradient id="g512" href="#g510" x1="40.8" y1="91.4" x2="37.1" y2="101"/><linearGradient id="g513" href="#g510" x1="42.4" y1="92" x2="38.4" y2="106.4"/><linearGradient id="g514" href="#g510" x1="44.1" y1="92.3" x2="40.6" y2="111.5"/><linearGradient id="g515" href="#g510" x1="45.8" y1="92.6" x2="43.7" y2="116.1"/><linearGradient id="g516" href="#g510" x1="47.6" y1="92.6" x2="47.6" y2="120"/><linearGradient id="g517" href="#g510" x1="49.4" y1="92.6" x2="51.9" y2="123.2"/><linearGradient id="g518" href="#g510" x1="51.3" y1="92.4" x2="56.7" y2="125.7"/><linearGradient id="g519" href="#g510" x1="53.2" y1="92" x2="61.6" y2="127.5"/><linearGradient id="g520" href="#g510" x1="55" y1="91.4" x2="66.8" y2="128.5"/><linearGradient id="g521" href="#g510" x1="56.9" y1="90.8" x2="71.9" y2="128.9"/><linearGradient id="g522" href="#g510" x1="58.8" y1="90" x2="77" y2="128.7"/><linearGradient id="g523" href="#g510" x1="60.7" y1="89" x2="82" y2="127.9"/><linearGradient id="g524" href="#g510" x1="62.6" y1="87.9" x2="86.8" y2="126.7"/><linearGradient id="g525" href="#g510" x1="64.4" y1="86.7" x2="91.4" y2="124.9"/><linearGradient id="g526" href="#g510" x1="66.2" y1="85.4" x2="95.9" y2="122.8"/><linearGradient id="g527" href="#g510" x1="68" y1="83.9" x2="100.1" y2="120.3"/><linearGradient id="g528" href="#g510" x1="69.7" y1="82.3" x2="104" y2="117.5"/><linearGradient id="g529" href="#g510" x1="71.3" y1="80.7" x2="107.8" y2="114.4"/><linearGradient id="g530" href="#g510" x1="72.8" y1="78.9" x2="111.2" y2="111"/><linearGradient id="g531" href="#g510" x1="74.3" y1="77" x2="114.4" y2="107.4"/><linearGradient id="g532" href="#g510" x1="75.7" y1="75.1" x2="117.3" y2="103.5"/><linearGradient id="g533" href="#g510" x1="77" y1="73.1" x2="119.9" y2="99.5"/><linearGradient id="g534" href="#g510" x1="78.2" y1="71" x2="122.3" y2="95.3"/><linearGradient id="g535" href="#g510" x1="79.3" y1="68.9" x2="124.3" y2="90.9"/><linearGradient id="g536" href="#g510" x1="80.3" y1="66.8" x2="125.9" y2="86.3"/><linearGradient id="g537" href="#g510" x1="81.1" y1="64.6" x2="127.3" y2="81.7"/><linearGradient id="g538" href="#g510" x1="81.9" y1="62.4" x2="128.2" y2="76.9"/><linearGradient id="g539" href="#g510" x1="82.5" y1="60.3" x2="128.8" y2="72"/><linearGradient id="g540" gradientUnits="userSpaceOnUse" x1="83" y1="58.1" x2="128.9" y2="67.1"><stop offset="0" stop-color="#000085"/><stop offset="0.02" stop-color="#0000ec"/><stop offset="0.04" stop-color="#005fff"/><stop offset="0.06" stop-color="#00b7ff"/><stop offset="0.08" stop-color="#00f4ff"/><stop offset="0.1" stop-color="#23ffdc"/><stop offset="0.12" stop-color="#50ffaf"/><stop offset="0.18" stop-color="#adff52"/><stop offset="0.26" stop-color="#fff900"/><stop offset="0.33" stop-color="#ffe300"/><stop offset="0.72" stop-color="#ffe300"/><stop offset="0.78" stop-color="#fffb00"/><stop offset="0.86" stop-color="#97ff68"/><stop offset="0.9" stop-color="#4cffb3"/><stop offset="0.92" stop-color="#16ffe9"/><stop offset="0.94" stop-color="#00d8ff"/><stop offset="0.96" stop-color="#0089ff"/><stop offset="0.98" stop-color="#0000fe"/><stop offset="1" stop-color="#000085"/></linearGradient><linearGradient id="g541" href="#g540" x1="83.4" y1="55.9" x2="128.6" y2="62.2"/><linearGradient id="g542" href="#g540" x1="83.6" y1="53.7" x2="127.8" y2="57.3"/><linearGradient id="g543" href="#g540" x1="83.7" y1="51.6" x2="126.5" y2="52.4"/><linearGradient id="g544" href="#g540" x1="83.7" y1="49.6" x2="124.6" y2="47.7"/><linearGradient id="g545" href="#g540" x1="83.5" y1="47.6" x2="122.2" y2="43.1"/><linearGradient id="g546" href="#g540" x1="83.2" y1="45.6" x2="119.1" y2="38.9"/><linearGradient id="g547" href="#g540" x1="82.8" y1="43.8" x2="115.5" y2="35.1"/><linearGradient id="g548" href="#g540" x1="82.2" y1="42" x2="111.3" y2="31.7"/><linearGradient id="g549" href="#g540" x1="81.6" y1="40.3" x2="106.5" y2="29.1"/><linearGradient id="g550" href="#g540" x1="80.8" y1="38.7" x2="101.4" y2="27.2"/><linearGradient id="g551" href="#g540" x1="79.9" y1="37.2" x2="95.9" y2="26.2"/><linearGradient id="g552" href="#g540" x1="78.8" y1="35.8" x2="90.4" y2="26.2"/><linearGradient id="g553" href="#g540" x1="77.7" y1="34.6" x2="84.9" y2="27.3"/><linearGradient id="g554" href="#g540" x1="76.5" y1="33.5" x2="79.8" y2="29.3"/><linearGradient id="g555" href="#g540" x1="75.1" y1="32.5" x2="117.4" y2="59.9"/><linearGradient id="g556" gradientUnits="userSpaceOnUse" x1="96.6" y1="46.1" x2="58.5" y2="105"><stop offset="0" stop-color="#000" stop-opacity="0"/><stop offset="0.042" stop-color="#000" stop-opacity="0"/><stop offset="0.083" stop-color="#000" stop-opacity="0"/><stop offset="0.125" stop-color="#000" stop-opacity="0"/><stop offset="0.167" stop-color="#000" stop-opacity="0"/><stop offset="0.208" stop-color="#000" stop-opacity="0.001"/><stop offset="0.25" stop-color="#000" stop-opacity="0.002"/><stop offset="0.292" stop-color="#000" stop-opacity="0.007"/><stop offset="0.333" stop-color="#000" stop-opacity="0.013"/><stop offset="0.375" stop-color="#000" stop-opacity="0.023"/><stop offset="0.417" stop-color="#000" stop-opacity="0.044"/><stop offset="0.458" stop-color="#000" stop-opacity="0.067"/><stop offset="0.5" stop-color="#000" stop-opacity="0.095"/><stop offset="0.542" stop-color="#000" stop-opacity="0.125"/><stop offset="0.583" stop-color="#000" stop-opacity="0.154"/><stop offset="0.625" stop-color="#000" stop-opacity="0.182"/><stop offset="0.667" stop-color="#000" stop-opacity="0.19"/><stop offset="0.708" stop-color="#000" stop-opacity="0.185"/><stop offset="0.75" stop-color="#000" stop-opacity="0.16"/><stop offset="0.792" stop-color="#000" stop-opacity="0.122"/><stop offset="0.833" stop-color="#000" stop-opacity="0.082"/><stop offset="0.875" stop-color="#000" stop-opacity="0.048"/><stop offset="0.917" stop-color="#000" stop-opacity="0.014"/><stop offset="0.958" stop-color="#000" stop-opacity="0"/><stop offset="1" stop-color="#000" stop-opacity="0"/></linearGradient><linearGradient id="g557" gradientUnits="userSpaceOnUse" x1="74.7" y1="32.3" x2="117" y2="59.7"><stop offset="0" stop-color="#000085"/><stop offset="0.02" stop-color="#0000cc"/><stop offset="0.04" stop-color="#001aff"/><stop offset="0.06" stop-color="#0057ff"/><stop offset="0.08" stop-color="#0081ff"/><stop offset="0.12" stop-color="#00bfff"/><stop offset="0.18" stop-color="#01fffe"/><stop offset="0.26" stop-color="#3dffc2"/><stop offset="0.33" stop-color="#4dffb2"/><stop offset="0.72" stop-color="#4dffb2"/><stop offset="0.78" stop-color="#3cffc3"/><stop offset="0.84" stop-color="#07fff8"/><stop offset="0.86" stop-color="#00f1ff"/><stop offset="0.9" stop-color="#00bdff"/><stop offset="0.94" stop-color="#006eff"/><stop offset="0.96" stop-color="#0037ff"/><stop offset="0.98" stop-color="#0000d8"/><stop offset="1" stop-color="#000085"/></linearGradient><linearGradient id="g558" href="#g557" x1="73.3" y1="31.5" x2="70.6" y2="36.9"/><linearGradient id="g559" href="#g557" x1="71.8" y1="30.8" x2="67.9" y2="41"/><linearGradient id="g560" href="#g557" x1="70.2" y1="30.3" x2="66.1" y2="45.3"/><linearGradient id="g561" href="#g557" x1="68.5" y1="29.9" x2="65.2" y2="49.6"/><linearGradient id="g562" href="#g557" x1="66.8" y1="29.7" x2="64.9" y2="53.7"/><linearGradient id="g563" href="#g557" x1="65" y1="29.7" x2="65.2" y2="57.4"/><linearGradient id="g564" href="#g557" x1="63.2" y1="29.7" x2="66" y2="60.7"/><linearGradient id="g565" href="#g557" x1="61.4" y1="30" x2="67" y2="63.6"/><linearGradient id="g566" href="#g557" x1="59.5" y1="30.4" x2="68.2" y2="66"/><linearGradient id="g567" href="#g557" x1="57.6" y1="30.9" x2="69.6" y2="68.1"/><linearGradient id="g568" href="#g557" x1="55.7" y1="31.6" x2="70.9" y2="69.8"/><linearGradient id="g569" href="#g557" x1="53.8" y1="32.4" x2="72.2" y2="71.2"/><linearGradient id="g570" href="#g557" x1="52" y1="33.4" x2="73.4" y2="72.3"/><linearGradient id="g571" href="#g557" x1="50.1" y1="34.4" x2="74.5" y2="73.2"/><linearGradient id="g572" href="#g557" x1="48.3" y1="35.7" x2="75.4" y2="73.9"/><linearGradient id="g573" href="#g557" x1="46.5" y1="37" x2="76.3" y2="74.4"/><linearGradient id="g574" href="#g557" x1="44.8" y1="38.5" x2="77" y2="74.8"/><linearGradient id="g575" href="#g557" x1="43.1" y1="40" x2="77.5" y2="75.2"/><linearGradient id="g576" href="#g557" x1="41.5" y1="41.7" x2="78" y2="75.4"/><linearGradient id="g577" href="#g557" x1="39.9" y1="43.4" x2="78.3" y2="75.5"/><linearGradient id="g578" href="#g557" x1="38.5" y1="45.3" x2="78.6" y2="75.6"/><linearGradient id="g579" href="#g557" x1="37.1" y1="47.2" x2="78.7" y2="75.6"/><linearGradient id="g580" href="#g557" x1="35.8" y1="49.2" x2="78.7" y2="75.6"/><linearGradient id="g581" href="#g557" x1="34.6" y1="51.2" x2="78.7" y2="75.5"/><linearGradient id="g582" href="#g557" x1="33.5" y1="53.3" x2="78.5" y2="75.3"/><linearGradient id="g583" href="#g557" x1="32.6" y1="55.5" x2="78.2" y2="75"/><linearGradient id="g584" href="#g557" x1="31.7" y1="57.6" x2="77.8" y2="74.7"/><linearGradient id="g585" href="#g557" x1="30.9" y1="59.8" x2="77.3" y2="74.3"/><linearGradient id="g586" href="#g557" x1="30.3" y1="62" x2="76.6" y2="73.9"/><linearGradient id="g587" gradientUnits="userSpaceOnUse" x1="29.8" y1="64.1" x2="75.8" y2="73.3"><stop offset="0" stop-color="#000085"/><stop offset="0.02" stop-color="#0000cc"/><stop offset="0.04" stop-color="#001aff"/><stop offset="0.06" stop-color="#0057ff"/><stop offset="0.08" stop-color="#0081ff"/><stop offset="0.12" stop-color="#00bfff"/><stop offset="0.16" stop-color="#00ebff"/><stop offset="0.18" stop-color="#adff52"/><stop offset="0.26" stop-color="#fff900"/><stop offset="0.33" stop-color="#ffe300"/><stop offset="0.72" stop-color="#ffe300"/><stop offset="0.78" stop-color="#fffb00"/><stop offset="0.8" stop-color="#eaff15"/><stop offset="0.82" stop-color="#19ffe6"/><stop offset="0.84" stop-color="#07fff8"/><stop offset="0.86" stop-color="#00f1ff"/><stop offset="0.9" stop-color="#00bdff"/><stop offset="0.94" stop-color="#006eff"/><stop offset="0.96" stop-color="#0037ff"/><stop offset="0.98" stop-color="#0000d8"/><stop offset="1" stop-color="#000085"/></linearGradient><linearGradient id="g588" href="#g587" x1="29.5" y1="66.3" x2="74.7" y2="72.7"/><linearGradient id="g589" href="#g587" x1="29.2" y1="68.4" x2="73.5" y2="72.1"/><linearGradient id="g590" href="#g587" x1="29.1" y1="70.5" x2="72" y2="71.5"/><linearGradient id="g591" href="#g587" x1="29.1" y1="72.6" x2="70.2" y2="70.9"/><linearGradient id="g592" href="#g587" x1="29.3" y1="74.6" x2="68.1" y2="70.3"/><linearGradient id="g593" href="#g587" x1="29.6" y1="76.5" x2="65.7" y2="70"/><linearGradient id="g594" href="#g587" x1="30" y1="78.4" x2="63" y2="69.8"/><linearGradient id="g595" href="#g587" x1="30.5" y1="80.2" x2="59.9" y2="70.1"/><linearGradient id="g596" href="#g587" x1="31.2" y1="81.9" x2="56.6" y2="70.7"/><linearGradient id="g597" href="#g587" x1="31.9" y1="83.4" x2="53" y2="72"/><linearGradient id="g598" href="#g587" x1="32.8" y1="84.9" x2="49.4" y2="73.9"/><linearGradient id="g599" href="#g587" x1="33.8" y1="86.3" x2="45.9" y2="76.5"/><linearGradient id="g600" href="#g587" x1="35" y1="87.6" x2="42.7" y2="79.9"/><linearGradient id="g601" href="#g587" x1="36.2" y1="88.7" x2="40.1" y2="84"/><linearGradient id="g602" href="#g587" x1="37.5" y1="89.7" x2="79.8" y2="117.1"/><linearGradient id="g603" gradientUnits="userSpaceOnUse" x1="96.6" y1="46.1" x2="58.5" y2="105"><stop offset="0" stop-color="#000" stop-opacity="0.041"/><stop offset="0.042" stop-color="#000" stop-opacity="0.043"/><stop offset="0.083" stop-color="#000" stop-opacity="0.064"/><stop offset="0.125" stop-color="#000" stop-opacity="0.098"/><stop offset="0.167" stop-color="#000" stop-opacity="0.132"/><stop offset="0.208" stop-color="#000" stop-opacity="0.172"/><stop offset="0.25" stop-color="#000" stop-opacity="0.21"/><stop offset="0.292" stop-color="#000" stop-opacity="0.235"/><stop offset="0.333" stop-color="#000" stop-opacity="0.24"/><stop offset="0.375" stop-color="#000" stop-opacity="0.232"/><stop offset="0.417" stop-color="#000" stop-opacity="0.204"/><stop offset="0.458" stop-color="#000" stop-opacity="0.175"/><stop offset="0.5" stop-color="#000" stop-opacity="0.145"/><stop offset="0.542" stop-color="#000" stop-opacity="0.117"/><stop offset="0.583" stop-color="#000" stop-opacity="0.094"/><stop offset="0.625" stop-color="#000" stop-opacity="0.073"/><stop offset="0.667" stop-color="#000" stop-opacity="0.063"/><stop offset="0.708" stop-color="#000" stop-opacity="0.057"/><stop offset="0.75" stop-color="#000" stop-opacity="0.052"/><stop offset="0.792" stop-color="#000" stop-opacity="0.051"/><stop offset="0.833" stop-color="#000" stop-opacity="0.05"/><stop offset="0.875" stop-color="#000" stop-opacity="0.05"/><stop offset="0.917" stop-color="#000" stop-opacity="0.05"/><stop offset="0.958" stop-color="#000" stop-opacity="0.05"/><stop offset="1" stop-color="#000" stop-opacity="0.05"/></linearGradient><linearGradient id="g604" x1="0" y1="0" x2="0" y2="1"><stop offset="0" stop-color="#800000"/><stop offset="0.062" stop-color="#bf0000"/><stop offset="0.125" stop-color="#ff0000"/><stop offset="0.188" stop-color="#ff4000"/><stop offset="0.25" stop-color="#ff8000"/><stop offset="0.312" stop-color="#ffbf00"/><stop offset="0.375" stop-color="#ffff00"/><stop offset="0.438" stop-color="#bfff40"/><stop offset="0.5" stop-color="#80ff80"/><stop offset="0.562" stop-color="#40ffbf"/><stop offset="0.625" stop-color="#00ffff"/><stop offset="0.688" stop-color="#00bfff"/><stop offset="0.75" stop-color="#0080ff"/><stop offset="0.812" stop-color="#0040ff"/><stop offset="0.875" stop-color="#0000ff"/><stop offset="0.938" stop-color="#0000c2"/><stop offset="1" stop-color="#000085"/></linearGradient></defs>
<g transform="translate(0 0)"><path d="M30.5 101.5L24.5 44L80.5 17.2L81.5 75M30.5 101.5L50 92.5M84.5 18L126.8 45.5L132 103L122 97M84.5 18L86.5 60M106 32L107.5 62M129.4 74.5L124 72.5M50 97.5L33 105.5L74.6 134.2L129.5 107.5L121 102.5M54 120L80 107.5M98 123L88 116.5" stroke="#909090" stroke-width="0.45" fill="none"/></g><g transform="matrix(1 0 0 1 0 0)"><g stroke-width="0.5" clip-path="url(#c1)"><path d="M37.2 89.5L39.2 90.7L81 119.6L79 118.3Z" fill="url(#g2)" stroke="url(#g2)"/><path d="M38.6 90.3L40.7 91.4L82.6 120.3L80.4 119.2Z" fill="url(#g3)" stroke="url(#g3)"/><path d="M40.1 91.1L42.3 91.9L84.2 120.8L82 120Z" fill="url(#g4)" stroke="url(#g4)"/><path d="M41.6 91.7L43.9 92.3L85.9 121.2L83.6 120.6Z" fill="url(#g5)" stroke="url(#g5)"/><path d="M43.3 92.2L45.7 92.6L87.7 121.5L85.2 121.1Z" fill="url(#g6)" stroke="url(#g6)"/><path d="M45 92.5L47.4 92.6L89.5 121.6L87 121.4Z" fill="url(#g7)" stroke="url(#g7)"/><path d="M46.7 92.6L49.2 92.6L91.4 121.5L88.8 121.6Z" fill="url(#g8)" stroke="url(#g8)"/><path d="M48.5 92.6L51.1 92.4L93.3 121.3L90.6 121.6Z" fill="url(#g9)" stroke="url(#g9)"/><path d="M50.3 92.5L53 92L95.2 121L92.5 121.4Z" fill="url(#g10)" stroke="url(#g10)"/><path d="M52.2 92.2L54.9 91.5L97.1 120.4L94.4 121.1Z" fill="url(#g11)" stroke="url(#g11)"/><path d="M54.1 91.7L56.8 90.9L99.1 119.8L96.3 120.7Z" fill="url(#g12)" stroke="url(#g12)"/><path d="M56 91.1L58.7 90L101 118.9L98.3 120Z" fill="url(#g13)" stroke="url(#g13)"/><path d="M57.9 90.4L60.5 89.1L102.9 118L100.2 119.3Z" fill="url(#g14)" stroke="url(#g14)"/><path d="M59.8 89.5L62.4 88L104.9 116.9L102.2 118.4Z" fill="url(#g15)" stroke="url(#g15)"/><path d="M61.7 88.5L64.2 86.8L106.7 115.6L104.1 117.3Z" fill="url(#g16)" stroke="url(#g16)"/><path d="M63.5 87.3L66 85.5L108.6 114.3L106 116.1Z" fill="url(#g17)" stroke="url(#g17)"/><path d="M65.3 86L67.8 84L110.4 112.8L107.9 114.8Z" fill="url(#g18)" stroke="url(#g18)"/><path d="M67.1 84.6L69.5 82.5L112.1 111.2L109.7 113.4Z" fill="url(#g19)" stroke="url(#g19)"/><path d="M68.8 83.1L71.1 80.8L113.8 109.5L111.4 111.8Z" fill="url(#g20)" stroke="url(#g20)"/><path d="M70.5 81.5L72.7 79.1L115.4 107.7L113.1 110.2Z" fill="url(#g21)" stroke="url(#g21)"/><path d="M72.1 79.8L74.2 77.2L116.9 105.8L114.8 108.4Z" fill="url(#g22)" stroke="url(#g22)"/><path d="M73.6 78L75.6 75.3L118.4 103.8L116.3 106.5Z" fill="url(#g23)" stroke="url(#g23)"/><path d="M75 76.1L76.9 73.3L119.7 101.8L117.8 104.6Z" fill="url(#g24)" stroke="url(#g24)"/><path d="M76.4 74.1L78.1 71.3L120.9 99.7L119.2 102.6Z" fill="url(#g25)" stroke="url(#g25)"/><path d="M77.6 72.1L79.2 69.2L122.1 97.5L120.5 100.5Z" fill="url(#g26)" stroke="url(#g26)"/><path d="M78.8 70L80.2 67L123.1 95.3L121.6 98.4Z" fill="url(#g27)" stroke="url(#g27)"/><path d="M79.8 67.9L81.1 64.9L124 93.1L122.7 96.2Z" fill="url(#g28)" stroke="url(#g28)"/><path d="M80.7 65.7L81.8 62.7L124.8 90.8L123.6 94Z" fill="url(#g29)" stroke="url(#g29)"/><path d="M81.5 63.5L82.4 60.5L125.4 88.6L124.5 91.7Z" fill="url(#g30)" stroke="url(#g30)"/><path d="M82.2 61.4L82.9 58.3L125.9 86.4L125.2 89.5Z" fill="url(#g31)" stroke="url(#g31)"/><path d="M82.8 59.2L83.3 56.1L126.3 84.1L125.7 87.2Z" fill="url(#g32)" stroke="url(#g32)"/><path d="M83.2 57L83.6 54L126.6 81.9L126.2 85Z" fill="url(#g33)" stroke="url(#g33)"/><path d="M83.5 54.8L83.7 51.8L126.7 79.7L126.5 82.8Z" fill="url(#g34)" stroke="url(#g34)"/><path d="M83.7 52.7L83.7 49.8L126.7 77.6L126.7 80.6Z" fill="url(#g35)" stroke="url(#g35)"/><path d="M83.7 50.6L83.5 47.8L126.5 75.6L126.7 78.5Z" fill="url(#g36)" stroke="url(#g36)"/><path d="M83.6 48.6L83.2 45.8L126.2 73.6L126.6 76.4Z" fill="url(#g37)" stroke="url(#g37)"/><path d="M83.4 46.6L82.8 43.9L125.8 71.6L126.4 74.3Z" fill="url(#g38)" stroke="url(#g38)"/><path d="M83 44.7L82.3 42.1L125.3 69.8L126 72.4Z" fill="url(#g39)" stroke="url(#g39)"/><path d="M82.5 42.8L81.6 40.4L124.6 68L125.5 70.5Z" fill="url(#g40)" stroke="url(#g40)"/><path d="M81.9 41.1L80.9 38.8L123.8 66.4L124.9 68.7Z" fill="url(#g41)" stroke="url(#g41)"/><path d="M81.2 39.5L80 37.3L122.9 64.9L124.1 67.1Z" fill="url(#g42)" stroke="url(#g42)"/><path d="M80.3 37.9L78.9 36L121.8 63.5L123.2 65.5Z" fill="url(#g43)" stroke="url(#g43)"/><path d="M79.4 36.5L77.8 34.7L120.7 62.2L122.2 64Z" fill="url(#g44)" stroke="url(#g44)"/><path d="M78.3 35.2L76.6 33.6L119.4 61L121.1 62.7Z" fill="url(#g45)" stroke="url(#g45)"/><path d="M77.1 34L75.3 32.6L118 60L119.9 61.5Z" fill="url(#g46)" stroke="url(#g46)"/><path d="M75.8 33L74.4 32.1L117.2 59.5L118.6 60.4Z" fill="url(#g47)" stroke="url(#g47)"/><path d="M37.8 89.9L39.4 90.8L41.1 91.5L43 92.1L44.9 92.5L46.8 92.6L48.9 92.6L51 92.4L53.1 92L55.2 91.4L57.4 90.6L59.5 89.6L61.6 88.5L63.7 87.2L65.7 85.7L67.7 84.1L69.6 82.3L71.5 80.5L73.2 78.4L74.8 76.3L76.4 74.1L77.8 71.8L79 69.5L80.2 67L81.1 64.6L82 62.1L82.6 59.7L83.2 57.2L83.5 54.8L83.7 52.4L83.7 50L83.5 47.7L83.2 45.5L82.7 43.4L82.1 41.5L81.2 39.6L80.3 37.9L79.2 36.3L77.9 34.8L76.5 33.5L75 32.4L117.8 59.8L119.3 61L120.8 62.3L122 63.8L123.2 65.4L124.2 67.2L125 69.1L125.7 71.1L126.2 73.3L126.5 75.5L126.7 77.9L126.7 80.3L126.5 82.7L126.1 85.2L125.6 87.8L124.9 90.3L124.1 92.8L123.1 95.3L121.9 97.8L120.6 100.2L119.2 102.6L117.6 104.9L115.9 107L114.2 109.1L112.3 111L110.3 112.8L108.3 114.5L106.2 116L104 117.4L101.9 118.5L99.7 119.5L97.5 120.3L95.3 120.9L93.1 121.3L91 121.6L88.9 121.6L86.9 121.4L84.9 121L83 120.5L81.3 119.7L79.6 118.7Z" fill="url(#g48)"/><path d="M48.2 97.1L50.1 98.1L52 98.9L54.1 99.5L56.2 99.8L58.5 99.9L60.8 99.7L63.2 99.3L65.5 98.7L67.9 97.8L70.3 96.7L72.7 95.4L75 93.9L77.3 92.2L79.4 90.3L81.5 88.3L83.5 86L85.4 83.7L87.1 81.2L88.6 78.7L90 76L91.2 73.3L92.3 70.6L93.1 67.8L93.7 65L94.2 62.3L94.4 59.6L94.4 57L94.2 54.4L93.8 52L93.2 49.7L92.4 47.5L91.5 45.5L90.3 43.7L88.9 42L87.4 40.5L85.7 39.3M69.1 111.5L71 112.6L73 113.4L75.1 113.9L77.3 114.3L79.5 114.4L81.9 114.2L84.3 113.8L86.7 113.2L89.1 112.3L91.5 111.2L93.9 109.9L96.3 108.3L98.5 106.6L100.8 104.7L102.9 102.6L104.9 100.3L106.7 98L108.5 95.5L110.1 92.9L111.5 90.2L112.7 87.4L113.7 84.7L114.6 81.9L115.2 79.1L115.7 76.3L115.9 73.6L115.9 70.9L115.7 68.3L115.3 65.9L114.7 63.5L113.9 61.3L112.9 59.3L111.7 57.4L110.3 55.7L108.8 54.3L107.1 53M83.6 48.5L126.6 76.3M38.9 90.5L80.7 119.4M58.8 90L101.1 118.9M77.3 72.6L120.1 101" stroke="#222" stroke-width="0.3" fill="none" stroke-opacity="0.75"/><path d="M95.83 56.40L95.54 55.24L94.94 54.13L94.17 53.37L93.46 53.17L92.98 53.57L92.86 54.48L93.15 55.64L93.75 56.75L94.52 57.51L95.23 57.71L95.71 57.31ZM117.32 70.31L117.04 69.15L116.44 68.04L115.67 67.28L114.96 67.08L114.48 67.48L114.36 68.39L114.65 69.55L115.25 70.66L116.01 71.42L116.73 71.62L117.21 71.22ZM50.79 98.68L51.35 98.96L51.35 98.91L50.82 98.54L49.87 97.95L48.78 97.30L47.83 96.76L47.28 96.48L47.27 96.53L47.81 96.90L48.75 97.49L49.85 98.14ZM71.72 113.13L72.27 113.41L72.28 113.36L71.74 112.99L70.80 112.40L69.71 111.75L68.76 111.21L68.21 110.92L68.20 110.98L68.74 111.35L69.68 111.94L70.77 112.59ZM70.85 98.17L71.63 97.59L71.80 96.90L71.32 96.30L70.32 95.94L69.06 95.92L67.89 96.25L67.11 96.83L66.94 97.52L67.42 98.12L68.42 98.48L69.68 98.50ZM92.03 112.61L92.81 112.03L92.98 111.34L92.50 110.74L91.50 110.38L90.24 110.36L89.07 110.69L88.29 111.27L88.12 111.96L88.60 112.56L89.60 112.92L90.86 112.94ZM89.50 80.66L89.93 79.48L89.85 78.35L89.28 77.59L88.37 77.39L87.37 77.81L86.54 78.74L86.11 79.92L86.19 81.04L86.76 81.81L87.67 82.00L88.67 81.58ZM110.92 94.88L111.35 93.69L111.27 92.57L110.70 91.81L109.79 91.61L108.79 92.03L107.96 92.95L107.53 94.14L107.61 95.26L108.18 96.02L109.09 96.22L110.09 95.80Z" fill="#fff" stroke="#333" stroke-width="0.3"/></g><g stroke-width="0.5"><path d="M75.4 32.7L73.4 31.5L116.2 58.9L118.2 60.1Z" fill="url(#g49)" stroke="url(#g49)"/><path d="M74 31.8L71.9 30.9L114.6 58.2L116.8 59.2Z" fill="url(#g50)" stroke="url(#g50)"/><path d="M72.5 31.1L70.3 30.3L113 57.7L115.2 58.5Z" fill="url(#g51)" stroke="url(#g51)"/><path d="M71 30.5L68.7 30L111.3 57.3L113.6 57.9Z" fill="url(#g52)" stroke="url(#g52)"/><path d="M69.3 30.1L67 29.7L109.5 57.1L112 57.4Z" fill="url(#g53)" stroke="url(#g53)"/><path d="M67.6 29.8L65.2 29.7L107.7 57L110.2 57.1Z" fill="url(#g54)" stroke="url(#g54)"/><path d="M65.9 29.7L63.4 29.7L105.9 57.1L108.4 57Z" fill="url(#g55)" stroke="url(#g55)"/><path d="M64.1 29.7L61.5 29.9L104 57.3L106.6 57Z" fill="url(#g56)" stroke="url(#g56)"/><path d="M62.3 29.8L59.7 30.3L102.1 57.7L104.7 57.2Z" fill="url(#g57)" stroke="url(#g57)"/><path d="M60.4 30.2L57.8 30.8L100.1 58.2L102.8 57.5Z" fill="url(#g58)" stroke="url(#g58)"/><path d="M58.5 30.6L55.9 31.5L98.2 58.9L100.9 58Z" fill="url(#g59)" stroke="url(#g59)"/><path d="M56.7 31.2L54 32.3L96.3 59.7L99 58.6Z" fill="url(#g60)" stroke="url(#g60)"/><path d="M54.8 32L52.1 33.3L94.3 60.7L97 59.4Z" fill="url(#g61)" stroke="url(#g61)"/><path d="M52.9 32.9L50.3 34.3L92.4 61.8L95.1 60.3Z" fill="url(#g62)" stroke="url(#g62)"/><path d="M51 33.9L48.5 35.5L90.6 63L93.2 61.3Z" fill="url(#g63)" stroke="url(#g63)"/><path d="M49.2 35L46.7 36.9L88.7 64.4L91.3 62.5Z" fill="url(#g64)" stroke="url(#g64)"/><path d="M47.4 36.3L44.9 38.3L87 65.9L89.5 63.8Z" fill="url(#g65)" stroke="url(#g65)"/><path d="M45.6 37.7L43.3 39.9L85.2 67.5L87.7 65.3Z" fill="url(#g66)" stroke="url(#g66)"/><path d="M43.9 39.2L41.6 41.5L83.6 69.2L85.9 66.8Z" fill="url(#g67)" stroke="url(#g67)"/><path d="M42.3 40.8L40.1 43.3L82 70.9L84.2 68.5Z" fill="url(#g68)" stroke="url(#g68)"/><path d="M40.7 42.6L38.6 45.1L80.5 72.8L82.6 70.2Z" fill="url(#g69)" stroke="url(#g69)"/><path d="M39.2 44.4L37.2 47L79 74.8L81 72.1Z" fill="url(#g70)" stroke="url(#g70)"/><path d="M37.8 46.2L35.9 49L77.7 76.8L79.6 74Z" fill="url(#g71)" stroke="url(#g71)"/><path d="M36.4 48.2L34.7 51L76.5 78.9L78.2 76Z" fill="url(#g72)" stroke="url(#g72)"/><path d="M35.2 50.2L33.6 53.1L75.3 81L77 78.1Z" fill="url(#g73)" stroke="url(#g73)"/><path d="M34.1 52.3L32.6 55.2L74.3 83.2L75.8 80.2Z" fill="url(#g74)" stroke="url(#g74)"/><path d="M33 54.4L31.8 57.4L73.4 85.4L74.7 82.4Z" fill="url(#g75)" stroke="url(#g75)"/><path d="M32.1 56.5L31 59.6L72.7 87.7L73.8 84.5Z" fill="url(#g76)" stroke="url(#g76)"/><path d="M31.3 58.7L30.4 61.7L72 89.9L73 86.8Z" fill="url(#g77)" stroke="url(#g77)"/><path d="M30.6 60.9L29.9 63.9L71.5 92.1L72.3 89Z" fill="url(#g78)" stroke="url(#g78)"/><path d="M30.1 63L29.5 66.1L71.1 94.3L71.7 91.2Z" fill="url(#g79)" stroke="url(#g79)"/><path d="M29.6 65.2L29.2 68.2L70.8 96.5L71.2 93.5Z" fill="url(#g80)" stroke="url(#g80)"/><path d="M29.3 67.4L29.1 70.3L70.7 98.7L70.9 95.7Z" fill="url(#g81)" stroke="url(#g81)"/><path d="M29.1 69.5L29.1 72.4L70.7 100.8L70.7 97.8Z" fill="url(#g82)" stroke="url(#g82)"/><path d="M29.1 71.6L29.3 74.4L70.9 102.9L70.7 100Z" fill="url(#g83)" stroke="url(#g83)"/><path d="M29.2 73.6L29.5 76.3L71.1 104.9L70.8 102Z" fill="url(#g84)" stroke="url(#g84)"/><path d="M29.4 75.6L29.9 78.2L71.5 106.8L71 104.1Z" fill="url(#g85)" stroke="url(#g85)"/><path d="M29.7 77.5L30.4 80L72.1 108.6L71.4 106Z" fill="url(#g86)" stroke="url(#g86)"/><path d="M30.2 79.3L31.1 81.7L72.7 110.4L71.8 107.9Z" fill="url(#g87)" stroke="url(#g87)"/><path d="M30.8 81L31.9 83.3L73.5 112L72.5 109.7Z" fill="url(#g88)" stroke="url(#g88)"/><path d="M31.5 82.7L32.7 84.8L74.4 113.5L73.2 111.4Z" fill="url(#g89)" stroke="url(#g89)"/><path d="M32.4 84.2L33.7 86.2L75.5 114.9L74.1 112.9Z" fill="url(#g90)" stroke="url(#g90)"/><path d="M33.3 85.6L34.8 87.4L76.6 116.2L75 114.4Z" fill="url(#g91)" stroke="url(#g91)"/><path d="M34.4 86.9L36.1 88.6L77.8 117.4L76.1 115.7Z" fill="url(#g92)" stroke="url(#g92)"/><path d="M35.6 88.1L37.4 89.6L79.2 118.4L77.3 117Z" fill="url(#g93)" stroke="url(#g93)"/><path d="M36.8 89.2L38.2 90.1L80 119L78.6 118Z" fill="url(#g94)" stroke="url(#g94)"/></g><path d="M75 32.4L73.4 31.5L71.7 30.8L69.8 30.2L67.9 29.8L66 29.7L63.9 29.7L61.8 29.9L59.7 30.3L57.6 30.9L55.4 31.7L53.3 32.7L51.2 33.8L49.1 35.1L47.1 36.6L45.1 38.2L43.2 40L41.3 41.8L39.6 43.9L38 46L36.4 48.2L35 50.5L33.8 52.8L32.6 55.3L31.7 57.7L30.8 60.2L30.2 62.6L29.6 65.1L29.3 67.5L29.1 69.9L29.1 72.3L29.3 74.6L29.6 76.8L30.1 78.9L30.7 80.8L31.6 82.7L32.5 84.4L33.6 86L34.9 87.5L36.3 88.8L37.8 89.9L79.6 118.7L78.1 117.6L76.6 116.3L75.4 114.8L74.2 113.2L73.2 111.4L72.4 109.5L71.7 107.5L71.2 105.3L70.9 103L70.7 100.7L70.7 98.3L70.9 95.8L71.3 93.3L71.8 90.8L72.5 88.3L73.3 85.7L74.3 83.2L75.5 80.8L76.8 78.4L78.2 76L79.8 73.7L81.5 71.6L83.2 69.5L85.1 67.6L87.1 65.7L89.1 64.1L91.2 62.6L93.4 61.2L95.5 60.1L97.7 59.1L99.9 58.3L102.1 57.7L104.3 57.2L106.4 57L108.5 57L110.5 57.2L112.5 57.6L114.4 58.1L116.1 58.9L117.8 59.8Z" fill="url(#g95)"/><path d="M126.7 78.9L126.6 76.3L126.3 73.8L125.7 71.4L125 69.1L124.1 67L122.9 65L121.6 63.3L120.1 61.7L118.5 60.3L116.7 59.2L114.8 58.3L112.7 57.6L110.5 57.2L108.3 57L105.9 57.1L103.6 57.4L101.1 57.9L98.7 58.7L96.3 59.7L93.8 61L91.5 62.4L89.1 64.1L86.9 65.9L84.7 68L82.6 70.2L80.7 72.5L78.9 75L77.3 77.6L75.8 80.2L74.5 83L73.3 85.7L72.4 88.6L71.7 91.4L71.1 94.2L70.8 96.9L70.7 99.7L70.8 102.3L71.1 104.8L71.7 107.2L72.4 109.5L73.3 111.6L74.5 113.6L75.8 115.3L77.3 116.9L78.9 118.3L80.7 119.4L82.6 120.3L84.7 121L86.9 121.4L89.1 121.6L91.5 121.5L93.8 121.2L96.3 120.7L98.7 119.9L101.1 118.9L103.6 117.6L105.9 116.2L108.3 114.5L110.5 112.6L112.7 110.6L114.8 108.4L116.7 106.1L118.5 103.6L120.1 101L121.6 98.4L122.9 95.6L124.1 92.8L125 90L125.7 87.2L126.3 84.4L126.6 81.6Z" fill="none" stroke="#0000a0" stroke-width="0.5"/><path d="M85.7 39.3L83.9 38.3L81.9 37.5L79.9 36.9L77.7 36.6L75.5 36.5L73.2 36.6L70.8 37L68.4 37.7L66 38.5L63.6 39.6L61.3 40.9L58.9 42.4L56.7 44.2L54.5 46L52.4 48.1L50.4 50.3L48.6 52.7L46.9 55.1L45.3 57.7L43.9 60.4L42.7 63.1L41.7 65.8L40.8 68.6L40.2 71.3L39.8 74.1L39.5 76.8L39.5 79.4L39.7 81.9L40.1 84.4L40.7 86.7L41.5 88.9L42.5 90.9L43.7 92.7L45 94.4L46.6 95.8L48.2 97.1M107.1 53L105.3 52L103.3 51.1L101.2 50.6L99 50.2L96.7 50.2L94.4 50.3L92 50.7L89.6 51.3L87.2 52.2L84.7 53.3L82.3 54.7L80 56.2L77.7 57.9L75.5 59.8L73.4 61.9L71.4 64.2L69.5 66.5L67.8 69L66.2 71.6L64.8 74.3L63.6 77.1L62.5 79.9L61.7 82.7L61 85.4L60.6 88.2L60.3 90.9L60.3 93.6L60.5 96.2L60.9 98.6L61.5 101L62.3 103.2L63.3 105.2L64.5 107.1L65.9 108.8L67.4 110.3L69.1 111.5M73.9 31.8L116.7 59.2M54 32.3L96.3 59.7M35.5 49.7L77.3 77.6M29.2 73.8L70.8 102.3" stroke="#222" stroke-width="0.3" fill="none" stroke-opacity="0.75"/><path d="M66.06 40.12L64.89 40.45L63.63 40.43L62.63 40.07L62.15 39.47L62.32 38.78L63.10 38.20L64.27 37.87L65.53 37.89L66.53 38.25L67.01 38.85L66.84 39.54ZM47.41 57.63L46.58 58.56L45.58 58.98L44.67 58.78L44.10 58.02L44.02 56.89L44.45 55.71L45.28 54.79L46.28 54.37L47.19 54.56L47.76 55.33L47.84 56.45ZM68.29 71.56L67.46 72.48L66.46 72.90L65.55 72.70L64.98 71.94L64.90 70.82L65.33 69.63L66.16 68.71L67.16 68.29L68.07 68.49L68.64 69.25L68.72 70.37ZM41.09 81.89L40.97 82.80L40.49 83.20L39.78 83.00L39.01 82.24L38.41 81.13L38.12 79.97L38.24 79.06L38.72 78.66L39.43 78.86L40.20 79.62L40.80 80.73Z" fill="#fff" stroke="#333" stroke-width="0.3"/><path d="M87.18 53.82L86.01 54.15L84.75 54.13L83.75 53.77L83.27 53.17L83.44 52.48L84.22 51.90L85.39 51.57L86.65 51.59L87.65 51.95L88.13 52.55L87.96 53.24Z" fill="#1020d0" stroke="#3a8ae8" stroke-width="0.4"/><path d="M61.89 96.12L61.77 97.03L61.29 97.43L60.58 97.23L59.81 96.47L59.21 95.36L58.93 94.20L59.04 93.29L59.52 92.89L60.24 93.09L61.00 93.85L61.60 94.96Z" fill="#d4e070" stroke="#553" stroke-width="0.3"/></g><g transform="translate(0 0)"><g fill="#161616" font-family="DejaVu Sans, Liberation Sans, sans-serif"><text x="88" y="13.8" font-size="5" text-anchor="middle" >0</text><text x="116.8" y="14.8" font-size="5" text-anchor="middle" >m</text><text x="110.8" y="28" font-size="5" text-anchor="middle" >0.05</text><text x="130.7" y="42.1" font-size="5" text-anchor="middle" >0.1</text><text x="136.8" y="48" font-size="5" text-anchor="middle" >0.05</text><text x="135.3" y="76.7" font-size="5" text-anchor="middle" >0</text><text x="143.2" y="106.2" font-size="5" text-anchor="middle" >&#8722;0.05</text><text x="134.7" y="115.4" font-size="5" text-anchor="middle" >0.05</text><text x="104.9" y="128.7" font-size="5" text-anchor="middle" >0</text><text x="79.6" y="141.8" font-size="5" text-anchor="middle" >&#8722;0.05</text><text x="152.6" y="76.7" font-size="4.4" text-anchor="middle" >m</text><text x="89.2" y="8.2" font-size="5.15" text-anchor="middle" >Surface: Pressure (bar)</text><text x="6.2" y="118.2" font-size="4.5" text-anchor="middle" >y</text><text x="16.9" y="123.9" font-size="4.5" text-anchor="middle" >x</text><text x="14.4" y="133.8" font-size="4.5" text-anchor="middle" >z</text></g><g stroke-width="0.7" fill="none" transform="translate(7.5 126.5)"><path d="M0 0L-1 -6.7" stroke="#4a4"/><path d="M0 0L7 -3.3" stroke="#d22a50"/><path d="M0 0L5 3.3" stroke="#2878b0"/><path d="M-.7 -4.6L-1 -6.9" stroke="#3a3" stroke-width="1"/><path d="M4.9 -2.3L7.2 -3.4" stroke="#d22a50" stroke-width="1"/><path d="M3.4 2.25L5.2 3.45" stroke="#2878b0" stroke-width="1"/></g><text x="89.7" y="156.6" font-size="14.6" text-anchor="middle" font-family="Liberation Serif, serif" fill="#111">(<tspan font-weight="bold">a</tspan>)</text></g><g fill="#161616" font-family="DejaVu Sans, Liberation Sans, sans-serif"><rect x="156.2" y="22.7" width="6.8" height="103.9" fill="url(#g96)" stroke="#333" stroke-width="0.4"/><text x="166.2" y="128.4" font-size="4.8" text-anchor="start" >1</text><text x="166.2" y="115.4" font-size="4.8" text-anchor="start" >1.5</text><text x="166.2" y="102.4" font-size="4.8" text-anchor="start" >2</text><text x="166.2" y="89.4" font-size="4.8" text-anchor="start" >2.5</text><text x="166.2" y="76.4" font-size="4.8" text-anchor="start" >3</text><text x="166.2" y="63.4" font-size="4.8" text-anchor="start" >3.5</text><text x="166.2" y="50.4" font-size="4.8" text-anchor="start" >4</text><text x="166.2" y="37.4" font-size="4.8" text-anchor="start" >4.5</text><text x="166.2" y="24.5" font-size="4.8" text-anchor="start" >5</text><path d="M156.2 126.6h1M163 126.6h-1M156.2 113.6h1M163 113.6h-1M156.2 100.6h1M163 100.6h-1M156.2 87.6h1M163 87.6h-1M156.2 74.7h1M163 74.7h-1M156.2 61.7h1M163 61.7h-1M156.2 48.7h1M163 48.7h-1M156.2 35.7h1M163 35.7h-1M156.2 22.7h1M163 22.7h-1" stroke="#222" stroke-width="0.3"/></g>
<g transform="translate(184.5 0)"><path d="M30.5 101.5L24.5 44L80.5 17.2L81.5 75M30.5 101.5L50 92.5M84.5 18L126.8 45.5L132 103L122 97M84.5 18L86.5 60M106 32L107.5 62M129.4 74.5L124 72.5M50 97.5L33 105.5L74.6 134.2L129.5 107.5L121 102.5M54 120L80 107.5M98 123L88 116.5" stroke="#909090" stroke-width="0.45" fill="none"/></g><g transform="matrix(1 0 0 1 184.5 0)"><g stroke-width="0.5" clip-path="url(#c97)"><path d="M37.2 89.5L38.7 90.4L80.5 119.3L79 118.3Z" fill="url(#g98)" stroke="url(#g98)"/><path d="M38.3 90.2L39.8 91L81.7 119.9L80.1 119Z" fill="url(#g99)" stroke="url(#g99)"/><path d="M39.4 90.8L41 91.5L82.9 120.4L81.2 119.7Z" fill="url(#g100)" stroke="url(#g100)"/><path d="M40.5 91.3L42.2 91.9L84.2 120.8L82.4 120.2Z" fill="url(#g101)" stroke="url(#g101)"/><path d="M41.7 91.7L43.5 92.2L85.5 121.2L83.7 120.7Z" fill="url(#g102)" stroke="url(#g102)"/><path d="M43 92.1L44.8 92.4L86.8 121.4L84.9 121Z" fill="url(#g103)" stroke="url(#g103)"/><path d="M44.3 92.4L46.1 92.6L88.2 121.5L86.3 121.3Z" fill="url(#g104)" stroke="url(#g104)"/><path d="M45.6 92.5L47.5 92.6L89.6 121.6L87.6 121.5Z" fill="url(#g105)" stroke="url(#g105)"/><path d="M46.9 92.6L48.9 92.6L91 121.6L89 121.6Z" fill="url(#g106)" stroke="url(#g106)"/><path d="M48.3 92.6L50.3 92.5L92.4 121.4L90.4 121.6Z" fill="url(#g107)" stroke="url(#g107)"/><path d="M49.7 92.5L51.7 92.3L93.9 121.2L91.9 121.5Z" fill="url(#g108)" stroke="url(#g108)"/><path d="M51.2 92.4L53.2 92L95.4 120.9L93.3 121.3Z" fill="url(#g109)" stroke="url(#g109)"/><path d="M52.6 92.1L54.6 91.6L96.9 120.5L94.8 121Z" fill="url(#g110)" stroke="url(#g110)"/><path d="M54 91.7L56.1 91.1L98.4 120L96.3 120.7Z" fill="url(#g111)" stroke="url(#g111)"/><path d="M55.5 91.3L57.5 90.5L99.9 119.4L97.8 120.2Z" fill="url(#g112)" stroke="url(#g112)"/><path d="M56.9 90.8L59 89.9L101.3 118.8L99.3 119.7Z" fill="url(#g113)" stroke="url(#g113)"/><path d="M58.4 90.2L60.4 89.2L102.8 118L100.8 119Z" fill="url(#g114)" stroke="url(#g114)"/><path d="M59.8 89.5L61.9 88.4L104.3 117.2L102.2 118.3Z" fill="url(#g115)" stroke="url(#g115)"/><path d="M61.3 88.7L63.3 87.5L105.8 116.3L103.7 117.5Z" fill="url(#g116)" stroke="url(#g116)"/><path d="M62.7 87.8L64.7 86.5L107.2 115.3L105.2 116.7Z" fill="url(#g117)" stroke="url(#g117)"/><path d="M64.1 86.9L66.1 85.5L108.6 114.2L106.6 115.7Z" fill="url(#g118)" stroke="url(#g118)"/><path d="M65.5 85.9L67.4 84.4L110 113.1L108 114.7Z" fill="url(#g119)" stroke="url(#g119)"/><path d="M66.9 84.8L68.7 83.2L111.3 111.9L109.4 113.6Z" fill="url(#g120)" stroke="url(#g120)"/><path d="M68.2 83.7L70 82L112.7 110.7L110.8 112.4Z" fill="url(#g121)" stroke="url(#g121)"/><path d="M69.5 82.5L71.2 80.7L113.9 109.3L112.1 111.2Z" fill="url(#g122)" stroke="url(#g122)"/><path d="M70.8 81.2L72.4 79.4L115.2 108L113.4 109.9Z" fill="url(#g123)" stroke="url(#g123)"/><path d="M72 79.9L73.6 78L116.3 106.5L114.7 108.5Z" fill="url(#g124)" stroke="url(#g124)"/><path d="M73.1 78.5L74.7 76.5L117.5 105L115.9 107.1Z" fill="url(#g125)" stroke="url(#g125)"/><path d="M74.3 77.1L75.8 75L118.6 103.5L117 105.6Z" fill="url(#g126)" stroke="url(#g126)"/><path d="M75.3 75.6L76.8 73.5L119.6 101.9L118.1 104.1Z" fill="url(#g127)" stroke="url(#g127)"/><path d="M76.4 74.1L77.7 71.9L120.5 100.3L119.2 102.6Z" fill="url(#g128)" stroke="url(#g128)"/><path d="M77.3 72.6L78.6 70.3L121.4 98.7L120.2 101Z" fill="url(#g129)" stroke="url(#g129)"/><path d="M78.2 71L79.4 68.7L122.3 97L121.1 99.4Z" fill="url(#g130)" stroke="url(#g130)"/><path d="M79.1 69.4L80.2 67.1L123.1 95.4L122 97.7Z" fill="url(#g131)" stroke="url(#g131)"/><path d="M79.9 67.7L80.8 65.4L123.8 93.7L122.8 96Z" fill="url(#g132)" stroke="url(#g132)"/><path d="M80.6 66.1L81.4 63.7L124.4 92L123.5 94.3Z" fill="url(#g133)" stroke="url(#g133)"/><path d="M81.2 64.4L82 62.1L124.9 90.2L124.1 92.6Z" fill="url(#g134)" stroke="url(#g134)"/><path d="M81.8 62.7L82.5 60.4L125.4 88.5L124.7 90.9Z" fill="url(#g135)" stroke="url(#g135)"/><path d="M82.3 61.1L82.9 58.7L125.8 86.8L125.2 89.2Z" fill="url(#g136)" stroke="url(#g136)"/><path d="M82.7 59.4L83.2 57L126.2 85.1L125.7 87.5Z" fill="url(#g137)" stroke="url(#g137)"/><path d="M83.1 57.7L83.4 55.4L126.4 83.4L126 85.8Z" fill="url(#g138)" stroke="url(#g138)"/><path d="M83.3 56L83.6 53.7L126.6 81.7L126.3 84Z" fill="url(#g139)" stroke="url(#g139)"/><path d="M83.5 54.4L83.7 52.1L126.7 80L126.5 82.4Z" fill="url(#g140)" stroke="url(#g140)"/><path d="M83.7 52.8L83.7 50.5L126.7 78.4L126.7 80.7Z" fill="url(#g141)" stroke="url(#g141)"/><path d="M83.7 51.2L83.6 48.9L126.6 76.8L126.7 79Z" fill="url(#g142)" stroke="url(#g142)"/><path d="M83.7 49.6L83.5 47.4L126.5 75.2L126.7 77.4Z" fill="url(#g143)" stroke="url(#g143)"/><path d="M83.6 48L83.3 45.9L126.3 73.7L126.6 75.8Z" fill="url(#g144)" stroke="url(#g144)"/><path d="M83.4 46.5L83 44.5L126 72.2L126.4 74.3Z" fill="url(#g145)" stroke="url(#g145)"/><path d="M83.1 45.1L82.6 43.1L125.6 70.8L126.1 72.8Z" fill="url(#g146)" stroke="url(#g146)"/><path d="M82.8 43.6L82.2 41.7L125.1 69.4L125.7 71.3Z" fill="url(#g147)" stroke="url(#g147)"/><path d="M82.3 42.3L81.6 40.4L124.6 68L125.3 69.9Z" fill="url(#g148)" stroke="url(#g148)"/><path d="M81.9 40.9L81 39.2L124 66.8L124.8 68.6Z" fill="url(#g149)" stroke="url(#g149)"/><path d="M81.3 39.7L80.4 38L123.3 65.6L124.2 67.3Z" fill="url(#g150)" stroke="url(#g150)"/><path d="M80.7 38.5L79.7 36.9L122.5 64.4L123.6 66Z" fill="url(#g151)" stroke="url(#g151)"/><path d="M80 37.3L78.9 35.9L121.7 63.4L122.9 64.9Z" fill="url(#g152)" stroke="url(#g152)"/><path d="M79.2 36.3L78 34.9L120.8 62.4L122.1 63.8Z" fill="url(#g153)" stroke="url(#g153)"/><path d="M78.3 35.3L77.1 34L119.9 61.5L121.2 62.8Z" fill="url(#g154)" stroke="url(#g154)"/><path d="M77.5 34.4L76.1 33.2L118.9 60.6L120.3 61.8Z" fill="url(#g155)" stroke="url(#g155)"/><path d="M76.5 33.5L75.1 32.5L117.8 59.9L119.3 60.9Z" fill="url(#g156)" stroke="url(#g156)"/><path d="M75.5 32.8L74.4 32.1L117.2 59.5L118.3 60.2Z" fill="url(#g157)" stroke="url(#g157)"/><path d="M37.8 89.9L39.4 90.8L41.1 91.5L43 92.1L44.9 92.5L46.8 92.6L48.9 92.6L51 92.4L53.1 92L55.2 91.4L57.4 90.6L59.5 89.6L61.6 88.5L63.7 87.2L65.7 85.7L67.7 84.1L69.6 82.3L71.5 80.5L73.2 78.4L74.8 76.3L76.4 74.1L77.8 71.8L79 69.5L80.2 67L81.1 64.6L82 62.1L82.6 59.7L83.2 57.2L83.5 54.8L83.7 52.4L83.7 50L83.5 47.7L83.2 45.5L82.7 43.4L82.1 41.5L81.2 39.6L80.3 37.9L79.2 36.3L77.9 34.8L76.5 33.5L75 32.4L117.8 59.8L119.3 61L120.8 62.3L122 63.8L123.2 65.4L124.2 67.2L125 69.1L125.7 71.1L126.2 73.3L126.5 75.5L126.7 77.9L126.7 80.3L126.5 82.7L126.1 85.2L125.6 87.8L124.9 90.3L124.1 92.8L123.1 95.3L121.9 97.8L120.6 100.2L119.2 102.6L117.6 104.9L115.9 107L114.2 109.1L112.3 111L110.3 112.8L108.3 114.5L106.2 116L104 117.4L101.9 118.5L99.7 119.5L97.5 120.3L95.3 120.9L93.1 121.3L91 121.6L88.9 121.6L86.9 121.4L84.9 121L83 120.5L81.3 119.7L79.6 118.7Z" fill="url(#g158)"/><path d="M48.2 97.1L50.1 98.1L52 98.9L54.1 99.5L56.2 99.8L58.5 99.9L60.8 99.7L63.2 99.3L65.5 98.7L67.9 97.8L70.3 96.7L72.7 95.4L75 93.9L77.3 92.2L79.4 90.3L81.5 88.3L83.5 86L85.4 83.7L87.1 81.2L88.6 78.7L90 76L91.2 73.3L92.3 70.6L93.1 67.8L93.7 65L94.2 62.3L94.4 59.6L94.4 57L94.2 54.4L93.8 52L93.2 49.7L92.4 47.5L91.5 45.5L90.3 43.7L88.9 42L87.4 40.5L85.7 39.3M69.1 111.5L71 112.6L73 113.4L75.1 113.9L77.3 114.3L79.5 114.4L81.9 114.2L84.3 113.8L86.7 113.2L89.1 112.3L91.5 111.2L93.9 109.9L96.3 108.3L98.5 106.6L100.8 104.7L102.9 102.6L104.9 100.3L106.7 98L108.5 95.5L110.1 92.9L111.5 90.2L112.7 87.4L113.7 84.7L114.6 81.9L115.2 79.1L115.7 76.3L115.9 73.6L115.9 70.9L115.7 68.3L115.3 65.9L114.7 63.5L113.9 61.3L112.9 59.3L111.7 57.4L110.3 55.7L108.8 54.3L107.1 53M83.6 48.5L126.6 76.3M38.9 90.5L80.7 119.4M58.8 90L101.1 118.9M77.3 72.6L120.1 101" stroke="#222" stroke-width="0.3" fill="none" stroke-opacity="0.75"/><path d="M95.83 56.40L95.54 55.24L94.94 54.13L94.17 53.37L93.46 53.17L92.98 53.57L92.86 54.48L93.15 55.64L93.75 56.75L94.52 57.51L95.23 57.71L95.71 57.31ZM117.32 70.31L117.04 69.15L116.44 68.04L115.67 67.28L114.96 67.08L114.48 67.48L114.36 68.39L114.65 69.55L115.25 70.66L116.01 71.42L116.73 71.62L117.21 71.22ZM50.79 98.68L51.35 98.96L51.35 98.91L50.82 98.54L49.87 97.95L48.78 97.30L47.83 96.76L47.28 96.48L47.27 96.53L47.81 96.90L48.75 97.49L49.85 98.14ZM71.72 113.13L72.27 113.41L72.28 113.36L71.74 112.99L70.80 112.40L69.71 111.75L68.76 111.21L68.21 110.92L68.20 110.98L68.74 111.35L69.68 111.94L70.77 112.59ZM70.85 98.17L71.63 97.59L71.80 96.90L71.32 96.30L70.32 95.94L69.06 95.92L67.89 96.25L67.11 96.83L66.94 97.52L67.42 98.12L68.42 98.48L69.68 98.50ZM92.03 112.61L92.81 112.03L92.98 111.34L92.50 110.74L91.50 110.38L90.24 110.36L89.07 110.69L88.29 111.27L88.12 111.96L88.60 112.56L89.60 112.92L90.86 112.94ZM89.50 80.66L89.93 79.48L89.85 78.35L89.28 77.59L88.37 77.39L87.37 77.81L86.54 78.74L86.11 79.92L86.19 81.04L86.76 81.81L87.67 82.00L88.67 81.58ZM110.92 94.88L111.35 93.69L111.27 92.57L110.70 91.81L109.79 91.61L108.79 92.03L107.96 92.95L107.53 94.14L107.61 95.26L108.18 96.02L109.09 96.22L110.09 95.80Z" fill="#fff" stroke="#333" stroke-width="0.3"/></g><g stroke-width="0.5"><path d="M75.4 32.7L73.4 31.5L116.2 58.9L118.2 60.1Z" fill="url(#g159)" stroke="url(#g159)"/><path d="M74 31.8L71.9 30.9L114.6 58.2L116.8 59.2Z" fill="url(#g160)" stroke="url(#g160)"/><path d="M72.5 31.1L70.3 30.3L113 57.7L115.2 58.5Z" fill="url(#g161)" stroke="url(#g161)"/><path d="M71 30.5L68.7 30L111.3 57.3L113.6 57.9Z" fill="url(#g162)" stroke="url(#g162)"/><path d="M69.3 30.1L67 29.7L109.5 57.1L112 57.4Z" fill="url(#g163)" stroke="url(#g163)"/><path d="M67.6 29.8L65.2 29.7L107.7 57L110.2 57.1Z" fill="url(#g164)" stroke="url(#g164)"/><path d="M65.9 29.7L63.4 29.7L105.9 57.1L108.4 57Z" fill="url(#g165)" stroke="url(#g165)"/><path d="M64.1 29.7L61.5 29.9L104 57.3L106.6 57Z" fill="url(#g166)" stroke="url(#g166)"/><path d="M62.3 29.8L59.7 30.3L102.1 57.7L104.7 57.2Z" fill="url(#g167)" stroke="url(#g167)"/><path d="M60.4 30.2L57.8 30.8L100.1 58.2L102.8 57.5Z" fill="url(#g168)" stroke="url(#g168)"/><path d="M58.5 30.6L55.9 31.5L98.2 58.9L100.9 58Z" fill="url(#g169)" stroke="url(#g169)"/><path d="M56.7 31.2L54 32.3L96.3 59.7L99 58.6Z" fill="url(#g170)" stroke="url(#g170)"/><path d="M54.8 32L52.1 33.3L94.3 60.7L97 59.4Z" fill="url(#g171)" stroke="url(#g171)"/><path d="M52.9 32.9L50.3 34.3L92.4 61.8L95.1 60.3Z" fill="url(#g172)" stroke="url(#g172)"/><path d="M51 33.9L48.5 35.5L90.6 63L93.2 61.3Z" fill="url(#g173)" stroke="url(#g173)"/><path d="M49.2 35L46.7 36.9L88.7 64.4L91.3 62.5Z" fill="url(#g174)" stroke="url(#g174)"/><path d="M47.4 36.3L44.9 38.3L87 65.9L89.5 63.8Z" fill="url(#g175)" stroke="url(#g175)"/><path d="M45.6 37.7L43.3 39.9L85.2 67.5L87.7 65.3Z" fill="url(#g176)" stroke="url(#g176)"/><path d="M43.9 39.2L41.6 41.5L83.6 69.2L85.9 66.8Z" fill="url(#g177)" stroke="url(#g177)"/><path d="M42.3 40.8L40.1 43.3L82 70.9L84.2 68.5Z" fill="url(#g178)" stroke="url(#g178)"/><path d="M40.7 42.6L38.6 45.1L80.5 72.8L82.6 70.2Z" fill="url(#g179)" stroke="url(#g179)"/><path d="M39.2 44.4L37.2 47L79 74.8L81 72.1Z" fill="url(#g180)" stroke="url(#g180)"/><path d="M37.8 46.2L35.9 49L77.7 76.8L79.6 74Z" fill="url(#g181)" stroke="url(#g181)"/><path d="M36.4 48.2L34.7 51L76.5 78.9L78.2 76Z" fill="url(#g182)" stroke="url(#g182)"/><path d="M35.2 50.2L33.6 53.1L75.3 81L77 78.1Z" fill="url(#g183)" stroke="url(#g183)"/><path d="M34.1 52.3L32.6 55.2L74.3 83.2L75.8 80.2Z" fill="url(#g184)" stroke="url(#g184)"/><path d="M33 54.4L31.8 57.4L73.4 85.4L74.7 82.4Z" fill="url(#g185)" stroke="url(#g185)"/><path d="M32.1 56.5L31 59.6L72.7 87.7L73.8 84.5Z" fill="url(#g186)" stroke="url(#g186)"/><path d="M31.3 58.7L30.4 61.7L72 89.9L73 86.8Z" fill="url(#g187)" stroke="url(#g187)"/><path d="M30.6 60.9L29.9 63.9L71.5 92.1L72.3 89Z" fill="url(#g188)" stroke="url(#g188)"/><path d="M30.1 63L29.5 66.1L71.1 94.3L71.7 91.2Z" fill="url(#g189)" stroke="url(#g189)"/><path d="M29.6 65.2L29.2 68.2L70.8 96.5L71.2 93.5Z" fill="url(#g190)" stroke="url(#g190)"/><path d="M29.3 67.4L29.1 70.3L70.7 98.7L70.9 95.7Z" fill="url(#g191)" stroke="url(#g191)"/><path d="M29.1 69.5L29.1 72.4L70.7 100.8L70.7 97.8Z" fill="url(#g192)" stroke="url(#g192)"/><path d="M29.1 71.6L29.3 74.4L70.9 102.9L70.7 100Z" fill="url(#g193)" stroke="url(#g193)"/><path d="M29.2 73.6L29.5 76.3L71.1 104.9L70.8 102Z" fill="url(#g194)" stroke="url(#g194)"/><path d="M29.4 75.6L29.9 78.2L71.5 106.8L71 104.1Z" fill="url(#g195)" stroke="url(#g195)"/><path d="M29.7 77.5L30.4 80L72.1 108.6L71.4 106Z" fill="url(#g196)" stroke="url(#g196)"/><path d="M30.2 79.3L31.1 81.7L72.7 110.4L71.8 107.9Z" fill="url(#g197)" stroke="url(#g197)"/><path d="M30.8 81L31.9 83.3L73.5 112L72.5 109.7Z" fill="url(#g198)" stroke="url(#g198)"/><path d="M31.5 82.7L32.7 84.8L74.4 113.5L73.2 111.4Z" fill="url(#g199)" stroke="url(#g199)"/><path d="M32.4 84.2L33.7 86.2L75.5 114.9L74.1 112.9Z" fill="url(#g200)" stroke="url(#g200)"/><path d="M33.3 85.6L34.8 87.4L76.6 116.2L75 114.4Z" fill="url(#g201)" stroke="url(#g201)"/><path d="M34.4 86.9L36.1 88.6L77.8 117.4L76.1 115.7Z" fill="url(#g202)" stroke="url(#g202)"/><path d="M35.6 88.1L37.4 89.6L79.2 118.4L77.3 117Z" fill="url(#g203)" stroke="url(#g203)"/><path d="M36.8 89.2L38.2 90.1L80 119L78.6 118Z" fill="url(#g204)" stroke="url(#g204)"/></g><path d="M75 32.4L73.4 31.5L71.7 30.8L69.8 30.2L67.9 29.8L66 29.7L63.9 29.7L61.8 29.9L59.7 30.3L57.6 30.9L55.4 31.7L53.3 32.7L51.2 33.8L49.1 35.1L47.1 36.6L45.1 38.2L43.2 40L41.3 41.8L39.6 43.9L38 46L36.4 48.2L35 50.5L33.8 52.8L32.6 55.3L31.7 57.7L30.8 60.2L30.2 62.6L29.6 65.1L29.3 67.5L29.1 69.9L29.1 72.3L29.3 74.6L29.6 76.8L30.1 78.9L30.7 80.8L31.6 82.7L32.5 84.4L33.6 86L34.9 87.5L36.3 88.8L37.8 89.9L79.6 118.7L78.1 117.6L76.6 116.3L75.4 114.8L74.2 113.2L73.2 111.4L72.4 109.5L71.7 107.5L71.2 105.3L70.9 103L70.7 100.7L70.7 98.3L70.9 95.8L71.3 93.3L71.8 90.8L72.5 88.3L73.3 85.7L74.3 83.2L75.5 80.8L76.8 78.4L78.2 76L79.8 73.7L81.5 71.6L83.2 69.5L85.1 67.6L87.1 65.7L89.1 64.1L91.2 62.6L93.4 61.2L95.5 60.1L97.7 59.1L99.9 58.3L102.1 57.7L104.3 57.2L106.4 57L108.5 57L110.5 57.2L112.5 57.6L114.4 58.1L116.1 58.9L117.8 59.8Z" fill="url(#g205)"/><path d="M126.7 78.9L126.6 76.3L126.3 73.8L125.7 71.4L125 69.1L124.1 67L122.9 65L121.6 63.3L120.1 61.7L118.5 60.3L116.7 59.2L114.8 58.3L112.7 57.6L110.5 57.2L108.3 57L105.9 57.1L103.6 57.4L101.1 57.9L98.7 58.7L96.3 59.7L93.8 61L91.5 62.4L89.1 64.1L86.9 65.9L84.7 68L82.6 70.2L80.7 72.5L78.9 75L77.3 77.6L75.8 80.2L74.5 83L73.3 85.7L72.4 88.6L71.7 91.4L71.1 94.2L70.8 96.9L70.7 99.7L70.8 102.3L71.1 104.8L71.7 107.2L72.4 109.5L73.3 111.6L74.5 113.6L75.8 115.3L77.3 116.9L78.9 118.3L80.7 119.4L82.6 120.3L84.7 121L86.9 121.4L89.1 121.6L91.5 121.5L93.8 121.2L96.3 120.7L98.7 119.9L101.1 118.9L103.6 117.6L105.9 116.2L108.3 114.5L110.5 112.6L112.7 110.6L114.8 108.4L116.7 106.1L118.5 103.6L120.1 101L121.6 98.4L122.9 95.6L124.1 92.8L125 90L125.7 87.2L126.3 84.4L126.6 81.6Z" fill="none" stroke="#0000a0" stroke-width="0.5"/><path d="M85.7 39.3L83.9 38.3L81.9 37.5L79.9 36.9L77.7 36.6L75.5 36.5L73.2 36.6L70.8 37L68.4 37.7L66 38.5L63.6 39.6L61.3 40.9L58.9 42.4L56.7 44.2L54.5 46L52.4 48.1L50.4 50.3L48.6 52.7L46.9 55.1L45.3 57.7L43.9 60.4L42.7 63.1L41.7 65.8L40.8 68.6L40.2 71.3L39.8 74.1L39.5 76.8L39.5 79.4L39.7 81.9L40.1 84.4L40.7 86.7L41.5 88.9L42.5 90.9L43.7 92.7L45 94.4L46.6 95.8L48.2 97.1M107.1 53L105.3 52L103.3 51.1L101.2 50.6L99 50.2L96.7 50.2L94.4 50.3L92 50.7L89.6 51.3L87.2 52.2L84.7 53.3L82.3 54.7L80 56.2L77.7 57.9L75.5 59.8L73.4 61.9L71.4 64.2L69.5 66.5L67.8 69L66.2 71.6L64.8 74.3L63.6 77.1L62.5 79.9L61.7 82.7L61 85.4L60.6 88.2L60.3 90.9L60.3 93.6L60.5 96.2L60.9 98.6L61.5 101L62.3 103.2L63.3 105.2L64.5 107.1L65.9 108.8L67.4 110.3L69.1 111.5M73.9 31.8L116.7 59.2M54 32.3L96.3 59.7M35.5 49.7L77.3 77.6M29.2 73.8L70.8 102.3" stroke="#222" stroke-width="0.3" fill="none" stroke-opacity="0.75"/><path d="M66.06 40.12L64.89 40.45L63.63 40.43L62.63 40.07L62.15 39.47L62.32 38.78L63.10 38.20L64.27 37.87L65.53 37.89L66.53 38.25L67.01 38.85L66.84 39.54ZM47.41 57.63L46.58 58.56L45.58 58.98L44.67 58.78L44.10 58.02L44.02 56.89L44.45 55.71L45.28 54.79L46.28 54.37L47.19 54.56L47.76 55.33L47.84 56.45ZM68.29 71.56L67.46 72.48L66.46 72.90L65.55 72.70L64.98 71.94L64.90 70.82L65.33 69.63L66.16 68.71L67.16 68.29L68.07 68.49L68.64 69.25L68.72 70.37ZM41.09 81.89L40.97 82.80L40.49 83.20L39.78 83.00L39.01 82.24L38.41 81.13L38.12 79.97L38.24 79.06L38.72 78.66L39.43 78.86L40.20 79.62L40.80 80.73ZM61.89 96.12L61.77 97.03L61.29 97.43L60.58 97.23L59.81 96.47L59.21 95.36L58.93 94.20L59.04 93.29L59.52 92.89L60.24 93.09L61.00 93.85L61.60 94.96Z" fill="#fff" stroke="#333" stroke-width="0.3"/><path d="M87.18 53.82L86.01 54.15L84.75 54.13L83.75 53.77L83.27 53.17L83.44 52.48L84.22 51.90L85.39 51.57L86.65 51.59L87.65 51.95L88.13 52.55L87.96 53.24Z" fill="#1020d0" stroke="#3a8ae8" stroke-width="0.4"/></g><g transform="translate(184.5 0)"><g fill="#161616" font-family="DejaVu Sans, Liberation Sans, sans-serif"><text x="88" y="13.8" font-size="5" text-anchor="middle" >0</text><text x="116.8" y="14.8" font-size="5" text-anchor="middle" >m</text><text x="110.8" y="28" font-size="5" text-anchor="middle" >0.05</text><text x="130.7" y="42.1" font-size="5" text-anchor="middle" >0.1</text><text x="136.8" y="48" font-size="5" text-anchor="middle" >0.05</text><text x="135.3" y="76.7" font-size="5" text-anchor="middle" >0</text><text x="143.2" y="106.2" font-size="5" text-anchor="middle" >&#8722;0.05</text><text x="134.7" y="115.4" font-size="5" text-anchor="middle" >0.05</text><text x="104.9" y="128.7" font-size="5" text-anchor="middle" >0</text><text x="79.6" y="141.8" font-size="5" text-anchor="middle" >&#8722;0.05</text><text x="152.6" y="76.7" font-size="4.4" text-anchor="middle" >m</text><text x="89.2" y="8.2" font-size="5.15" text-anchor="middle" >Surface: Pressure (bar)</text><text x="6.2" y="118.2" font-size="4.5" text-anchor="middle" >y</text><text x="16.9" y="123.9" font-size="4.5" text-anchor="middle" >x</text><text x="14.4" y="133.8" font-size="4.5" text-anchor="middle" >z</text></g><g stroke-width="0.7" fill="none" transform="translate(7.5 126.5)"><path d="M0 0L-1 -6.7" stroke="#4a4"/><path d="M0 0L7 -3.3" stroke="#d22a50"/><path d="M0 0L5 3.3" stroke="#2878b0"/><path d="M-.7 -4.6L-1 -6.9" stroke="#3a3" stroke-width="1"/><path d="M4.9 -2.3L7.2 -3.4" stroke="#d22a50" stroke-width="1"/><path d="M3.4 2.25L5.2 3.45" stroke="#2878b0" stroke-width="1"/></g><text x="89.7" y="156.6" font-size="14.6" text-anchor="middle" font-family="Liberation Serif, serif" fill="#111">(<tspan font-weight="bold">b</tspan>)</text></g><g fill="#161616" font-family="DejaVu Sans, Liberation Sans, sans-serif"><rect x="340.5" y="22.5" width="6.3" height="104.1" fill="url(#g206)" stroke="#333" stroke-width="0.4"/><text x="350" y="128.4" font-size="4.8" text-anchor="start" >1</text><text x="350" y="117.2" font-size="4.8" text-anchor="start" >1.5</text><text x="350" y="106.1" font-size="4.8" text-anchor="start" >2</text><text x="350" y="95" font-size="4.8" text-anchor="start" >2.5</text><text x="350" y="83.9" font-size="4.8" text-anchor="start" >3</text><text x="350" y="72.7" font-size="4.8" text-anchor="start" >3.5</text><text x="350" y="61.6" font-size="4.8" text-anchor="start" >4</text><text x="350" y="50.5" font-size="4.8" text-anchor="start" >4.5</text><text x="350" y="39.4" font-size="4.8" text-anchor="start" >5</text><text x="350" y="28.3" font-size="4.8" text-anchor="start" >5.5</text><path d="M340.5 126.6h1M346.8 126.6h-1M340.5 115.5h1M346.8 115.5h-1M340.5 104.4h1M346.8 104.4h-1M340.5 93.2h1M346.8 93.2h-1M340.5 82.1h1M346.8 82.1h-1M340.5 71h1M346.8 71h-1M340.5 59.9h1M346.8 59.9h-1M340.5 48.7h1M346.8 48.7h-1M340.5 37.6h1M346.8 37.6h-1M340.5 26.5h1M346.8 26.5h-1" stroke="#222" stroke-width="0.3"/></g>
<g transform="translate(370.3 0)"><path d="M30.5 101.5L24.5 44L80.5 17.2L81.5 75M30.5 101.5L50 92.5M84.5 18L126.8 45.5L132 103L122 97M84.5 18L86.5 60M106 32L107.5 62M129.4 74.5L124 72.5M50 97.5L33 105.5L74.6 134.2L129.5 107.5L121 102.5M54 120L80 107.5M98 123L88 116.5" stroke="#909090" stroke-width="0.45" fill="none"/></g><g transform="matrix(1 0 0 1 370.3 0)"><g stroke-width="0.5" clip-path="url(#c207)"><path d="M37.2 89.5L38.7 90.4L80.5 119.3L79 118.3Z" fill="url(#g208)" stroke="url(#g208)"/><path d="M38.3 90.2L39.8 91L81.7 119.9L80.1 119Z" fill="url(#g209)" stroke="url(#g209)"/><path d="M39.4 90.8L41 91.5L82.9 120.4L81.2 119.7Z" fill="url(#g210)" stroke="url(#g210)"/><path d="M40.5 91.3L42.2 91.9L84.2 120.8L82.4 120.2Z" fill="url(#g211)" stroke="url(#g211)"/><path d="M41.7 91.7L43.5 92.2L85.5 121.2L83.7 120.7Z" fill="url(#g212)" stroke="url(#g212)"/><path d="M43 92.1L44.8 92.4L86.8 121.4L84.9 121Z" fill="url(#g213)" stroke="url(#g213)"/><path d="M44.3 92.4L46.1 92.6L88.2 121.5L86.3 121.3Z" fill="url(#g214)" stroke="url(#g214)"/><path d="M45.6 92.5L47.5 92.6L89.6 121.6L87.6 121.5Z" fill="url(#g215)" stroke="url(#g215)"/><path d="M46.9 92.6L48.9 92.6L91 121.6L89 121.6Z" fill="url(#g216)" stroke="url(#g216)"/><path d="M48.3 92.6L50.3 92.5L92.4 121.4L90.4 121.6Z" fill="url(#g217)" stroke="url(#g217)"/><path d="M49.7 92.5L51.7 92.3L93.9 121.2L91.9 121.5Z" fill="url(#g218)" stroke="url(#g218)"/><path d="M51.2 92.4L53.2 92L95.4 120.9L93.3 121.3Z" fill="url(#g219)" stroke="url(#g219)"/><path d="M52.6 92.1L54.6 91.6L96.9 120.5L94.8 121Z" fill="url(#g220)" stroke="url(#g220)"/><path d="M54 91.7L56.1 91.1L98.4 120L96.3 120.7Z" fill="url(#g221)" stroke="url(#g221)"/><path d="M55.5 91.3L57.5 90.5L99.9 119.4L97.8 120.2Z" fill="url(#g222)" stroke="url(#g222)"/><path d="M56.9 90.8L59 89.9L101.3 118.8L99.3 119.7Z" fill="url(#g223)" stroke="url(#g223)"/><path d="M58.4 90.2L60.4 89.2L102.8 118L100.8 119Z" fill="url(#g224)" stroke="url(#g224)"/><path d="M59.8 89.5L61.9 88.4L104.3 117.2L102.2 118.3Z" fill="url(#g225)" stroke="url(#g225)"/><path d="M61.3 88.7L63.3 87.5L105.8 116.3L103.7 117.5Z" fill="url(#g226)" stroke="url(#g226)"/><path d="M62.7 87.8L64.7 86.5L107.2 115.3L105.2 116.7Z" fill="url(#g227)" stroke="url(#g227)"/><path d="M64.1 86.9L66.1 85.5L108.6 114.2L106.6 115.7Z" fill="url(#g228)" stroke="url(#g228)"/><path d="M65.5 85.9L67.4 84.4L110 113.1L108 114.7Z" fill="url(#g229)" stroke="url(#g229)"/><path d="M66.9 84.8L68.7 83.2L111.3 111.9L109.4 113.6Z" fill="url(#g230)" stroke="url(#g230)"/><path d="M68.2 83.7L70 82L112.7 110.7L110.8 112.4Z" fill="url(#g231)" stroke="url(#g231)"/><path d="M69.5 82.5L71.2 80.7L113.9 109.3L112.1 111.2Z" fill="url(#g232)" stroke="url(#g232)"/><path d="M70.8 81.2L72.4 79.4L115.2 108L113.4 109.9Z" fill="url(#g233)" stroke="url(#g233)"/><path d="M72 79.9L73.6 78L116.3 106.5L114.7 108.5Z" fill="url(#g234)" stroke="url(#g234)"/><path d="M73.1 78.5L74.7 76.5L117.5 105L115.9 107.1Z" fill="url(#g235)" stroke="url(#g235)"/><path d="M74.3 77.1L75.8 75L118.6 103.5L117 105.6Z" fill="url(#g236)" stroke="url(#g236)"/><path d="M75.3 75.6L76.8 73.5L119.6 101.9L118.1 104.1Z" fill="url(#g237)" stroke="url(#g237)"/><path d="M76.4 74.1L77.7 71.9L120.5 100.3L119.2 102.6Z" fill="url(#g238)" stroke="url(#g238)"/><path d="M77.3 72.6L78.6 70.3L121.4 98.7L120.2 101Z" fill="url(#g239)" stroke="url(#g239)"/><path d="M78.2 71L79.4 68.7L122.3 97L121.1 99.4Z" fill="url(#g240)" stroke="url(#g240)"/><path d="M79.1 69.4L80.2 67.1L123.1 95.4L122 97.7Z" fill="url(#g241)" stroke="url(#g241)"/><path d="M79.9 67.7L80.8 65.4L123.8 93.7L122.8 96Z" fill="url(#g242)" stroke="url(#g242)"/><path d="M80.6 66.1L81.4 63.7L124.4 92L123.5 94.3Z" fill="url(#g243)" stroke="url(#g243)"/><path d="M81.2 64.4L82 62.1L124.9 90.2L124.1 92.6Z" fill="url(#g244)" stroke="url(#g244)"/><path d="M81.8 62.7L82.5 60.4L125.4 88.5L124.7 90.9Z" fill="url(#g245)" stroke="url(#g245)"/><path d="M82.3 61.1L82.9 58.7L125.8 86.8L125.2 89.2Z" fill="url(#g246)" stroke="url(#g246)"/><path d="M82.7 59.4L83.2 57L126.2 85.1L125.7 87.5Z" fill="url(#g247)" stroke="url(#g247)"/><path d="M83.1 57.7L83.4 55.4L126.4 83.4L126 85.8Z" fill="url(#g248)" stroke="url(#g248)"/><path d="M83.3 56L83.6 53.7L126.6 81.7L126.3 84Z" fill="url(#g249)" stroke="url(#g249)"/><path d="M83.5 54.4L83.7 52.1L126.7 80L126.5 82.4Z" fill="url(#g250)" stroke="url(#g250)"/><path d="M83.7 52.8L83.7 50.5L126.7 78.4L126.7 80.7Z" fill="url(#g251)" stroke="url(#g251)"/><path d="M83.7 51.2L83.6 48.9L126.6 76.8L126.7 79Z" fill="url(#g252)" stroke="url(#g252)"/><path d="M83.7 49.6L83.5 47.4L126.5 75.2L126.7 77.4Z" fill="url(#g253)" stroke="url(#g253)"/><path d="M83.6 48L83.3 45.9L126.3 73.7L126.6 75.8Z" fill="url(#g254)" stroke="url(#g254)"/><path d="M83.4 46.5L83 44.5L126 72.2L126.4 74.3Z" fill="url(#g255)" stroke="url(#g255)"/><path d="M83.1 45.1L82.6 43.1L125.6 70.8L126.1 72.8Z" fill="url(#g256)" stroke="url(#g256)"/><path d="M82.8 43.6L82.2 41.7L125.1 69.4L125.7 71.3Z" fill="url(#g257)" stroke="url(#g257)"/><path d="M82.3 42.3L81.6 40.4L124.6 68L125.3 69.9Z" fill="url(#g258)" stroke="url(#g258)"/><path d="M81.9 40.9L81 39.2L124 66.8L124.8 68.6Z" fill="url(#g259)" stroke="url(#g259)"/><path d="M81.3 39.7L80.4 38L123.3 65.6L124.2 67.3Z" fill="url(#g260)" stroke="url(#g260)"/><path d="M80.7 38.5L79.7 36.9L122.5 64.4L123.6 66Z" fill="url(#g261)" stroke="url(#g261)"/><path d="M80 37.3L78.9 35.9L121.7 63.4L122.9 64.9Z" fill="url(#g262)" stroke="url(#g262)"/><path d="M79.2 36.3L78 34.9L120.8 62.4L122.1 63.8Z" fill="url(#g263)" stroke="url(#g263)"/><path d="M78.3 35.3L77.1 34L119.9 61.5L121.2 62.8Z" fill="url(#g264)" stroke="url(#g264)"/><path d="M77.5 34.4L76.1 33.2L118.9 60.6L120.3 61.8Z" fill="url(#g265)" stroke="url(#g265)"/><path d="M76.5 33.5L75.1 32.5L117.8 59.9L119.3 60.9Z" fill="url(#g266)" stroke="url(#g266)"/><path d="M75.5 32.8L74.4 32.1L117.2 59.5L118.3 60.2Z" fill="url(#g267)" stroke="url(#g267)"/><path d="M37.8 89.9L39.4 90.8L41.1 91.5L43 92.1L44.9 92.5L46.8 92.6L48.9 92.6L51 92.4L53.1 92L55.2 91.4L57.4 90.6L59.5 89.6L61.6 88.5L63.7 87.2L65.7 85.7L67.7 84.1L69.6 82.3L71.5 80.5L73.2 78.4L74.8 76.3L76.4 74.1L77.8 71.8L79 69.5L80.2 67L81.1 64.6L82 62.1L82.6 59.7L83.2 57.2L83.5 54.8L83.7 52.4L83.7 50L83.5 47.7L83.2 45.5L82.7 43.4L82.1 41.5L81.2 39.6L80.3 37.9L79.2 36.3L77.9 34.8L76.5 33.5L75 32.4L117.8 59.8L119.3 61L120.8 62.3L122 63.8L123.2 65.4L124.2 67.2L125 69.1L125.7 71.1L126.2 73.3L126.5 75.5L126.7 77.9L126.7 80.3L126.5 82.7L126.1 85.2L125.6 87.8L124.9 90.3L124.1 92.8L123.1 95.3L121.9 97.8L120.6 100.2L119.2 102.6L117.6 104.9L115.9 107L114.2 109.1L112.3 111L110.3 112.8L108.3 114.5L106.2 116L104 117.4L101.9 118.5L99.7 119.5L97.5 120.3L95.3 120.9L93.1 121.3L91 121.6L88.9 121.6L86.9 121.4L84.9 121L83 120.5L81.3 119.7L79.6 118.7Z" fill="url(#g268)"/><path d="M48.2 97.1L50.1 98.1L52 98.9L54.1 99.5L56.2 99.8L58.5 99.9L60.8 99.7L63.2 99.3L65.5 98.7L67.9 97.8L70.3 96.7L72.7 95.4L75 93.9L77.3 92.2L79.4 90.3L81.5 88.3L83.5 86L85.4 83.7L87.1 81.2L88.6 78.7L90 76L91.2 73.3L92.3 70.6L93.1 67.8L93.7 65L94.2 62.3L94.4 59.6L94.4 57L94.2 54.4L93.8 52L93.2 49.7L92.4 47.5L91.5 45.5L90.3 43.7L88.9 42L87.4 40.5L85.7 39.3M69.1 111.5L71 112.6L73 113.4L75.1 113.9L77.3 114.3L79.5 114.4L81.9 114.2L84.3 113.8L86.7 113.2L89.1 112.3L91.5 111.2L93.9 109.9L96.3 108.3L98.5 106.6L100.8 104.7L102.9 102.6L104.9 100.3L106.7 98L108.5 95.5L110.1 92.9L111.5 90.2L112.7 87.4L113.7 84.7L114.6 81.9L115.2 79.1L115.7 76.3L115.9 73.6L115.9 70.9L115.7 68.3L115.3 65.9L114.7 63.5L113.9 61.3L112.9 59.3L111.7 57.4L110.3 55.7L108.8 54.3L107.1 53M83.6 48.5L126.6 76.3M38.9 90.5L80.7 119.4M58.8 90L101.1 118.9M77.3 72.6L120.1 101" stroke="#222" stroke-width="0.3" fill="none" stroke-opacity="0.75"/><path d="M95.83 56.40L95.54 55.24L94.94 54.13L94.17 53.37L93.46 53.17L92.98 53.57L92.86 54.48L93.15 55.64L93.75 56.75L94.52 57.51L95.23 57.71L95.71 57.31ZM117.32 70.31L117.04 69.15L116.44 68.04L115.67 67.28L114.96 67.08L114.48 67.48L114.36 68.39L114.65 69.55L115.25 70.66L116.01 71.42L116.73 71.62L117.21 71.22ZM50.79 98.68L51.35 98.96L51.35 98.91L50.82 98.54L49.87 97.95L48.78 97.30L47.83 96.76L47.28 96.48L47.27 96.53L47.81 96.90L48.75 97.49L49.85 98.14ZM71.72 113.13L72.27 113.41L72.28 113.36L71.74 112.99L70.80 112.40L69.71 111.75L68.76 111.21L68.21 110.92L68.20 110.98L68.74 111.35L69.68 111.94L70.77 112.59ZM70.85 98.17L71.63 97.59L71.80 96.90L71.32 96.30L70.32 95.94L69.06 95.92L67.89 96.25L67.11 96.83L66.94 97.52L67.42 98.12L68.42 98.48L69.68 98.50ZM92.03 112.61L92.81 112.03L92.98 111.34L92.50 110.74L91.50 110.38L90.24 110.36L89.07 110.69L88.29 111.27L88.12 111.96L88.60 112.56L89.60 112.92L90.86 112.94ZM89.50 80.66L89.93 79.48L89.85 78.35L89.28 77.59L88.37 77.39L87.37 77.81L86.54 78.74L86.11 79.92L86.19 81.04L86.76 81.81L87.67 82.00L88.67 81.58ZM110.92 94.88L111.35 93.69L111.27 92.57L110.70 91.81L109.79 91.61L108.79 92.03L107.96 92.95L107.53 94.14L107.61 95.26L108.18 96.02L109.09 96.22L110.09 95.80Z" fill="#fff" stroke="#333" stroke-width="0.3"/></g><g stroke-width="0.5"><path d="M75.4 32.7L73.4 31.5L116.2 58.9L118.2 60.1Z" fill="url(#g269)" stroke="url(#g269)"/><path d="M74 31.8L71.9 30.9L114.6 58.2L116.8 59.2Z" fill="url(#g270)" stroke="url(#g270)"/><path d="M72.5 31.1L70.3 30.3L113 57.7L115.2 58.5Z" fill="url(#g271)" stroke="url(#g271)"/><path d="M71 30.5L68.7 30L111.3 57.3L113.6 57.9Z" fill="url(#g272)" stroke="url(#g272)"/><path d="M69.3 30.1L67 29.7L109.5 57.1L112 57.4Z" fill="url(#g273)" stroke="url(#g273)"/><path d="M67.6 29.8L65.2 29.7L107.7 57L110.2 57.1Z" fill="url(#g274)" stroke="url(#g274)"/><path d="M65.9 29.7L63.4 29.7L105.9 57.1L108.4 57Z" fill="url(#g275)" stroke="url(#g275)"/><path d="M64.1 29.7L61.5 29.9L104 57.3L106.6 57Z" fill="url(#g276)" stroke="url(#g276)"/><path d="M62.3 29.8L59.7 30.3L102.1 57.7L104.7 57.2Z" fill="url(#g277)" stroke="url(#g277)"/><path d="M60.4 30.2L57.8 30.8L100.1 58.2L102.8 57.5Z" fill="url(#g278)" stroke="url(#g278)"/><path d="M58.5 30.6L55.9 31.5L98.2 58.9L100.9 58Z" fill="url(#g279)" stroke="url(#g279)"/><path d="M56.7 31.2L54 32.3L96.3 59.7L99 58.6Z" fill="url(#g280)" stroke="url(#g280)"/><path d="M54.8 32L52.1 33.3L94.3 60.7L97 59.4Z" fill="url(#g281)" stroke="url(#g281)"/><path d="M52.9 32.9L50.3 34.3L92.4 61.8L95.1 60.3Z" fill="url(#g282)" stroke="url(#g282)"/><path d="M51 33.9L48.5 35.5L90.6 63L93.2 61.3Z" fill="url(#g283)" stroke="url(#g283)"/><path d="M49.2 35L46.7 36.9L88.7 64.4L91.3 62.5Z" fill="url(#g284)" stroke="url(#g284)"/><path d="M47.4 36.3L44.9 38.3L87 65.9L89.5 63.8Z" fill="url(#g285)" stroke="url(#g285)"/><path d="M45.6 37.7L43.3 39.9L85.2 67.5L87.7 65.3Z" fill="url(#g286)" stroke="url(#g286)"/><path d="M43.9 39.2L41.6 41.5L83.6 69.2L85.9 66.8Z" fill="url(#g287)" stroke="url(#g287)"/><path d="M42.3 40.8L40.1 43.3L82 70.9L84.2 68.5Z" fill="url(#g288)" stroke="url(#g288)"/><path d="M40.7 42.6L38.6 45.1L80.5 72.8L82.6 70.2Z" fill="url(#g289)" stroke="url(#g289)"/><path d="M39.2 44.4L37.2 47L79 74.8L81 72.1Z" fill="url(#g290)" stroke="url(#g290)"/><path d="M37.8 46.2L35.9 49L77.7 76.8L79.6 74Z" fill="url(#g291)" stroke="url(#g291)"/><path d="M36.4 48.2L34.7 51L76.5 78.9L78.2 76Z" fill="url(#g292)" stroke="url(#g292)"/><path d="M35.2 50.2L33.6 53.1L75.3 81L77 78.1Z" fill="url(#g293)" stroke="url(#g293)"/><path d="M34.1 52.3L32.6 55.2L74.3 83.2L75.8 80.2Z" fill="url(#g294)" stroke="url(#g294)"/><path d="M33 54.4L31.8 57.4L73.4 85.4L74.7 82.4Z" fill="url(#g295)" stroke="url(#g295)"/><path d="M32.1 56.5L31 59.6L72.7 87.7L73.8 84.5Z" fill="url(#g296)" stroke="url(#g296)"/><path d="M31.3 58.7L30.4 61.7L72 89.9L73 86.8Z" fill="url(#g297)" stroke="url(#g297)"/><path d="M30.6 60.9L29.9 63.9L71.5 92.1L72.3 89Z" fill="url(#g298)" stroke="url(#g298)"/><path d="M30.1 63L29.5 66.1L71.1 94.3L71.7 91.2Z" fill="url(#g299)" stroke="url(#g299)"/><path d="M29.6 65.2L29.2 68.2L70.8 96.5L71.2 93.5Z" fill="url(#g300)" stroke="url(#g300)"/><path d="M29.3 67.4L29.1 70.3L70.7 98.7L70.9 95.7Z" fill="url(#g301)" stroke="url(#g301)"/><path d="M29.1 69.5L29.1 72.4L70.7 100.8L70.7 97.8Z" fill="url(#g302)" stroke="url(#g302)"/><path d="M29.1 71.6L29.3 74.4L70.9 102.9L70.7 100Z" fill="url(#g303)" stroke="url(#g303)"/><path d="M29.2 73.6L29.5 76.3L71.1 104.9L70.8 102Z" fill="url(#g304)" stroke="url(#g304)"/><path d="M29.4 75.6L29.9 78.2L71.5 106.8L71 104.1Z" fill="url(#g305)" stroke="url(#g305)"/><path d="M29.7 77.5L30.4 80L72.1 108.6L71.4 106Z" fill="url(#g306)" stroke="url(#g306)"/><path d="M30.2 79.3L31.1 81.7L72.7 110.4L71.8 107.9Z" fill="url(#g307)" stroke="url(#g307)"/><path d="M30.8 81L31.9 83.3L73.5 112L72.5 109.7Z" fill="url(#g308)" stroke="url(#g308)"/><path d="M31.5 82.7L32.7 84.8L74.4 113.5L73.2 111.4Z" fill="url(#g309)" stroke="url(#g309)"/><path d="M32.4 84.2L33.7 86.2L75.5 114.9L74.1 112.9Z" fill="url(#g310)" stroke="url(#g310)"/><path d="M33.3 85.6L34.8 87.4L76.6 116.2L75 114.4Z" fill="url(#g311)" stroke="url(#g311)"/><path d="M34.4 86.9L36.1 88.6L77.8 117.4L76.1 115.7Z" fill="url(#g312)" stroke="url(#g312)"/><path d="M35.6 88.1L37.4 89.6L79.2 118.4L77.3 117Z" fill="url(#g313)" stroke="url(#g313)"/><path d="M36.8 89.2L38.2 90.1L80 119L78.6 118Z" fill="url(#g314)" stroke="url(#g314)"/></g><path d="M75 32.4L73.4 31.5L71.7 30.8L69.8 30.2L67.9 29.8L66 29.7L63.9 29.7L61.8 29.9L59.7 30.3L57.6 30.9L55.4 31.7L53.3 32.7L51.2 33.8L49.1 35.1L47.1 36.6L45.1 38.2L43.2 40L41.3 41.8L39.6 43.9L38 46L36.4 48.2L35 50.5L33.8 52.8L32.6 55.3L31.7 57.7L30.8 60.2L30.2 62.6L29.6 65.1L29.3 67.5L29.1 69.9L29.1 72.3L29.3 74.6L29.6 76.8L30.1 78.9L30.7 80.8L31.6 82.7L32.5 84.4L33.6 86L34.9 87.5L36.3 88.8L37.8 89.9L79.6 118.7L78.1 117.6L76.6 116.3L75.4 114.8L74.2 113.2L73.2 111.4L72.4 109.5L71.7 107.5L71.2 105.3L70.9 103L70.7 100.7L70.7 98.3L70.9 95.8L71.3 93.3L71.8 90.8L72.5 88.3L73.3 85.7L74.3 83.2L75.5 80.8L76.8 78.4L78.2 76L79.8 73.7L81.5 71.6L83.2 69.5L85.1 67.6L87.1 65.7L89.1 64.1L91.2 62.6L93.4 61.2L95.5 60.1L97.7 59.1L99.9 58.3L102.1 57.7L104.3 57.2L106.4 57L108.5 57L110.5 57.2L112.5 57.6L114.4 58.1L116.1 58.9L117.8 59.8Z" fill="url(#g315)"/><path d="M126.7 78.9L126.6 76.3L126.3 73.8L125.7 71.4L125 69.1L124.1 67L122.9 65L121.6 63.3L120.1 61.7L118.5 60.3L116.7 59.2L114.8 58.3L112.7 57.6L110.5 57.2L108.3 57L105.9 57.1L103.6 57.4L101.1 57.9L98.7 58.7L96.3 59.7L93.8 61L91.5 62.4L89.1 64.1L86.9 65.9L84.7 68L82.6 70.2L80.7 72.5L78.9 75L77.3 77.6L75.8 80.2L74.5 83L73.3 85.7L72.4 88.6L71.7 91.4L71.1 94.2L70.8 96.9L70.7 99.7L70.8 102.3L71.1 104.8L71.7 107.2L72.4 109.5L73.3 111.6L74.5 113.6L75.8 115.3L77.3 116.9L78.9 118.3L80.7 119.4L82.6 120.3L84.7 121L86.9 121.4L89.1 121.6L91.5 121.5L93.8 121.2L96.3 120.7L98.7 119.9L101.1 118.9L103.6 117.6L105.9 116.2L108.3 114.5L110.5 112.6L112.7 110.6L114.8 108.4L116.7 106.1L118.5 103.6L120.1 101L121.6 98.4L122.9 95.6L124.1 92.8L125 90L125.7 87.2L126.3 84.4L126.6 81.6Z" fill="none" stroke="#0000a0" stroke-width="0.5"/><path d="M85.7 39.3L83.9 38.3L81.9 37.5L79.9 36.9L77.7 36.6L75.5 36.5L73.2 36.6L70.8 37L68.4 37.7L66 38.5L63.6 39.6L61.3 40.9L58.9 42.4L56.7 44.2L54.5 46L52.4 48.1L50.4 50.3L48.6 52.7L46.9 55.1L45.3 57.7L43.9 60.4L42.7 63.1L41.7 65.8L40.8 68.6L40.2 71.3L39.8 74.1L39.5 76.8L39.5 79.4L39.7 81.9L40.1 84.4L40.7 86.7L41.5 88.9L42.5 90.9L43.7 92.7L45 94.4L46.6 95.8L48.2 97.1M107.1 53L105.3 52L103.3 51.1L101.2 50.6L99 50.2L96.7 50.2L94.4 50.3L92 50.7L89.6 51.3L87.2 52.2L84.7 53.3L82.3 54.7L80 56.2L77.7 57.9L75.5 59.8L73.4 61.9L71.4 64.2L69.5 66.5L67.8 69L66.2 71.6L64.8 74.3L63.6 77.1L62.5 79.9L61.7 82.7L61 85.4L60.6 88.2L60.3 90.9L60.3 93.6L60.5 96.2L60.9 98.6L61.5 101L62.3 103.2L63.3 105.2L64.5 107.1L65.9 108.8L67.4 110.3L69.1 111.5M73.9 31.8L116.7 59.2M54 32.3L96.3 59.7M35.5 49.7L77.3 77.6M29.2 73.8L70.8 102.3" stroke="#222" stroke-width="0.3" fill="none" stroke-opacity="0.75"/><path d="M66.06 40.12L64.89 40.45L63.63 40.43L62.63 40.07L62.15 39.47L62.32 38.78L63.10 38.20L64.27 37.87L65.53 37.89L66.53 38.25L67.01 38.85L66.84 39.54ZM47.41 57.63L46.58 58.56L45.58 58.98L44.67 58.78L44.10 58.02L44.02 56.89L44.45 55.71L45.28 54.79L46.28 54.37L47.19 54.56L47.76 55.33L47.84 56.45ZM68.29 71.56L67.46 72.48L66.46 72.90L65.55 72.70L64.98 71.94L64.90 70.82L65.33 69.63L66.16 68.71L67.16 68.29L68.07 68.49L68.64 69.25L68.72 70.37ZM41.09 81.89L40.97 82.80L40.49 83.20L39.78 83.00L39.01 82.24L38.41 81.13L38.12 79.97L38.24 79.06L38.72 78.66L39.43 78.86L40.20 79.62L40.80 80.73ZM61.89 96.12L61.77 97.03L61.29 97.43L60.58 97.23L59.81 96.47L59.21 95.36L58.93 94.20L59.04 93.29L59.52 92.89L60.24 93.09L61.00 93.85L61.60 94.96Z" fill="#fff" stroke="#333" stroke-width="0.3"/><path d="M87.18 53.82L86.01 54.15L84.75 54.13L83.75 53.77L83.27 53.17L83.44 52.48L84.22 51.90L85.39 51.57L86.65 51.59L87.65 51.95L88.13 52.55L87.96 53.24Z" fill="#1020d0" stroke="#3a8ae8" stroke-width="0.4"/></g><g transform="translate(370.3 0)"><g fill="#161616" font-family="DejaVu Sans, Liberation Sans, sans-serif"><text x="88" y="13.8" font-size="5" text-anchor="middle" >0</text><text x="116.8" y="14.8" font-size="5" text-anchor="middle" >m</text><text x="110.8" y="28" font-size="5" text-anchor="middle" >0.05</text><text x="130.7" y="42.1" font-size="5" text-anchor="middle" >0.1</text><text x="136.8" y="48" font-size="5" text-anchor="middle" >0.05</text><text x="135.3" y="76.7" font-size="5" text-anchor="middle" >0</text><text x="143.2" y="106.2" font-size="5" text-anchor="middle" >&#8722;0.05</text><text x="134.7" y="115.4" font-size="5" text-anchor="middle" >0.05</text><text x="104.9" y="128.7" font-size="5" text-anchor="middle" >0</text><text x="79.6" y="141.8" font-size="5" text-anchor="middle" >&#8722;0.05</text><text x="152.6" y="76.7" font-size="4.4" text-anchor="middle" >m</text><text x="89.2" y="8.2" font-size="5.15" text-anchor="middle" >Surface: Pressure (bar)</text><text x="6.2" y="118.2" font-size="4.5" text-anchor="middle" >y</text><text x="16.9" y="123.9" font-size="4.5" text-anchor="middle" >x</text><text x="14.4" y="133.8" font-size="4.5" text-anchor="middle" >z</text></g><g stroke-width="0.7" fill="none" transform="translate(7.5 126.5)"><path d="M0 0L-1 -6.7" stroke="#4a4"/><path d="M0 0L7 -3.3" stroke="#d22a50"/><path d="M0 0L5 3.3" stroke="#2878b0"/><path d="M-.7 -4.6L-1 -6.9" stroke="#3a3" stroke-width="1"/><path d="M4.9 -2.3L7.2 -3.4" stroke="#d22a50" stroke-width="1"/><path d="M3.4 2.25L5.2 3.45" stroke="#2878b0" stroke-width="1"/></g><text x="89.7" y="156.6" font-size="14.6" text-anchor="middle" font-family="Liberation Serif, serif" fill="#111">(<tspan font-weight="bold">c</tspan>)</text></g><g fill="#161616" font-family="DejaVu Sans, Liberation Sans, sans-serif"><rect x="526.8" y="23" width="6.8" height="103.8" fill="url(#g316)" stroke="#333" stroke-width="0.4"/><text x="536" y="128.6" font-size="4.8" text-anchor="start" >1</text><text x="536" y="118.2" font-size="4.8" text-anchor="start" >1.5</text><text x="536" y="107.8" font-size="4.8" text-anchor="start" >2</text><text x="536" y="97.4" font-size="4.8" text-anchor="start" >2.5</text><text x="536" y="87" font-size="4.8" text-anchor="start" >3</text><text x="536" y="76.7" font-size="4.8" text-anchor="start" >3.5</text><text x="536" y="66.3" font-size="4.8" text-anchor="start" >4</text><text x="536" y="55.9" font-size="4.8" text-anchor="start" >4.5</text><text x="536" y="45.5" font-size="4.8" text-anchor="start" >5</text><text x="536" y="35.1" font-size="4.8" text-anchor="start" >5.5</text><text x="536" y="24.8" font-size="4.8" text-anchor="start" >6</text><path d="M526.8 126.8h1M533.5 126.8h-1M526.8 116.4h1M533.5 116.4h-1M526.8 106h1M533.5 106h-1M526.8 95.7h1M533.5 95.7h-1M526.8 85.3h1M533.5 85.3h-1M526.8 74.9h1M533.5 74.9h-1M526.8 64.5h1M533.5 64.5h-1M526.8 54.1h1M533.5 54.1h-1M526.8 43.8h1M533.5 43.8h-1M526.8 33.4h1M533.5 33.4h-1M526.8 23h1M533.5 23h-1" stroke="#222" stroke-width="0.3"/></g>
<g transform="translate(0 0)"><path d="M35 259.5L26.2 204.2L81 175L82 232M35 259.5L52 251.5M84.5 175.5L125 201.5L133.5 257.5L123 251.5M84.5 175.5L86.5 215M105.7 189L107 216M129.3 230L124 228M54 255L37.5 263L78 290.5L131.5 261.5L122 256.5M58 277L82 265.5M102 277.5L92 271" stroke="#909090" stroke-width="0.45" fill="none"/></g><g transform="matrix(0.98 0 0 0.956 4 160)"><g stroke-width="0.5" clip-path="url(#c317)"><path d="M37.2 89.5L39.2 90.7L81 119.6L79 118.3Z" fill="url(#g318)" stroke="url(#g318)"/><path d="M38.6 90.3L40.7 91.4L82.6 120.3L80.4 119.2Z" fill="url(#g319)" stroke="url(#g319)"/><path d="M40.1 91.1L42.3 91.9L84.2 120.8L82 120Z" fill="url(#g320)" stroke="url(#g320)"/><path d="M41.6 91.7L43.9 92.3L85.9 121.2L83.6 120.6Z" fill="url(#g321)" stroke="url(#g321)"/><path d="M43.3 92.2L45.7 92.6L87.7 121.5L85.2 121.1Z" fill="url(#g322)" stroke="url(#g322)"/><path d="M45 92.5L47.4 92.6L89.5 121.6L87 121.4Z" fill="url(#g323)" stroke="url(#g323)"/><path d="M46.7 92.6L49.2 92.6L91.4 121.5L88.8 121.6Z" fill="url(#g324)" stroke="url(#g324)"/><path d="M48.5 92.6L51.1 92.4L93.3 121.3L90.6 121.6Z" fill="url(#g325)" stroke="url(#g325)"/><path d="M50.3 92.5L53 92L95.2 121L92.5 121.4Z" fill="url(#g326)" stroke="url(#g326)"/><path d="M52.2 92.2L54.9 91.5L97.1 120.4L94.4 121.1Z" fill="url(#g327)" stroke="url(#g327)"/><path d="M54.1 91.7L56.8 90.9L99.1 119.8L96.3 120.7Z" fill="url(#g328)" stroke="url(#g328)"/><path d="M56 91.1L58.7 90L101 118.9L98.3 120Z" fill="url(#g329)" stroke="url(#g329)"/><path d="M57.9 90.4L60.5 89.1L102.9 118L100.2 119.3Z" fill="url(#g330)" stroke="url(#g330)"/><path d="M59.8 89.5L62.4 88L104.9 116.9L102.2 118.4Z" fill="url(#g331)" stroke="url(#g331)"/><path d="M61.7 88.5L64.2 86.8L106.7 115.6L104.1 117.3Z" fill="url(#g332)" stroke="url(#g332)"/><path d="M63.5 87.3L66 85.5L108.6 114.3L106 116.1Z" fill="url(#g333)" stroke="url(#g333)"/><path d="M65.3 86L67.8 84L110.4 112.8L107.9 114.8Z" fill="url(#g334)" stroke="url(#g334)"/><path d="M67.1 84.6L69.5 82.5L112.1 111.2L109.7 113.4Z" fill="url(#g335)" stroke="url(#g335)"/><path d="M68.8 83.1L71.1 80.8L113.8 109.5L111.4 111.8Z" fill="url(#g336)" stroke="url(#g336)"/><path d="M70.5 81.5L72.7 79.1L115.4 107.7L113.1 110.2Z" fill="url(#g337)" stroke="url(#g337)"/><path d="M72.1 79.8L74.2 77.2L116.9 105.8L114.8 108.4Z" fill="url(#g338)" stroke="url(#g338)"/><path d="M73.6 78L75.6 75.3L118.4 103.8L116.3 106.5Z" fill="url(#g339)" stroke="url(#g339)"/><path d="M75 76.1L76.9 73.3L119.7 101.8L117.8 104.6Z" fill="url(#g340)" stroke="url(#g340)"/><path d="M76.4 74.1L78.1 71.3L120.9 99.7L119.2 102.6Z" fill="url(#g341)" stroke="url(#g341)"/><path d="M77.6 72.1L79.2 69.2L122.1 97.5L120.5 100.5Z" fill="url(#g342)" stroke="url(#g342)"/><path d="M78.8 70L80.2 67L123.1 95.3L121.6 98.4Z" fill="url(#g343)" stroke="url(#g343)"/><path d="M79.8 67.9L81.1 64.9L124 93.1L122.7 96.2Z" fill="url(#g344)" stroke="url(#g344)"/><path d="M80.7 65.7L81.8 62.7L124.8 90.8L123.6 94Z" fill="url(#g345)" stroke="url(#g345)"/><path d="M81.5 63.5L82.4 60.5L125.4 88.6L124.5 91.7Z" fill="url(#g346)" stroke="url(#g346)"/><path d="M82.2 61.4L82.9 58.3L125.9 86.4L125.2 89.5Z" fill="url(#g347)" stroke="url(#g347)"/><path d="M82.8 59.2L83.3 56.1L126.3 84.1L125.7 87.2Z" fill="url(#g348)" stroke="url(#g348)"/><path d="M83.2 57L83.6 54L126.6 81.9L126.2 85Z" fill="url(#g349)" stroke="url(#g349)"/><path d="M83.5 54.8L83.7 51.8L126.7 79.7L126.5 82.8Z" fill="url(#g350)" stroke="url(#g350)"/><path d="M83.7 52.7L83.7 49.8L126.7 77.6L126.7 80.6Z" fill="url(#g351)" stroke="url(#g351)"/><path d="M83.7 50.6L83.5 47.8L126.5 75.6L126.7 78.5Z" fill="url(#g352)" stroke="url(#g352)"/><path d="M83.6 48.6L83.2 45.8L126.2 73.6L126.6 76.4Z" fill="url(#g353)" stroke="url(#g353)"/><path d="M83.4 46.6L82.8 43.9L125.8 71.6L126.4 74.3Z" fill="url(#g354)" stroke="url(#g354)"/><path d="M83 44.7L82.3 42.1L125.3 69.8L126 72.4Z" fill="url(#g355)" stroke="url(#g355)"/><path d="M82.5 42.8L81.6 40.4L124.6 68L125.5 70.5Z" fill="url(#g356)" stroke="url(#g356)"/><path d="M81.9 41.1L80.9 38.8L123.8 66.4L124.9 68.7Z" fill="url(#g357)" stroke="url(#g357)"/><path d="M81.2 39.5L80 37.3L122.9 64.9L124.1 67.1Z" fill="url(#g358)" stroke="url(#g358)"/><path d="M80.3 37.9L78.9 36L121.8 63.5L123.2 65.5Z" fill="url(#g359)" stroke="url(#g359)"/><path d="M79.4 36.5L77.8 34.7L120.7 62.2L122.2 64Z" fill="url(#g360)" stroke="url(#g360)"/><path d="M78.3 35.2L76.6 33.6L119.4 61L121.1 62.7Z" fill="url(#g361)" stroke="url(#g361)"/><path d="M77.1 34L75.3 32.6L118 60L119.9 61.5Z" fill="url(#g362)" stroke="url(#g362)"/><path d="M75.8 33L74.4 32.1L117.2 59.5L118.6 60.4Z" fill="url(#g363)" stroke="url(#g363)"/><path d="M37.8 89.9L39.4 90.8L41.1 91.5L43 92.1L44.9 92.5L46.8 92.6L48.9 92.6L51 92.4L53.1 92L55.2 91.4L57.4 90.6L59.5 89.6L61.6 88.5L63.7 87.2L65.7 85.7L67.7 84.1L69.6 82.3L71.5 80.5L73.2 78.4L74.8 76.3L76.4 74.1L77.8 71.8L79 69.5L80.2 67L81.1 64.6L82 62.1L82.6 59.7L83.2 57.2L83.5 54.8L83.7 52.4L83.7 50L83.5 47.7L83.2 45.5L82.7 43.4L82.1 41.5L81.2 39.6L80.3 37.9L79.2 36.3L77.9 34.8L76.5 33.5L75 32.4L117.8 59.8L119.3 61L120.8 62.3L122 63.8L123.2 65.4L124.2 67.2L125 69.1L125.7 71.1L126.2 73.3L126.5 75.5L126.7 77.9L126.7 80.3L126.5 82.7L126.1 85.2L125.6 87.8L124.9 90.3L124.1 92.8L123.1 95.3L121.9 97.8L120.6 100.2L119.2 102.6L117.6 104.9L115.9 107L114.2 109.1L112.3 111L110.3 112.8L108.3 114.5L106.2 116L104 117.4L101.9 118.5L99.7 119.5L97.5 120.3L95.3 120.9L93.1 121.3L91 121.6L88.9 121.6L86.9 121.4L84.9 121L83 120.5L81.3 119.7L79.6 118.7Z" fill="url(#g364)"/><path d="M70.5 81.5L113.1 110.2M82.9 58.6L125.9 86.6" stroke="#fff" stroke-width="0.4" fill="none" stroke-opacity="0.45"/></g><g stroke-width="0.5"><path d="M75.4 32.7L73.4 31.5L116.2 58.9L118.2 60.1Z" fill="url(#g365)" stroke="url(#g365)"/><path d="M74 31.8L71.9 30.9L114.6 58.2L116.8 59.2Z" fill="url(#g366)" stroke="url(#g366)"/><path d="M72.5 31.1L70.3 30.3L113 57.7L115.2 58.5Z" fill="url(#g367)" stroke="url(#g367)"/><path d="M71 30.5L68.7 30L111.3 57.3L113.6 57.9Z" fill="url(#g368)" stroke="url(#g368)"/><path d="M69.3 30.1L67 29.7L109.5 57.1L112 57.4Z" fill="url(#g369)" stroke="url(#g369)"/><path d="M67.6 29.8L65.2 29.7L107.7 57L110.2 57.1Z" fill="url(#g370)" stroke="url(#g370)"/><path d="M65.9 29.7L63.4 29.7L105.9 57.1L108.4 57Z" fill="url(#g371)" stroke="url(#g371)"/><path d="M64.1 29.7L61.5 29.9L104 57.3L106.6 57Z" fill="url(#g372)" stroke="url(#g372)"/><path d="M62.3 29.8L59.7 30.3L102.1 57.7L104.7 57.2Z" fill="url(#g373)" stroke="url(#g373)"/><path d="M60.4 30.2L57.8 30.8L100.1 58.2L102.8 57.5Z" fill="url(#g374)" stroke="url(#g374)"/><path d="M58.5 30.6L55.9 31.5L98.2 58.9L100.9 58Z" fill="url(#g375)" stroke="url(#g375)"/><path d="M56.7 31.2L54 32.3L96.3 59.7L99 58.6Z" fill="url(#g376)" stroke="url(#g376)"/><path d="M54.8 32L52.1 33.3L94.3 60.7L97 59.4Z" fill="url(#g377)" stroke="url(#g377)"/><path d="M52.9 32.9L50.3 34.3L92.4 61.8L95.1 60.3Z" fill="url(#g378)" stroke="url(#g378)"/><path d="M51 33.9L48.5 35.5L90.6 63L93.2 61.3Z" fill="url(#g379)" stroke="url(#g379)"/><path d="M49.2 35L46.7 36.9L88.7 64.4L91.3 62.5Z" fill="url(#g380)" stroke="url(#g380)"/><path d="M47.4 36.3L44.9 38.3L87 65.9L89.5 63.8Z" fill="url(#g381)" stroke="url(#g381)"/><path d="M45.6 37.7L43.3 39.9L85.2 67.5L87.7 65.3Z" fill="url(#g382)" stroke="url(#g382)"/><path d="M43.9 39.2L41.6 41.5L83.6 69.2L85.9 66.8Z" fill="url(#g383)" stroke="url(#g383)"/><path d="M42.3 40.8L40.1 43.3L82 70.9L84.2 68.5Z" fill="url(#g384)" stroke="url(#g384)"/><path d="M40.7 42.6L38.6 45.1L80.5 72.8L82.6 70.2Z" fill="url(#g385)" stroke="url(#g385)"/><path d="M39.2 44.4L37.2 47L79 74.8L81 72.1Z" fill="url(#g386)" stroke="url(#g386)"/><path d="M37.8 46.2L35.9 49L77.7 76.8L79.6 74Z" fill="url(#g387)" stroke="url(#g387)"/><path d="M36.4 48.2L34.7 51L76.5 78.9L78.2 76Z" fill="url(#g388)" stroke="url(#g388)"/><path d="M35.2 50.2L33.6 53.1L75.3 81L77 78.1Z" fill="url(#g389)" stroke="url(#g389)"/><path d="M34.1 52.3L32.6 55.2L74.3 83.2L75.8 80.2Z" fill="url(#g390)" stroke="url(#g390)"/><path d="M33 54.4L31.8 57.4L73.4 85.4L74.7 82.4Z" fill="url(#g391)" stroke="url(#g391)"/><path d="M32.1 56.5L31 59.6L72.7 87.7L73.8 84.5Z" fill="url(#g392)" stroke="url(#g392)"/><path d="M31.3 58.7L30.4 61.7L72 89.9L73 86.8Z" fill="url(#g393)" stroke="url(#g393)"/><path d="M30.6 60.9L29.9 63.9L71.5 92.1L72.3 89Z" fill="url(#g394)" stroke="url(#g394)"/><path d="M30.1 63L29.5 66.1L71.1 94.3L71.7 91.2Z" fill="url(#g395)" stroke="url(#g395)"/><path d="M29.6 65.2L29.2 68.2L70.8 96.5L71.2 93.5Z" fill="url(#g396)" stroke="url(#g396)"/><path d="M29.3 67.4L29.1 70.3L70.7 98.7L70.9 95.7Z" fill="url(#g397)" stroke="url(#g397)"/><path d="M29.1 69.5L29.1 72.4L70.7 100.8L70.7 97.8Z" fill="url(#g398)" stroke="url(#g398)"/><path d="M29.1 71.6L29.3 74.4L70.9 102.9L70.7 100Z" fill="url(#g399)" stroke="url(#g399)"/><path d="M29.2 73.6L29.5 76.3L71.1 104.9L70.8 102Z" fill="url(#g400)" stroke="url(#g400)"/><path d="M29.4 75.6L29.9 78.2L71.5 106.8L71 104.1Z" fill="url(#g401)" stroke="url(#g401)"/><path d="M29.7 77.5L30.4 80L72.1 108.6L71.4 106Z" fill="url(#g402)" stroke="url(#g402)"/><path d="M30.2 79.3L31.1 81.7L72.7 110.4L71.8 107.9Z" fill="url(#g403)" stroke="url(#g403)"/><path d="M30.8 81L31.9 83.3L73.5 112L72.5 109.7Z" fill="url(#g404)" stroke="url(#g404)"/><path d="M31.5 82.7L32.7 84.8L74.4 113.5L73.2 111.4Z" fill="url(#g405)" stroke="url(#g405)"/><path d="M32.4 84.2L33.7 86.2L75.5 114.9L74.1 112.9Z" fill="url(#g406)" stroke="url(#g406)"/><path d="M33.3 85.6L34.8 87.4L76.6 116.2L75 114.4Z" fill="url(#g407)" stroke="url(#g407)"/><path d="M34.4 86.9L36.1 88.6L77.8 117.4L76.1 115.7Z" fill="url(#g408)" stroke="url(#g408)"/><path d="M35.6 88.1L37.4 89.6L79.2 118.4L77.3 117Z" fill="url(#g409)" stroke="url(#g409)"/><path d="M36.8 89.2L38.2 90.1L80 119L78.6 118Z" fill="url(#g410)" stroke="url(#g410)"/></g><path d="M75 32.4L73.4 31.5L71.7 30.8L69.8 30.2L67.9 29.8L66 29.7L63.9 29.7L61.8 29.9L59.7 30.3L57.6 30.9L55.4 31.7L53.3 32.7L51.2 33.8L49.1 35.1L47.1 36.6L45.1 38.2L43.2 40L41.3 41.8L39.6 43.9L38 46L36.4 48.2L35 50.5L33.8 52.8L32.6 55.3L31.7 57.7L30.8 60.2L30.2 62.6L29.6 65.1L29.3 67.5L29.1 69.9L29.1 72.3L29.3 74.6L29.6 76.8L30.1 78.9L30.7 80.8L31.6 82.7L32.5 84.4L33.6 86L34.9 87.5L36.3 88.8L37.8 89.9L79.6 118.7L78.1 117.6L76.6 116.3L75.4 114.8L74.2 113.2L73.2 111.4L72.4 109.5L71.7 107.5L71.2 105.3L70.9 103L70.7 100.7L70.7 98.3L70.9 95.8L71.3 93.3L71.8 90.8L72.5 88.3L73.3 85.7L74.3 83.2L75.5 80.8L76.8 78.4L78.2 76L79.8 73.7L81.5 71.6L83.2 69.5L85.1 67.6L87.1 65.7L89.1 64.1L91.2 62.6L93.4 61.2L95.5 60.1L97.7 59.1L99.9 58.3L102.1 57.7L104.3 57.2L106.4 57L108.5 57L110.5 57.2L112.5 57.6L114.4 58.1L116.1 58.9L117.8 59.8Z" fill="url(#g411)"/><path d="M126.7 78.9L126.6 76.3L126.3 73.8L125.7 71.4L125 69.1L124.1 67L122.9 65L121.6 63.3L120.1 61.7L118.5 60.3L116.7 59.2L114.8 58.3L112.7 57.6L110.5 57.2L108.3 57L105.9 57.1L103.6 57.4L101.1 57.9L98.7 58.7L96.3 59.7L93.8 61L91.5 62.4L89.1 64.1L86.9 65.9L84.7 68L82.6 70.2L80.7 72.5L78.9 75L77.3 77.6L75.8 80.2L74.5 83L73.3 85.7L72.4 88.6L71.7 91.4L71.1 94.2L70.8 96.9L70.7 99.7L70.8 102.3L71.1 104.8L71.7 107.2L72.4 109.5L73.3 111.6L74.5 113.6L75.8 115.3L77.3 116.9L78.9 118.3L80.7 119.4L82.6 120.3L84.7 121L86.9 121.4L89.1 121.6L91.5 121.5L93.8 121.2L96.3 120.7L98.7 119.9L101.1 118.9L103.6 117.6L105.9 116.2L108.3 114.5L110.5 112.6L112.7 110.6L114.8 108.4L116.7 106.1L118.5 103.6L120.1 101L121.6 98.4L122.9 95.6L124.1 92.8L125 90L125.7 87.2L126.3 84.4L126.6 81.6Z" fill="none" stroke="#0000a0" stroke-width="0.5"/><path d="M42.3 40.8L84.3 68.4M29.9 63.7L71.5 91.9" stroke="#fff" stroke-width="0.4" fill="none" stroke-opacity="0.45"/></g><g transform="translate(0 0)"><g fill="#161616" font-family="DejaVu Sans, Liberation Sans, sans-serif"><text x="87.8" y="171.3" font-size="5" text-anchor="middle" >0</text><text x="115.8" y="171.6" font-size="5" text-anchor="middle" >m</text><text x="110.2" y="184.8" font-size="5" text-anchor="middle" >0.05</text><text x="129.3" y="198.3" font-size="5" text-anchor="middle" >0.1</text><text x="135.5" y="204.2" font-size="5" text-anchor="middle" >0.05</text><text x="135.8" y="231.7" font-size="5" text-anchor="middle" >0</text><text x="144.7" y="260.3" font-size="5" text-anchor="middle" >&#8722;0.05</text><text x="137.6" y="269.8" font-size="5" text-anchor="middle" >0.05</text><text x="107.5" y="283.8" font-size="5" text-anchor="middle" >0</text><text x="83.2" y="298.5" font-size="5" text-anchor="middle" >&#8722;0.05</text><text x="151.9" y="232" font-size="4.4" text-anchor="middle" >m</text><text x="90.9" y="164.9" font-size="5.15" text-anchor="middle" >Surface: Pressure (bar)</text><text x="7.5" y="275.7" font-size="4.5" text-anchor="middle" >y</text><text x="18.2" y="281.4" font-size="4.5" text-anchor="middle" >x</text><text x="15.7" y="291.3" font-size="4.5" text-anchor="middle" >z</text></g><g stroke-width="0.7" fill="none" transform="translate(8.8 284)"><path d="M0 0L-1 -6.7" stroke="#4a4"/><path d="M0 0L7 -3.3" stroke="#d22a50"/><path d="M0 0L5 3.3" stroke="#2878b0"/><path d="M-.7 -4.6L-1 -6.9" stroke="#3a3" stroke-width="1"/><path d="M4.9 -2.3L7.2 -3.4" stroke="#d22a50" stroke-width="1"/><path d="M3.4 2.25L5.2 3.45" stroke="#2878b0" stroke-width="1"/></g><text x="89.7" y="313.5" font-size="14.6" text-anchor="middle" font-family="Liberation Serif, serif" fill="#111">(<tspan font-weight="bold">d</tspan>)</text></g><g fill="#161616" font-family="DejaVu Sans, Liberation Sans, sans-serif"><rect x="158.3" y="179.5" width="6.9" height="104.3" fill="url(#g412)" stroke="#333" stroke-width="0.4"/><text x="168.5" y="285.6" font-size="4.8" text-anchor="start" >1</text><text x="168.5" y="272.5" font-size="4.8" text-anchor="start" >1.5</text><text x="168.5" y="259.5" font-size="4.8" text-anchor="start" >2</text><text x="168.5" y="246.4" font-size="4.8" text-anchor="start" >2.5</text><text x="168.5" y="233.4" font-size="4.8" text-anchor="start" >3</text><text x="168.5" y="220.4" font-size="4.8" text-anchor="start" >3.5</text><text x="168.5" y="207.3" font-size="4.8" text-anchor="start" >4</text><text x="168.5" y="194.3" font-size="4.8" text-anchor="start" >4.5</text><text x="168.5" y="181.3" font-size="4.8" text-anchor="start" >5</text><path d="M158.3 283.8h1M165.2 283.8h-1M158.3 270.8h1M165.2 270.8h-1M158.3 257.7h1M165.2 257.7h-1M158.3 244.7h1M165.2 244.7h-1M158.3 231.7h1M165.2 231.7h-1M158.3 218.6h1M165.2 218.6h-1M158.3 205.6h1M165.2 205.6h-1M158.3 192.5h1M165.2 192.5h-1M158.3 179.5h1M165.2 179.5h-1" stroke="#222" stroke-width="0.3"/></g>
<g transform="translate(184.6 0)"><path d="M35 259.5L26.2 204.2L81 175L82 232M35 259.5L52 251.5M84.5 175.5L125 201.5L133.5 257.5L123 251.5M84.5 175.5L86.5 215M105.7 189L107 216M129.3 230L124 228M54 255L37.5 263L78 290.5L131.5 261.5L122 256.5M58 277L82 265.5M102 277.5L92 271" stroke="#909090" stroke-width="0.45" fill="none"/></g><g transform="matrix(0.98 0 0 0.956 188.5 160)"><g stroke-width="0.5" clip-path="url(#c413)"><path d="M37.2 89.5L39.2 90.7L81 119.6L79 118.3Z" fill="url(#g414)" stroke="url(#g414)"/><path d="M38.6 90.3L40.7 91.4L82.6 120.3L80.4 119.2Z" fill="url(#g415)" stroke="url(#g415)"/><path d="M40.1 91.1L42.3 91.9L84.2 120.8L82 120Z" fill="url(#g416)" stroke="url(#g416)"/><path d="M41.6 91.7L43.9 92.3L85.9 121.2L83.6 120.6Z" fill="url(#g417)" stroke="url(#g417)"/><path d="M43.3 92.2L45.7 92.6L87.7 121.5L85.2 121.1Z" fill="url(#g418)" stroke="url(#g418)"/><path d="M45 92.5L47.4 92.6L89.5 121.6L87 121.4Z" fill="url(#g419)" stroke="url(#g419)"/><path d="M46.7 92.6L49.2 92.6L91.4 121.5L88.8 121.6Z" fill="url(#g420)" stroke="url(#g420)"/><path d="M48.5 92.6L51.1 92.4L93.3 121.3L90.6 121.6Z" fill="url(#g421)" stroke="url(#g421)"/><path d="M50.3 92.5L53 92L95.2 121L92.5 121.4Z" fill="url(#g422)" stroke="url(#g422)"/><path d="M52.2 92.2L54.9 91.5L97.1 120.4L94.4 121.1Z" fill="url(#g423)" stroke="url(#g423)"/><path d="M54.1 91.7L56.8 90.9L99.1 119.8L96.3 120.7Z" fill="url(#g424)" stroke="url(#g424)"/><path d="M56 91.1L58.7 90L101 118.9L98.3 120Z" fill="url(#g425)" stroke="url(#g425)"/><path d="M57.9 90.4L60.5 89.1L102.9 118L100.2 119.3Z" fill="url(#g426)" stroke="url(#g426)"/><path d="M59.8 89.5L62.4 88L104.9 116.9L102.2 118.4Z" fill="url(#g427)" stroke="url(#g427)"/><path d="M61.7 88.5L64.2 86.8L106.7 115.6L104.1 117.3Z" fill="url(#g428)" stroke="url(#g428)"/><path d="M63.5 87.3L66 85.5L108.6 114.3L106 116.1Z" fill="url(#g429)" stroke="url(#g429)"/><path d="M65.3 86L67.8 84L110.4 112.8L107.9 114.8Z" fill="url(#g430)" stroke="url(#g430)"/><path d="M67.1 84.6L69.5 82.5L112.1 111.2L109.7 113.4Z" fill="url(#g431)" stroke="url(#g431)"/><path d="M68.8 83.1L71.1 80.8L113.8 109.5L111.4 111.8Z" fill="url(#g432)" stroke="url(#g432)"/><path d="M70.5 81.5L72.7 79.1L115.4 107.7L113.1 110.2Z" fill="url(#g433)" stroke="url(#g433)"/><path d="M72.1 79.8L74.2 77.2L116.9 105.8L114.8 108.4Z" fill="url(#g434)" stroke="url(#g434)"/><path d="M73.6 78L75.6 75.3L118.4 103.8L116.3 106.5Z" fill="url(#g435)" stroke="url(#g435)"/><path d="M75 76.1L76.9 73.3L119.7 101.8L117.8 104.6Z" fill="url(#g436)" stroke="url(#g436)"/><path d="M76.4 74.1L78.1 71.3L120.9 99.7L119.2 102.6Z" fill="url(#g437)" stroke="url(#g437)"/><path d="M77.6 72.1L79.2 69.2L122.1 97.5L120.5 100.5Z" fill="url(#g438)" stroke="url(#g438)"/><path d="M78.8 70L80.2 67L123.1 95.3L121.6 98.4Z" fill="url(#g439)" stroke="url(#g439)"/><path d="M79.8 67.9L81.1 64.9L124 93.1L122.7 96.2Z" fill="url(#g440)" stroke="url(#g440)"/><path d="M80.7 65.7L81.8 62.7L124.8 90.8L123.6 94Z" fill="url(#g441)" stroke="url(#g441)"/><path d="M81.5 63.5L82.4 60.5L125.4 88.6L124.5 91.7Z" fill="url(#g442)" stroke="url(#g442)"/><path d="M82.2 61.4L82.9 58.3L125.9 86.4L125.2 89.5Z" fill="url(#g443)" stroke="url(#g443)"/><path d="M82.8 59.2L83.3 56.1L126.3 84.1L125.7 87.2Z" fill="url(#g444)" stroke="url(#g444)"/><path d="M83.2 57L83.6 54L126.6 81.9L126.2 85Z" fill="url(#g445)" stroke="url(#g445)"/><path d="M83.5 54.8L83.7 51.8L126.7 79.7L126.5 82.8Z" fill="url(#g446)" stroke="url(#g446)"/><path d="M83.7 52.7L83.7 49.8L126.7 77.6L126.7 80.6Z" fill="url(#g447)" stroke="url(#g447)"/><path d="M83.7 50.6L83.5 47.8L126.5 75.6L126.7 78.5Z" fill="url(#g448)" stroke="url(#g448)"/><path d="M83.6 48.6L83.2 45.8L126.2 73.6L126.6 76.4Z" fill="url(#g449)" stroke="url(#g449)"/><path d="M83.4 46.6L82.8 43.9L125.8 71.6L126.4 74.3Z" fill="url(#g450)" stroke="url(#g450)"/><path d="M83 44.7L82.3 42.1L125.3 69.8L126 72.4Z" fill="url(#g451)" stroke="url(#g451)"/><path d="M82.5 42.8L81.6 40.4L124.6 68L125.5 70.5Z" fill="url(#g452)" stroke="url(#g452)"/><path d="M81.9 41.1L80.9 38.8L123.8 66.4L124.9 68.7Z" fill="url(#g453)" stroke="url(#g453)"/><path d="M81.2 39.5L80 37.3L122.9 64.9L124.1 67.1Z" fill="url(#g454)" stroke="url(#g454)"/><path d="M80.3 37.9L78.9 36L121.8 63.5L123.2 65.5Z" fill="url(#g455)" stroke="url(#g455)"/><path d="M79.4 36.5L77.8 34.7L120.7 62.2L122.2 64Z" fill="url(#g456)" stroke="url(#g456)"/><path d="M78.3 35.2L76.6 33.6L119.4 61L121.1 62.7Z" fill="url(#g457)" stroke="url(#g457)"/><path d="M77.1 34L75.3 32.6L118 60L119.9 61.5Z" fill="url(#g458)" stroke="url(#g458)"/><path d="M75.8 33L74.4 32.1L117.2 59.5L118.6 60.4Z" fill="url(#g459)" stroke="url(#g459)"/><path d="M37.8 89.9L39.4 90.8L41.1 91.5L43 92.1L44.9 92.5L46.8 92.6L48.9 92.6L51 92.4L53.1 92L55.2 91.4L57.4 90.6L59.5 89.6L61.6 88.5L63.7 87.2L65.7 85.7L67.7 84.1L69.6 82.3L71.5 80.5L73.2 78.4L74.8 76.3L76.4 74.1L77.8 71.8L79 69.5L80.2 67L81.1 64.6L82 62.1L82.6 59.7L83.2 57.2L83.5 54.8L83.7 52.4L83.7 50L83.5 47.7L83.2 45.5L82.7 43.4L82.1 41.5L81.2 39.6L80.3 37.9L79.2 36.3L77.9 34.8L76.5 33.5L75 32.4L117.8 59.8L119.3 61L120.8 62.3L122 63.8L123.2 65.4L124.2 67.2L125 69.1L125.7 71.1L126.2 73.3L126.5 75.5L126.7 77.9L126.7 80.3L126.5 82.7L126.1 85.2L125.6 87.8L124.9 90.3L124.1 92.8L123.1 95.3L121.9 97.8L120.6 100.2L119.2 102.6L117.6 104.9L115.9 107L114.2 109.1L112.3 111L110.3 112.8L108.3 114.5L106.2 116L104 117.4L101.9 118.5L99.7 119.5L97.5 120.3L95.3 120.9L93.1 121.3L91 121.6L88.9 121.6L86.9 121.4L84.9 121L83 120.5L81.3 119.7L79.6 118.7Z" fill="url(#g460)"/><path d="M70.5 81.5L113.1 110.2M82.9 58.6L125.9 86.6" stroke="#fff" stroke-width="0.4" fill="none" stroke-opacity="0.45"/></g><g stroke-width="0.5"><path d="M75.4 32.7L73.4 31.5L116.2 58.9L118.2 60.1Z" fill="url(#g461)" stroke="url(#g461)"/><path d="M74 31.8L71.9 30.9L114.6 58.2L116.8 59.2Z" fill="url(#g462)" stroke="url(#g462)"/><path d="M72.5 31.1L70.3 30.3L113 57.7L115.2 58.5Z" fill="url(#g463)" stroke="url(#g463)"/><path d="M71 30.5L68.7 30L111.3 57.3L113.6 57.9Z" fill="url(#g464)" stroke="url(#g464)"/><path d="M69.3 30.1L67 29.7L109.5 57.1L112 57.4Z" fill="url(#g465)" stroke="url(#g465)"/><path d="M67.6 29.8L65.2 29.7L107.7 57L110.2 57.1Z" fill="url(#g466)" stroke="url(#g466)"/><path d="M65.9 29.7L63.4 29.7L105.9 57.1L108.4 57Z" fill="url(#g467)" stroke="url(#g467)"/><path d="M64.1 29.7L61.5 29.9L104 57.3L106.6 57Z" fill="url(#g468)" stroke="url(#g468)"/><path d="M62.3 29.8L59.7 30.3L102.1 57.7L104.7 57.2Z" fill="url(#g469)" stroke="url(#g469)"/><path d="M60.4 30.2L57.8 30.8L100.1 58.2L102.8 57.5Z" fill="url(#g470)" stroke="url(#g470)"/><path d="M58.5 30.6L55.9 31.5L98.2 58.9L100.9 58Z" fill="url(#g471)" stroke="url(#g471)"/><path d="M56.7 31.2L54 32.3L96.3 59.7L99 58.6Z" fill="url(#g472)" stroke="url(#g472)"/><path d="M54.8 32L52.1 33.3L94.3 60.7L97 59.4Z" fill="url(#g473)" stroke="url(#g473)"/><path d="M52.9 32.9L50.3 34.3L92.4 61.8L95.1 60.3Z" fill="url(#g474)" stroke="url(#g474)"/><path d="M51 33.9L48.5 35.5L90.6 63L93.2 61.3Z" fill="url(#g475)" stroke="url(#g475)"/><path d="M49.2 35L46.7 36.9L88.7 64.4L91.3 62.5Z" fill="url(#g476)" stroke="url(#g476)"/><path d="M47.4 36.3L44.9 38.3L87 65.9L89.5 63.8Z" fill="url(#g477)" stroke="url(#g477)"/><path d="M45.6 37.7L43.3 39.9L85.2 67.5L87.7 65.3Z" fill="url(#g478)" stroke="url(#g478)"/><path d="M43.9 39.2L41.6 41.5L83.6 69.2L85.9 66.8Z" fill="url(#g479)" stroke="url(#g479)"/><path d="M42.3 40.8L40.1 43.3L82 70.9L84.2 68.5Z" fill="url(#g480)" stroke="url(#g480)"/><path d="M40.7 42.6L38.6 45.1L80.5 72.8L82.6 70.2Z" fill="url(#g481)" stroke="url(#g481)"/><path d="M39.2 44.4L37.2 47L79 74.8L81 72.1Z" fill="url(#g482)" stroke="url(#g482)"/><path d="M37.8 46.2L35.9 49L77.7 76.8L79.6 74Z" fill="url(#g483)" stroke="url(#g483)"/><path d="M36.4 48.2L34.7 51L76.5 78.9L78.2 76Z" fill="url(#g484)" stroke="url(#g484)"/><path d="M35.2 50.2L33.6 53.1L75.3 81L77 78.1Z" fill="url(#g485)" stroke="url(#g485)"/><path d="M34.1 52.3L32.6 55.2L74.3 83.2L75.8 80.2Z" fill="url(#g486)" stroke="url(#g486)"/><path d="M33 54.4L31.8 57.4L73.4 85.4L74.7 82.4Z" fill="url(#g487)" stroke="url(#g487)"/><path d="M32.1 56.5L31 59.6L72.7 87.7L73.8 84.5Z" fill="url(#g488)" stroke="url(#g488)"/><path d="M31.3 58.7L30.4 61.7L72 89.9L73 86.8Z" fill="url(#g489)" stroke="url(#g489)"/><path d="M30.6 60.9L29.9 63.9L71.5 92.1L72.3 89Z" fill="url(#g490)" stroke="url(#g490)"/><path d="M30.1 63L29.5 66.1L71.1 94.3L71.7 91.2Z" fill="url(#g491)" stroke="url(#g491)"/><path d="M29.6 65.2L29.2 68.2L70.8 96.5L71.2 93.5Z" fill="url(#g492)" stroke="url(#g492)"/><path d="M29.3 67.4L29.1 70.3L70.7 98.7L70.9 95.7Z" fill="url(#g493)" stroke="url(#g493)"/><path d="M29.1 69.5L29.1 72.4L70.7 100.8L70.7 97.8Z" fill="url(#g494)" stroke="url(#g494)"/><path d="M29.1 71.6L29.3 74.4L70.9 102.9L70.7 100Z" fill="url(#g495)" stroke="url(#g495)"/><path d="M29.2 73.6L29.5 76.3L71.1 104.9L70.8 102Z" fill="url(#g496)" stroke="url(#g496)"/><path d="M29.4 75.6L29.9 78.2L71.5 106.8L71 104.1Z" fill="url(#g497)" stroke="url(#g497)"/><path d="M29.7 77.5L30.4 80L72.1 108.6L71.4 106Z" fill="url(#g498)" stroke="url(#g498)"/><path d="M30.2 79.3L31.1 81.7L72.7 110.4L71.8 107.9Z" fill="url(#g499)" stroke="url(#g499)"/><path d="M30.8 81L31.9 83.3L73.5 112L72.5 109.7Z" fill="url(#g500)" stroke="url(#g500)"/><path d="M31.5 82.7L32.7 84.8L74.4 113.5L73.2 111.4Z" fill="url(#g501)" stroke="url(#g501)"/><path d="M32.4 84.2L33.7 86.2L75.5 114.9L74.1 112.9Z" fill="url(#g502)" stroke="url(#g502)"/><path d="M33.3 85.6L34.8 87.4L76.6 116.2L75 114.4Z" fill="url(#g503)" stroke="url(#g503)"/><path d="M34.4 86.9L36.1 88.6L77.8 117.4L76.1 115.7Z" fill="url(#g504)" stroke="url(#g504)"/><path d="M35.6 88.1L37.4 89.6L79.2 118.4L77.3 117Z" fill="url(#g505)" stroke="url(#g505)"/><path d="M36.8 89.2L38.2 90.1L80 119L78.6 118Z" fill="url(#g506)" stroke="url(#g506)"/></g><path d="M75 32.4L73.4 31.5L71.7 30.8L69.8 30.2L67.9 29.8L66 29.7L63.9 29.7L61.8 29.9L59.7 30.3L57.6 30.9L55.4 31.7L53.3 32.7L51.2 33.8L49.1 35.1L47.1 36.6L45.1 38.2L43.2 40L41.3 41.8L39.6 43.9L38 46L36.4 48.2L35 50.5L33.8 52.8L32.6 55.3L31.7 57.7L30.8 60.2L30.2 62.6L29.6 65.1L29.3 67.5L29.1 69.9L29.1 72.3L29.3 74.6L29.6 76.8L30.1 78.9L30.7 80.8L31.6 82.7L32.5 84.4L33.6 86L34.9 87.5L36.3 88.8L37.8 89.9L79.6 118.7L78.1 117.6L76.6 116.3L75.4 114.8L74.2 113.2L73.2 111.4L72.4 109.5L71.7 107.5L71.2 105.3L70.9 103L70.7 100.7L70.7 98.3L70.9 95.8L71.3 93.3L71.8 90.8L72.5 88.3L73.3 85.7L74.3 83.2L75.5 80.8L76.8 78.4L78.2 76L79.8 73.7L81.5 71.6L83.2 69.5L85.1 67.6L87.1 65.7L89.1 64.1L91.2 62.6L93.4 61.2L95.5 60.1L97.7 59.1L99.9 58.3L102.1 57.7L104.3 57.2L106.4 57L108.5 57L110.5 57.2L112.5 57.6L114.4 58.1L116.1 58.9L117.8 59.8Z" fill="url(#g507)"/><path d="M126.7 78.9L126.6 76.3L126.3 73.8L125.7 71.4L125 69.1L124.1 67L122.9 65L121.6 63.3L120.1 61.7L118.5 60.3L116.7 59.2L114.8 58.3L112.7 57.6L110.5 57.2L108.3 57L105.9 57.1L103.6 57.4L101.1 57.9L98.7 58.7L96.3 59.7L93.8 61L91.5 62.4L89.1 64.1L86.9 65.9L84.7 68L82.6 70.2L80.7 72.5L78.9 75L77.3 77.6L75.8 80.2L74.5 83L73.3 85.7L72.4 88.6L71.7 91.4L71.1 94.2L70.8 96.9L70.7 99.7L70.8 102.3L71.1 104.8L71.7 107.2L72.4 109.5L73.3 111.6L74.5 113.6L75.8 115.3L77.3 116.9L78.9 118.3L80.7 119.4L82.6 120.3L84.7 121L86.9 121.4L89.1 121.6L91.5 121.5L93.8 121.2L96.3 120.7L98.7 119.9L101.1 118.9L103.6 117.6L105.9 116.2L108.3 114.5L110.5 112.6L112.7 110.6L114.8 108.4L116.7 106.1L118.5 103.6L120.1 101L121.6 98.4L122.9 95.6L124.1 92.8L125 90L125.7 87.2L126.3 84.4L126.6 81.6Z" fill="none" stroke="#0000a0" stroke-width="0.5"/><path d="M42.3 40.8L84.3 68.4M29.9 63.7L71.5 91.9" stroke="#fff" stroke-width="0.4" fill="none" stroke-opacity="0.45"/></g><g transform="translate(184.6 0)"><g fill="#161616" font-family="DejaVu Sans, Liberation Sans, sans-serif"><text x="87.8" y="171.3" font-size="5" text-anchor="middle" >0</text><text x="115.8" y="171.6" font-size="5" text-anchor="middle" >m</text><text x="110.2" y="184.8" font-size="5" text-anchor="middle" >0.05</text><text x="129.3" y="198.3" font-size="5" text-anchor="middle" >0.1</text><text x="135.5" y="204.2" font-size="5" text-anchor="middle" >0.05</text><text x="135.8" y="231.7" font-size="5" text-anchor="middle" >0</text><text x="144.7" y="260.3" font-size="5" text-anchor="middle" >&#8722;0.05</text><text x="137.6" y="269.8" font-size="5" text-anchor="middle" >0.05</text><text x="107.5" y="283.8" font-size="5" text-anchor="middle" >0</text><text x="83.2" y="298.5" font-size="5" text-anchor="middle" >&#8722;0.05</text><text x="151.9" y="232" font-size="4.4" text-anchor="middle" >m</text><text x="90.9" y="164.9" font-size="5.15" text-anchor="middle" >Surface: Pressure (bar)</text><text x="7.5" y="275.7" font-size="4.5" text-anchor="middle" >y</text><text x="18.2" y="281.4" font-size="4.5" text-anchor="middle" >x</text><text x="15.7" y="291.3" font-size="4.5" text-anchor="middle" >z</text></g><g stroke-width="0.7" fill="none" transform="translate(8.8 284)"><path d="M0 0L-1 -6.7" stroke="#4a4"/><path d="M0 0L7 -3.3" stroke="#d22a50"/><path d="M0 0L5 3.3" stroke="#2878b0"/><path d="M-.7 -4.6L-1 -6.9" stroke="#3a3" stroke-width="1"/><path d="M4.9 -2.3L7.2 -3.4" stroke="#d22a50" stroke-width="1"/><path d="M3.4 2.25L5.2 3.45" stroke="#2878b0" stroke-width="1"/></g><text x="89.7" y="313.5" font-size="14.6" text-anchor="middle" font-family="Liberation Serif, serif" fill="#111">(<tspan font-weight="bold">e</tspan>)</text></g><g fill="#161616" font-family="DejaVu Sans, Liberation Sans, sans-serif"><rect x="343" y="180.2" width="6.5" height="103.9" fill="url(#g508)" stroke="#333" stroke-width="0.4"/><text x="352.5" y="286" font-size="4.8" text-anchor="start" >1</text><text x="352.5" y="274.8" font-size="4.8" text-anchor="start" >1.5</text><text x="352.5" y="263.7" font-size="4.8" text-anchor="start" >2</text><text x="352.5" y="252.6" font-size="4.8" text-anchor="start" >2.5</text><text x="352.5" y="241.5" font-size="4.8" text-anchor="start" >3</text><text x="352.5" y="230.4" font-size="4.8" text-anchor="start" >3.5</text><text x="352.5" y="219.3" font-size="4.8" text-anchor="start" >4</text><text x="352.5" y="208.2" font-size="4.8" text-anchor="start" >4.5</text><text x="352.5" y="197.1" font-size="4.8" text-anchor="start" >5</text><text x="352.5" y="186" font-size="4.8" text-anchor="start" >5.5</text><path d="M343 284.2h1M349.5 284.2h-1M343 273.1h1M349.5 273.1h-1M343 262h1M349.5 262h-1M343 250.9h1M349.5 250.9h-1M343 239.8h1M349.5 239.8h-1M343 228.7h1M349.5 228.7h-1M343 217.6h1M349.5 217.6h-1M343 206.5h1M349.5 206.5h-1M343 195.4h1M349.5 195.4h-1M343 184.2h1M349.5 184.2h-1" stroke="#222" stroke-width="0.3"/></g>
<g transform="translate(369.9 0)"><path d="M35 259.5L26.2 204.2L81 175L82 232M35 259.5L52 251.5M84.5 175.5L125 201.5L133.5 257.5L123 251.5M84.5 175.5L86.5 215M105.7 189L107 216M129.3 230L124 228M54 255L37.5 263L78 290.5L131.5 261.5L122 256.5M58 277L82 265.5M102 277.5L92 271" stroke="#909090" stroke-width="0.45" fill="none"/></g><g transform="matrix(0.98 0 0 0.956 374.3 160)"><g stroke-width="0.5" clip-path="url(#c509)"><path d="M37.2 89.5L39.2 90.7L81 119.6L79 118.3Z" fill="url(#g510)" stroke="url(#g510)"/><path d="M38.6 90.3L40.7 91.4L82.6 120.3L80.4 119.2Z" fill="url(#g511)" stroke="url(#g511)"/><path d="M40.1 91.1L42.3 91.9L84.2 120.8L82 120Z" fill="url(#g512)" stroke="url(#g512)"/><path d="M41.6 91.7L43.9 92.3L85.9 121.2L83.6 120.6Z" fill="url(#g513)" stroke="url(#g513)"/><path d="M43.3 92.2L45.7 92.6L87.7 121.5L85.2 121.1Z" fill="url(#g514)" stroke="url(#g514)"/><path d="M45 92.5L47.4 92.6L89.5 121.6L87 121.4Z" fill="url(#g515)" stroke="url(#g515)"/><path d="M46.7 92.6L49.2 92.6L91.4 121.5L88.8 121.6Z" fill="url(#g516)" stroke="url(#g516)"/><path d="M48.5 92.6L51.1 92.4L93.3 121.3L90.6 121.6Z" fill="url(#g517)" stroke="url(#g517)"/><path d="M50.3 92.5L53 92L95.2 121L92.5 121.4Z" fill="url(#g518)" stroke="url(#g518)"/><path d="M52.2 92.2L54.9 91.5L97.1 120.4L94.4 121.1Z" fill="url(#g519)" stroke="url(#g519)"/><path d="M54.1 91.7L56.8 90.9L99.1 119.8L96.3 120.7Z" fill="url(#g520)" stroke="url(#g520)"/><path d="M56 91.1L58.7 90L101 118.9L98.3 120Z" fill="url(#g521)" stroke="url(#g521)"/><path d="M57.9 90.4L60.5 89.1L102.9 118L100.2 119.3Z" fill="url(#g522)" stroke="url(#g522)"/><path d="M59.8 89.5L62.4 88L104.9 116.9L102.2 118.4Z" fill="url(#g523)" stroke="url(#g523)"/><path d="M61.7 88.5L64.2 86.8L106.7 115.6L104.1 117.3Z" fill="url(#g524)" stroke="url(#g524)"/><path d="M63.5 87.3L66 85.5L108.6 114.3L106 116.1Z" fill="url(#g525)" stroke="url(#g525)"/><path d="M65.3 86L67.8 84L110.4 112.8L107.9 114.8Z" fill="url(#g526)" stroke="url(#g526)"/><path d="M67.1 84.6L69.5 82.5L112.1 111.2L109.7 113.4Z" fill="url(#g527)" stroke="url(#g527)"/><path d="M68.8 83.1L71.1 80.8L113.8 109.5L111.4 111.8Z" fill="url(#g528)" stroke="url(#g528)"/><path d="M70.5 81.5L72.7 79.1L115.4 107.7L113.1 110.2Z" fill="url(#g529)" stroke="url(#g529)"/><path d="M72.1 79.8L74.2 77.2L116.9 105.8L114.8 108.4Z" fill="url(#g530)" stroke="url(#g530)"/><path d="M73.6 78L75.6 75.3L118.4 103.8L116.3 106.5Z" fill="url(#g531)" stroke="url(#g531)"/><path d="M75 76.1L76.9 73.3L119.7 101.8L117.8 104.6Z" fill="url(#g532)" stroke="url(#g532)"/><path d="M76.4 74.1L78.1 71.3L120.9 99.7L119.2 102.6Z" fill="url(#g533)" stroke="url(#g533)"/><path d="M77.6 72.1L79.2 69.2L122.1 97.5L120.5 100.5Z" fill="url(#g534)" stroke="url(#g534)"/><path d="M78.8 70L80.2 67L123.1 95.3L121.6 98.4Z" fill="url(#g535)" stroke="url(#g535)"/><path d="M79.8 67.9L81.1 64.9L124 93.1L122.7 96.2Z" fill="url(#g536)" stroke="url(#g536)"/><path d="M80.7 65.7L81.8 62.7L124.8 90.8L123.6 94Z" fill="url(#g537)" stroke="url(#g537)"/><path d="M81.5 63.5L82.4 60.5L125.4 88.6L124.5 91.7Z" fill="url(#g538)" stroke="url(#g538)"/><path d="M82.2 61.4L82.9 58.3L125.9 86.4L125.2 89.5Z" fill="url(#g539)" stroke="url(#g539)"/><path d="M82.8 59.2L83.3 56.1L126.3 84.1L125.7 87.2Z" fill="url(#g540)" stroke="url(#g540)"/><path d="M83.2 57L83.6 54L126.6 81.9L126.2 85Z" fill="url(#g541)" stroke="url(#g541)"/><path d="M83.5 54.8L83.7 51.8L126.7 79.7L126.5 82.8Z" fill="url(#g542)" stroke="url(#g542)"/><path d="M83.7 52.7L83.7 49.8L126.7 77.6L126.7 80.6Z" fill="url(#g543)" stroke="url(#g543)"/><path d="M83.7 50.6L83.5 47.8L126.5 75.6L126.7 78.5Z" fill="url(#g544)" stroke="url(#g544)"/><path d="M83.6 48.6L83.2 45.8L126.2 73.6L126.6 76.4Z" fill="url(#g545)" stroke="url(#g545)"/><path d="M83.4 46.6L82.8 43.9L125.8 71.6L126.4 74.3Z" fill="url(#g546)" stroke="url(#g546)"/><path d="M83 44.7L82.3 42.1L125.3 69.8L126 72.4Z" fill="url(#g547)" stroke="url(#g547)"/><path d="M82.5 42.8L81.6 40.4L124.6 68L125.5 70.5Z" fill="url(#g548)" stroke="url(#g548)"/><path d="M81.9 41.1L80.9 38.8L123.8 66.4L124.9 68.7Z" fill="url(#g549)" stroke="url(#g549)"/><path d="M81.2 39.5L80 37.3L122.9 64.9L124.1 67.1Z" fill="url(#g550)" stroke="url(#g550)"/><path d="M80.3 37.9L78.9 36L121.8 63.5L123.2 65.5Z" fill="url(#g551)" stroke="url(#g551)"/><path d="M79.4 36.5L77.8 34.7L120.7 62.2L122.2 64Z" fill="url(#g552)" stroke="url(#g552)"/><path d="M78.3 35.2L76.6 33.6L119.4 61L121.1 62.7Z" fill="url(#g553)" stroke="url(#g553)"/><path d="M77.1 34L75.3 32.6L118 60L119.9 61.5Z" fill="url(#g554)" stroke="url(#g554)"/><path d="M75.8 33L74.4 32.1L117.2 59.5L118.6 60.4Z" fill="url(#g555)" stroke="url(#g555)"/><path d="M37.8 89.9L39.4 90.8L41.1 91.5L43 92.1L44.9 92.5L46.8 92.6L48.9 92.6L51 92.4L53.1 92L55.2 91.4L57.4 90.6L59.5 89.6L61.6 88.5L63.7 87.2L65.7 85.7L67.7 84.1L69.6 82.3L71.5 80.5L73.2 78.4L74.8 76.3L76.4 74.1L77.8 71.8L79 69.5L80.2 67L81.1 64.6L82 62.1L82.6 59.7L83.2 57.2L83.5 54.8L83.7 52.4L83.7 50L83.5 47.7L83.2 45.5L82.7 43.4L82.1 41.5L81.2 39.6L80.3 37.9L79.2 36.3L77.9 34.8L76.5 33.5L75 32.4L117.8 59.8L119.3 61L120.8 62.3L122 63.8L123.2 65.4L124.2 67.2L125 69.1L125.7 71.1L126.2 73.3L126.5 75.5L126.7 77.9L126.7 80.3L126.5 82.7L126.1 85.2L125.6 87.8L124.9 90.3L124.1 92.8L123.1 95.3L121.9 97.8L120.6 100.2L119.2 102.6L117.6 104.9L115.9 107L114.2 109.1L112.3 111L110.3 112.8L108.3 114.5L106.2 116L104 117.4L101.9 118.5L99.7 119.5L97.5 120.3L95.3 120.9L93.1 121.3L91 121.6L88.9 121.6L86.9 121.4L84.9 121L83 120.5L81.3 119.7L79.6 118.7Z" fill="url(#g556)"/><path d="M70.5 81.5L113.1 110.2M82.9 58.6L125.9 86.6" stroke="#fff" stroke-width="0.4" fill="none" stroke-opacity="0.45"/></g><g stroke-width="0.5"><path d="M75.4 32.7L73.4 31.5L116.2 58.9L118.2 60.1Z" fill="url(#g557)" stroke="url(#g557)"/><path d="M74 31.8L71.9 30.9L114.6 58.2L116.8 59.2Z" fill="url(#g558)" stroke="url(#g558)"/><path d="M72.5 31.1L70.3 30.3L113 57.7L115.2 58.5Z" fill="url(#g559)" stroke="url(#g559)"/><path d="M71 30.5L68.7 30L111.3 57.3L113.6 57.9Z" fill="url(#g560)" stroke="url(#g560)"/><path d="M69.3 30.1L67 29.7L109.5 57.1L112 57.4Z" fill="url(#g561)" stroke="url(#g561)"/><path d="M67.6 29.8L65.2 29.7L107.7 57L110.2 57.1Z" fill="url(#g562)" stroke="url(#g562)"/><path d="M65.9 29.7L63.4 29.7L105.9 57.1L108.4 57Z" fill="url(#g563)" stroke="url(#g563)"/><path d="M64.1 29.7L61.5 29.9L104 57.3L106.6 57Z" fill="url(#g564)" stroke="url(#g564)"/><path d="M62.3 29.8L59.7 30.3L102.1 57.7L104.7 57.2Z" fill="url(#g565)" stroke="url(#g565)"/><path d="M60.4 30.2L57.8 30.8L100.1 58.2L102.8 57.5Z" fill="url(#g566)" stroke="url(#g566)"/><path d="M58.5 30.6L55.9 31.5L98.2 58.9L100.9 58Z" fill="url(#g567)" stroke="url(#g567)"/><path d="M56.7 31.2L54 32.3L96.3 59.7L99 58.6Z" fill="url(#g568)" stroke="url(#g568)"/><path d="M54.8 32L52.1 33.3L94.3 60.7L97 59.4Z" fill="url(#g569)" stroke="url(#g569)"/><path d="M52.9 32.9L50.3 34.3L92.4 61.8L95.1 60.3Z" fill="url(#g570)" stroke="url(#g570)"/><path d="M51 33.9L48.5 35.5L90.6 63L93.2 61.3Z" fill="url(#g571)" stroke="url(#g571)"/><path d="M49.2 35L46.7 36.9L88.7 64.4L91.3 62.5Z" fill="url(#g572)" stroke="url(#g572)"/><path d="M47.4 36.3L44.9 38.3L87 65.9L89.5 63.8Z" fill="url(#g573)" stroke="url(#g573)"/><path d="M45.6 37.7L43.3 39.9L85.2 67.5L87.7 65.3Z" fill="url(#g574)" stroke="url(#g574)"/><path d="M43.9 39.2L41.6 41.5L83.6 69.2L85.9 66.8Z" fill="url(#g575)" stroke="url(#g575)"/><path d="M42.3 40.8L40.1 43.3L82 70.9L84.2 68.5Z" fill="url(#g576)" stroke="url(#g576)"/><path d="M40.7 42.6L38.6 45.1L80.5 72.8L82.6 70.2Z" fill="url(#g577)" stroke="url(#g577)"/><path d="M39.2 44.4L37.2 47L79 74.8L81 72.1Z" fill="url(#g578)" stroke="url(#g578)"/><path d="M37.8 46.2L35.9 49L77.7 76.8L79.6 74Z" fill="url(#g579)" stroke="url(#g579)"/><path d="M36.4 48.2L34.7 51L76.5 78.9L78.2 76Z" fill="url(#g580)" stroke="url(#g580)"/><path d="M35.2 50.2L33.6 53.1L75.3 81L77 78.1Z" fill="url(#g581)" stroke="url(#g581)"/><path d="M34.1 52.3L32.6 55.2L74.3 83.2L75.8 80.2Z" fill="url(#g582)" stroke="url(#g582)"/><path d="M33 54.4L31.8 57.4L73.4 85.4L74.7 82.4Z" fill="url(#g583)" stroke="url(#g583)"/><path d="M32.1 56.5L31 59.6L72.7 87.7L73.8 84.5Z" fill="url(#g584)" stroke="url(#g584)"/><path d="M31.3 58.7L30.4 61.7L72 89.9L73 86.8Z" fill="url(#g585)" stroke="url(#g585)"/><path d="M30.6 60.9L29.9 63.9L71.5 92.1L72.3 89Z" fill="url(#g586)" stroke="url(#g586)"/><path d="M30.1 63L29.5 66.1L71.1 94.3L71.7 91.2Z" fill="url(#g587)" stroke="url(#g587)"/><path d="M29.6 65.2L29.2 68.2L70.8 96.5L71.2 93.5Z" fill="url(#g588)" stroke="url(#g588)"/><path d="M29.3 67.4L29.1 70.3L70.7 98.7L70.9 95.7Z" fill="url(#g589)" stroke="url(#g589)"/><path d="M29.1 69.5L29.1 72.4L70.7 100.8L70.7 97.8Z" fill="url(#g590)" stroke="url(#g590)"/><path d="M29.1 71.6L29.3 74.4L70.9 102.9L70.7 100Z" fill="url(#g591)" stroke="url(#g591)"/><path d="M29.2 73.6L29.5 76.3L71.1 104.9L70.8 102Z" fill="url(#g592)" stroke="url(#g592)"/><path d="M29.4 75.6L29.9 78.2L71.5 106.8L71 104.1Z" fill="url(#g593)" stroke="url(#g593)"/><path d="M29.7 77.5L30.4 80L72.1 108.6L71.4 106Z" fill="url(#g594)" stroke="url(#g594)"/><path d="M30.2 79.3L31.1 81.7L72.7 110.4L71.8 107.9Z" fill="url(#g595)" stroke="url(#g595)"/><path d="M30.8 81L31.9 83.3L73.5 112L72.5 109.7Z" fill="url(#g596)" stroke="url(#g596)"/><path d="M31.5 82.7L32.7 84.8L74.4 113.5L73.2 111.4Z" fill="url(#g597)" stroke="url(#g597)"/><path d="M32.4 84.2L33.7 86.2L75.5 114.9L74.1 112.9Z" fill="url(#g598)" stroke="url(#g598)"/><path d="M33.3 85.6L34.8 87.4L76.6 116.2L75 114.4Z" fill="url(#g599)" stroke="url(#g599)"/><path d="M34.4 86.9L36.1 88.6L77.8 117.4L76.1 115.7Z" fill="url(#g600)" stroke="url(#g600)"/><path d="M35.6 88.1L37.4 89.6L79.2 118.4L77.3 117Z" fill="url(#g601)" stroke="url(#g601)"/><path d="M36.8 89.2L38.2 90.1L80 119L78.6 118Z" fill="url(#g602)" stroke="url(#g602)"/></g><path d="M75 32.4L73.4 31.5L71.7 30.8L69.8 30.2L67.9 29.8L66 29.7L63.9 29.7L61.8 29.9L59.7 30.3L57.6 30.9L55.4 31.7L53.3 32.7L51.2 33.8L49.1 35.1L47.1 36.6L45.1 38.2L43.2 40L41.3 41.8L39.6 43.9L38 46L36.4 48.2L35 50.5L33.8 52.8L32.6 55.3L31.7 57.7L30.8 60.2L30.2 62.6L29.6 65.1L29.3 67.5L29.1 69.9L29.1 72.3L29.3 74.6L29.6 76.8L30.1 78.9L30.7 80.8L31.6 82.7L32.5 84.4L33.6 86L34.9 87.5L36.3 88.8L37.8 89.9L79.6 118.7L78.1 117.6L76.6 116.3L75.4 114.8L74.2 113.2L73.2 111.4L72.4 109.5L71.7 107.5L71.2 105.3L70.9 103L70.7 100.7L70.7 98.3L70.9 95.8L71.3 93.3L71.8 90.8L72.5 88.3L73.3 85.7L74.3 83.2L75.5 80.8L76.8 78.4L78.2 76L79.8 73.7L81.5 71.6L83.2 69.5L85.1 67.6L87.1 65.7L89.1 64.1L91.2 62.6L93.4 61.2L95.5 60.1L97.7 59.1L99.9 58.3L102.1 57.7L104.3 57.2L106.4 57L108.5 57L110.5 57.2L112.5 57.6L114.4 58.1L116.1 58.9L117.8 59.8Z" fill="url(#g603)"/><path d="M126.7 78.9L126.6 76.3L126.3 73.8L125.7 71.4L125 69.1L124.1 67L122.9 65L121.6 63.3L120.1 61.7L118.5 60.3L116.7 59.2L114.8 58.3L112.7 57.6L110.5 57.2L108.3 57L105.9 57.1L103.6 57.4L101.1 57.9L98.7 58.7L96.3 59.7L93.8 61L91.5 62.4L89.1 64.1L86.9 65.9L84.7 68L82.6 70.2L80.7 72.5L78.9 75L77.3 77.6L75.8 80.2L74.5 83L73.3 85.7L72.4 88.6L71.7 91.4L71.1 94.2L70.8 96.9L70.7 99.7L70.8 102.3L71.1 104.8L71.7 107.2L72.4 109.5L73.3 111.6L74.5 113.6L75.8 115.3L77.3 116.9L78.9 118.3L80.7 119.4L82.6 120.3L84.7 121L86.9 121.4L89.1 121.6L91.5 121.5L93.8 121.2L96.3 120.7L98.7 119.9L101.1 118.9L103.6 117.6L105.9 116.2L108.3 114.5L110.5 112.6L112.7 110.6L114.8 108.4L116.7 106.1L118.5 103.6L120.1 101L121.6 98.4L122.9 95.6L124.1 92.8L125 90L125.7 87.2L126.3 84.4L126.6 81.6Z" fill="none" stroke="#0000a0" stroke-width="0.5"/><path d="M42.3 40.8L84.3 68.4M29.9 63.7L71.5 91.9" stroke="#fff" stroke-width="0.4" fill="none" stroke-opacity="0.45"/></g><g transform="translate(369.9 0)"><g fill="#161616" font-family="DejaVu Sans, Liberation Sans, sans-serif"><text x="87.8" y="171.3" font-size="5" text-anchor="middle" >0</text><text x="115.8" y="171.6" font-size="5" text-anchor="middle" >m</text><text x="110.2" y="184.8" font-size="5" text-anchor="middle" >0.05</text><text x="129.3" y="198.3" font-size="5" text-anchor="middle" >0.1</text><text x="135.5" y="204.2" font-size="5" text-anchor="middle" >0.05</text><text x="135.8" y="231.7" font-size="5" text-anchor="middle" >0</text><text x="144.7" y="260.3" font-size="5" text-anchor="middle" >&#8722;0.05</text><text x="137.6" y="269.8" font-size="5" text-anchor="middle" >0.05</text><text x="107.5" y="283.8" font-size="5" text-anchor="middle" >0</text><text x="83.2" y="298.5" font-size="5" text-anchor="middle" >&#8722;0.05</text><text x="151.9" y="232" font-size="4.4" text-anchor="middle" >m</text><text x="90.9" y="164.9" font-size="5.15" text-anchor="middle" >Surface: Pressure (bar)</text><text x="7.5" y="275.7" font-size="4.5" text-anchor="middle" >y</text><text x="18.2" y="281.4" font-size="4.5" text-anchor="middle" >x</text><text x="15.7" y="291.3" font-size="4.5" text-anchor="middle" >z</text></g><g stroke-width="0.7" fill="none" transform="translate(8.8 284)"><path d="M0 0L-1 -6.7" stroke="#4a4"/><path d="M0 0L7 -3.3" stroke="#d22a50"/><path d="M0 0L5 3.3" stroke="#2878b0"/><path d="M-.7 -4.6L-1 -6.9" stroke="#3a3" stroke-width="1"/><path d="M4.9 -2.3L7.2 -3.4" stroke="#d22a50" stroke-width="1"/><path d="M3.4 2.25L5.2 3.45" stroke="#2878b0" stroke-width="1"/></g><text x="89.7" y="313.5" font-size="14.6" text-anchor="middle" font-family="Liberation Serif, serif" fill="#111">(<tspan font-weight="bold">f</tspan>)</text></g><g fill="#161616" font-family="DejaVu Sans, Liberation Sans, sans-serif"><rect x="528" y="179.6" width="6.8" height="104.2" fill="url(#g604)" stroke="#333" stroke-width="0.4"/><text x="537.2" y="285.6" font-size="4.8" text-anchor="start" >1</text><text x="537.2" y="275.1" font-size="4.8" text-anchor="start" >1.5</text><text x="537.2" y="264.7" font-size="4.8" text-anchor="start" >2</text><text x="537.2" y="254.3" font-size="4.8" text-anchor="start" >2.5</text><text x="537.2" y="243.9" font-size="4.8" text-anchor="start" >3</text><text x="537.2" y="233.5" font-size="4.8" text-anchor="start" >3.5</text><text x="537.2" y="223" font-size="4.8" text-anchor="start" >4</text><text x="537.2" y="212.6" font-size="4.8" text-anchor="start" >4.5</text><text x="537.2" y="202.2" font-size="4.8" text-anchor="start" >5</text><text x="537.2" y="191.8" font-size="4.8" text-anchor="start" >5.5</text><text x="537.2" y="181.4" font-size="4.8" text-anchor="start" >6</text><path d="M528 283.8h1M534.8 283.8h-1M528 273.4h1M534.8 273.4h-1M528 263h1M534.8 263h-1M528 252.5h1M534.8 252.5h-1M528 242.1h1M534.8 242.1h-1M528 231.7h1M534.8 231.7h-1M528 221.3h1M534.8 221.3h-1M528 210.9h1M534.8 210.9h-1M528 200.4h1M534.8 200.4h-1M528 190h1M534.8 190h-1M528 179.6h1M534.8 179.6h-1" stroke="#222" stroke-width="0.3"/></g>
</svg></body></html>
